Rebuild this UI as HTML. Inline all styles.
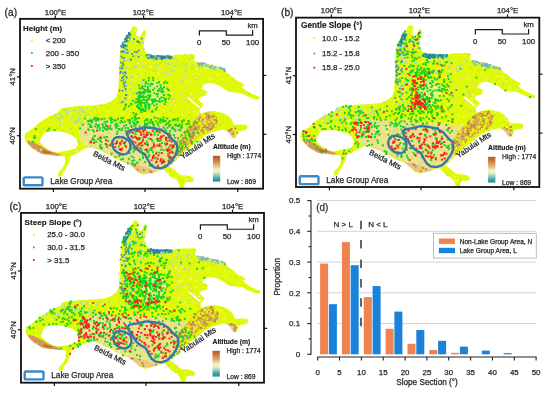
<!DOCTYPE html><html><head><meta charset="utf-8"><style>html,body{margin:0;padding:0;background:#fff;}svg{display:block}</style></head><body><svg width="550" height="394" viewBox="0 0 550 394"><defs><linearGradient id="cbar" x1="0" y1="0" x2="0" y2="1"><stop offset="0" stop-color="#b4581c"/><stop offset="0.22" stop-color="#d08a48"/><stop offset="0.42" stop-color="#ecc88e"/><stop offset="0.52" stop-color="#f8efc4"/><stop offset="0.6" stop-color="#eef4c6"/><stop offset="0.72" stop-color="#a6dac0"/><stop offset="0.86" stop-color="#4aa8a8"/><stop offset="1" stop-color="#1e8a92"/></linearGradient></defs><rect width="550" height="394" fill="#fff"/><g transform="translate(0.00 0.00)"><path d="M134.4,26.3 L137.2,27.6 L137.6,30.5 L136.2,32.5 L136.5,35.0 L138.5,37.0 L141.0,35.5 L142.5,32.0 L144.5,29.7 L145.8,31.5 L145.5,35.0 L144.0,40.3 L143.5,45.4 L144.6,50.5 L147.6,54.6 L152.7,55.6 L160.0,55.9 L171.8,55.9 L175.5,54.8 L193.6,54.3 L195.1,55.9 L193.6,61.0 L199.5,62.5 L203.8,63.3 L210.2,64.5 L216.5,66.4 L224.1,68.3 L226.7,72.8 L231.7,76.0 L236.8,80.4 L243.2,83.6 L244.4,85.5 L241.9,86.7 L245.7,90.5 L253.3,94.4 L259.7,96.9 L258.4,99.4 L253.3,98.8 L245.7,95.6 L241.9,93.1 L235.5,92.5 L227.9,91.8 L224.1,88.6 L219.0,85.5 L214.0,83.6 L208.9,82.9 L203.8,84.2 L201.0,88.8 L206.8,91.0 L206.1,95.4 L201.0,96.8 L198.1,99.0 L201.0,101.9 L203.5,104.0 L201.7,107.0 L199.5,109.5 L200.5,114.0 L207.8,111.6 L213.6,110.9 L222.8,113.0 L228.2,116.0 L231.5,119.0 L232.5,121.8 L234.0,124.8 L241.0,124.5 L246.0,124.7 L247.8,127.0 L245.7,130.0 L238.0,131.3 L236.0,137.8 L233.5,137.5 L232.0,131.5 L228.0,131.3 L222.8,129.5 L216.7,131.0 L210.0,133.0 L204.0,136.2 L196.3,142.8 L190.0,147.5 L185.0,151.5 L180.0,156.0 L176.7,160.0 L173.8,162.5 L169.5,166.5 L174.5,170.0 L178.0,173.5 L181.0,175.2 L186.0,175.5 L191.0,176.5 L193.8,178.5 L193.5,181.5 L190.0,182.2 L186.0,181.8 L184.5,184.0 L184.0,188.0 L180.0,188.0 L178.5,183.0 L176.0,179.5 L171.0,177.0 L167.0,173.0 L165.0,170.5 L162.2,169.5 L156.4,171.2 L149.1,173.4 L143.3,174.8 L137.5,171.9 L134.5,166.8 L128.7,163.9 L122.0,161.5 L114.0,157.5 L105.0,152.8 L98.0,149.5 L93.2,148.0 L88.6,147.5 L85.0,148.6 L80.0,151.5 L74.0,154.8 L70.5,156.2 L69.8,160.0 L67.8,165.0 L65.8,169.0 L63.0,172.0 L62.0,176.3 L58.2,176.6 L58.0,173.0 L62.0,169.0 L64.3,165.0 L65.2,160.0 L64.6,156.6 L62.2,156.2 L58.1,155.8 L50.5,154.5 L42.8,154.2 L39.0,151.0 L32.7,148.9 L30.2,145.7 L26.3,141.9 L24.4,137.9 L25.1,133.5 L30.2,130.3 L35.2,126.5 L39.0,122.7 L44.1,119.5 L49.2,116.3 L58.1,112.5 L61.3,108.5 L66.4,107.3 L79.1,106.0 L91.8,105.4 L104.5,104.1 L110.9,101.5 L116.0,97.7 L117.9,92.6 L118.5,85.0 L119.0,75.0 L119.6,62.0 L119.6,55.9 L121.2,45.1 L124.2,40.3 L126.8,35.2 L128.8,32.2 L131.3,30.2 L131.8,27.6 Z" fill="#dffa04"/><polygon points="41.6,137.0 43.5,133.5 47.0,132.0 53.0,131.3 61.9,131.6 71.1,134.8 76.1,138.5 77.8,142.0 77.7,145.5 75.0,148.8 67.8,150.6 62.3,151.6 58.0,152.6 51.7,151.4 45.0,147.2 39.5,141.7" fill="#fff"/><polygon points="80.0,126.0 92.0,121.0 105.0,120.0 118.0,123.0 130.0,121.0 145.0,124.0 160.0,124.0 176.0,126.0 190.0,128.0 198.0,132.0 190.0,142.0 182.0,150.0 176.0,160.0 170.0,167.0 158.0,170.0 145.0,174.0 137.0,171.0 128.0,163.0 112.0,156.0 98.0,149.0 86.0,146.0 79.0,138.0" fill="#efdca6" opacity="0.85"/><polygon points="175.0,151.0 177.0,141.0 183.0,132.0 191.0,124.0 197.0,117.0 204.0,113.0 212.0,112.5 217.0,117.0 217.0,125.0 211.0,130.0 203.0,134.0 195.0,139.0 188.0,145.0 183.0,151.0 179.0,157.0" fill="#d89a60" opacity="0.85"/><polygon points="226.0,130.0 231.0,128.8 235.0,131.0 234.5,138.5 232.0,137.5 229.0,133.0" fill="#dcaa70" opacity="0.7"/><polygon points="27.5,140.5 33.0,142.0 40.0,145.5 47.0,149.8 55.0,152.8 61.0,154.5 58.0,156.0 50.0,155.0 42.0,154.0 35.0,150.0 30.0,146.0 27.5,143.0" fill="#d49658"/><polygon points="128.0,163.0 138.0,165.0 146.0,167.0 152.0,170.0 158.0,171.0 150.0,173.5 140.0,173.0 133.0,168.0" fill="#e6b47e" opacity="0.6"/><polygon points="146.0,54.8 160.0,55.2 172.0,55.2 172.0,58.3 160.0,59.6 150.0,59.2 146.5,57.0" fill="#4a9ab4" opacity="0.6"/><polygon points="196.0,61.5 204.0,63.0 212.0,64.8 220.0,66.8 224.0,68.6 225.0,71.0 218.0,70.0 208.0,68.0 198.0,66.0" fill="#b0d8c0" opacity="0.45"/><g fill="#6fb4c0"><rect x="208.2" y="65.9" width="1.8" height="1.8"/><rect x="209.8" y="66.2" width="1.8" height="1.8"/><rect x="200.5" y="65.5" width="1.8" height="1.8"/><rect x="213.4" y="68.1" width="1.8" height="1.8"/><rect x="197.8" y="63.5" width="1.8" height="1.8"/><rect x="223.6" y="69.8" width="1.8" height="1.8"/><rect x="214.1" y="66.4" width="1.8" height="1.8"/><rect x="200.6" y="62.9" width="1.8" height="1.8"/><rect x="210.2" y="66.7" width="1.8" height="1.8"/><rect x="209.6" y="66.9" width="1.8" height="1.8"/><rect x="224.0" y="70.1" width="1.8" height="1.8"/><rect x="219.5" y="67.3" width="1.8" height="1.8"/><rect x="204.2" y="62.8" width="1.8" height="1.8"/><rect x="222.9" y="68.6" width="1.8" height="1.8"/><rect x="197.6" y="63.8" width="1.8" height="1.8"/><rect x="223.1" y="67.8" width="1.8" height="1.8"/><rect x="198.5" y="62.9" width="1.8" height="1.8"/><rect x="211.3" y="64.9" width="1.8" height="1.8"/><rect x="198.5" y="64.6" width="1.8" height="1.8"/><rect x="201.3" y="63.2" width="1.8" height="1.8"/><rect x="223.3" y="68.2" width="1.8" height="1.8"/><rect x="201.2" y="64.3" width="1.8" height="1.8"/><rect x="219.9" y="66.7" width="1.8" height="1.8"/><rect x="201.3" y="63.1" width="1.8" height="1.8"/><rect x="205.9" y="64.9" width="1.8" height="1.8"/><rect x="200.4" y="62.1" width="1.8" height="1.8"/><rect x="221.4" y="68.4" width="1.8" height="1.8"/><rect x="202.3" y="62.4" width="1.8" height="1.8"/><rect x="197.1" y="62.8" width="1.8" height="1.8"/><rect x="200.2" y="64.1" width="1.8" height="1.8"/></g><polygon points="121.5,45.5 124.3,40.0 127.0,35.3 129.0,32.5 131.0,35.0 129.0,40.0 126.0,45.0 123.0,49.0" fill="#4a9ab4" opacity="0.35"/><g fill="#1f86a8"><rect x="154.5" y="58.2" width="1.8" height="1.8"/><rect x="170.6" y="57.1" width="1.8" height="1.8"/><rect x="163.1" y="56.7" width="1.8" height="1.8"/><rect x="157.6" y="57.4" width="1.8" height="1.8"/><rect x="147.1" y="56.5" width="1.8" height="1.8"/><rect x="164.3" y="57.3" width="1.8" height="1.8"/><rect x="154.2" y="57.2" width="1.8" height="1.8"/><rect x="155.9" y="57.7" width="1.8" height="1.8"/><rect x="167.6" y="56.6" width="1.8" height="1.8"/><rect x="161.3" y="55.7" width="1.8" height="1.8"/><rect x="160.2" y="56.8" width="1.8" height="1.8"/><rect x="147.2" y="57.0" width="1.8" height="1.8"/><rect x="164.0" y="55.8" width="1.8" height="1.8"/><rect x="164.2" y="56.7" width="1.8" height="1.8"/><rect x="156.6" y="57.9" width="1.8" height="1.8"/><rect x="157.6" y="55.0" width="1.8" height="1.8"/><rect x="163.3" y="56.3" width="1.8" height="1.8"/><rect x="161.1" y="58.3" width="1.8" height="1.8"/><rect x="152.9" y="57.2" width="1.8" height="1.8"/><rect x="150.4" y="54.7" width="1.8" height="1.8"/><rect x="168.6" y="57.1" width="1.8" height="1.8"/><rect x="156.6" y="58.2" width="1.8" height="1.8"/><rect x="153.6" y="57.1" width="1.8" height="1.8"/><rect x="150.3" y="56.0" width="1.8" height="1.8"/><rect x="168.0" y="55.7" width="1.8" height="1.8"/><rect x="160.3" y="55.4" width="1.8" height="1.8"/><rect x="148.6" y="56.3" width="1.8" height="1.8"/><rect x="156.8" y="55.2" width="1.8" height="1.8"/><rect x="150.7" y="55.9" width="1.8" height="1.8"/><rect x="161.4" y="56.3" width="1.8" height="1.8"/><rect x="153.3" y="57.9" width="1.8" height="1.8"/><rect x="170.6" y="56.1" width="1.8" height="1.8"/><rect x="147.0" y="54.1" width="1.8" height="1.8"/><rect x="163.5" y="56.6" width="1.8" height="1.8"/><rect x="153.1" y="57.7" width="1.8" height="1.8"/><rect x="145.6" y="54.6" width="1.8" height="1.8"/><rect x="166.7" y="55.0" width="1.8" height="1.8"/><rect x="148.8" y="54.1" width="1.8" height="1.8"/><rect x="161.5" y="56.0" width="1.8" height="1.8"/><rect x="161.5" y="57.0" width="1.8" height="1.8"/><rect x="152.2" y="55.6" width="1.8" height="1.8"/><rect x="163.2" y="56.4" width="1.8" height="1.8"/><rect x="161.1" y="57.5" width="1.8" height="1.8"/><rect x="155.3" y="57.7" width="1.8" height="1.8"/><rect x="169.3" y="57.4" width="1.8" height="1.8"/><rect x="124.2" y="41.0" width="1.8" height="1.8"/><rect x="126.8" y="35.0" width="1.8" height="1.8"/><rect x="122.6" y="46.4" width="1.8" height="1.8"/><rect x="128.7" y="37.4" width="1.8" height="1.8"/><rect x="128.3" y="32.7" width="1.8" height="1.8"/><rect x="128.2" y="34.5" width="1.8" height="1.8"/><rect x="123.8" y="44.6" width="1.8" height="1.8"/><rect x="123.4" y="43.6" width="1.8" height="1.8"/><rect x="126.7" y="40.2" width="1.8" height="1.8"/><rect x="122.6" y="45.6" width="1.8" height="1.8"/><rect x="126.0" y="34.9" width="1.8" height="1.8"/><rect x="125.7" y="39.9" width="1.8" height="1.8"/><rect x="124.4" y="44.8" width="1.8" height="1.8"/><rect x="125.9" y="39.7" width="1.8" height="1.8"/><rect x="125.7" y="38.4" width="1.8" height="1.8"/><rect x="125.1" y="36.8" width="1.8" height="1.8"/><rect x="122.4" y="41.8" width="1.8" height="1.8"/><rect x="129.4" y="33.7" width="1.8" height="1.8"/><rect x="128.0" y="32.0" width="1.8" height="1.8"/><rect x="127.1" y="36.9" width="1.8" height="1.8"/><rect x="124.0" y="41.8" width="1.8" height="1.8"/><rect x="121.6" y="43.7" width="1.8" height="1.8"/><rect x="125.6" y="38.8" width="1.8" height="1.8"/><rect x="124.2" y="38.4" width="1.8" height="1.8"/><rect x="122.5" y="42.0" width="1.8" height="1.8"/><rect x="126.7" y="40.3" width="1.8" height="1.8"/><rect x="128.7" y="35.4" width="1.8" height="1.8"/><rect x="129.0" y="33.8" width="1.8" height="1.8"/><rect x="122.9" y="43.6" width="1.8" height="1.8"/><rect x="128.1" y="33.7" width="1.8" height="1.8"/><rect x="136.4" y="40.6" width="1.6" height="1.6"/><rect x="133.3" y="38.2" width="1.6" height="1.6"/><rect x="138.7" y="41.8" width="1.6" height="1.6"/><rect x="140.9" y="37.8" width="1.6" height="1.6"/><rect x="137.2" y="41.0" width="1.6" height="1.6"/><rect x="137.2" y="40.6" width="1.6" height="1.6"/></g><polygon points="141.0,88.0 147.0,82.0 154.0,80.0 162.0,83.0 166.0,89.0 164.0,97.0 160.0,104.0 153.0,108.0 146.0,109.0 141.0,100.0" fill="#eef0c4" opacity="0.6"/><g fill="#c4e43c" opacity="0.8"><rect x="153.6" y="108.6" width="1.7" height="1.7"/><rect x="132.0" y="149.0" width="1.7" height="1.7"/><rect x="144.8" y="94.8" width="1.7" height="1.7"/><rect x="198.6" y="90.8" width="1.7" height="1.7"/><rect x="172.2" y="90.7" width="1.7" height="1.7"/><rect x="165.1" y="106.8" width="1.7" height="1.7"/><rect x="204.8" y="90.9" width="1.7" height="1.7"/><rect x="174.4" y="126.2" width="1.7" height="1.7"/><rect x="181.0" y="79.9" width="1.7" height="1.7"/><rect x="179.5" y="117.4" width="1.7" height="1.7"/><rect x="149.1" y="88.3" width="1.7" height="1.7"/><rect x="168.8" y="144.8" width="1.7" height="1.7"/><rect x="153.2" y="107.4" width="1.7" height="1.7"/><rect x="164.6" y="148.1" width="1.7" height="1.7"/><rect x="248.0" y="93.3" width="1.7" height="1.7"/><rect x="147.6" y="122.0" width="1.7" height="1.7"/><rect x="178.4" y="116.0" width="1.7" height="1.7"/><rect x="89.2" y="141.2" width="1.7" height="1.7"/><rect x="124.2" y="102.5" width="1.7" height="1.7"/><rect x="194.6" y="101.0" width="1.7" height="1.7"/><rect x="171.0" y="99.0" width="1.7" height="1.7"/><rect x="127.4" y="133.3" width="1.7" height="1.7"/><rect x="130.5" y="67.6" width="1.7" height="1.7"/><rect x="160.9" y="93.1" width="1.7" height="1.7"/><rect x="207.9" y="111.1" width="1.7" height="1.7"/><rect x="197.4" y="63.8" width="1.7" height="1.7"/><rect x="209.4" y="126.4" width="1.7" height="1.7"/><rect x="185.6" y="116.7" width="1.7" height="1.7"/><rect x="163.2" y="127.7" width="1.7" height="1.7"/><rect x="153.3" y="127.4" width="1.7" height="1.7"/><rect x="110.7" y="102.7" width="1.7" height="1.7"/><rect x="215.4" y="126.2" width="1.7" height="1.7"/><rect x="123.0" y="67.0" width="1.7" height="1.7"/><rect x="99.2" y="114.0" width="1.7" height="1.7"/><rect x="123.8" y="85.0" width="1.7" height="1.7"/><rect x="156.6" y="103.7" width="1.7" height="1.7"/><rect x="185.6" y="73.6" width="1.7" height="1.7"/><rect x="72.3" y="132.4" width="1.7" height="1.7"/><rect x="195.1" y="137.6" width="1.7" height="1.7"/><rect x="107.0" y="142.8" width="1.7" height="1.7"/><rect x="191.4" y="117.4" width="1.7" height="1.7"/><rect x="213.9" y="74.5" width="1.7" height="1.7"/><rect x="67.9" y="116.5" width="1.7" height="1.7"/><rect x="212.4" y="112.7" width="1.7" height="1.7"/><rect x="221.9" y="116.3" width="1.7" height="1.7"/><rect x="151.7" y="117.1" width="1.7" height="1.7"/><rect x="152.4" y="152.8" width="1.7" height="1.7"/><rect x="41.5" y="127.9" width="1.7" height="1.7"/><rect x="176.9" y="64.9" width="1.7" height="1.7"/><rect x="74.1" y="149.1" width="1.7" height="1.7"/><rect x="146.3" y="149.0" width="1.7" height="1.7"/><rect x="139.6" y="112.2" width="1.7" height="1.7"/><rect x="194.2" y="139.9" width="1.7" height="1.7"/><rect x="240.7" y="91.7" width="1.7" height="1.7"/><rect x="146.9" y="140.2" width="1.7" height="1.7"/><rect x="122.1" y="48.8" width="1.7" height="1.7"/><rect x="48.7" y="130.1" width="1.7" height="1.7"/><rect x="77.6" y="141.3" width="1.7" height="1.7"/><rect x="163.9" y="61.4" width="1.7" height="1.7"/><rect x="96.0" y="114.0" width="1.7" height="1.7"/><rect x="137.0" y="61.0" width="1.7" height="1.7"/><rect x="147.8" y="108.7" width="1.7" height="1.7"/><rect x="179.0" y="63.6" width="1.7" height="1.7"/><rect x="110.3" y="154.2" width="1.7" height="1.7"/><rect x="192.3" y="123.3" width="1.7" height="1.7"/><rect x="85.1" y="111.8" width="1.7" height="1.7"/><rect x="136.4" y="101.1" width="1.7" height="1.7"/><rect x="226.9" y="74.3" width="1.7" height="1.7"/><rect x="151.6" y="110.3" width="1.7" height="1.7"/><rect x="133.3" y="141.0" width="1.7" height="1.7"/><rect x="107.5" y="136.5" width="1.7" height="1.7"/><rect x="191.6" y="63.6" width="1.7" height="1.7"/><rect x="156.5" y="99.4" width="1.7" height="1.7"/><rect x="169.0" y="72.2" width="1.7" height="1.7"/><rect x="111.4" y="112.6" width="1.7" height="1.7"/><rect x="115.3" y="133.2" width="1.7" height="1.7"/><rect x="196.7" y="78.5" width="1.7" height="1.7"/><rect x="194.9" y="78.9" width="1.7" height="1.7"/><rect x="183.8" y="139.9" width="1.7" height="1.7"/><rect x="222.0" y="121.2" width="1.7" height="1.7"/><rect x="143.9" y="130.0" width="1.7" height="1.7"/><rect x="117.3" y="138.5" width="1.7" height="1.7"/><rect x="179.6" y="123.7" width="1.7" height="1.7"/><rect x="103.3" y="130.6" width="1.7" height="1.7"/><rect x="143.4" y="152.9" width="1.7" height="1.7"/><rect x="219.2" y="124.2" width="1.7" height="1.7"/><rect x="105.8" y="106.2" width="1.7" height="1.7"/><rect x="171.7" y="57.2" width="1.7" height="1.7"/><rect x="159.5" y="138.1" width="1.7" height="1.7"/><rect x="151.6" y="116.0" width="1.7" height="1.7"/><rect x="155.6" y="68.0" width="1.7" height="1.7"/><rect x="217.4" y="122.6" width="1.7" height="1.7"/><rect x="79.0" y="118.1" width="1.7" height="1.7"/><rect x="179.2" y="75.0" width="1.7" height="1.7"/><rect x="182.2" y="144.7" width="1.7" height="1.7"/><rect x="112.7" y="121.0" width="1.7" height="1.7"/><rect x="145.9" y="67.9" width="1.7" height="1.7"/><rect x="157.5" y="78.9" width="1.7" height="1.7"/><rect x="133.9" y="91.8" width="1.7" height="1.7"/><rect x="170.9" y="136.8" width="1.7" height="1.7"/><rect x="119.3" y="95.5" width="1.7" height="1.7"/><rect x="147.4" y="110.2" width="1.7" height="1.7"/><rect x="196.8" y="121.9" width="1.7" height="1.7"/><rect x="201.6" y="74.5" width="1.7" height="1.7"/><rect x="141.8" y="89.4" width="1.7" height="1.7"/><rect x="33.6" y="137.7" width="1.7" height="1.7"/><rect x="147.4" y="63.9" width="1.7" height="1.7"/><rect x="122.3" y="155.6" width="1.7" height="1.7"/><rect x="95.0" y="105.9" width="1.7" height="1.7"/><rect x="134.6" y="58.6" width="1.7" height="1.7"/><rect x="222.3" y="82.5" width="1.7" height="1.7"/><rect x="134.5" y="53.0" width="1.7" height="1.7"/><rect x="69.6" y="127.6" width="1.7" height="1.7"/><rect x="195.3" y="75.9" width="1.7" height="1.7"/><rect x="188.2" y="177.1" width="1.7" height="1.7"/><rect x="128.0" y="37.9" width="1.7" height="1.7"/><rect x="191.7" y="57.0" width="1.7" height="1.7"/><rect x="180.7" y="153.2" width="1.7" height="1.7"/><rect x="110.6" y="132.4" width="1.7" height="1.7"/><rect x="87.6" y="128.8" width="1.7" height="1.7"/><rect x="126.8" y="110.7" width="1.7" height="1.7"/><rect x="165.1" y="71.2" width="1.7" height="1.7"/><rect x="202.5" y="65.0" width="1.7" height="1.7"/><rect x="88.1" y="113.9" width="1.7" height="1.7"/><rect x="131.9" y="146.7" width="1.7" height="1.7"/><rect x="141.1" y="54.3" width="1.7" height="1.7"/><rect x="154.6" y="129.6" width="1.7" height="1.7"/><rect x="107.5" y="131.8" width="1.7" height="1.7"/><rect x="142.5" y="162.1" width="1.7" height="1.7"/><rect x="185.4" y="109.5" width="1.7" height="1.7"/><rect x="167.1" y="63.3" width="1.7" height="1.7"/><rect x="126.9" y="150.4" width="1.7" height="1.7"/><rect x="74.2" y="119.1" width="1.7" height="1.7"/><rect x="164.4" y="140.9" width="1.7" height="1.7"/><rect x="158.6" y="166.6" width="1.7" height="1.7"/><rect x="125.5" y="96.7" width="1.7" height="1.7"/><rect x="157.7" y="113.2" width="1.7" height="1.7"/><rect x="170.2" y="110.3" width="1.7" height="1.7"/><rect x="84.7" y="120.5" width="1.7" height="1.7"/><rect x="138.6" y="148.5" width="1.7" height="1.7"/><rect x="130.4" y="145.8" width="1.7" height="1.7"/><rect x="153.6" y="64.3" width="1.7" height="1.7"/><rect x="103.5" y="137.7" width="1.7" height="1.7"/><rect x="228.6" y="120.8" width="1.7" height="1.7"/><rect x="112.6" y="151.7" width="1.7" height="1.7"/><rect x="65.2" y="114.2" width="1.7" height="1.7"/><rect x="187.1" y="83.9" width="1.7" height="1.7"/><rect x="192.8" y="68.7" width="1.7" height="1.7"/><rect x="190.7" y="67.3" width="1.7" height="1.7"/><rect x="195.3" y="133.1" width="1.7" height="1.7"/><rect x="88.4" y="140.6" width="1.7" height="1.7"/><rect x="118.4" y="87.8" width="1.7" height="1.7"/><rect x="157.0" y="156.2" width="1.7" height="1.7"/><rect x="181.1" y="179.9" width="1.7" height="1.7"/><rect x="123.8" y="88.7" width="1.7" height="1.7"/><rect x="99.9" y="105.7" width="1.7" height="1.7"/><rect x="117.7" y="102.1" width="1.7" height="1.7"/><rect x="57.3" y="119.5" width="1.7" height="1.7"/><rect x="189.5" y="114.8" width="1.7" height="1.7"/><rect x="161.8" y="101.1" width="1.7" height="1.7"/><rect x="84.0" y="133.4" width="1.7" height="1.7"/><rect x="108.2" y="118.5" width="1.7" height="1.7"/><rect x="171.7" y="125.7" width="1.7" height="1.7"/><rect x="119.8" y="92.5" width="1.7" height="1.7"/><rect x="232.3" y="87.0" width="1.7" height="1.7"/><rect x="184.4" y="63.1" width="1.7" height="1.7"/><rect x="139.6" y="130.5" width="1.7" height="1.7"/><rect x="152.7" y="126.3" width="1.7" height="1.7"/><rect x="155.7" y="159.8" width="1.7" height="1.7"/><rect x="96.4" y="141.1" width="1.7" height="1.7"/><rect x="188.0" y="136.4" width="1.7" height="1.7"/><rect x="59.4" y="125.9" width="1.7" height="1.7"/><rect x="138.9" y="116.5" width="1.7" height="1.7"/><rect x="82.1" y="107.4" width="1.7" height="1.7"/><rect x="193.0" y="65.9" width="1.7" height="1.7"/><rect x="192.9" y="78.1" width="1.7" height="1.7"/><rect x="101.3" y="148.2" width="1.7" height="1.7"/><rect x="157.3" y="93.3" width="1.7" height="1.7"/><rect x="190.8" y="126.1" width="1.7" height="1.7"/><rect x="181.8" y="62.6" width="1.7" height="1.7"/><rect x="186.2" y="93.1" width="1.7" height="1.7"/><rect x="172.7" y="89.4" width="1.7" height="1.7"/><rect x="32.8" y="140.7" width="1.7" height="1.7"/><rect x="89.8" y="143.6" width="1.7" height="1.7"/><rect x="151.4" y="103.4" width="1.7" height="1.7"/><rect x="169.4" y="149.1" width="1.7" height="1.7"/><rect x="187.7" y="113.6" width="1.7" height="1.7"/><rect x="138.3" y="44.6" width="1.7" height="1.7"/><rect x="171.2" y="69.5" width="1.7" height="1.7"/><rect x="137.4" y="92.3" width="1.7" height="1.7"/><rect x="178.8" y="126.1" width="1.7" height="1.7"/><rect x="127.5" y="160.2" width="1.7" height="1.7"/><rect x="107.3" y="147.2" width="1.7" height="1.7"/><rect x="95.6" y="108.5" width="1.7" height="1.7"/><rect x="147.7" y="156.4" width="1.7" height="1.7"/><rect x="117.0" y="155.2" width="1.7" height="1.7"/><rect x="190.4" y="65.7" width="1.7" height="1.7"/><rect x="159.6" y="62.0" width="1.7" height="1.7"/><rect x="108.7" y="128.5" width="1.7" height="1.7"/><rect x="199.5" y="113.6" width="1.7" height="1.7"/><rect x="184.4" y="53.9" width="1.7" height="1.7"/><rect x="98.2" y="147.3" width="1.7" height="1.7"/><rect x="190.6" y="54.0" width="1.7" height="1.7"/><rect x="86.8" y="134.9" width="1.7" height="1.7"/><rect x="173.5" y="86.4" width="1.7" height="1.7"/><rect x="175.7" y="59.5" width="1.7" height="1.7"/><rect x="169.1" y="168.9" width="1.7" height="1.7"/><rect x="226.7" y="127.0" width="1.7" height="1.7"/><rect x="142.3" y="117.1" width="1.7" height="1.7"/><rect x="186.7" y="98.6" width="1.7" height="1.7"/><rect x="180.9" y="93.1" width="1.7" height="1.7"/><rect x="165.3" y="117.9" width="1.7" height="1.7"/><rect x="171.7" y="97.5" width="1.7" height="1.7"/><rect x="163.6" y="121.5" width="1.7" height="1.7"/><rect x="198.3" y="75.9" width="1.7" height="1.7"/><rect x="139.0" y="63.1" width="1.7" height="1.7"/><rect x="130.1" y="112.0" width="1.7" height="1.7"/><rect x="88.3" y="129.4" width="1.7" height="1.7"/><rect x="169.2" y="171.2" width="1.7" height="1.7"/><rect x="70.8" y="127.1" width="1.7" height="1.7"/><rect x="172.3" y="70.3" width="1.7" height="1.7"/><rect x="165.9" y="137.7" width="1.7" height="1.7"/><rect x="187.7" y="100.7" width="1.7" height="1.7"/><rect x="197.9" y="83.5" width="1.7" height="1.7"/><rect x="56.3" y="127.4" width="1.7" height="1.7"/><rect x="123.1" y="158.0" width="1.7" height="1.7"/><rect x="119.3" y="99.2" width="1.7" height="1.7"/><rect x="104.3" y="139.1" width="1.7" height="1.7"/><rect x="77.6" y="119.0" width="1.7" height="1.7"/><rect x="183.6" y="98.8" width="1.7" height="1.7"/><rect x="199.5" y="122.6" width="1.7" height="1.7"/><rect x="128.8" y="35.5" width="1.7" height="1.7"/><rect x="121.7" y="70.7" width="1.7" height="1.7"/><rect x="91.5" y="137.7" width="1.7" height="1.7"/><rect x="182.4" y="64.8" width="1.7" height="1.7"/><rect x="122.1" y="80.5" width="1.7" height="1.7"/><rect x="162.9" y="113.6" width="1.7" height="1.7"/><rect x="111.0" y="142.3" width="1.7" height="1.7"/><rect x="181.8" y="80.9" width="1.7" height="1.7"/><rect x="133.8" y="83.8" width="1.7" height="1.7"/><rect x="132.7" y="76.3" width="1.7" height="1.7"/><rect x="182.2" y="123.2" width="1.7" height="1.7"/><rect x="117.5" y="131.4" width="1.7" height="1.7"/><rect x="61.2" y="130.3" width="1.7" height="1.7"/><rect x="170.7" y="145.4" width="1.7" height="1.7"/><rect x="149.8" y="111.6" width="1.7" height="1.7"/><rect x="47.8" y="153.0" width="1.7" height="1.7"/><rect x="93.5" y="107.3" width="1.7" height="1.7"/><rect x="51.1" y="117.1" width="1.7" height="1.7"/><rect x="144.1" y="72.8" width="1.7" height="1.7"/><rect x="207.7" y="65.1" width="1.7" height="1.7"/><rect x="155.1" y="99.6" width="1.7" height="1.7"/><rect x="118.7" y="124.3" width="1.7" height="1.7"/><rect x="58.7" y="111.2" width="1.7" height="1.7"/><rect x="100.1" y="104.4" width="1.7" height="1.7"/><rect x="141.4" y="171.6" width="1.7" height="1.7"/><rect x="198.6" y="67.0" width="1.7" height="1.7"/><rect x="135.6" y="83.2" width="1.7" height="1.7"/><rect x="124.5" y="98.2" width="1.7" height="1.7"/><rect x="152.6" y="89.9" width="1.7" height="1.7"/></g><g fill="#f4f8a0" opacity="0.8"><rect x="137.3" y="62.5" width="1.7" height="1.7"/><rect x="201.0" y="104.1" width="1.7" height="1.7"/><rect x="108.9" y="122.0" width="1.7" height="1.7"/><rect x="167.4" y="120.6" width="1.7" height="1.7"/><rect x="96.8" y="105.8" width="1.7" height="1.7"/><rect x="145.0" y="147.3" width="1.7" height="1.7"/><rect x="227.6" y="90.3" width="1.7" height="1.7"/><rect x="89.7" y="135.3" width="1.7" height="1.7"/><rect x="220.7" y="78.3" width="1.7" height="1.7"/><rect x="210.3" y="129.2" width="1.7" height="1.7"/><rect x="34.8" y="148.9" width="1.7" height="1.7"/><rect x="198.0" y="92.9" width="1.7" height="1.7"/><rect x="128.6" y="95.9" width="1.7" height="1.7"/><rect x="181.0" y="113.9" width="1.7" height="1.7"/><rect x="149.9" y="161.1" width="1.7" height="1.7"/><rect x="134.5" y="30.2" width="1.7" height="1.7"/><rect x="124.8" y="86.3" width="1.7" height="1.7"/><rect x="183.0" y="175.5" width="1.7" height="1.7"/><rect x="139.6" y="136.9" width="1.7" height="1.7"/><rect x="114.3" y="151.3" width="1.7" height="1.7"/><rect x="61.1" y="120.1" width="1.7" height="1.7"/><rect x="163.1" y="109.4" width="1.7" height="1.7"/><rect x="114.4" y="118.2" width="1.7" height="1.7"/><rect x="223.3" y="83.2" width="1.7" height="1.7"/><rect x="161.3" y="103.0" width="1.7" height="1.7"/><rect x="188.5" y="63.0" width="1.7" height="1.7"/><rect x="83.9" y="143.5" width="1.7" height="1.7"/><rect x="159.1" y="66.8" width="1.7" height="1.7"/><rect x="111.8" y="141.2" width="1.7" height="1.7"/><rect x="125.0" y="125.2" width="1.7" height="1.7"/><rect x="138.0" y="62.6" width="1.7" height="1.7"/><rect x="29.6" y="138.3" width="1.7" height="1.7"/><rect x="157.5" y="114.5" width="1.7" height="1.7"/><rect x="69.0" y="111.8" width="1.7" height="1.7"/><rect x="204.7" y="119.5" width="1.7" height="1.7"/><rect x="186.6" y="84.1" width="1.7" height="1.7"/><rect x="195.6" y="68.0" width="1.7" height="1.7"/><rect x="150.1" y="66.2" width="1.7" height="1.7"/><rect x="87.8" y="107.6" width="1.7" height="1.7"/><rect x="167.4" y="113.2" width="1.7" height="1.7"/><rect x="197.3" y="111.7" width="1.7" height="1.7"/><rect x="179.5" y="174.1" width="1.7" height="1.7"/><rect x="207.2" y="67.2" width="1.7" height="1.7"/><rect x="108.2" y="152.7" width="1.7" height="1.7"/><rect x="110.1" y="143.3" width="1.7" height="1.7"/><rect x="157.0" y="81.6" width="1.7" height="1.7"/><rect x="147.6" y="55.1" width="1.7" height="1.7"/><rect x="147.6" y="82.5" width="1.7" height="1.7"/><rect x="140.9" y="57.1" width="1.7" height="1.7"/><rect x="190.4" y="92.7" width="1.7" height="1.7"/><rect x="137.8" y="37.9" width="1.7" height="1.7"/><rect x="138.0" y="115.5" width="1.7" height="1.7"/><rect x="101.7" y="138.9" width="1.7" height="1.7"/><rect x="162.9" y="136.2" width="1.7" height="1.7"/><rect x="168.2" y="124.5" width="1.7" height="1.7"/><rect x="145.9" y="119.1" width="1.7" height="1.7"/><rect x="84.1" y="120.0" width="1.7" height="1.7"/><rect x="147.4" y="79.5" width="1.7" height="1.7"/><rect x="183.1" y="98.8" width="1.7" height="1.7"/><rect x="209.2" y="79.1" width="1.7" height="1.7"/><rect x="78.3" y="131.2" width="1.7" height="1.7"/><rect x="83.6" y="109.8" width="1.7" height="1.7"/><rect x="195.5" y="134.4" width="1.7" height="1.7"/><rect x="210.8" y="112.6" width="1.7" height="1.7"/><rect x="40.0" y="148.8" width="1.7" height="1.7"/><rect x="163.5" y="145.3" width="1.7" height="1.7"/><rect x="135.4" y="157.7" width="1.7" height="1.7"/><rect x="150.8" y="117.1" width="1.7" height="1.7"/><rect x="157.6" y="72.8" width="1.7" height="1.7"/><rect x="131.5" y="122.9" width="1.7" height="1.7"/><rect x="204.2" y="90.0" width="1.7" height="1.7"/><rect x="141.0" y="130.9" width="1.7" height="1.7"/><rect x="132.8" y="54.7" width="1.7" height="1.7"/><rect x="169.7" y="85.0" width="1.7" height="1.7"/><rect x="134.7" y="126.2" width="1.7" height="1.7"/><rect x="121.2" y="112.6" width="1.7" height="1.7"/><rect x="131.6" y="79.0" width="1.7" height="1.7"/><rect x="194.8" y="63.2" width="1.7" height="1.7"/><rect x="104.5" y="115.8" width="1.7" height="1.7"/><rect x="144.6" y="86.5" width="1.7" height="1.7"/><rect x="85.7" y="118.2" width="1.7" height="1.7"/><rect x="172.8" y="100.0" width="1.7" height="1.7"/><rect x="136.8" y="129.0" width="1.7" height="1.7"/><rect x="127.4" y="38.9" width="1.7" height="1.7"/><rect x="142.1" y="94.2" width="1.7" height="1.7"/><rect x="138.7" y="103.3" width="1.7" height="1.7"/><rect x="141.9" y="80.6" width="1.7" height="1.7"/><rect x="216.7" y="74.3" width="1.7" height="1.7"/><rect x="167.7" y="172.7" width="1.7" height="1.7"/><rect x="36.6" y="133.2" width="1.7" height="1.7"/><rect x="230.3" y="75.5" width="1.7" height="1.7"/><rect x="174.5" y="104.8" width="1.7" height="1.7"/><rect x="178.0" y="150.7" width="1.7" height="1.7"/><rect x="187.8" y="108.7" width="1.7" height="1.7"/><rect x="66.1" y="130.1" width="1.7" height="1.7"/><rect x="185.9" y="177.8" width="1.7" height="1.7"/><rect x="146.6" y="104.2" width="1.7" height="1.7"/><rect x="149.7" y="101.8" width="1.7" height="1.7"/><rect x="199.9" y="65.6" width="1.7" height="1.7"/><rect x="69.0" y="119.2" width="1.7" height="1.7"/><rect x="106.4" y="110.5" width="1.7" height="1.7"/><rect x="120.6" y="91.0" width="1.7" height="1.7"/><rect x="125.1" y="136.2" width="1.7" height="1.7"/><rect x="204.1" y="115.1" width="1.7" height="1.7"/><rect x="175.0" y="177.2" width="1.7" height="1.7"/><rect x="147.8" y="55.8" width="1.7" height="1.7"/><rect x="57.2" y="114.5" width="1.7" height="1.7"/><rect x="86.6" y="141.7" width="1.7" height="1.7"/><rect x="195.6" y="76.9" width="1.7" height="1.7"/><rect x="205.2" y="130.1" width="1.7" height="1.7"/><rect x="190.6" y="99.1" width="1.7" height="1.7"/><rect x="124.9" y="42.4" width="1.7" height="1.7"/><rect x="187.8" y="96.0" width="1.7" height="1.7"/><rect x="158.7" y="145.7" width="1.7" height="1.7"/><rect x="117.9" y="130.4" width="1.7" height="1.7"/><rect x="184.7" y="124.9" width="1.7" height="1.7"/><rect x="32.3" y="140.3" width="1.7" height="1.7"/><rect x="134.8" y="27.9" width="1.7" height="1.7"/><rect x="133.6" y="42.3" width="1.7" height="1.7"/><rect x="137.9" y="120.4" width="1.7" height="1.7"/><rect x="143.3" y="91.6" width="1.7" height="1.7"/><rect x="191.1" y="97.8" width="1.7" height="1.7"/><rect x="129.9" y="76.3" width="1.7" height="1.7"/><rect x="170.9" y="91.8" width="1.7" height="1.7"/><rect x="130.4" y="101.9" width="1.7" height="1.7"/><rect x="117.5" y="133.9" width="1.7" height="1.7"/><rect x="199.0" y="73.1" width="1.7" height="1.7"/><rect x="178.5" y="133.5" width="1.7" height="1.7"/><rect x="125.6" y="131.0" width="1.7" height="1.7"/><rect x="75.4" y="149.9" width="1.7" height="1.7"/><rect x="103.2" y="140.4" width="1.7" height="1.7"/><rect x="205.1" y="67.2" width="1.7" height="1.7"/><rect x="168.4" y="60.9" width="1.7" height="1.7"/><rect x="115.1" y="120.8" width="1.7" height="1.7"/><rect x="200.3" y="118.9" width="1.7" height="1.7"/><rect x="81.5" y="139.4" width="1.7" height="1.7"/><rect x="155.9" y="113.3" width="1.7" height="1.7"/><rect x="208.5" y="77.8" width="1.7" height="1.7"/><rect x="87.0" y="117.0" width="1.7" height="1.7"/><rect x="147.9" y="105.4" width="1.7" height="1.7"/><rect x="61.2" y="126.5" width="1.7" height="1.7"/><rect x="235.6" y="132.6" width="1.7" height="1.7"/><rect x="122.0" y="48.7" width="1.7" height="1.7"/><rect x="166.6" y="99.7" width="1.7" height="1.7"/><rect x="105.8" y="148.1" width="1.7" height="1.7"/><rect x="187.2" y="137.0" width="1.7" height="1.7"/><rect x="111.0" y="131.6" width="1.7" height="1.7"/><rect x="189.0" y="79.8" width="1.7" height="1.7"/><rect x="134.9" y="76.0" width="1.7" height="1.7"/><rect x="127.2" y="156.7" width="1.7" height="1.7"/><rect x="157.9" y="123.9" width="1.7" height="1.7"/><rect x="74.6" y="125.5" width="1.7" height="1.7"/><rect x="124.6" y="159.2" width="1.7" height="1.7"/><rect x="190.7" y="60.2" width="1.7" height="1.7"/><rect x="32.5" y="137.9" width="1.7" height="1.7"/><rect x="151.5" y="119.6" width="1.7" height="1.7"/><rect x="165.2" y="164.8" width="1.7" height="1.7"/><rect x="26.2" y="138.1" width="1.7" height="1.7"/><rect x="181.2" y="137.8" width="1.7" height="1.7"/><rect x="90.5" y="116.1" width="1.7" height="1.7"/></g><line x1="188" y1="98" x2="199.5" y2="107.5" stroke="#fff" stroke-width="1.6"/><g fill="#3a8fb0"><rect x="121.0" y="65.7" width="1.7" height="1.7"/><rect x="120.1" y="61.7" width="1.7" height="1.7"/><rect x="120.2" y="45.1" width="1.7" height="1.7"/><rect x="120.6" y="79.7" width="1.7" height="1.7"/><rect x="120.3" y="50.9" width="1.7" height="1.7"/><rect x="124.9" y="72.3" width="1.7" height="1.7"/><rect x="122.2" y="62.9" width="1.7" height="1.7"/><rect x="125.2" y="89.4" width="1.7" height="1.7"/><rect x="123.1" y="83.7" width="1.7" height="1.7"/><rect x="123.7" y="74.2" width="1.7" height="1.7"/><rect x="121.5" y="67.6" width="1.7" height="1.7"/><rect x="122.2" y="72.3" width="1.7" height="1.7"/><rect x="122.4" y="76.1" width="1.7" height="1.7"/><rect x="124.5" y="97.7" width="1.7" height="1.7"/><rect x="120.6" y="46.1" width="1.7" height="1.7"/><rect x="124.5" y="81.4" width="1.7" height="1.7"/><rect x="120.4" y="55.6" width="1.7" height="1.7"/><rect x="125.1" y="94.3" width="1.7" height="1.7"/><rect x="123.6" y="85.7" width="1.7" height="1.7"/><rect x="124.1" y="71.4" width="1.7" height="1.7"/><rect x="121.3" y="77.3" width="1.7" height="1.7"/><rect x="125.2" y="103.6" width="1.7" height="1.7"/><rect x="125.5" y="94.3" width="1.7" height="1.7"/><rect x="125.9" y="76.8" width="1.7" height="1.7"/><rect x="122.3" y="62.7" width="1.7" height="1.7"/><rect x="125.0" y="75.2" width="1.7" height="1.7"/><rect x="126.1" y="48.7" width="1.7" height="1.7"/><rect x="126.1" y="45.0" width="1.7" height="1.7"/><rect x="119.3" y="67.5" width="1.7" height="1.7"/><rect x="123.3" y="50.8" width="1.7" height="1.7"/><rect x="122.6" y="100.5" width="1.7" height="1.7"/><rect x="121.6" y="89.9" width="1.7" height="1.7"/><rect x="122.9" y="79.1" width="1.7" height="1.7"/><rect x="119.5" y="72.0" width="1.7" height="1.7"/><rect x="125.4" y="84.6" width="1.7" height="1.7"/><rect x="119.9" y="71.0" width="1.7" height="1.7"/><rect x="122.5" y="64.4" width="1.7" height="1.7"/><rect x="122.8" y="82.0" width="1.7" height="1.7"/><rect x="123.4" y="57.0" width="1.7" height="1.7"/><rect x="118.7" y="89.9" width="1.7" height="1.7"/><rect x="120.8" y="101.6" width="1.7" height="1.7"/><rect x="122.6" y="50.2" width="1.7" height="1.7"/><rect x="123.2" y="59.9" width="1.7" height="1.7"/><rect x="124.7" y="87.6" width="1.7" height="1.7"/><rect x="124.2" y="47.6" width="1.7" height="1.7"/><rect x="121.8" y="57.1" width="1.7" height="1.7"/><rect x="123.7" y="51.2" width="1.7" height="1.7"/><rect x="121.7" y="50.8" width="1.7" height="1.7"/><rect x="129.7" y="58.7" width="1.7" height="1.7"/><rect x="126.9" y="51.7" width="1.7" height="1.7"/><rect x="136.1" y="51.0" width="1.7" height="1.7"/><rect x="132.6" y="55.3" width="1.7" height="1.7"/><rect x="138.0" y="49.6" width="1.7" height="1.7"/><rect x="131.3" y="53.0" width="1.7" height="1.7"/><rect x="136.0" y="51.7" width="1.7" height="1.7"/><rect x="134.0" y="51.0" width="1.7" height="1.7"/><rect x="130.1" y="58.8" width="1.7" height="1.7"/><rect x="125.5" y="51.9" width="1.7" height="1.7"/><rect x="137.7" y="55.9" width="1.7" height="1.7"/><rect x="122.3" y="51.0" width="1.7" height="1.7"/></g><g fill="#a9d6d2"><rect x="126.6" y="59.4" width="1.8" height="1.8"/><rect x="140.5" y="88.1" width="1.8" height="1.8"/><rect x="143.6" y="86.0" width="1.8" height="1.8"/><rect x="135.5" y="65.9" width="1.8" height="1.8"/><rect x="137.6" y="73.6" width="1.8" height="1.8"/><rect x="122.5" y="73.5" width="1.8" height="1.8"/><rect x="129.9" y="76.3" width="1.8" height="1.8"/><rect x="143.7" y="65.1" width="1.8" height="1.8"/><rect x="128.7" y="49.5" width="1.8" height="1.8"/><rect x="134.7" y="103.1" width="1.8" height="1.8"/><rect x="125.2" y="74.1" width="1.8" height="1.8"/><rect x="132.6" y="92.7" width="1.8" height="1.8"/><rect x="134.1" y="55.8" width="1.8" height="1.8"/><rect x="125.5" y="89.8" width="1.8" height="1.8"/><rect x="122.9" y="99.6" width="1.8" height="1.8"/><rect x="121.9" y="52.4" width="1.8" height="1.8"/><rect x="131.9" y="98.2" width="1.8" height="1.8"/><rect x="135.4" y="91.3" width="1.8" height="1.8"/><rect x="138.6" y="89.7" width="1.8" height="1.8"/><rect x="122.3" y="96.9" width="1.8" height="1.8"/><rect x="124.5" y="50.5" width="1.8" height="1.8"/><rect x="141.3" y="65.8" width="1.8" height="1.8"/><rect x="123.1" y="42.4" width="1.8" height="1.8"/><rect x="140.6" y="81.2" width="1.8" height="1.8"/><rect x="142.2" y="41.7" width="1.8" height="1.8"/><rect x="123.7" y="59.2" width="1.8" height="1.8"/><rect x="125.5" y="47.0" width="1.8" height="1.8"/><rect x="125.7" y="83.9" width="1.8" height="1.8"/><rect x="125.0" y="50.9" width="1.8" height="1.8"/><rect x="133.4" y="65.4" width="1.8" height="1.8"/><rect x="124.5" y="78.9" width="1.8" height="1.8"/><rect x="132.8" y="66.3" width="1.8" height="1.8"/><rect x="132.0" y="41.9" width="1.8" height="1.8"/><rect x="135.2" y="52.6" width="1.8" height="1.8"/><rect x="128.8" y="39.8" width="1.8" height="1.8"/><rect x="141.5" y="80.2" width="1.8" height="1.8"/><rect x="130.1" y="77.0" width="1.8" height="1.8"/><rect x="142.7" y="48.3" width="1.8" height="1.8"/><rect x="129.9" y="88.7" width="1.8" height="1.8"/><rect x="129.7" y="88.6" width="1.8" height="1.8"/><rect x="142.0" y="42.0" width="1.8" height="1.8"/><rect x="127.6" y="59.6" width="1.8" height="1.8"/><rect x="138.4" y="94.0" width="1.8" height="1.8"/><rect x="137.2" y="103.8" width="1.8" height="1.8"/><rect x="125.4" y="66.6" width="1.8" height="1.8"/><rect x="140.7" y="92.7" width="1.8" height="1.8"/><rect x="123.7" y="107.7" width="1.8" height="1.8"/><rect x="138.1" y="99.7" width="1.8" height="1.8"/><rect x="129.4" y="81.5" width="1.8" height="1.8"/><rect x="143.2" y="102.0" width="1.8" height="1.8"/><rect x="75.8" y="121.3" width="1.8" height="1.8"/><rect x="99.0" y="120.5" width="1.8" height="1.8"/><rect x="80.2" y="122.5" width="1.8" height="1.8"/><rect x="75.1" y="109.2" width="1.8" height="1.8"/><rect x="87.0" y="108.1" width="1.8" height="1.8"/><rect x="78.7" y="111.6" width="1.8" height="1.8"/><rect x="61.9" y="116.8" width="1.8" height="1.8"/><rect x="54.6" y="114.3" width="1.8" height="1.8"/><rect x="91.2" y="122.9" width="1.8" height="1.8"/><rect x="58.5" y="112.9" width="1.8" height="1.8"/><rect x="82.3" y="110.1" width="1.8" height="1.8"/><rect x="90.8" y="110.3" width="1.8" height="1.8"/><rect x="74.7" y="112.5" width="1.8" height="1.8"/><rect x="59.2" y="123.0" width="1.8" height="1.8"/><rect x="79.2" y="108.1" width="1.8" height="1.8"/><rect x="83.5" y="110.8" width="1.8" height="1.8"/><rect x="70.6" y="118.7" width="1.8" height="1.8"/><rect x="91.2" y="122.1" width="1.8" height="1.8"/><rect x="67.3" y="112.2" width="1.8" height="1.8"/><rect x="66.0" y="112.1" width="1.8" height="1.8"/><rect x="84.9" y="114.5" width="1.8" height="1.8"/><rect x="81.8" y="109.5" width="1.8" height="1.8"/><rect x="87.2" y="122.6" width="1.8" height="1.8"/><rect x="55.3" y="117.0" width="1.8" height="1.8"/><rect x="66.9" y="110.0" width="1.8" height="1.8"/><rect x="84.3" y="116.3" width="1.8" height="1.8"/><rect x="81.2" y="122.6" width="1.8" height="1.8"/><rect x="89.4" y="118.0" width="1.8" height="1.8"/><rect x="74.2" y="120.8" width="1.8" height="1.8"/><rect x="64.6" y="108.9" width="1.8" height="1.8"/><rect x="79.4" y="107.5" width="1.8" height="1.8"/><rect x="73.3" y="109.1" width="1.8" height="1.8"/><rect x="77.3" y="120.3" width="1.8" height="1.8"/><rect x="63.0" y="109.0" width="1.8" height="1.8"/><rect x="81.0" y="118.8" width="1.8" height="1.8"/><rect x="92.7" y="116.0" width="1.8" height="1.8"/><rect x="76.1" y="120.9" width="1.8" height="1.8"/><rect x="81.3" y="122.7" width="1.8" height="1.8"/><rect x="59.9" y="119.5" width="1.8" height="1.8"/><rect x="78.9" y="114.6" width="1.8" height="1.8"/><rect x="58.6" y="116.7" width="1.8" height="1.8"/><rect x="72.1" y="115.3" width="1.8" height="1.8"/><rect x="77.5" y="118.0" width="1.8" height="1.8"/><rect x="98.6" y="119.8" width="1.8" height="1.8"/><rect x="60.1" y="114.4" width="1.8" height="1.8"/><rect x="169.3" y="70.8" width="1.8" height="1.8"/><rect x="164.9" y="72.8" width="1.8" height="1.8"/><rect x="168.5" y="63.9" width="1.8" height="1.8"/><rect x="168.3" y="63.2" width="1.8" height="1.8"/><rect x="189.1" y="57.9" width="1.8" height="1.8"/><rect x="165.1" y="58.5" width="1.8" height="1.8"/><rect x="176.2" y="59.7" width="1.8" height="1.8"/><rect x="155.1" y="64.3" width="1.8" height="1.8"/><rect x="173.2" y="70.1" width="1.8" height="1.8"/><rect x="166.9" y="62.1" width="1.8" height="1.8"/><rect x="163.8" y="72.2" width="1.8" height="1.8"/><rect x="157.6" y="57.3" width="1.8" height="1.8"/><rect x="184.5" y="65.3" width="1.8" height="1.8"/><rect x="154.4" y="59.4" width="1.8" height="1.8"/><rect x="184.7" y="69.8" width="1.8" height="1.8"/><rect x="151.7" y="68.6" width="1.8" height="1.8"/><rect x="157.7" y="64.7" width="1.8" height="1.8"/><rect x="173.3" y="58.0" width="1.8" height="1.8"/><rect x="186.5" y="62.8" width="1.8" height="1.8"/><rect x="154.9" y="70.4" width="1.8" height="1.8"/><rect x="153.5" y="57.7" width="1.8" height="1.8"/><rect x="175.2" y="65.1" width="1.8" height="1.8"/><rect x="185.1" y="70.5" width="1.8" height="1.8"/><rect x="157.4" y="57.9" width="1.8" height="1.8"/><rect x="173.2" y="65.1" width="1.8" height="1.8"/></g><g fill="#c07a40"><rect x="182.9" y="140.2" width="1.8" height="1.8"/><rect x="177.2" y="152.7" width="1.8" height="1.8"/><rect x="180.0" y="135.9" width="1.8" height="1.8"/><rect x="184.5" y="136.2" width="1.8" height="1.8"/><rect x="188.2" y="130.3" width="1.8" height="1.8"/><rect x="201.2" y="127.8" width="1.8" height="1.8"/><rect x="179.5" y="142.9" width="1.8" height="1.8"/><rect x="191.2" y="140.5" width="1.8" height="1.8"/><rect x="189.8" y="129.9" width="1.8" height="1.8"/><rect x="189.5" y="140.4" width="1.8" height="1.8"/><rect x="188.9" y="127.3" width="1.8" height="1.8"/><rect x="190.3" y="140.2" width="1.8" height="1.8"/><rect x="178.3" y="147.1" width="1.8" height="1.8"/><rect x="212.8" y="125.1" width="1.8" height="1.8"/><rect x="180.1" y="140.0" width="1.8" height="1.8"/><rect x="211.6" y="115.3" width="1.8" height="1.8"/><rect x="184.8" y="145.4" width="1.8" height="1.8"/><rect x="188.9" y="132.7" width="1.8" height="1.8"/><rect x="191.9" y="124.0" width="1.8" height="1.8"/><rect x="204.7" y="112.9" width="1.8" height="1.8"/><rect x="199.2" y="125.8" width="1.8" height="1.8"/><rect x="179.4" y="147.5" width="1.8" height="1.8"/><rect x="202.2" y="118.6" width="1.8" height="1.8"/><rect x="196.4" y="130.0" width="1.8" height="1.8"/><rect x="214.4" y="125.4" width="1.8" height="1.8"/><rect x="192.5" y="132.3" width="1.8" height="1.8"/><rect x="197.8" y="124.0" width="1.8" height="1.8"/><rect x="206.8" y="126.4" width="1.8" height="1.8"/><rect x="178.0" y="150.9" width="1.8" height="1.8"/><rect x="202.1" y="130.0" width="1.8" height="1.8"/><rect x="196.0" y="120.6" width="1.8" height="1.8"/><rect x="193.5" y="123.0" width="1.8" height="1.8"/><rect x="202.5" y="116.3" width="1.8" height="1.8"/><rect x="209.2" y="128.5" width="1.8" height="1.8"/><rect x="180.8" y="148.4" width="1.8" height="1.8"/><rect x="215.1" y="119.5" width="1.8" height="1.8"/><rect x="213.5" y="120.9" width="1.8" height="1.8"/><rect x="184.2" y="140.5" width="1.8" height="1.8"/><rect x="192.5" y="131.9" width="1.8" height="1.8"/><rect x="193.8" y="128.1" width="1.8" height="1.8"/><rect x="204.0" y="126.1" width="1.8" height="1.8"/><rect x="197.9" y="118.1" width="1.8" height="1.8"/><rect x="189.6" y="125.4" width="1.8" height="1.8"/><rect x="179.9" y="137.9" width="1.8" height="1.8"/><rect x="209.3" y="128.6" width="1.8" height="1.8"/><rect x="183.8" y="143.8" width="1.8" height="1.8"/><rect x="207.3" y="115.3" width="1.8" height="1.8"/><rect x="186.8" y="131.7" width="1.8" height="1.8"/><rect x="189.0" y="132.6" width="1.8" height="1.8"/><rect x="207.4" y="123.2" width="1.8" height="1.8"/><rect x="213.5" y="119.2" width="1.8" height="1.8"/><rect x="215.7" y="120.5" width="1.8" height="1.8"/><rect x="207.9" y="117.0" width="1.8" height="1.8"/><rect x="186.8" y="131.3" width="1.8" height="1.8"/><rect x="186.4" y="130.2" width="1.8" height="1.8"/><rect x="208.5" y="114.8" width="1.8" height="1.8"/><rect x="184.4" y="144.1" width="1.8" height="1.8"/><rect x="191.4" y="135.9" width="1.8" height="1.8"/><rect x="190.9" y="136.7" width="1.8" height="1.8"/><rect x="202.4" y="126.5" width="1.8" height="1.8"/><rect x="194.7" y="128.4" width="1.8" height="1.8"/><rect x="211.0" y="127.6" width="1.8" height="1.8"/><rect x="192.7" y="135.0" width="1.8" height="1.8"/><rect x="194.8" y="126.9" width="1.8" height="1.8"/><rect x="202.4" y="132.1" width="1.8" height="1.8"/><rect x="210.1" y="113.9" width="1.8" height="1.8"/><rect x="181.0" y="136.7" width="1.8" height="1.8"/><rect x="180.2" y="145.1" width="1.8" height="1.8"/><rect x="206.7" y="123.8" width="1.8" height="1.8"/><rect x="177.5" y="143.2" width="1.8" height="1.8"/><rect x="234.4" y="127.6" width="1.8" height="1.8"/><rect x="236.4" y="131.9" width="1.8" height="1.8"/><rect x="230.5" y="128.0" width="1.8" height="1.8"/><rect x="228.2" y="130.1" width="1.8" height="1.8"/><rect x="229.4" y="129.3" width="1.8" height="1.8"/><rect x="231.7" y="132.9" width="1.8" height="1.8"/><rect x="134.2" y="164.6" width="1.8" height="1.8"/><rect x="150.7" y="171.5" width="1.8" height="1.8"/><rect x="149.5" y="170.2" width="1.8" height="1.8"/><rect x="142.9" y="169.1" width="1.8" height="1.8"/><rect x="136.8" y="168.8" width="1.8" height="1.8"/><rect x="133.4" y="164.5" width="1.8" height="1.8"/></g><polygon points="42,150 46,151 52,152.6 50,153.8 44,153" fill="#b86a30"/><g fill="#dffa04"><rect x="209.2" y="113.4" width="2.0" height="2.0"/><rect x="176.6" y="144.0" width="2.0" height="2.0"/><rect x="203.1" y="127.9" width="2.0" height="2.0"/><rect x="200.9" y="114.5" width="2.0" height="2.0"/><rect x="182.6" y="131.6" width="2.0" height="2.0"/><rect x="190.7" y="122.4" width="2.0" height="2.0"/><rect x="174.9" y="150.1" width="2.0" height="2.0"/><rect x="199.8" y="127.3" width="2.0" height="2.0"/><rect x="201.9" y="113.9" width="2.0" height="2.0"/><rect x="190.6" y="123.7" width="2.0" height="2.0"/><rect x="203.0" y="115.8" width="2.0" height="2.0"/><rect x="186.8" y="129.1" width="2.0" height="2.0"/><rect x="179.2" y="138.1" width="2.0" height="2.0"/><rect x="182.2" y="135.1" width="2.0" height="2.0"/><rect x="186.2" y="133.2" width="2.0" height="2.0"/><rect x="196.0" y="123.3" width="2.0" height="2.0"/><rect x="180.6" y="136.7" width="2.0" height="2.0"/><rect x="195.4" y="123.5" width="2.0" height="2.0"/><rect x="176.9" y="141.3" width="2.0" height="2.0"/><rect x="186.7" y="138.5" width="2.0" height="2.0"/><rect x="187.4" y="141.1" width="2.0" height="2.0"/><rect x="177.8" y="137.4" width="2.0" height="2.0"/><rect x="213.8" y="117.1" width="2.0" height="2.0"/><rect x="176.6" y="151.0" width="2.0" height="2.0"/><rect x="203.4" y="113.2" width="2.0" height="2.0"/><rect x="202.5" y="116.7" width="2.0" height="2.0"/><rect x="198.3" y="129.9" width="2.0" height="2.0"/><rect x="196.1" y="123.8" width="2.0" height="2.0"/><rect x="214.1" y="124.7" width="2.0" height="2.0"/><rect x="194.7" y="130.2" width="2.0" height="2.0"/><rect x="196.4" y="116.1" width="2.0" height="2.0"/><rect x="210.7" y="113.7" width="2.0" height="2.0"/><rect x="203.5" y="121.8" width="2.0" height="2.0"/><rect x="204.5" y="122.4" width="2.0" height="2.0"/><rect x="175.8" y="150.7" width="2.0" height="2.0"/><rect x="192.2" y="138.9" width="2.0" height="2.0"/><rect x="201.6" y="115.8" width="2.0" height="2.0"/><rect x="184.3" y="129.0" width="2.0" height="2.0"/><rect x="197.3" y="135.4" width="2.0" height="2.0"/><rect x="203.2" y="121.4" width="2.0" height="2.0"/><rect x="182.4" y="132.9" width="2.0" height="2.0"/><rect x="185.8" y="136.1" width="2.0" height="2.0"/><rect x="177.8" y="142.4" width="2.0" height="2.0"/><rect x="179.1" y="153.1" width="2.0" height="2.0"/><rect x="181.1" y="143.8" width="2.0" height="2.0"/><rect x="213.6" y="120.8" width="2.0" height="2.0"/><rect x="177.5" y="147.3" width="2.0" height="2.0"/><rect x="199.5" y="132.7" width="2.0" height="2.0"/><rect x="178.8" y="140.1" width="2.0" height="2.0"/><rect x="175.2" y="150.1" width="2.0" height="2.0"/><rect x="207.8" y="121.1" width="2.0" height="2.0"/><rect x="215.4" y="124.4" width="2.0" height="2.0"/><rect x="185.4" y="138.9" width="2.0" height="2.0"/><rect x="176.7" y="141.6" width="2.0" height="2.0"/><rect x="180.1" y="136.8" width="2.0" height="2.0"/><rect x="197.5" y="129.7" width="2.0" height="2.0"/><rect x="213.1" y="120.7" width="2.0" height="2.0"/><rect x="175.2" y="147.4" width="2.0" height="2.0"/><rect x="210.6" y="118.3" width="2.0" height="2.0"/><rect x="184.4" y="138.8" width="2.0" height="2.0"/><rect x="185.8" y="138.5" width="2.0" height="2.0"/><rect x="198.5" y="122.9" width="2.0" height="2.0"/><rect x="201.2" y="125.3" width="2.0" height="2.0"/><rect x="199.6" y="122.3" width="2.0" height="2.0"/><rect x="178.2" y="146.1" width="2.0" height="2.0"/><rect x="180.0" y="145.1" width="2.0" height="2.0"/><rect x="185.5" y="127.7" width="2.0" height="2.0"/><rect x="187.6" y="128.4" width="2.0" height="2.0"/><rect x="197.9" y="122.5" width="2.0" height="2.0"/><rect x="204.3" y="121.5" width="2.0" height="2.0"/><rect x="197.0" y="134.5" width="2.0" height="2.0"/><rect x="197.2" y="122.0" width="2.0" height="2.0"/><rect x="186.3" y="137.1" width="2.0" height="2.0"/><rect x="195.8" y="131.7" width="2.0" height="2.0"/><rect x="181.5" y="146.6" width="2.0" height="2.0"/><rect x="196.0" y="119.2" width="2.0" height="2.0"/><rect x="200.2" y="132.9" width="2.0" height="2.0"/><rect x="199.7" y="124.7" width="2.0" height="2.0"/><rect x="183.0" y="144.1" width="2.0" height="2.0"/><rect x="206.3" y="124.3" width="2.0" height="2.0"/><rect x="189.6" y="130.7" width="2.0" height="2.0"/><rect x="177.8" y="141.5" width="2.0" height="2.0"/><rect x="203.6" y="130.5" width="2.0" height="2.0"/><rect x="181.0" y="134.3" width="2.0" height="2.0"/><rect x="211.3" y="119.4" width="2.0" height="2.0"/><rect x="203.9" y="119.1" width="2.0" height="2.0"/><rect x="177.7" y="149.7" width="2.0" height="2.0"/><rect x="200.8" y="132.0" width="2.0" height="2.0"/><rect x="193.8" y="136.1" width="2.0" height="2.0"/><rect x="199.2" y="123.6" width="2.0" height="2.0"/></g><g fill="#f0d0a0"><rect x="183.3" y="98.8" width="1.8" height="1.8"/><rect x="165.7" y="90.0" width="1.8" height="1.8"/><rect x="181.2" y="75.6" width="1.8" height="1.8"/><rect x="169.7" y="73.4" width="1.8" height="1.8"/><rect x="179.4" y="81.0" width="1.8" height="1.8"/><rect x="185.1" y="74.9" width="1.8" height="1.8"/><rect x="185.8" y="83.0" width="1.8" height="1.8"/><rect x="191.9" y="96.3" width="1.8" height="1.8"/><rect x="172.4" y="103.2" width="1.8" height="1.8"/><rect x="183.2" y="77.5" width="1.8" height="1.8"/><rect x="173.0" y="92.6" width="1.8" height="1.8"/><rect x="179.4" y="91.5" width="1.8" height="1.8"/><rect x="173.1" y="98.5" width="1.8" height="1.8"/><rect x="173.4" y="98.9" width="1.8" height="1.8"/><rect x="179.4" y="80.1" width="1.8" height="1.8"/><rect x="184.3" y="85.0" width="1.8" height="1.8"/><rect x="183.3" y="86.5" width="1.8" height="1.8"/><rect x="197.3" y="93.8" width="1.8" height="1.8"/><rect x="167.3" y="103.6" width="1.8" height="1.8"/><rect x="164.6" y="66.2" width="1.8" height="1.8"/><rect x="192.7" y="75.1" width="1.8" height="1.8"/><rect x="165.1" y="71.1" width="1.8" height="1.8"/><rect x="181.4" y="97.8" width="1.8" height="1.8"/><rect x="164.8" y="70.7" width="1.8" height="1.8"/><rect x="164.5" y="66.2" width="1.8" height="1.8"/></g><g fill="#10d224"><rect x="151.1" y="99.7" width="1.9" height="1.9"/><rect x="158.0" y="81.2" width="1.9" height="1.9"/><rect x="143.9" y="105.2" width="1.9" height="1.9"/><rect x="158.9" y="97.7" width="1.9" height="1.9"/><rect x="154.1" y="99.9" width="1.9" height="1.9"/><rect x="139.3" y="91.9" width="1.9" height="1.9"/><rect x="139.9" y="108.7" width="1.9" height="1.9"/><rect x="136.2" y="105.5" width="1.9" height="1.9"/><rect x="136.7" y="100.8" width="1.9" height="1.9"/><rect x="146.2" y="90.6" width="1.9" height="1.9"/><rect x="152.4" y="79.3" width="1.9" height="1.9"/><rect x="138.1" y="91.3" width="1.9" height="1.9"/><rect x="138.9" y="87.3" width="1.9" height="1.9"/><rect x="156.4" y="81.9" width="1.9" height="1.9"/><rect x="140.2" y="105.4" width="1.9" height="1.9"/><rect x="148.5" y="91.1" width="1.9" height="1.9"/><rect x="155.5" y="93.2" width="1.9" height="1.9"/><rect x="147.9" y="77.1" width="1.9" height="1.9"/><rect x="146.9" y="89.1" width="1.9" height="1.9"/><rect x="158.9" y="100.3" width="1.9" height="1.9"/><rect x="138.1" y="84.5" width="1.9" height="1.9"/><rect x="147.1" y="94.5" width="1.9" height="1.9"/><rect x="163.2" y="94.1" width="1.9" height="1.9"/><rect x="149.5" y="94.7" width="1.9" height="1.9"/><rect x="142.0" y="91.4" width="1.9" height="1.9"/><rect x="148.0" y="103.8" width="1.9" height="1.9"/><rect x="137.7" y="95.8" width="1.9" height="1.9"/><rect x="140.5" y="101.1" width="1.9" height="1.9"/><rect x="146.4" y="99.0" width="1.9" height="1.9"/><rect x="135.9" y="92.6" width="1.9" height="1.9"/><rect x="141.6" y="86.2" width="1.9" height="1.9"/><rect x="151.2" y="110.6" width="1.9" height="1.9"/><rect x="151.4" y="110.5" width="1.9" height="1.9"/><rect x="140.1" y="109.3" width="1.9" height="1.9"/><rect x="147.2" y="82.9" width="1.9" height="1.9"/><rect x="161.8" y="88.4" width="1.9" height="1.9"/><rect x="135.5" y="98.3" width="1.9" height="1.9"/><rect x="152.2" y="76.9" width="1.9" height="1.9"/><rect x="145.7" y="104.4" width="1.9" height="1.9"/><rect x="164.0" y="99.1" width="1.9" height="1.9"/><rect x="142.3" y="95.0" width="1.9" height="1.9"/><rect x="151.2" y="98.6" width="1.9" height="1.9"/><rect x="143.5" y="110.1" width="1.9" height="1.9"/><rect x="166.2" y="81.9" width="1.9" height="1.9"/><rect x="144.5" y="107.5" width="1.9" height="1.9"/><rect x="144.1" y="110.0" width="1.9" height="1.9"/><rect x="152.6" y="101.1" width="1.9" height="1.9"/><rect x="159.4" y="83.8" width="1.9" height="1.9"/><rect x="144.3" y="85.2" width="1.9" height="1.9"/><rect x="158.6" y="101.0" width="1.9" height="1.9"/><rect x="138.8" y="108.0" width="1.9" height="1.9"/><rect x="149.2" y="84.7" width="1.9" height="1.9"/><rect x="154.2" y="98.5" width="1.9" height="1.9"/><rect x="161.4" y="91.1" width="1.9" height="1.9"/><rect x="155.2" y="108.5" width="1.9" height="1.9"/><rect x="162.5" y="96.9" width="1.9" height="1.9"/><rect x="146.6" y="89.3" width="1.9" height="1.9"/><rect x="160.5" y="96.3" width="1.9" height="1.9"/><rect x="134.7" y="101.6" width="1.9" height="1.9"/><rect x="153.3" y="104.5" width="1.9" height="1.9"/><rect x="147.7" y="79.6" width="1.9" height="1.9"/><rect x="146.8" y="87.3" width="1.9" height="1.9"/><rect x="153.5" y="98.4" width="1.9" height="1.9"/><rect x="138.5" y="95.3" width="1.9" height="1.9"/><rect x="159.3" y="90.2" width="1.9" height="1.9"/><rect x="142.9" y="90.7" width="1.9" height="1.9"/><rect x="145.7" y="100.7" width="1.9" height="1.9"/><rect x="145.3" y="101.1" width="1.9" height="1.9"/><rect x="161.4" y="99.8" width="1.9" height="1.9"/><rect x="167.7" y="89.2" width="1.9" height="1.9"/><rect x="150.0" y="82.5" width="1.9" height="1.9"/><rect x="158.1" y="88.3" width="1.9" height="1.9"/><rect x="142.6" y="87.8" width="1.9" height="1.9"/><rect x="147.0" y="86.1" width="1.9" height="1.9"/><rect x="141.3" y="91.6" width="1.9" height="1.9"/><rect x="142.0" y="109.1" width="1.9" height="1.9"/><rect x="152.1" y="101.2" width="1.9" height="1.9"/><rect x="139.9" y="92.8" width="1.9" height="1.9"/><rect x="155.9" y="106.4" width="1.9" height="1.9"/><rect x="143.0" y="92.6" width="1.9" height="1.9"/><rect x="142.2" y="95.4" width="1.9" height="1.9"/><rect x="161.5" y="90.3" width="1.9" height="1.9"/><rect x="158.3" y="99.9" width="1.9" height="1.9"/><rect x="158.6" y="88.7" width="1.9" height="1.9"/><rect x="160.4" y="87.7" width="1.9" height="1.9"/><rect x="152.0" y="89.0" width="1.9" height="1.9"/><rect x="145.1" y="80.9" width="1.9" height="1.9"/><rect x="142.2" y="95.6" width="1.9" height="1.9"/><rect x="163.0" y="86.3" width="1.9" height="1.9"/><rect x="167.8" y="97.6" width="1.9" height="1.9"/><rect x="148.1" y="107.5" width="1.9" height="1.9"/><rect x="166.4" y="87.6" width="1.9" height="1.9"/><rect x="138.6" y="99.1" width="1.9" height="1.9"/><rect x="164.4" y="98.0" width="1.9" height="1.9"/><rect x="162.3" y="90.9" width="1.9" height="1.9"/><rect x="156.3" y="85.5" width="1.9" height="1.9"/><rect x="148.7" y="89.7" width="1.9" height="1.9"/><rect x="147.9" y="90.4" width="1.9" height="1.9"/><rect x="163.1" y="82.2" width="1.9" height="1.9"/><rect x="141.4" y="85.2" width="1.9" height="1.9"/><rect x="169.0" y="94.9" width="1.9" height="1.9"/><rect x="147.0" y="102.5" width="1.9" height="1.9"/><rect x="145.0" y="81.0" width="1.9" height="1.9"/><rect x="141.7" y="107.7" width="1.9" height="1.9"/><rect x="139.9" y="101.8" width="1.9" height="1.9"/><rect x="144.7" y="82.9" width="1.9" height="1.9"/><rect x="140.7" y="87.3" width="1.9" height="1.9"/><rect x="165.1" y="97.9" width="1.9" height="1.9"/><rect x="137.7" y="100.7" width="1.9" height="1.9"/><rect x="153.4" y="92.2" width="1.9" height="1.9"/><rect x="153.0" y="99.5" width="1.9" height="1.9"/><rect x="162.9" y="94.2" width="1.9" height="1.9"/><rect x="156.9" y="92.9" width="1.9" height="1.9"/><rect x="156.9" y="90.0" width="1.9" height="1.9"/><rect x="149.0" y="94.6" width="1.9" height="1.9"/><rect x="159.8" y="86.1" width="1.9" height="1.9"/><rect x="167.3" y="93.7" width="1.9" height="1.9"/><rect x="164.8" y="100.9" width="1.9" height="1.9"/><rect x="149.4" y="90.7" width="1.9" height="1.9"/><rect x="155.9" y="103.2" width="1.9" height="1.9"/><rect x="164.3" y="80.7" width="1.9" height="1.9"/><rect x="138.1" y="100.7" width="1.9" height="1.9"/><rect x="142.3" y="109.4" width="1.9" height="1.9"/><rect x="151.2" y="83.5" width="1.9" height="1.9"/><rect x="161.3" y="91.3" width="1.9" height="1.9"/><rect x="153.6" y="87.4" width="1.9" height="1.9"/><rect x="142.8" y="79.2" width="1.9" height="1.9"/><rect x="167.7" y="89.1" width="1.9" height="1.9"/><rect x="144.8" y="109.3" width="1.9" height="1.9"/><rect x="155.7" y="100.1" width="1.9" height="1.9"/><rect x="151.4" y="102.4" width="1.9" height="1.9"/><rect x="163.8" y="103.3" width="1.9" height="1.9"/><rect x="146.3" y="89.8" width="1.9" height="1.9"/><rect x="151.5" y="83.1" width="1.9" height="1.9"/><rect x="156.5" y="95.3" width="1.9" height="1.9"/><rect x="140.1" y="92.8" width="1.9" height="1.9"/><rect x="140.4" y="102.4" width="1.9" height="1.9"/><rect x="136.8" y="100.6" width="1.9" height="1.9"/><rect x="148.4" y="105.7" width="1.9" height="1.9"/><rect x="138.6" y="97.5" width="1.9" height="1.9"/><rect x="136.5" y="105.5" width="1.9" height="1.9"/><rect x="143.9" y="91.4" width="1.9" height="1.9"/><rect x="142.7" y="101.9" width="1.9" height="1.9"/><rect x="143.1" y="96.5" width="1.9" height="1.9"/><rect x="139.4" y="95.9" width="1.9" height="1.9"/><rect x="149.0" y="95.3" width="1.9" height="1.9"/><rect x="142.1" y="98.5" width="1.9" height="1.9"/><rect x="137.5" y="97.0" width="1.9" height="1.9"/><rect x="137.9" y="95.1" width="1.9" height="1.9"/><rect x="140.2" y="95.8" width="1.9" height="1.9"/><rect x="148.2" y="94.5" width="1.9" height="1.9"/><rect x="139.7" y="103.5" width="1.9" height="1.9"/><rect x="140.6" y="99.9" width="1.9" height="1.9"/><rect x="144.1" y="88.9" width="1.9" height="1.9"/><rect x="144.5" y="89.6" width="1.9" height="1.9"/><rect x="138.6" y="107.3" width="1.9" height="1.9"/><rect x="148.9" y="103.9" width="1.9" height="1.9"/><rect x="137.5" y="98.0" width="1.9" height="1.9"/><rect x="139.0" y="108.1" width="1.9" height="1.9"/><rect x="138.3" y="92.0" width="1.9" height="1.9"/><rect x="144.0" y="103.0" width="1.9" height="1.9"/><rect x="143.3" y="99.0" width="1.9" height="1.9"/><rect x="148.5" y="98.5" width="1.9" height="1.9"/><rect x="148.2" y="96.8" width="1.9" height="1.9"/><rect x="141.6" y="96.0" width="1.9" height="1.9"/><rect x="145.1" y="105.8" width="1.9" height="1.9"/><rect x="138.4" y="100.2" width="1.9" height="1.9"/><rect x="145.2" y="99.6" width="1.9" height="1.9"/><rect x="144.3" y="102.5" width="1.9" height="1.9"/><rect x="145.1" y="95.9" width="1.9" height="1.9"/><rect x="147.5" y="106.8" width="1.9" height="1.9"/><rect x="140.5" y="111.2" width="1.9" height="1.9"/><rect x="146.8" y="97.6" width="1.9" height="1.9"/><rect x="139.4" y="93.5" width="1.9" height="1.9"/><rect x="139.4" y="91.0" width="1.9" height="1.9"/><rect x="124.6" y="140.5" width="1.9" height="1.9"/><rect x="151.2" y="163.6" width="1.9" height="1.9"/><rect x="96.6" y="126.9" width="1.9" height="1.9"/><rect x="190.9" y="142.5" width="1.9" height="1.9"/><rect x="123.1" y="124.9" width="1.9" height="1.9"/><rect x="145.2" y="156.2" width="1.9" height="1.9"/><rect x="110.3" y="142.8" width="1.9" height="1.9"/><rect x="187.8" y="120.7" width="1.9" height="1.9"/><rect x="153.1" y="124.7" width="1.9" height="1.9"/><rect x="156.3" y="137.7" width="1.9" height="1.9"/><rect x="122.2" y="135.9" width="1.9" height="1.9"/><rect x="141.7" y="144.3" width="1.9" height="1.9"/><rect x="145.0" y="143.3" width="1.9" height="1.9"/><rect x="180.7" y="134.4" width="1.9" height="1.9"/><rect x="174.6" y="142.5" width="1.9" height="1.9"/><rect x="105.4" y="136.2" width="1.9" height="1.9"/><rect x="175.0" y="153.9" width="1.9" height="1.9"/><rect x="142.0" y="155.5" width="1.9" height="1.9"/><rect x="160.3" y="160.2" width="1.9" height="1.9"/><rect x="157.1" y="133.9" width="1.9" height="1.9"/><rect x="113.5" y="119.3" width="1.9" height="1.9"/><rect x="93.8" y="117.3" width="1.9" height="1.9"/><rect x="196.1" y="122.4" width="1.9" height="1.9"/><rect x="151.4" y="122.0" width="1.9" height="1.9"/><rect x="105.9" y="136.0" width="1.9" height="1.9"/><rect x="158.3" y="129.7" width="1.9" height="1.9"/><rect x="147.4" y="151.5" width="1.9" height="1.9"/><rect x="169.2" y="157.9" width="1.9" height="1.9"/><rect x="169.2" y="129.9" width="1.9" height="1.9"/><rect x="169.7" y="137.6" width="1.9" height="1.9"/><rect x="153.7" y="133.7" width="1.9" height="1.9"/><rect x="90.3" y="140.5" width="1.9" height="1.9"/><rect x="128.8" y="132.0" width="1.9" height="1.9"/><rect x="147.0" y="143.1" width="1.9" height="1.9"/><rect x="187.6" y="130.6" width="1.9" height="1.9"/><rect x="183.7" y="131.4" width="1.9" height="1.9"/><rect x="158.4" y="151.8" width="1.9" height="1.9"/><rect x="103.6" y="121.4" width="1.9" height="1.9"/><rect x="100.1" y="137.5" width="1.9" height="1.9"/><rect x="177.4" y="150.4" width="1.9" height="1.9"/><rect x="131.5" y="162.4" width="1.9" height="1.9"/><rect x="117.0" y="117.7" width="1.9" height="1.9"/><rect x="158.3" y="140.0" width="1.9" height="1.9"/><rect x="103.5" y="126.5" width="1.9" height="1.9"/><rect x="87.1" y="119.9" width="1.9" height="1.9"/><rect x="136.5" y="161.7" width="1.9" height="1.9"/><rect x="190.9" y="141.8" width="1.9" height="1.9"/><rect x="159.9" y="139.4" width="1.9" height="1.9"/><rect x="172.2" y="151.8" width="1.9" height="1.9"/><rect x="160.4" y="145.7" width="1.9" height="1.9"/><rect x="99.3" y="139.6" width="1.9" height="1.9"/><rect x="132.8" y="123.1" width="1.9" height="1.9"/><rect x="103.3" y="136.4" width="1.9" height="1.9"/><rect x="100.1" y="147.5" width="1.9" height="1.9"/><rect x="161.1" y="141.9" width="1.9" height="1.9"/><rect x="131.1" y="135.4" width="1.9" height="1.9"/><rect x="157.1" y="122.5" width="1.9" height="1.9"/><rect x="144.0" y="123.7" width="1.9" height="1.9"/><rect x="118.0" y="145.6" width="1.9" height="1.9"/><rect x="99.5" y="127.2" width="1.9" height="1.9"/><rect x="166.7" y="140.3" width="1.9" height="1.9"/><rect x="185.8" y="123.3" width="1.9" height="1.9"/><rect x="152.1" y="151.1" width="1.9" height="1.9"/><rect x="145.8" y="122.8" width="1.9" height="1.9"/><rect x="196.4" y="140.8" width="1.9" height="1.9"/><rect x="188.1" y="122.7" width="1.9" height="1.9"/><rect x="112.1" y="143.6" width="1.9" height="1.9"/><rect x="110.3" y="119.2" width="1.9" height="1.9"/><rect x="98.6" y="129.2" width="1.9" height="1.9"/><rect x="159.4" y="137.2" width="1.9" height="1.9"/><rect x="94.2" y="125.5" width="1.9" height="1.9"/><rect x="131.3" y="159.9" width="1.9" height="1.9"/><rect x="101.0" y="118.3" width="1.9" height="1.9"/><rect x="167.2" y="122.4" width="1.9" height="1.9"/><rect x="114.9" y="125.8" width="1.9" height="1.9"/><rect x="131.7" y="163.0" width="1.9" height="1.9"/><rect x="179.8" y="142.9" width="1.9" height="1.9"/><rect x="89.6" y="124.2" width="1.9" height="1.9"/><rect x="114.5" y="156.3" width="1.9" height="1.9"/><rect x="97.2" y="119.2" width="1.9" height="1.9"/><rect x="110.6" y="152.6" width="1.9" height="1.9"/><rect x="99.3" y="146.0" width="1.9" height="1.9"/><rect x="168.1" y="160.7" width="1.9" height="1.9"/><rect x="91.8" y="129.3" width="1.9" height="1.9"/><rect x="162.6" y="161.1" width="1.9" height="1.9"/><rect x="160.6" y="159.9" width="1.9" height="1.9"/><rect x="189.0" y="135.5" width="1.9" height="1.9"/><rect x="162.6" y="149.1" width="1.9" height="1.9"/><rect x="162.1" y="119.9" width="1.9" height="1.9"/><rect x="185.7" y="123.2" width="1.9" height="1.9"/><rect x="132.5" y="150.8" width="1.9" height="1.9"/><rect x="168.4" y="158.0" width="1.9" height="1.9"/><rect x="116.5" y="130.5" width="1.9" height="1.9"/><rect x="166.4" y="117.5" width="1.9" height="1.9"/><rect x="183.9" y="131.4" width="1.9" height="1.9"/><rect x="126.1" y="131.3" width="1.9" height="1.9"/><rect x="164.7" y="124.1" width="1.9" height="1.9"/><rect x="95.3" y="118.5" width="1.9" height="1.9"/><rect x="134.5" y="133.5" width="1.9" height="1.9"/><rect x="116.2" y="132.9" width="1.9" height="1.9"/><rect x="92.0" y="137.1" width="1.9" height="1.9"/><rect x="111.0" y="118.2" width="1.9" height="1.9"/><rect x="176.7" y="153.4" width="1.9" height="1.9"/><rect x="106.3" y="120.7" width="1.9" height="1.9"/><rect x="165.8" y="122.5" width="1.9" height="1.9"/><rect x="174.1" y="142.9" width="1.9" height="1.9"/><rect x="89.6" y="126.0" width="1.9" height="1.9"/><rect x="90.0" y="119.3" width="1.9" height="1.9"/><rect x="169.1" y="133.4" width="1.9" height="1.9"/><rect x="136.4" y="122.2" width="1.9" height="1.9"/><rect x="100.4" y="140.9" width="1.9" height="1.9"/><rect x="130.3" y="124.7" width="1.9" height="1.9"/><rect x="97.1" y="138.2" width="1.9" height="1.9"/><rect x="92.7" y="118.3" width="1.9" height="1.9"/><rect x="135.9" y="117.7" width="1.9" height="1.9"/><rect x="167.2" y="155.0" width="1.9" height="1.9"/><rect x="163.7" y="164.5" width="1.9" height="1.9"/><rect x="98.9" y="137.0" width="1.9" height="1.9"/><rect x="128.8" y="118.8" width="1.9" height="1.9"/><rect x="172.4" y="145.2" width="1.9" height="1.9"/><rect x="156.8" y="140.1" width="1.9" height="1.9"/><rect x="181.4" y="145.1" width="1.9" height="1.9"/><rect x="144.7" y="136.1" width="1.9" height="1.9"/><rect x="154.4" y="145.6" width="1.9" height="1.9"/><rect x="118.6" y="152.5" width="1.9" height="1.9"/><rect x="107.1" y="140.1" width="1.9" height="1.9"/><rect x="142.2" y="152.9" width="1.9" height="1.9"/><rect x="87.7" y="122.7" width="1.9" height="1.9"/><rect x="101.0" y="147.3" width="1.9" height="1.9"/><rect x="99.5" y="144.2" width="1.9" height="1.9"/><rect x="184.9" y="137.3" width="1.9" height="1.9"/><rect x="105.9" y="146.1" width="1.9" height="1.9"/><rect x="128.4" y="137.8" width="1.9" height="1.9"/><rect x="138.6" y="150.5" width="1.9" height="1.9"/><rect x="173.7" y="128.4" width="1.9" height="1.9"/><rect x="164.9" y="144.3" width="1.9" height="1.9"/><rect x="133.3" y="147.6" width="1.9" height="1.9"/><rect x="133.8" y="149.2" width="1.9" height="1.9"/><rect x="155.8" y="151.7" width="1.9" height="1.9"/><rect x="183.0" y="142.9" width="1.9" height="1.9"/><rect x="144.0" y="122.6" width="1.9" height="1.9"/><rect x="93.9" y="135.0" width="1.9" height="1.9"/><rect x="153.7" y="116.6" width="1.9" height="1.9"/><rect x="132.7" y="156.6" width="1.9" height="1.9"/><rect x="125.2" y="124.2" width="1.9" height="1.9"/><rect x="155.6" y="129.6" width="1.9" height="1.9"/><rect x="146.0" y="150.7" width="1.9" height="1.9"/><rect x="104.0" y="127.8" width="1.9" height="1.9"/><rect x="189.9" y="125.9" width="1.9" height="1.9"/><rect x="137.7" y="138.7" width="1.9" height="1.9"/><rect x="172.4" y="159.6" width="1.9" height="1.9"/><rect x="170.7" y="147.6" width="1.9" height="1.9"/><rect x="143.9" y="119.8" width="1.9" height="1.9"/><rect x="147.9" y="137.6" width="1.9" height="1.9"/><rect x="169.7" y="134.6" width="1.9" height="1.9"/><rect x="93.7" y="135.0" width="1.9" height="1.9"/><rect x="178.8" y="140.9" width="1.9" height="1.9"/><rect x="159.3" y="118.0" width="1.9" height="1.9"/><rect x="105.6" y="128.9" width="1.9" height="1.9"/><rect x="137.2" y="121.2" width="1.9" height="1.9"/><rect x="192.5" y="132.3" width="1.9" height="1.9"/><rect x="79.2" y="127.5" width="1.9" height="1.9"/><rect x="139.2" y="147.1" width="1.9" height="1.9"/><rect x="176.8" y="119.6" width="1.9" height="1.9"/><rect x="140.8" y="148.7" width="1.9" height="1.9"/><rect x="115.9" y="122.8" width="1.9" height="1.9"/><rect x="185.9" y="138.3" width="1.9" height="1.9"/><rect x="151.3" y="139.8" width="1.9" height="1.9"/><rect x="161.7" y="120.2" width="1.9" height="1.9"/><rect x="169.5" y="124.2" width="1.9" height="1.9"/><rect x="150.0" y="147.4" width="1.9" height="1.9"/><rect x="180.8" y="147.0" width="1.9" height="1.9"/><rect x="123.9" y="144.3" width="1.9" height="1.9"/><rect x="91.5" y="138.7" width="1.9" height="1.9"/><rect x="126.8" y="162.4" width="1.9" height="1.9"/><rect x="174.3" y="136.8" width="1.9" height="1.9"/><rect x="170.6" y="150.4" width="1.9" height="1.9"/><rect x="93.1" y="130.5" width="1.9" height="1.9"/><rect x="126.5" y="130.7" width="1.9" height="1.9"/><rect x="168.6" y="155.0" width="1.9" height="1.9"/><rect x="149.0" y="121.4" width="1.9" height="1.9"/><rect x="181.3" y="120.8" width="1.9" height="1.9"/><rect x="148.7" y="164.9" width="1.9" height="1.9"/><rect x="111.3" y="140.0" width="1.9" height="1.9"/><rect x="160.2" y="148.7" width="1.9" height="1.9"/><rect x="117.9" y="136.7" width="1.9" height="1.9"/><rect x="181.3" y="146.3" width="1.9" height="1.9"/><rect x="186.4" y="128.8" width="1.9" height="1.9"/><rect x="109.9" y="121.6" width="1.9" height="1.9"/><rect x="177.8" y="125.3" width="1.9" height="1.9"/><rect x="168.1" y="125.3" width="1.9" height="1.9"/><rect x="148.3" y="154.1" width="1.9" height="1.9"/><rect x="139.6" y="147.7" width="1.9" height="1.9"/><rect x="93.2" y="138.9" width="1.9" height="1.9"/><rect x="173.1" y="134.5" width="1.9" height="1.9"/><rect x="168.3" y="146.2" width="1.9" height="1.9"/><rect x="176.0" y="153.5" width="1.9" height="1.9"/><rect x="177.1" y="137.3" width="1.9" height="1.9"/><rect x="165.3" y="136.6" width="1.9" height="1.9"/><rect x="148.2" y="131.9" width="1.9" height="1.9"/><rect x="134.5" y="131.1" width="1.9" height="1.9"/><rect x="186.4" y="146.9" width="1.9" height="1.9"/><rect x="152.7" y="142.2" width="1.9" height="1.9"/><rect x="134.8" y="124.1" width="1.9" height="1.9"/><rect x="156.7" y="138.2" width="1.9" height="1.9"/><rect x="120.3" y="141.7" width="1.9" height="1.9"/><rect x="173.0" y="134.1" width="1.9" height="1.9"/><rect x="153.4" y="131.6" width="1.9" height="1.9"/><rect x="165.0" y="129.4" width="1.9" height="1.9"/><rect x="127.9" y="119.6" width="1.9" height="1.9"/><rect x="106.0" y="144.1" width="1.9" height="1.9"/><rect x="185.0" y="137.2" width="1.9" height="1.9"/><rect x="194.6" y="128.4" width="1.9" height="1.9"/><rect x="124.4" y="129.6" width="1.9" height="1.9"/><rect x="132.4" y="146.9" width="1.9" height="1.9"/><rect x="105.4" y="120.6" width="1.9" height="1.9"/><rect x="150.7" y="149.2" width="1.9" height="1.9"/><rect x="146.3" y="123.4" width="1.9" height="1.9"/><rect x="182.3" y="137.4" width="1.9" height="1.9"/><rect x="144.1" y="161.1" width="1.9" height="1.9"/><rect x="95.1" y="140.8" width="1.9" height="1.9"/><rect x="129.9" y="148.2" width="1.9" height="1.9"/><rect x="106.1" y="127.6" width="1.9" height="1.9"/><rect x="106.3" y="144.1" width="1.9" height="1.9"/><rect x="127.8" y="157.9" width="1.9" height="1.9"/><rect x="147.9" y="155.7" width="1.9" height="1.9"/><rect x="193.6" y="121.4" width="1.9" height="1.9"/><rect x="170.4" y="162.1" width="1.9" height="1.9"/><rect x="127.7" y="132.8" width="1.9" height="1.9"/><rect x="89.7" y="141.8" width="1.9" height="1.9"/><rect x="161.0" y="162.1" width="1.9" height="1.9"/><rect x="158.7" y="120.3" width="1.9" height="1.9"/><rect x="179.3" y="150.6" width="1.9" height="1.9"/><rect x="130.1" y="144.7" width="1.9" height="1.9"/><rect x="140.3" y="132.7" width="1.9" height="1.9"/><rect x="140.0" y="131.5" width="1.9" height="1.9"/><rect x="120.4" y="148.9" width="1.9" height="1.9"/><rect x="133.9" y="116.1" width="1.9" height="1.9"/><rect x="134.2" y="163.3" width="1.9" height="1.9"/><rect x="141.7" y="153.0" width="1.9" height="1.9"/><rect x="142.1" y="157.2" width="1.9" height="1.9"/><rect x="154.2" y="157.4" width="1.9" height="1.9"/><rect x="188.0" y="134.0" width="1.9" height="1.9"/><rect x="178.1" y="145.8" width="1.9" height="1.9"/><rect x="146.2" y="118.1" width="1.9" height="1.9"/><rect x="142.2" y="126.7" width="1.9" height="1.9"/><rect x="152.0" y="123.3" width="1.9" height="1.9"/><rect x="118.4" y="155.1" width="1.9" height="1.9"/><rect x="148.6" y="122.0" width="1.9" height="1.9"/><rect x="128.6" y="152.2" width="1.9" height="1.9"/><rect x="148.8" y="149.0" width="1.9" height="1.9"/><rect x="187.4" y="120.0" width="1.9" height="1.9"/><rect x="140.0" y="128.1" width="1.9" height="1.9"/><rect x="151.0" y="139.2" width="1.9" height="1.9"/><rect x="154.6" y="156.7" width="1.9" height="1.9"/><rect x="139.3" y="137.1" width="1.9" height="1.9"/><rect x="145.8" y="123.8" width="1.9" height="1.9"/><rect x="188.6" y="135.3" width="1.9" height="1.9"/><rect x="138.9" y="158.7" width="1.9" height="1.9"/><rect x="164.1" y="142.7" width="1.9" height="1.9"/><rect x="130.6" y="155.5" width="1.9" height="1.9"/><rect x="146.6" y="149.8" width="1.9" height="1.9"/><rect x="122.1" y="158.2" width="1.9" height="1.9"/><rect x="168.0" y="161.1" width="1.9" height="1.9"/><rect x="114.1" y="149.5" width="1.9" height="1.9"/><rect x="146.4" y="132.8" width="1.9" height="1.9"/><rect x="114.8" y="119.6" width="1.9" height="1.9"/><rect x="179.4" y="129.4" width="1.9" height="1.9"/><rect x="120.6" y="128.3" width="1.9" height="1.9"/><rect x="145.9" y="140.8" width="1.9" height="1.9"/><rect x="183.0" y="119.2" width="1.9" height="1.9"/><rect x="120.2" y="158.5" width="1.9" height="1.9"/><rect x="174.3" y="118.4" width="1.9" height="1.9"/><rect x="196.6" y="131.6" width="1.9" height="1.9"/><rect x="168.3" y="132.3" width="1.9" height="1.9"/><rect x="133.2" y="159.4" width="1.9" height="1.9"/><rect x="136.2" y="161.9" width="1.9" height="1.9"/><rect x="168.6" y="124.0" width="1.9" height="1.9"/><rect x="81.9" y="123.9" width="1.9" height="1.9"/><rect x="151.8" y="120.8" width="1.9" height="1.9"/><rect x="91.2" y="121.2" width="1.9" height="1.9"/><rect x="89.2" y="120.0" width="1.9" height="1.9"/><rect x="145.2" y="118.7" width="1.9" height="1.9"/><rect x="160.8" y="119.2" width="1.9" height="1.9"/><rect x="119.4" y="121.5" width="1.9" height="1.9"/><rect x="162.7" y="116.6" width="1.9" height="1.9"/><rect x="178.2" y="123.9" width="1.9" height="1.9"/><rect x="156.8" y="123.3" width="1.9" height="1.9"/><rect x="149.1" y="126.0" width="1.9" height="1.9"/><rect x="98.2" y="118.1" width="1.9" height="1.9"/><rect x="172.2" y="118.6" width="1.9" height="1.9"/><rect x="153.2" y="127.7" width="1.9" height="1.9"/><rect x="87.7" y="128.8" width="1.9" height="1.9"/><rect x="95.2" y="123.0" width="1.9" height="1.9"/><rect x="133.9" y="119.1" width="1.9" height="1.9"/><rect x="115.5" y="122.9" width="1.9" height="1.9"/><rect x="160.0" y="119.1" width="1.9" height="1.9"/><rect x="109.8" y="116.7" width="1.9" height="1.9"/><rect x="174.4" y="129.9" width="1.9" height="1.9"/><rect x="104.8" y="123.5" width="1.9" height="1.9"/><rect x="168.7" y="120.2" width="1.9" height="1.9"/><rect x="96.6" y="124.8" width="1.9" height="1.9"/><rect x="132.2" y="128.8" width="1.9" height="1.9"/><rect x="127.3" y="119.4" width="1.9" height="1.9"/><rect x="122.2" y="117.3" width="1.9" height="1.9"/><rect x="130.6" y="126.1" width="1.9" height="1.9"/><rect x="101.9" y="124.4" width="1.9" height="1.9"/><rect x="180.8" y="126.2" width="1.9" height="1.9"/><rect x="114.9" y="125.4" width="1.9" height="1.9"/><rect x="94.7" y="116.8" width="1.9" height="1.9"/><rect x="162.5" y="126.4" width="1.9" height="1.9"/><rect x="144.6" y="124.0" width="1.9" height="1.9"/><rect x="118.1" y="128.4" width="1.9" height="1.9"/><rect x="134.0" y="128.3" width="1.9" height="1.9"/><rect x="155.3" y="120.4" width="1.9" height="1.9"/><rect x="163.1" y="120.6" width="1.9" height="1.9"/><rect x="143.8" y="128.5" width="1.9" height="1.9"/><rect x="176.5" y="125.0" width="1.9" height="1.9"/><rect x="103.4" y="117.6" width="1.9" height="1.9"/><rect x="164.6" y="120.0" width="1.9" height="1.9"/><rect x="98.2" y="124.3" width="1.9" height="1.9"/><rect x="124.6" y="126.9" width="1.9" height="1.9"/><rect x="101.5" y="123.2" width="1.9" height="1.9"/><rect x="176.8" y="117.8" width="1.9" height="1.9"/><rect x="121.8" y="121.4" width="1.9" height="1.9"/><rect x="96.7" y="117.4" width="1.9" height="1.9"/><rect x="114.5" y="123.8" width="1.9" height="1.9"/><rect x="97.3" y="125.2" width="1.9" height="1.9"/><rect x="120.3" y="119.9" width="1.9" height="1.9"/><rect x="166.6" y="126.9" width="1.9" height="1.9"/><rect x="127.2" y="119.2" width="1.9" height="1.9"/><rect x="133.5" y="125.4" width="1.9" height="1.9"/><rect x="157.8" y="125.6" width="1.9" height="1.9"/><rect x="84.2" y="117.6" width="1.9" height="1.9"/><rect x="180.7" y="123.8" width="1.9" height="1.9"/><rect x="133.9" y="116.9" width="1.9" height="1.9"/><rect x="160.3" y="128.3" width="1.9" height="1.9"/><rect x="114.2" y="119.4" width="1.9" height="1.9"/><rect x="91.1" y="119.9" width="1.9" height="1.9"/><rect x="133.8" y="122.2" width="1.9" height="1.9"/><rect x="106.9" y="128.3" width="1.9" height="1.9"/><rect x="177.6" y="128.8" width="1.9" height="1.9"/><rect x="131.9" y="120.8" width="1.9" height="1.9"/><rect x="170.9" y="127.1" width="1.9" height="1.9"/><rect x="146.7" y="126.3" width="1.9" height="1.9"/><rect x="175.0" y="123.5" width="1.9" height="1.9"/><rect x="108.8" y="126.8" width="1.9" height="1.9"/><rect x="174.3" y="118.7" width="1.9" height="1.9"/><rect x="121.4" y="127.3" width="1.9" height="1.9"/><rect x="162.3" y="118.9" width="1.9" height="1.9"/><rect x="128.8" y="122.3" width="1.9" height="1.9"/><rect x="102.1" y="126.5" width="1.9" height="1.9"/><rect x="102.1" y="129.9" width="1.9" height="1.9"/><rect x="180.9" y="120.4" width="1.9" height="1.9"/><rect x="135.9" y="120.7" width="1.9" height="1.9"/><rect x="159.6" y="121.6" width="1.9" height="1.9"/><rect x="109.0" y="117.6" width="1.9" height="1.9"/><rect x="180.3" y="127.3" width="1.9" height="1.9"/><rect x="150.1" y="118.6" width="1.9" height="1.9"/><rect x="127.0" y="127.1" width="1.9" height="1.9"/><rect x="146.8" y="119.5" width="1.9" height="1.9"/><rect x="118.0" y="128.0" width="1.9" height="1.9"/><rect x="89.3" y="125.4" width="1.9" height="1.9"/><rect x="152.5" y="123.3" width="1.9" height="1.9"/><rect x="115.5" y="127.1" width="1.9" height="1.9"/><rect x="154.2" y="126.9" width="1.9" height="1.9"/><rect x="90.6" y="126.1" width="1.9" height="1.9"/><rect x="120.5" y="117.1" width="1.9" height="1.9"/><rect x="172.1" y="119.3" width="1.9" height="1.9"/><rect x="129.2" y="120.0" width="1.9" height="1.9"/><rect x="94.9" y="119.7" width="1.9" height="1.9"/><rect x="143.5" y="125.3" width="1.9" height="1.9"/><rect x="156.6" y="117.5" width="1.9" height="1.9"/><rect x="110.6" y="128.3" width="1.9" height="1.9"/><rect x="134.9" y="126.9" width="1.9" height="1.9"/><rect x="128.8" y="121.8" width="1.9" height="1.9"/><rect x="87.3" y="128.5" width="1.9" height="1.9"/><rect x="171.8" y="126.5" width="1.9" height="1.9"/><rect x="105.0" y="125.1" width="1.9" height="1.9"/><rect x="150.0" y="119.6" width="1.9" height="1.9"/><rect x="120.6" y="129.3" width="1.9" height="1.9"/><rect x="109.5" y="124.8" width="1.9" height="1.9"/><rect x="88.2" y="119.9" width="1.9" height="1.9"/><rect x="174.2" y="124.3" width="1.9" height="1.9"/><rect x="131.0" y="117.4" width="1.9" height="1.9"/><rect x="138.1" y="117.1" width="1.9" height="1.9"/><rect x="90.5" y="120.4" width="1.9" height="1.9"/><rect x="109.0" y="127.6" width="1.9" height="1.9"/><rect x="138.8" y="125.3" width="1.9" height="1.9"/><rect x="111.1" y="121.3" width="1.9" height="1.9"/><rect x="95.1" y="119.6" width="1.9" height="1.9"/><rect x="180.4" y="125.8" width="1.9" height="1.9"/><rect x="116.7" y="125.1" width="1.9" height="1.9"/><rect x="172.4" y="128.0" width="1.9" height="1.9"/><rect x="135.0" y="117.5" width="1.9" height="1.9"/><rect x="163.6" y="127.5" width="1.9" height="1.9"/><rect x="152.0" y="126.6" width="1.9" height="1.9"/><rect x="97.6" y="124.3" width="1.9" height="1.9"/><rect x="124.1" y="120.7" width="1.9" height="1.9"/><rect x="168.4" y="120.7" width="1.9" height="1.9"/><rect x="33.6" y="136.6" width="1.9" height="1.9"/><rect x="32.0" y="140.8" width="1.9" height="1.9"/><rect x="46.8" y="129.6" width="1.9" height="1.9"/><rect x="33.5" y="137.1" width="1.9" height="1.9"/><rect x="33.7" y="135.0" width="1.9" height="1.9"/><rect x="53.7" y="129.1" width="1.9" height="1.9"/><rect x="48.3" y="127.6" width="1.9" height="1.9"/><rect x="34.9" y="128.1" width="1.9" height="1.9"/><rect x="123.0" y="108.6" width="1.9" height="1.9"/><rect x="135.3" y="113.7" width="1.9" height="1.9"/><rect x="137.3" y="103.5" width="1.9" height="1.9"/><rect x="137.8" y="106.7" width="1.9" height="1.9"/><rect x="132.4" y="112.1" width="1.9" height="1.9"/><rect x="124.5" y="104.1" width="1.9" height="1.9"/><rect x="127.8" y="105.2" width="1.9" height="1.9"/><rect x="133.6" y="114.6" width="1.9" height="1.9"/><rect x="132.3" y="99.9" width="1.9" height="1.9"/><rect x="135.0" y="112.9" width="1.9" height="1.9"/><rect x="138.7" y="102.4" width="1.9" height="1.9"/><rect x="137.7" y="106.2" width="1.9" height="1.9"/><rect x="130.2" y="102.7" width="1.9" height="1.9"/><rect x="124.1" y="106.6" width="1.9" height="1.9"/><rect x="130.3" y="103.7" width="1.9" height="1.9"/></g><g fill="#ff1c1c"><rect x="153.1" y="143.8" width="1.9" height="1.9"/><rect x="142.1" y="129.4" width="1.9" height="1.9"/><rect x="138.4" y="143.6" width="1.9" height="1.9"/><rect x="156.1" y="130.6" width="1.9" height="1.9"/><rect x="141.5" y="140.5" width="1.9" height="1.9"/><rect x="158.7" y="131.4" width="1.9" height="1.9"/><rect x="131.7" y="140.6" width="1.9" height="1.9"/><rect x="171.3" y="151.5" width="1.9" height="1.9"/><rect x="142.7" y="136.2" width="1.9" height="1.9"/><rect x="130.0" y="130.6" width="1.9" height="1.9"/><rect x="167.6" y="160.1" width="1.9" height="1.9"/><rect x="144.4" y="136.2" width="1.9" height="1.9"/><rect x="167.6" y="136.6" width="1.9" height="1.9"/><rect x="136.4" y="144.6" width="1.9" height="1.9"/><rect x="162.5" y="159.4" width="1.9" height="1.9"/><rect x="161.4" y="161.5" width="1.9" height="1.9"/><rect x="162.6" y="134.7" width="1.9" height="1.9"/><rect x="144.5" y="148.8" width="1.9" height="1.9"/><rect x="164.9" y="136.9" width="1.9" height="1.9"/><rect x="152.4" y="155.6" width="1.9" height="1.9"/><rect x="159.4" y="137.5" width="1.9" height="1.9"/><rect x="131.7" y="141.4" width="1.9" height="1.9"/><rect x="151.8" y="129.8" width="1.9" height="1.9"/><rect x="136.2" y="138.1" width="1.9" height="1.9"/><rect x="134.6" y="141.6" width="1.9" height="1.9"/><rect x="151.9" y="156.1" width="1.9" height="1.9"/><rect x="156.5" y="144.4" width="1.9" height="1.9"/><rect x="157.6" y="154.4" width="1.9" height="1.9"/><rect x="149.8" y="138.0" width="1.9" height="1.9"/><rect x="156.8" y="157.9" width="1.9" height="1.9"/><rect x="146.7" y="134.0" width="1.9" height="1.9"/><rect x="142.5" y="130.6" width="1.9" height="1.9"/><rect x="165.7" y="148.8" width="1.9" height="1.9"/><rect x="166.0" y="142.7" width="1.9" height="1.9"/><rect x="138.3" y="142.6" width="1.9" height="1.9"/><rect x="163.5" y="160.8" width="1.9" height="1.9"/><rect x="138.3" y="137.7" width="1.9" height="1.9"/><rect x="166.1" y="142.9" width="1.9" height="1.9"/><rect x="146.1" y="134.0" width="1.9" height="1.9"/><rect x="162.4" y="161.0" width="1.9" height="1.9"/><rect x="134.2" y="135.9" width="1.9" height="1.9"/><rect x="150.5" y="134.1" width="1.9" height="1.9"/><rect x="172.3" y="144.2" width="1.9" height="1.9"/><rect x="130.5" y="135.4" width="1.9" height="1.9"/><rect x="137.3" y="137.3" width="1.9" height="1.9"/><rect x="155.6" y="160.6" width="1.9" height="1.9"/><rect x="145.7" y="148.4" width="1.9" height="1.9"/><rect x="172.0" y="146.3" width="1.9" height="1.9"/><rect x="158.9" y="143.4" width="1.9" height="1.9"/><rect x="165.3" y="137.2" width="1.9" height="1.9"/><rect x="131.8" y="136.7" width="1.9" height="1.9"/><rect x="139.0" y="130.8" width="1.9" height="1.9"/><rect x="142.8" y="133.4" width="1.9" height="1.9"/><rect x="150.7" y="159.3" width="1.9" height="1.9"/><rect x="171.6" y="146.1" width="1.9" height="1.9"/><rect x="168.5" y="149.3" width="1.9" height="1.9"/><rect x="152.0" y="157.0" width="1.9" height="1.9"/><rect x="143.9" y="128.8" width="1.9" height="1.9"/><rect x="172.0" y="145.4" width="1.9" height="1.9"/><rect x="169.6" y="144.3" width="1.9" height="1.9"/><rect x="151.4" y="146.8" width="1.9" height="1.9"/><rect x="160.1" y="135.6" width="1.9" height="1.9"/><rect x="160.8" y="162.3" width="1.9" height="1.9"/><rect x="166.8" y="150.1" width="1.9" height="1.9"/><rect x="145.9" y="131.6" width="1.9" height="1.9"/><rect x="169.9" y="156.9" width="1.9" height="1.9"/><rect x="142.1" y="138.7" width="1.9" height="1.9"/><rect x="135.1" y="136.6" width="1.9" height="1.9"/><rect x="160.3" y="158.0" width="1.9" height="1.9"/><rect x="155.2" y="152.7" width="1.9" height="1.9"/><rect x="131.9" y="131.9" width="1.9" height="1.9"/><rect x="155.3" y="161.4" width="1.9" height="1.9"/><rect x="159.5" y="159.7" width="1.9" height="1.9"/><rect x="167.3" y="152.8" width="1.9" height="1.9"/><rect x="140.6" y="144.7" width="1.9" height="1.9"/><rect x="152.7" y="145.3" width="1.9" height="1.9"/><rect x="168.9" y="151.8" width="1.9" height="1.9"/><rect x="144.9" y="134.5" width="1.9" height="1.9"/><rect x="158.3" y="145.0" width="1.9" height="1.9"/><rect x="168.6" y="139.5" width="1.9" height="1.9"/><rect x="157.1" y="164.8" width="1.9" height="1.9"/><rect x="146.9" y="144.2" width="1.9" height="1.9"/><rect x="168.3" y="156.0" width="1.9" height="1.9"/><rect x="137.4" y="129.9" width="1.9" height="1.9"/><rect x="172.6" y="145.7" width="1.9" height="1.9"/><rect x="161.0" y="135.8" width="1.9" height="1.9"/><rect x="167.3" y="148.2" width="1.9" height="1.9"/><rect x="144.0" y="142.5" width="1.9" height="1.9"/><rect x="149.9" y="133.3" width="1.9" height="1.9"/><rect x="140.1" y="142.1" width="1.9" height="1.9"/><rect x="140.2" y="134.0" width="1.9" height="1.9"/><rect x="152.9" y="154.5" width="1.9" height="1.9"/><rect x="136.4" y="146.5" width="1.9" height="1.9"/><rect x="165.1" y="138.9" width="1.9" height="1.9"/><rect x="170.6" y="156.6" width="1.9" height="1.9"/><rect x="156.8" y="138.2" width="1.9" height="1.9"/><rect x="170.8" y="140.6" width="1.9" height="1.9"/><rect x="136.1" y="129.9" width="1.9" height="1.9"/><rect x="160.9" y="152.0" width="1.9" height="1.9"/><rect x="144.3" y="135.7" width="1.9" height="1.9"/><rect x="123.8" y="141.8" width="1.9" height="1.9"/><rect x="119.1" y="142.2" width="1.9" height="1.9"/><rect x="119.7" y="148.2" width="1.9" height="1.9"/><rect x="120.1" y="149.2" width="1.9" height="1.9"/><rect x="119.4" y="143.5" width="1.9" height="1.9"/><rect x="120.9" y="139.9" width="1.9" height="1.9"/><rect x="116.1" y="140.5" width="1.9" height="1.9"/><rect x="115.9" y="142.2" width="1.9" height="1.9"/><rect x="114.4" y="146.1" width="1.9" height="1.9"/><rect x="125.1" y="145.7" width="1.9" height="1.9"/><rect x="118.6" y="148.4" width="1.9" height="1.9"/><rect x="121.3" y="147.6" width="1.9" height="1.9"/><rect x="123.0" y="142.2" width="1.9" height="1.9"/><rect x="114.5" y="142.7" width="1.9" height="1.9"/><rect x="89.7" y="141.1" width="1.9" height="1.9"/><rect x="106.8" y="125.5" width="1.9" height="1.9"/><rect x="99.7" y="136.4" width="1.9" height="1.9"/><rect x="96.1" y="129.6" width="1.9" height="1.9"/><rect x="110.9" y="142.4" width="1.9" height="1.9"/><rect x="104.8" y="143.0" width="1.9" height="1.9"/><rect x="109.0" y="144.5" width="1.9" height="1.9"/><rect x="105.2" y="139.4" width="1.9" height="1.9"/><rect x="84.8" y="131.5" width="1.9" height="1.9"/><rect x="93.0" y="141.9" width="1.9" height="1.9"/></g><g fill="none" stroke="#3b74aa" stroke-width="2.35" stroke-linejoin="round"><path d="M113.5,139.5 C116,135.5 124,136.5 128.5,140.5 C132,144 130.5,152 126,154 C121.5,155.5 115.5,152.5 113.5,148.5 C112,145.5 112,142 113.5,139.5 Z"/><path d="M126.4,133.1 L128.8,130.6 L137.9,129 L144.5,127.3 L152.7,128.1 L161,129.8 L167.6,133.9 L172.5,139.7 L176.6,143 L177.5,149.6 L175,155.8 L171,161.5 L166.2,166.3 L160.5,168.3 L154.5,167.5 L150.7,164.7 L147.4,159 L144.9,154.2 L139.6,151.2 L135.4,147.9 L132.1,142.1 L128.8,138 Z"/></g><rect x="20" y="18.85" width="243.10" height="169.85" fill="none" stroke="#111" stroke-width="1.8"/><g stroke="#111" stroke-width="1.2"><line x1="55.3" y1="15.6" x2="55.3" y2="18.85"/><line x1="143.6" y1="15.6" x2="143.6" y2="18.85"/><line x1="231.5" y1="15.6" x2="231.5" y2="18.85"/><line x1="53.4" y1="188.70" x2="53.4" y2="191.90"/><line x1="145.0" y1="188.70" x2="145.0" y2="191.90"/><line x1="237.8" y1="188.70" x2="237.8" y2="191.90"/><line x1="16.9" y1="76.9" x2="20" y2="76.9"/><line x1="16.9" y1="135.7" x2="20" y2="135.7"/><line x1="263.10" y1="75.4" x2="266.30" y2="75.4"/><line x1="263.10" y1="134.3" x2="266.30" y2="134.3"/></g><g font-family="'Liberation Sans', Arial, sans-serif"><text x="55.5" y="14.6" font-size="7.80" text-anchor="middle" fill="#262626" stroke="#262626" stroke-width="0.25">100°E</text><text x="143.3" y="14.6" font-size="7.80" text-anchor="middle" fill="#262626" stroke="#262626" stroke-width="0.25">102°E</text><text x="231.6" y="14.6" font-size="7.80" text-anchor="middle" fill="#262626" stroke="#262626" stroke-width="0.25">104°E</text><text x="14.9" y="76.8" font-size="7.80" text-anchor="middle" fill="#262626" stroke="#262626" stroke-width="0.25" transform="rotate(-90 14.9 76.8)">41°N</text><text x="14.9" y="135.9" font-size="7.80" text-anchor="middle" fill="#262626" stroke="#262626" stroke-width="0.25" transform="rotate(-90 14.9 135.9)">40°N</text><text x="23.1" y="30.9" font-size="7.90" text-anchor="start" fill="#1a1a1a" stroke="#1a1a1a" stroke-width="0.15" font-weight="bold">Height (m)</text><rect x="31.0" y="39.4" width="1.8" height="1.8" fill="#e2f21c"/><text x="45.8" y="43.0" font-size="7.90" text-anchor="start" fill="#262626" stroke="#262626" stroke-width="0.25">&lt; 200</text><rect x="31.0" y="52.0" width="1.8" height="1.8" fill="#10d224"/><text x="45.8" y="55.6" font-size="7.90" text-anchor="start" fill="#262626" stroke="#262626" stroke-width="0.25">200 - 350</text><rect x="31.0" y="65.0" width="1.8" height="1.8" fill="#ff1c1c"/><text x="45.8" y="68.6" font-size="7.90" text-anchor="start" fill="#262626" stroke="#262626" stroke-width="0.25">&gt; 350</text><path d="M199.4,35.6 V30.8 H226.3 V35.2 H252.6 V30.1" fill="none" stroke="#1a1a1a" stroke-width="1.2"/><text x="252.6" y="28.1" font-size="7.80" text-anchor="middle" fill="#262626" stroke="#262626" stroke-width="0.25">km</text><text x="199.2" y="44.9" font-size="7.80" text-anchor="middle" fill="#262626" stroke="#262626" stroke-width="0.25">0</text><text x="226.0" y="44.9" font-size="7.80" text-anchor="middle" fill="#262626" stroke="#262626" stroke-width="0.25">50</text><text x="252.6" y="44.9" font-size="7.80" text-anchor="middle" fill="#262626" stroke="#262626" stroke-width="0.25">100</text><text x="92.5" y="155.5" font-size="7.80" text-anchor="start" fill="#262626" stroke="#262626" stroke-width="0.25" transform="rotate(26.5 92.5 155.5)">Beida Mts</text><text x="182.5" y="159.5" font-size="7.80" text-anchor="start" fill="#262626" stroke="#262626" stroke-width="0.25" transform="rotate(-34 182.5 159.5)">Yabulai Mts</text><g transform="translate(0.00 0.00)"><text x="212.9" y="149.1" font-size="6.80" text-anchor="start" fill="#1a1a1a" stroke="#1a1a1a" stroke-width="0.15" font-weight="bold">Altitude (m)</text><rect x="212.9" y="155.8" width="7.3" height="25.8" fill="url(#cbar)"/><text x="226.9" y="158.3" font-size="6.70" text-anchor="start" fill="#262626" stroke="#262626" stroke-width="0.25">High : 1774</text><text x="226.9" y="183.8" font-size="6.70" text-anchor="start" fill="#262626" stroke="#262626" stroke-width="0.25">Low : 869</text></g><rect x="23.7" y="177.4" width="18.8" height="7.9" rx="1.4" fill="#fff" stroke="#3c88c8" stroke-width="2.4"/><text x="50.3" y="184.4" font-size="8.20" text-anchor="start" fill="#262626" stroke="#262626" stroke-width="0.25">Lake Group Area</text></g></g><text x="4.6" y="16.0" font-size="10.2" fill="#2a2a2a" stroke="#2a2a2a" stroke-width="0.3" font-family="'Liberation Sans', Arial, sans-serif">(a)</text><g transform="translate(276.00 -1.20)"><path d="M134.4,26.3 L137.2,27.6 L137.6,30.5 L136.2,32.5 L136.5,35.0 L138.5,37.0 L141.0,35.5 L142.5,32.0 L144.5,29.7 L145.8,31.5 L145.5,35.0 L144.0,40.3 L143.5,45.4 L144.6,50.5 L147.6,54.6 L152.7,55.6 L160.0,55.9 L171.8,55.9 L175.5,54.8 L193.6,54.3 L195.1,55.9 L193.6,61.0 L199.5,62.5 L203.8,63.3 L210.2,64.5 L216.5,66.4 L224.1,68.3 L226.7,72.8 L231.7,76.0 L236.8,80.4 L243.2,83.6 L244.4,85.5 L241.9,86.7 L245.7,90.5 L253.3,94.4 L259.7,96.9 L258.4,99.4 L253.3,98.8 L245.7,95.6 L241.9,93.1 L235.5,92.5 L227.9,91.8 L224.1,88.6 L219.0,85.5 L214.0,83.6 L208.9,82.9 L203.8,84.2 L201.0,88.8 L206.8,91.0 L206.1,95.4 L201.0,96.8 L198.1,99.0 L201.0,101.9 L203.5,104.0 L201.7,107.0 L199.5,109.5 L200.5,114.0 L207.8,111.6 L213.6,110.9 L222.8,113.0 L228.2,116.0 L231.5,119.0 L232.5,121.8 L234.0,124.8 L241.0,124.5 L246.0,124.7 L247.8,127.0 L245.7,130.0 L238.0,131.3 L236.0,137.8 L233.5,137.5 L232.0,131.5 L228.0,131.3 L222.8,129.5 L216.7,131.0 L210.0,133.0 L204.0,136.2 L196.3,142.8 L190.0,147.5 L185.0,151.5 L180.0,156.0 L176.7,160.0 L173.8,162.5 L169.5,166.5 L174.5,170.0 L178.0,173.5 L181.0,175.2 L186.0,175.5 L191.0,176.5 L193.8,178.5 L193.5,181.5 L190.0,182.2 L186.0,181.8 L184.5,184.0 L184.0,188.0 L180.0,188.0 L178.5,183.0 L176.0,179.5 L171.0,177.0 L167.0,173.0 L165.0,170.5 L162.2,169.5 L156.4,171.2 L149.1,173.4 L143.3,174.8 L137.5,171.9 L134.5,166.8 L128.7,163.9 L122.0,161.5 L114.0,157.5 L105.0,152.8 L98.0,149.5 L93.2,148.0 L88.6,147.5 L85.0,148.6 L80.0,151.5 L74.0,154.8 L70.5,156.2 L69.8,160.0 L67.8,165.0 L65.8,169.0 L63.0,172.0 L62.0,176.3 L58.2,176.6 L58.0,173.0 L62.0,169.0 L64.3,165.0 L65.2,160.0 L64.6,156.6 L62.2,156.2 L58.1,155.8 L50.5,154.5 L42.8,154.2 L39.0,151.0 L32.7,148.9 L30.2,145.7 L26.3,141.9 L24.4,137.9 L25.1,133.5 L30.2,130.3 L35.2,126.5 L39.0,122.7 L44.1,119.5 L49.2,116.3 L58.1,112.5 L61.3,108.5 L66.4,107.3 L79.1,106.0 L91.8,105.4 L104.5,104.1 L110.9,101.5 L116.0,97.7 L117.9,92.6 L118.5,85.0 L119.0,75.0 L119.6,62.0 L119.6,55.9 L121.2,45.1 L124.2,40.3 L126.8,35.2 L128.8,32.2 L131.3,30.2 L131.8,27.6 Z" fill="#dffa04"/><polygon points="41.6,137.0 43.5,133.5 47.0,132.0 53.0,131.3 61.9,131.6 71.1,134.8 76.1,138.5 77.8,142.0 77.7,145.5 75.0,148.8 67.8,150.6 62.3,151.6 58.0,152.6 51.7,151.4 45.0,147.2 39.5,141.7" fill="#fff"/><polygon points="80.0,126.0 92.0,121.0 105.0,120.0 118.0,123.0 130.0,121.0 145.0,124.0 160.0,124.0 176.0,126.0 190.0,128.0 198.0,132.0 190.0,142.0 182.0,150.0 176.0,160.0 170.0,167.0 158.0,170.0 145.0,174.0 137.0,171.0 128.0,163.0 112.0,156.0 98.0,149.0 86.0,146.0 79.0,138.0" fill="#efdca6" opacity="0.85"/><polygon points="175.0,151.0 177.0,141.0 183.0,132.0 191.0,124.0 197.0,117.0 204.0,113.0 212.0,112.5 217.0,117.0 217.0,125.0 211.0,130.0 203.0,134.0 195.0,139.0 188.0,145.0 183.0,151.0 179.0,157.0" fill="#d89a60" opacity="0.85"/><polygon points="226.0,130.0 231.0,128.8 235.0,131.0 234.5,138.5 232.0,137.5 229.0,133.0" fill="#dcaa70" opacity="0.7"/><polygon points="27.5,140.5 33.0,142.0 40.0,145.5 47.0,149.8 55.0,152.8 61.0,154.5 58.0,156.0 50.0,155.0 42.0,154.0 35.0,150.0 30.0,146.0 27.5,143.0" fill="#d49658"/><polygon points="128.0,163.0 138.0,165.0 146.0,167.0 152.0,170.0 158.0,171.0 150.0,173.5 140.0,173.0 133.0,168.0" fill="#e6b47e" opacity="0.6"/><polygon points="146.0,54.8 160.0,55.2 172.0,55.2 172.0,58.3 160.0,59.6 150.0,59.2 146.5,57.0" fill="#4a9ab4" opacity="0.6"/><polygon points="196.0,61.5 204.0,63.0 212.0,64.8 220.0,66.8 224.0,68.6 225.0,71.0 218.0,70.0 208.0,68.0 198.0,66.0" fill="#b0d8c0" opacity="0.45"/><g fill="#6fb4c0"><rect x="213.5" y="65.2" width="1.8" height="1.8"/><rect x="208.2" y="65.8" width="1.8" height="1.8"/><rect x="205.0" y="65.2" width="1.8" height="1.8"/><rect x="223.2" y="69.1" width="1.8" height="1.8"/><rect x="217.0" y="67.8" width="1.8" height="1.8"/><rect x="211.9" y="67.5" width="1.8" height="1.8"/><rect x="198.7" y="65.1" width="1.8" height="1.8"/><rect x="221.9" y="69.0" width="1.8" height="1.8"/><rect x="207.0" y="64.1" width="1.8" height="1.8"/><rect x="208.2" y="64.3" width="1.8" height="1.8"/><rect x="195.9" y="61.5" width="1.8" height="1.8"/><rect x="209.5" y="65.3" width="1.8" height="1.8"/><rect x="211.1" y="67.7" width="1.8" height="1.8"/><rect x="211.2" y="66.5" width="1.8" height="1.8"/><rect x="200.3" y="62.2" width="1.8" height="1.8"/><rect x="205.2" y="66.3" width="1.8" height="1.8"/><rect x="214.9" y="67.0" width="1.8" height="1.8"/><rect x="202.6" y="63.4" width="1.8" height="1.8"/><rect x="197.1" y="63.8" width="1.8" height="1.8"/><rect x="210.3" y="67.5" width="1.8" height="1.8"/><rect x="219.4" y="68.2" width="1.8" height="1.8"/><rect x="207.5" y="66.1" width="1.8" height="1.8"/><rect x="197.9" y="61.5" width="1.8" height="1.8"/><rect x="199.9" y="62.3" width="1.8" height="1.8"/><rect x="217.6" y="68.1" width="1.8" height="1.8"/><rect x="206.4" y="63.5" width="1.8" height="1.8"/><rect x="209.7" y="65.8" width="1.8" height="1.8"/><rect x="212.5" y="65.4" width="1.8" height="1.8"/><rect x="210.3" y="65.9" width="1.8" height="1.8"/><rect x="210.1" y="64.3" width="1.8" height="1.8"/></g><polygon points="121.5,45.5 124.3,40.0 127.0,35.3 129.0,32.5 131.0,35.0 129.0,40.0 126.0,45.0 123.0,49.0" fill="#4a9ab4" opacity="0.35"/><g fill="#1f86a8"><rect x="155.5" y="55.0" width="1.8" height="1.8"/><rect x="146.4" y="56.0" width="1.8" height="1.8"/><rect x="151.5" y="57.3" width="1.8" height="1.8"/><rect x="166.3" y="57.4" width="1.8" height="1.8"/><rect x="157.0" y="55.0" width="1.8" height="1.8"/><rect x="155.1" y="56.2" width="1.8" height="1.8"/><rect x="147.3" y="56.2" width="1.8" height="1.8"/><rect x="157.9" y="57.3" width="1.8" height="1.8"/><rect x="168.3" y="57.6" width="1.8" height="1.8"/><rect x="161.4" y="57.5" width="1.8" height="1.8"/><rect x="162.5" y="58.0" width="1.8" height="1.8"/><rect x="163.3" y="57.2" width="1.8" height="1.8"/><rect x="151.5" y="58.3" width="1.8" height="1.8"/><rect x="155.1" y="56.9" width="1.8" height="1.8"/><rect x="153.2" y="55.4" width="1.8" height="1.8"/><rect x="153.0" y="58.4" width="1.8" height="1.8"/><rect x="164.4" y="56.1" width="1.8" height="1.8"/><rect x="153.8" y="57.0" width="1.8" height="1.8"/><rect x="162.8" y="55.2" width="1.8" height="1.8"/><rect x="169.8" y="55.4" width="1.8" height="1.8"/><rect x="151.7" y="58.0" width="1.8" height="1.8"/><rect x="149.1" y="57.2" width="1.8" height="1.8"/><rect x="150.3" y="56.8" width="1.8" height="1.8"/><rect x="152.3" y="55.7" width="1.8" height="1.8"/><rect x="169.6" y="56.1" width="1.8" height="1.8"/><rect x="156.5" y="56.9" width="1.8" height="1.8"/><rect x="152.4" y="54.7" width="1.8" height="1.8"/><rect x="155.1" y="55.2" width="1.8" height="1.8"/><rect x="169.4" y="57.3" width="1.8" height="1.8"/><rect x="163.3" y="55.1" width="1.8" height="1.8"/><rect x="147.6" y="55.4" width="1.8" height="1.8"/><rect x="156.9" y="58.2" width="1.8" height="1.8"/><rect x="165.7" y="57.8" width="1.8" height="1.8"/><rect x="150.0" y="55.8" width="1.8" height="1.8"/><rect x="166.0" y="57.9" width="1.8" height="1.8"/><rect x="164.5" y="57.5" width="1.8" height="1.8"/><rect x="166.3" y="56.8" width="1.8" height="1.8"/><rect x="161.2" y="56.2" width="1.8" height="1.8"/><rect x="165.9" y="55.5" width="1.8" height="1.8"/><rect x="152.1" y="55.6" width="1.8" height="1.8"/><rect x="152.8" y="56.9" width="1.8" height="1.8"/><rect x="146.9" y="56.4" width="1.8" height="1.8"/><rect x="146.1" y="56.3" width="1.8" height="1.8"/><rect x="162.8" y="57.0" width="1.8" height="1.8"/><rect x="149.2" y="54.4" width="1.8" height="1.8"/><rect x="124.5" y="43.0" width="1.8" height="1.8"/><rect x="121.3" y="45.3" width="1.8" height="1.8"/><rect x="123.9" y="40.4" width="1.8" height="1.8"/><rect x="126.6" y="34.5" width="1.8" height="1.8"/><rect x="127.3" y="39.7" width="1.8" height="1.8"/><rect x="122.1" y="45.6" width="1.8" height="1.8"/><rect x="127.1" y="35.2" width="1.8" height="1.8"/><rect x="128.1" y="31.8" width="1.8" height="1.8"/><rect x="123.9" y="41.7" width="1.8" height="1.8"/><rect x="126.7" y="34.3" width="1.8" height="1.8"/><rect x="129.0" y="35.0" width="1.8" height="1.8"/><rect x="128.3" y="37.6" width="1.8" height="1.8"/><rect x="124.6" y="41.2" width="1.8" height="1.8"/><rect x="124.6" y="42.2" width="1.8" height="1.8"/><rect x="126.8" y="35.8" width="1.8" height="1.8"/><rect x="124.7" y="37.8" width="1.8" height="1.8"/><rect x="125.3" y="36.0" width="1.8" height="1.8"/><rect x="125.7" y="39.2" width="1.8" height="1.8"/><rect x="120.9" y="45.2" width="1.8" height="1.8"/><rect x="124.1" y="45.2" width="1.8" height="1.8"/><rect x="125.3" y="39.2" width="1.8" height="1.8"/><rect x="124.3" y="42.0" width="1.8" height="1.8"/><rect x="129.4" y="34.9" width="1.8" height="1.8"/><rect x="126.6" y="34.0" width="1.8" height="1.8"/><rect x="128.5" y="36.0" width="1.8" height="1.8"/><rect x="127.1" y="36.5" width="1.8" height="1.8"/><rect x="125.3" y="43.4" width="1.8" height="1.8"/><rect x="122.7" y="42.9" width="1.8" height="1.8"/><rect x="123.8" y="42.3" width="1.8" height="1.8"/><rect x="127.2" y="38.4" width="1.8" height="1.8"/><rect x="134.2" y="41.6" width="1.6" height="1.6"/><rect x="138.4" y="37.3" width="1.6" height="1.6"/><rect x="139.0" y="40.2" width="1.6" height="1.6"/><rect x="136.8" y="39.7" width="1.6" height="1.6"/><rect x="140.9" y="39.1" width="1.6" height="1.6"/><rect x="138.3" y="40.4" width="1.6" height="1.6"/></g><polygon points="141.0,88.0 147.0,82.0 154.0,80.0 162.0,83.0 166.0,89.0 164.0,97.0 160.0,104.0 153.0,108.0 146.0,109.0 141.0,100.0" fill="#eef0c4" opacity="0.6"/><g fill="#c4e43c" opacity="0.8"><rect x="202.3" y="128.1" width="1.7" height="1.7"/><rect x="130.8" y="108.4" width="1.7" height="1.7"/><rect x="74.8" y="153.0" width="1.7" height="1.7"/><rect x="130.3" y="61.0" width="1.7" height="1.7"/><rect x="162.0" y="119.6" width="1.7" height="1.7"/><rect x="60.8" y="154.6" width="1.7" height="1.7"/><rect x="171.0" y="162.4" width="1.7" height="1.7"/><rect x="118.4" y="148.4" width="1.7" height="1.7"/><rect x="79.4" y="122.3" width="1.7" height="1.7"/><rect x="159.6" y="157.7" width="1.7" height="1.7"/><rect x="146.1" y="132.6" width="1.7" height="1.7"/><rect x="107.0" y="152.3" width="1.7" height="1.7"/><rect x="193.9" y="111.1" width="1.7" height="1.7"/><rect x="180.5" y="131.4" width="1.7" height="1.7"/><rect x="114.6" y="154.9" width="1.7" height="1.7"/><rect x="127.4" y="62.7" width="1.7" height="1.7"/><rect x="123.2" y="137.1" width="1.7" height="1.7"/><rect x="171.8" y="101.9" width="1.7" height="1.7"/><rect x="154.7" y="84.1" width="1.7" height="1.7"/><rect x="123.3" y="57.6" width="1.7" height="1.7"/><rect x="229.6" y="79.7" width="1.7" height="1.7"/><rect x="181.2" y="62.5" width="1.7" height="1.7"/><rect x="177.3" y="98.1" width="1.7" height="1.7"/><rect x="197.9" y="110.8" width="1.7" height="1.7"/><rect x="163.8" y="159.9" width="1.7" height="1.7"/><rect x="187.1" y="102.9" width="1.7" height="1.7"/><rect x="184.2" y="150.2" width="1.7" height="1.7"/><rect x="183.3" y="181.4" width="1.7" height="1.7"/><rect x="171.4" y="69.4" width="1.7" height="1.7"/><rect x="168.2" y="145.7" width="1.7" height="1.7"/><rect x="189.5" y="108.4" width="1.7" height="1.7"/><rect x="124.5" y="132.7" width="1.7" height="1.7"/><rect x="130.2" y="148.8" width="1.7" height="1.7"/><rect x="32.8" y="128.3" width="1.7" height="1.7"/><rect x="192.0" y="92.1" width="1.7" height="1.7"/><rect x="115.2" y="143.2" width="1.7" height="1.7"/><rect x="171.2" y="75.8" width="1.7" height="1.7"/><rect x="172.9" y="157.7" width="1.7" height="1.7"/><rect x="158.7" y="114.9" width="1.7" height="1.7"/><rect x="116.2" y="153.4" width="1.7" height="1.7"/><rect x="196.2" y="64.7" width="1.7" height="1.7"/><rect x="131.8" y="137.4" width="1.7" height="1.7"/><rect x="61.2" y="114.1" width="1.7" height="1.7"/><rect x="173.7" y="127.2" width="1.7" height="1.7"/><rect x="252.8" y="96.5" width="1.7" height="1.7"/><rect x="158.9" y="84.0" width="1.7" height="1.7"/><rect x="166.6" y="89.7" width="1.7" height="1.7"/><rect x="126.9" y="146.6" width="1.7" height="1.7"/><rect x="105.7" y="112.2" width="1.7" height="1.7"/><rect x="134.7" y="150.1" width="1.7" height="1.7"/><rect x="185.8" y="76.2" width="1.7" height="1.7"/><rect x="169.0" y="145.9" width="1.7" height="1.7"/><rect x="149.4" y="147.1" width="1.7" height="1.7"/><rect x="173.0" y="175.5" width="1.7" height="1.7"/><rect x="84.5" y="133.9" width="1.7" height="1.7"/><rect x="194.8" y="68.1" width="1.7" height="1.7"/><rect x="201.2" y="93.8" width="1.7" height="1.7"/><rect x="149.6" y="65.4" width="1.7" height="1.7"/><rect x="175.5" y="127.0" width="1.7" height="1.7"/><rect x="150.2" y="138.0" width="1.7" height="1.7"/><rect x="143.7" y="114.9" width="1.7" height="1.7"/><rect x="121.9" y="135.9" width="1.7" height="1.7"/><rect x="183.1" y="67.4" width="1.7" height="1.7"/><rect x="187.3" y="95.0" width="1.7" height="1.7"/><rect x="182.1" y="185.9" width="1.7" height="1.7"/><rect x="244.7" y="127.1" width="1.7" height="1.7"/><rect x="184.1" y="180.1" width="1.7" height="1.7"/><rect x="75.5" y="150.0" width="1.7" height="1.7"/><rect x="62.6" y="121.5" width="1.7" height="1.7"/><rect x="194.2" y="134.3" width="1.7" height="1.7"/><rect x="227.4" y="122.5" width="1.7" height="1.7"/><rect x="65.8" y="120.1" width="1.7" height="1.7"/><rect x="175.7" y="97.7" width="1.7" height="1.7"/><rect x="103.4" y="134.0" width="1.7" height="1.7"/><rect x="70.2" y="108.4" width="1.7" height="1.7"/><rect x="112.6" y="130.9" width="1.7" height="1.7"/><rect x="152.9" y="154.0" width="1.7" height="1.7"/><rect x="135.7" y="38.8" width="1.7" height="1.7"/><rect x="195.7" y="90.3" width="1.7" height="1.7"/><rect x="147.0" y="65.7" width="1.7" height="1.7"/><rect x="107.0" y="105.9" width="1.7" height="1.7"/><rect x="116.8" y="131.4" width="1.7" height="1.7"/><rect x="119.9" y="129.5" width="1.7" height="1.7"/><rect x="191.1" y="68.1" width="1.7" height="1.7"/><rect x="134.5" y="69.2" width="1.7" height="1.7"/><rect x="108.1" y="152.8" width="1.7" height="1.7"/><rect x="202.7" y="71.0" width="1.7" height="1.7"/><rect x="54.6" y="113.7" width="1.7" height="1.7"/><rect x="172.1" y="111.0" width="1.7" height="1.7"/><rect x="139.0" y="171.5" width="1.7" height="1.7"/><rect x="139.5" y="92.6" width="1.7" height="1.7"/><rect x="164.9" y="122.0" width="1.7" height="1.7"/><rect x="197.7" y="117.1" width="1.7" height="1.7"/><rect x="43.5" y="119.5" width="1.7" height="1.7"/><rect x="137.5" y="87.2" width="1.7" height="1.7"/><rect x="135.8" y="131.1" width="1.7" height="1.7"/><rect x="153.6" y="120.6" width="1.7" height="1.7"/><rect x="96.8" y="139.5" width="1.7" height="1.7"/><rect x="160.5" y="68.9" width="1.7" height="1.7"/><rect x="199.7" y="74.8" width="1.7" height="1.7"/><rect x="224.8" y="88.1" width="1.7" height="1.7"/><rect x="146.6" y="153.2" width="1.7" height="1.7"/><rect x="211.7" y="81.3" width="1.7" height="1.7"/><rect x="135.0" y="152.1" width="1.7" height="1.7"/><rect x="79.7" y="132.9" width="1.7" height="1.7"/><rect x="135.6" y="130.1" width="1.7" height="1.7"/><rect x="60.6" y="111.1" width="1.7" height="1.7"/><rect x="136.4" y="67.1" width="1.7" height="1.7"/><rect x="175.6" y="131.7" width="1.7" height="1.7"/><rect x="173.5" y="57.8" width="1.7" height="1.7"/><rect x="65.2" y="162.5" width="1.7" height="1.7"/><rect x="103.0" y="114.2" width="1.7" height="1.7"/><rect x="148.0" y="128.2" width="1.7" height="1.7"/><rect x="159.8" y="91.1" width="1.7" height="1.7"/><rect x="176.2" y="76.1" width="1.7" height="1.7"/><rect x="166.5" y="118.2" width="1.7" height="1.7"/><rect x="182.6" y="98.6" width="1.7" height="1.7"/><rect x="147.2" y="159.8" width="1.7" height="1.7"/><rect x="145.7" y="95.7" width="1.7" height="1.7"/><rect x="123.5" y="68.2" width="1.7" height="1.7"/><rect x="134.1" y="134.3" width="1.7" height="1.7"/><rect x="195.8" y="80.9" width="1.7" height="1.7"/><rect x="125.9" y="137.7" width="1.7" height="1.7"/><rect x="137.4" y="156.8" width="1.7" height="1.7"/><rect x="138.8" y="123.9" width="1.7" height="1.7"/><rect x="158.2" y="157.7" width="1.7" height="1.7"/><rect x="146.1" y="153.2" width="1.7" height="1.7"/><rect x="110.9" y="134.8" width="1.7" height="1.7"/><rect x="212.3" y="122.4" width="1.7" height="1.7"/><rect x="26.1" y="131.6" width="1.7" height="1.7"/><rect x="38.3" y="124.7" width="1.7" height="1.7"/><rect x="116.5" y="125.9" width="1.7" height="1.7"/><rect x="138.9" y="124.4" width="1.7" height="1.7"/><rect x="175.9" y="81.0" width="1.7" height="1.7"/><rect x="208.6" y="75.4" width="1.7" height="1.7"/><rect x="170.8" y="126.7" width="1.7" height="1.7"/><rect x="193.2" y="67.2" width="1.7" height="1.7"/><rect x="155.3" y="98.4" width="1.7" height="1.7"/><rect x="94.4" y="129.2" width="1.7" height="1.7"/><rect x="174.1" y="99.5" width="1.7" height="1.7"/><rect x="39.8" y="129.9" width="1.7" height="1.7"/><rect x="213.9" y="81.8" width="1.7" height="1.7"/><rect x="192.2" y="111.3" width="1.7" height="1.7"/><rect x="226.1" y="84.7" width="1.7" height="1.7"/><rect x="153.6" y="95.2" width="1.7" height="1.7"/><rect x="165.2" y="97.4" width="1.7" height="1.7"/><rect x="125.4" y="71.3" width="1.7" height="1.7"/><rect x="108.7" y="122.0" width="1.7" height="1.7"/><rect x="136.2" y="77.7" width="1.7" height="1.7"/><rect x="120.8" y="131.1" width="1.7" height="1.7"/><rect x="87.5" y="114.3" width="1.7" height="1.7"/><rect x="67.9" y="125.1" width="1.7" height="1.7"/><rect x="150.5" y="131.1" width="1.7" height="1.7"/><rect x="214.4" y="74.0" width="1.7" height="1.7"/><rect x="182.5" y="138.9" width="1.7" height="1.7"/><rect x="148.2" y="124.3" width="1.7" height="1.7"/><rect x="72.8" y="152.6" width="1.7" height="1.7"/><rect x="166.9" y="96.2" width="1.7" height="1.7"/><rect x="106.6" y="125.5" width="1.7" height="1.7"/><rect x="146.4" y="101.0" width="1.7" height="1.7"/><rect x="254.8" y="96.9" width="1.7" height="1.7"/><rect x="110.4" y="143.0" width="1.7" height="1.7"/><rect x="156.7" y="164.2" width="1.7" height="1.7"/><rect x="155.0" y="163.1" width="1.7" height="1.7"/><rect x="119.7" y="159.0" width="1.7" height="1.7"/><rect x="128.3" y="83.3" width="1.7" height="1.7"/><rect x="162.9" y="149.5" width="1.7" height="1.7"/><rect x="160.4" y="87.3" width="1.7" height="1.7"/><rect x="181.2" y="142.1" width="1.7" height="1.7"/><rect x="187.9" y="100.8" width="1.7" height="1.7"/><rect x="133.3" y="71.2" width="1.7" height="1.7"/><rect x="193.1" y="99.0" width="1.7" height="1.7"/><rect x="162.2" y="74.5" width="1.7" height="1.7"/><rect x="118.3" y="95.0" width="1.7" height="1.7"/><rect x="230.9" y="125.5" width="1.7" height="1.7"/><rect x="157.2" y="111.5" width="1.7" height="1.7"/><rect x="192.2" y="93.4" width="1.7" height="1.7"/><rect x="199.0" y="88.6" width="1.7" height="1.7"/><rect x="144.1" y="93.7" width="1.7" height="1.7"/><rect x="152.2" y="98.6" width="1.7" height="1.7"/><rect x="171.0" y="62.9" width="1.7" height="1.7"/><rect x="253.2" y="97.7" width="1.7" height="1.7"/><rect x="48.9" y="122.8" width="1.7" height="1.7"/><rect x="146.3" y="73.4" width="1.7" height="1.7"/><rect x="179.3" y="110.5" width="1.7" height="1.7"/><rect x="166.9" y="99.5" width="1.7" height="1.7"/><rect x="235.9" y="133.1" width="1.7" height="1.7"/><rect x="102.4" y="122.9" width="1.7" height="1.7"/><rect x="153.9" y="165.6" width="1.7" height="1.7"/><rect x="206.3" y="63.7" width="1.7" height="1.7"/><rect x="169.7" y="175.1" width="1.7" height="1.7"/><rect x="166.6" y="158.8" width="1.7" height="1.7"/><rect x="131.6" y="152.9" width="1.7" height="1.7"/><rect x="219.8" y="80.9" width="1.7" height="1.7"/><rect x="85.5" y="138.8" width="1.7" height="1.7"/><rect x="176.1" y="148.5" width="1.7" height="1.7"/><rect x="129.6" y="32.4" width="1.7" height="1.7"/><rect x="135.2" y="158.2" width="1.7" height="1.7"/><rect x="211.6" y="116.6" width="1.7" height="1.7"/><rect x="67.8" y="112.1" width="1.7" height="1.7"/><rect x="91.3" y="114.2" width="1.7" height="1.7"/><rect x="127.9" y="142.8" width="1.7" height="1.7"/><rect x="133.5" y="55.2" width="1.7" height="1.7"/><rect x="227.3" y="83.1" width="1.7" height="1.7"/><rect x="183.1" y="179.3" width="1.7" height="1.7"/><rect x="171.8" y="92.2" width="1.7" height="1.7"/><rect x="42.6" y="124.5" width="1.7" height="1.7"/><rect x="159.9" y="85.3" width="1.7" height="1.7"/><rect x="111.0" y="123.1" width="1.7" height="1.7"/><rect x="144.7" y="163.2" width="1.7" height="1.7"/><rect x="107.0" y="102.3" width="1.7" height="1.7"/><rect x="129.5" y="46.2" width="1.7" height="1.7"/><rect x="150.3" y="157.8" width="1.7" height="1.7"/><rect x="158.2" y="126.5" width="1.7" height="1.7"/><rect x="174.2" y="93.4" width="1.7" height="1.7"/><rect x="218.1" y="115.0" width="1.7" height="1.7"/><rect x="162.8" y="57.7" width="1.7" height="1.7"/><rect x="196.9" y="136.6" width="1.7" height="1.7"/><rect x="145.8" y="77.7" width="1.7" height="1.7"/><rect x="127.5" y="116.1" width="1.7" height="1.7"/><rect x="188.8" y="127.6" width="1.7" height="1.7"/><rect x="131.7" y="163.0" width="1.7" height="1.7"/><rect x="228.4" y="118.4" width="1.7" height="1.7"/><rect x="130.9" y="160.8" width="1.7" height="1.7"/><rect x="128.5" y="139.3" width="1.7" height="1.7"/><rect x="164.9" y="105.8" width="1.7" height="1.7"/><rect x="150.2" y="127.8" width="1.7" height="1.7"/><rect x="221.8" y="117.7" width="1.7" height="1.7"/><rect x="67.0" y="126.3" width="1.7" height="1.7"/><rect x="96.1" y="140.3" width="1.7" height="1.7"/><rect x="152.2" y="71.7" width="1.7" height="1.7"/><rect x="135.9" y="159.4" width="1.7" height="1.7"/><rect x="36.6" y="139.5" width="1.7" height="1.7"/><rect x="73.9" y="149.1" width="1.7" height="1.7"/><rect x="110.9" y="144.8" width="1.7" height="1.7"/><rect x="173.1" y="91.6" width="1.7" height="1.7"/><rect x="165.3" y="105.2" width="1.7" height="1.7"/><rect x="151.4" y="145.5" width="1.7" height="1.7"/><rect x="158.7" y="165.8" width="1.7" height="1.7"/><rect x="107.6" y="106.8" width="1.7" height="1.7"/><rect x="194.0" y="96.7" width="1.7" height="1.7"/><rect x="164.5" y="61.7" width="1.7" height="1.7"/><rect x="174.3" y="68.8" width="1.7" height="1.7"/><rect x="184.4" y="57.6" width="1.7" height="1.7"/><rect x="143.1" y="98.6" width="1.7" height="1.7"/><rect x="147.2" y="130.2" width="1.7" height="1.7"/><rect x="192.3" y="121.0" width="1.7" height="1.7"/><rect x="150.8" y="129.9" width="1.7" height="1.7"/><rect x="149.8" y="121.8" width="1.7" height="1.7"/><rect x="200.7" y="71.4" width="1.7" height="1.7"/><rect x="180.4" y="69.8" width="1.7" height="1.7"/><rect x="201.5" y="84.3" width="1.7" height="1.7"/><rect x="88.8" y="136.5" width="1.7" height="1.7"/><rect x="129.2" y="55.4" width="1.7" height="1.7"/><rect x="125.3" y="119.5" width="1.7" height="1.7"/><rect x="114.0" y="116.4" width="1.7" height="1.7"/><rect x="154.6" y="85.5" width="1.7" height="1.7"/><rect x="84.6" y="116.2" width="1.7" height="1.7"/><rect x="129.1" y="44.2" width="1.7" height="1.7"/><rect x="135.4" y="40.1" width="1.7" height="1.7"/></g><g fill="#f4f8a0" opacity="0.8"><rect x="187.4" y="56.5" width="1.7" height="1.7"/><rect x="31.3" y="141.8" width="1.7" height="1.7"/><rect x="132.2" y="147.6" width="1.7" height="1.7"/><rect x="159.7" y="87.0" width="1.7" height="1.7"/><rect x="184.2" y="67.5" width="1.7" height="1.7"/><rect x="40.9" y="127.2" width="1.7" height="1.7"/><rect x="133.0" y="43.2" width="1.7" height="1.7"/><rect x="137.3" y="157.3" width="1.7" height="1.7"/><rect x="26.6" y="137.6" width="1.7" height="1.7"/><rect x="208.1" y="122.3" width="1.7" height="1.7"/><rect x="163.5" y="94.3" width="1.7" height="1.7"/><rect x="145.6" y="95.2" width="1.7" height="1.7"/><rect x="136.3" y="150.3" width="1.7" height="1.7"/><rect x="132.5" y="30.3" width="1.7" height="1.7"/><rect x="71.3" y="122.4" width="1.7" height="1.7"/><rect x="71.1" y="133.1" width="1.7" height="1.7"/><rect x="186.3" y="76.9" width="1.7" height="1.7"/><rect x="121.2" y="99.6" width="1.7" height="1.7"/><rect x="32.9" y="127.1" width="1.7" height="1.7"/><rect x="45.5" y="126.0" width="1.7" height="1.7"/><rect x="232.8" y="88.4" width="1.7" height="1.7"/><rect x="172.6" y="159.4" width="1.7" height="1.7"/><rect x="187.8" y="61.9" width="1.7" height="1.7"/><rect x="196.8" y="96.4" width="1.7" height="1.7"/><rect x="179.0" y="181.2" width="1.7" height="1.7"/><rect x="171.8" y="76.9" width="1.7" height="1.7"/><rect x="179.0" y="89.9" width="1.7" height="1.7"/><rect x="130.7" y="155.3" width="1.7" height="1.7"/><rect x="152.5" y="72.1" width="1.7" height="1.7"/><rect x="130.6" y="69.7" width="1.7" height="1.7"/><rect x="127.2" y="154.5" width="1.7" height="1.7"/><rect x="171.3" y="104.2" width="1.7" height="1.7"/><rect x="194.0" y="99.5" width="1.7" height="1.7"/><rect x="137.4" y="74.9" width="1.7" height="1.7"/><rect x="139.5" y="126.0" width="1.7" height="1.7"/><rect x="147.0" y="132.5" width="1.7" height="1.7"/><rect x="163.4" y="143.9" width="1.7" height="1.7"/><rect x="158.1" y="155.5" width="1.7" height="1.7"/><rect x="140.9" y="107.1" width="1.7" height="1.7"/><rect x="150.7" y="138.6" width="1.7" height="1.7"/><rect x="218.6" y="112.5" width="1.7" height="1.7"/><rect x="167.7" y="124.5" width="1.7" height="1.7"/><rect x="158.1" y="144.1" width="1.7" height="1.7"/><rect x="154.5" y="132.9" width="1.7" height="1.7"/><rect x="129.6" y="33.0" width="1.7" height="1.7"/><rect x="110.1" y="132.3" width="1.7" height="1.7"/><rect x="225.5" y="76.8" width="1.7" height="1.7"/><rect x="171.5" y="119.8" width="1.7" height="1.7"/><rect x="180.9" y="180.4" width="1.7" height="1.7"/><rect x="142.5" y="66.8" width="1.7" height="1.7"/><rect x="179.7" y="88.1" width="1.7" height="1.7"/><rect x="158.1" y="124.4" width="1.7" height="1.7"/><rect x="121.6" y="54.9" width="1.7" height="1.7"/><rect x="91.7" y="143.1" width="1.7" height="1.7"/><rect x="139.8" y="109.7" width="1.7" height="1.7"/><rect x="178.3" y="176.9" width="1.7" height="1.7"/><rect x="157.7" y="107.3" width="1.7" height="1.7"/><rect x="182.0" y="128.7" width="1.7" height="1.7"/><rect x="117.0" y="123.1" width="1.7" height="1.7"/><rect x="130.7" y="143.6" width="1.7" height="1.7"/><rect x="151.1" y="108.1" width="1.7" height="1.7"/><rect x="166.9" y="147.8" width="1.7" height="1.7"/><rect x="110.5" y="128.3" width="1.7" height="1.7"/><rect x="143.1" y="80.3" width="1.7" height="1.7"/><rect x="134.9" y="150.8" width="1.7" height="1.7"/><rect x="126.2" y="111.1" width="1.7" height="1.7"/><rect x="53.8" y="123.1" width="1.7" height="1.7"/><rect x="119.3" y="83.7" width="1.7" height="1.7"/><rect x="71.9" y="121.0" width="1.7" height="1.7"/><rect x="166.6" y="115.3" width="1.7" height="1.7"/><rect x="191.4" y="138.1" width="1.7" height="1.7"/><rect x="109.1" y="122.4" width="1.7" height="1.7"/><rect x="30.6" y="144.7" width="1.7" height="1.7"/><rect x="43.0" y="130.3" width="1.7" height="1.7"/><rect x="106.0" y="106.0" width="1.7" height="1.7"/><rect x="147.3" y="122.6" width="1.7" height="1.7"/><rect x="196.0" y="95.1" width="1.7" height="1.7"/><rect x="24.0" y="135.7" width="1.7" height="1.7"/><rect x="187.1" y="117.3" width="1.7" height="1.7"/><rect x="158.2" y="79.1" width="1.7" height="1.7"/><rect x="131.1" y="60.4" width="1.7" height="1.7"/><rect x="208.7" y="79.1" width="1.7" height="1.7"/><rect x="176.1" y="69.0" width="1.7" height="1.7"/><rect x="168.7" y="95.5" width="1.7" height="1.7"/><rect x="126.0" y="113.8" width="1.7" height="1.7"/><rect x="134.6" y="99.5" width="1.7" height="1.7"/><rect x="63.3" y="113.7" width="1.7" height="1.7"/><rect x="227.6" y="127.9" width="1.7" height="1.7"/><rect x="164.8" y="98.4" width="1.7" height="1.7"/><rect x="145.4" y="132.4" width="1.7" height="1.7"/><rect x="214.6" y="66.7" width="1.7" height="1.7"/><rect x="172.1" y="71.4" width="1.7" height="1.7"/><rect x="204.6" y="74.6" width="1.7" height="1.7"/><rect x="147.9" y="117.3" width="1.7" height="1.7"/><rect x="161.2" y="68.5" width="1.7" height="1.7"/><rect x="125.8" y="154.8" width="1.7" height="1.7"/><rect x="164.5" y="61.0" width="1.7" height="1.7"/><rect x="192.9" y="56.9" width="1.7" height="1.7"/><rect x="153.9" y="99.6" width="1.7" height="1.7"/><rect x="153.7" y="124.0" width="1.7" height="1.7"/><rect x="97.2" y="105.5" width="1.7" height="1.7"/><rect x="229.1" y="81.3" width="1.7" height="1.7"/><rect x="127.9" y="134.9" width="1.7" height="1.7"/><rect x="228.3" y="118.1" width="1.7" height="1.7"/><rect x="230.3" y="121.1" width="1.7" height="1.7"/><rect x="47.8" y="118.6" width="1.7" height="1.7"/><rect x="137.4" y="41.5" width="1.7" height="1.7"/><rect x="162.4" y="146.1" width="1.7" height="1.7"/><rect x="35.7" y="129.9" width="1.7" height="1.7"/><rect x="143.3" y="81.6" width="1.7" height="1.7"/><rect x="208.9" y="76.2" width="1.7" height="1.7"/><rect x="105.5" y="111.1" width="1.7" height="1.7"/><rect x="149.3" y="105.9" width="1.7" height="1.7"/><rect x="82.2" y="138.2" width="1.7" height="1.7"/><rect x="133.3" y="115.8" width="1.7" height="1.7"/><rect x="164.7" y="169.8" width="1.7" height="1.7"/><rect x="129.8" y="161.4" width="1.7" height="1.7"/><rect x="125.1" y="93.9" width="1.7" height="1.7"/><rect x="136.5" y="149.7" width="1.7" height="1.7"/><rect x="226.2" y="72.8" width="1.7" height="1.7"/><rect x="24.1" y="138.2" width="1.7" height="1.7"/><rect x="176.2" y="134.7" width="1.7" height="1.7"/><rect x="173.8" y="61.4" width="1.7" height="1.7"/><rect x="87.7" y="112.1" width="1.7" height="1.7"/><rect x="155.2" y="164.1" width="1.7" height="1.7"/><rect x="102.1" y="144.4" width="1.7" height="1.7"/><rect x="195.3" y="100.2" width="1.7" height="1.7"/><rect x="113.6" y="129.2" width="1.7" height="1.7"/><rect x="117.1" y="135.7" width="1.7" height="1.7"/><rect x="167.8" y="86.9" width="1.7" height="1.7"/><rect x="184.8" y="125.2" width="1.7" height="1.7"/><rect x="125.9" y="57.0" width="1.7" height="1.7"/><rect x="229.4" y="128.3" width="1.7" height="1.7"/><rect x="172.7" y="122.4" width="1.7" height="1.7"/><rect x="28.3" y="132.8" width="1.7" height="1.7"/><rect x="98.7" y="125.9" width="1.7" height="1.7"/><rect x="162.4" y="95.6" width="1.7" height="1.7"/><rect x="181.5" y="115.2" width="1.7" height="1.7"/><rect x="191.9" y="78.7" width="1.7" height="1.7"/><rect x="226.5" y="126.7" width="1.7" height="1.7"/><rect x="72.4" y="153.0" width="1.7" height="1.7"/><rect x="207.2" y="68.2" width="1.7" height="1.7"/><rect x="136.7" y="79.4" width="1.7" height="1.7"/><rect x="159.6" y="127.7" width="1.7" height="1.7"/><rect x="135.2" y="30.2" width="1.7" height="1.7"/><rect x="182.1" y="115.0" width="1.7" height="1.7"/><rect x="195.6" y="115.2" width="1.7" height="1.7"/><rect x="33.4" y="127.6" width="1.7" height="1.7"/><rect x="174.2" y="150.4" width="1.7" height="1.7"/><rect x="133.0" y="39.3" width="1.7" height="1.7"/><rect x="146.2" y="73.1" width="1.7" height="1.7"/><rect x="215.3" y="129.4" width="1.7" height="1.7"/><rect x="92.1" y="121.8" width="1.7" height="1.7"/><rect x="219.5" y="76.3" width="1.7" height="1.7"/><rect x="136.8" y="160.5" width="1.7" height="1.7"/><rect x="196.1" y="132.6" width="1.7" height="1.7"/><rect x="141.2" y="141.8" width="1.7" height="1.7"/><rect x="127.3" y="60.7" width="1.7" height="1.7"/><rect x="123.4" y="132.0" width="1.7" height="1.7"/><rect x="210.8" y="120.1" width="1.7" height="1.7"/></g><line x1="188" y1="98" x2="199.5" y2="107.5" stroke="#fff" stroke-width="1.6"/><g fill="#3a8fb0"><rect x="119.8" y="73.3" width="1.7" height="1.7"/><rect x="123.5" y="50.8" width="1.7" height="1.7"/><rect x="121.1" y="92.0" width="1.7" height="1.7"/><rect x="119.9" y="70.2" width="1.7" height="1.7"/><rect x="120.4" y="75.6" width="1.7" height="1.7"/><rect x="120.3" y="70.1" width="1.7" height="1.7"/><rect x="125.5" y="94.0" width="1.7" height="1.7"/><rect x="124.2" y="70.6" width="1.7" height="1.7"/><rect x="122.6" y="92.2" width="1.7" height="1.7"/><rect x="119.8" y="65.5" width="1.7" height="1.7"/><rect x="119.2" y="71.5" width="1.7" height="1.7"/><rect x="120.6" y="84.5" width="1.7" height="1.7"/><rect x="121.1" y="83.3" width="1.7" height="1.7"/><rect x="122.8" y="79.5" width="1.7" height="1.7"/><rect x="121.6" y="69.3" width="1.7" height="1.7"/><rect x="119.2" y="82.9" width="1.7" height="1.7"/><rect x="120.7" y="61.2" width="1.7" height="1.7"/><rect x="125.3" y="69.2" width="1.7" height="1.7"/><rect x="119.0" y="81.5" width="1.7" height="1.7"/><rect x="121.3" y="67.3" width="1.7" height="1.7"/><rect x="123.0" y="74.3" width="1.7" height="1.7"/><rect x="125.3" y="62.1" width="1.7" height="1.7"/><rect x="124.7" y="94.8" width="1.7" height="1.7"/><rect x="119.4" y="76.0" width="1.7" height="1.7"/><rect x="125.1" y="72.1" width="1.7" height="1.7"/><rect x="120.1" y="79.5" width="1.7" height="1.7"/><rect x="124.5" y="99.7" width="1.7" height="1.7"/><rect x="122.6" y="55.7" width="1.7" height="1.7"/><rect x="122.6" y="74.2" width="1.7" height="1.7"/><rect x="119.8" y="50.1" width="1.7" height="1.7"/><rect x="125.1" y="61.1" width="1.7" height="1.7"/><rect x="125.1" y="78.2" width="1.7" height="1.7"/><rect x="118.2" y="98.3" width="1.7" height="1.7"/><rect x="126.0" y="55.1" width="1.7" height="1.7"/><rect x="123.7" y="46.7" width="1.7" height="1.7"/><rect x="125.3" y="52.6" width="1.7" height="1.7"/><rect x="123.1" y="89.0" width="1.7" height="1.7"/><rect x="122.9" y="97.1" width="1.7" height="1.7"/><rect x="119.6" y="102.5" width="1.7" height="1.7"/><rect x="123.4" y="50.8" width="1.7" height="1.7"/><rect x="119.1" y="67.2" width="1.7" height="1.7"/><rect x="119.1" y="61.8" width="1.7" height="1.7"/><rect x="125.0" y="86.2" width="1.7" height="1.7"/><rect x="120.4" y="51.3" width="1.7" height="1.7"/><rect x="118.9" y="62.8" width="1.7" height="1.7"/><rect x="122.3" y="50.5" width="1.7" height="1.7"/><rect x="139.0" y="52.4" width="1.7" height="1.7"/><rect x="136.1" y="49.7" width="1.7" height="1.7"/><rect x="123.9" y="49.7" width="1.7" height="1.7"/><rect x="130.8" y="57.9" width="1.7" height="1.7"/><rect x="136.5" y="52.8" width="1.7" height="1.7"/><rect x="135.5" y="53.1" width="1.7" height="1.7"/><rect x="130.5" y="52.0" width="1.7" height="1.7"/><rect x="127.1" y="55.6" width="1.7" height="1.7"/><rect x="128.1" y="51.1" width="1.7" height="1.7"/><rect x="127.2" y="49.5" width="1.7" height="1.7"/><rect x="127.9" y="58.3" width="1.7" height="1.7"/><rect x="131.2" y="51.8" width="1.7" height="1.7"/><rect x="129.7" y="54.5" width="1.7" height="1.7"/><rect x="123.8" y="54.6" width="1.7" height="1.7"/></g><g fill="#a9d6d2"><rect x="127.3" y="46.7" width="1.8" height="1.8"/><rect x="126.3" y="62.9" width="1.8" height="1.8"/><rect x="137.6" y="42.5" width="1.8" height="1.8"/><rect x="132.2" y="79.6" width="1.8" height="1.8"/><rect x="140.6" y="49.0" width="1.8" height="1.8"/><rect x="139.0" y="62.8" width="1.8" height="1.8"/><rect x="124.0" y="86.2" width="1.8" height="1.8"/><rect x="137.5" y="108.6" width="1.8" height="1.8"/><rect x="127.0" y="88.4" width="1.8" height="1.8"/><rect x="142.7" y="76.3" width="1.8" height="1.8"/><rect x="137.0" y="47.7" width="1.8" height="1.8"/><rect x="127.8" y="66.8" width="1.8" height="1.8"/><rect x="125.4" y="47.3" width="1.8" height="1.8"/><rect x="129.6" y="84.0" width="1.8" height="1.8"/><rect x="132.7" y="75.4" width="1.8" height="1.8"/><rect x="133.0" y="91.6" width="1.8" height="1.8"/><rect x="138.1" y="62.3" width="1.8" height="1.8"/><rect x="123.5" y="48.7" width="1.8" height="1.8"/><rect x="129.3" y="68.5" width="1.8" height="1.8"/><rect x="137.2" y="46.0" width="1.8" height="1.8"/><rect x="126.0" y="91.1" width="1.8" height="1.8"/><rect x="140.7" y="57.6" width="1.8" height="1.8"/><rect x="133.9" y="77.7" width="1.8" height="1.8"/><rect x="127.0" y="73.8" width="1.8" height="1.8"/><rect x="122.4" y="104.8" width="1.8" height="1.8"/><rect x="126.7" y="102.5" width="1.8" height="1.8"/><rect x="141.6" y="67.8" width="1.8" height="1.8"/><rect x="124.9" y="59.2" width="1.8" height="1.8"/><rect x="142.4" y="43.0" width="1.8" height="1.8"/><rect x="127.2" y="57.7" width="1.8" height="1.8"/><rect x="129.3" y="107.9" width="1.8" height="1.8"/><rect x="131.2" y="103.4" width="1.8" height="1.8"/><rect x="136.1" y="39.6" width="1.8" height="1.8"/><rect x="129.3" y="62.4" width="1.8" height="1.8"/><rect x="125.4" y="55.5" width="1.8" height="1.8"/><rect x="126.1" y="101.2" width="1.8" height="1.8"/><rect x="134.0" y="70.3" width="1.8" height="1.8"/><rect x="127.9" y="83.0" width="1.8" height="1.8"/><rect x="129.1" y="40.8" width="1.8" height="1.8"/><rect x="124.9" y="95.7" width="1.8" height="1.8"/><rect x="136.9" y="87.7" width="1.8" height="1.8"/><rect x="131.0" y="82.4" width="1.8" height="1.8"/><rect x="121.6" y="83.4" width="1.8" height="1.8"/><rect x="140.3" y="82.4" width="1.8" height="1.8"/><rect x="133.1" y="87.6" width="1.8" height="1.8"/><rect x="139.1" y="67.9" width="1.8" height="1.8"/><rect x="123.7" y="83.6" width="1.8" height="1.8"/><rect x="136.0" y="104.9" width="1.8" height="1.8"/><rect x="121.7" y="79.5" width="1.8" height="1.8"/><rect x="142.0" y="42.2" width="1.8" height="1.8"/><rect x="81.4" y="117.4" width="1.8" height="1.8"/><rect x="89.5" y="115.8" width="1.8" height="1.8"/><rect x="81.5" y="119.7" width="1.8" height="1.8"/><rect x="83.2" y="109.7" width="1.8" height="1.8"/><rect x="93.2" y="121.2" width="1.8" height="1.8"/><rect x="70.2" y="118.8" width="1.8" height="1.8"/><rect x="60.0" y="109.0" width="1.8" height="1.8"/><rect x="77.8" y="111.5" width="1.8" height="1.8"/><rect x="46.9" y="118.7" width="1.8" height="1.8"/><rect x="63.9" y="119.0" width="1.8" height="1.8"/><rect x="79.4" y="108.4" width="1.8" height="1.8"/><rect x="61.5" y="115.7" width="1.8" height="1.8"/><rect x="96.8" y="114.1" width="1.8" height="1.8"/><rect x="88.7" y="120.2" width="1.8" height="1.8"/><rect x="85.7" y="111.1" width="1.8" height="1.8"/><rect x="52.0" y="119.8" width="1.8" height="1.8"/><rect x="56.3" y="115.0" width="1.8" height="1.8"/><rect x="67.2" y="116.8" width="1.8" height="1.8"/><rect x="96.1" y="110.6" width="1.8" height="1.8"/><rect x="48.1" y="119.5" width="1.8" height="1.8"/><rect x="56.6" y="116.1" width="1.8" height="1.8"/><rect x="58.9" y="120.9" width="1.8" height="1.8"/><rect x="78.9" y="120.2" width="1.8" height="1.8"/><rect x="63.6" y="110.3" width="1.8" height="1.8"/><rect x="80.9" y="110.1" width="1.8" height="1.8"/><rect x="47.7" y="122.9" width="1.8" height="1.8"/><rect x="90.7" y="108.6" width="1.8" height="1.8"/><rect x="66.9" y="108.4" width="1.8" height="1.8"/><rect x="47.5" y="116.6" width="1.8" height="1.8"/><rect x="87.8" y="122.5" width="1.8" height="1.8"/><rect x="93.8" y="113.4" width="1.8" height="1.8"/><rect x="45.9" y="117.7" width="1.8" height="1.8"/><rect x="70.9" y="109.1" width="1.8" height="1.8"/><rect x="95.4" y="112.2" width="1.8" height="1.8"/><rect x="97.8" y="116.2" width="1.8" height="1.8"/><rect x="83.7" y="119.5" width="1.8" height="1.8"/><rect x="56.5" y="120.6" width="1.8" height="1.8"/><rect x="95.2" y="108.6" width="1.8" height="1.8"/><rect x="61.4" y="111.3" width="1.8" height="1.8"/><rect x="77.2" y="119.6" width="1.8" height="1.8"/><rect x="92.0" y="114.8" width="1.8" height="1.8"/><rect x="98.6" y="117.4" width="1.8" height="1.8"/><rect x="83.9" y="114.2" width="1.8" height="1.8"/><rect x="78.2" y="116.5" width="1.8" height="1.8"/><rect x="88.1" y="115.3" width="1.8" height="1.8"/><rect x="162.2" y="61.8" width="1.8" height="1.8"/><rect x="163.3" y="61.7" width="1.8" height="1.8"/><rect x="171.3" y="73.9" width="1.8" height="1.8"/><rect x="188.8" y="61.6" width="1.8" height="1.8"/><rect x="165.5" y="66.8" width="1.8" height="1.8"/><rect x="162.7" y="58.3" width="1.8" height="1.8"/><rect x="157.5" y="71.9" width="1.8" height="1.8"/><rect x="167.2" y="57.9" width="1.8" height="1.8"/><rect x="172.9" y="61.2" width="1.8" height="1.8"/><rect x="184.9" y="69.5" width="1.8" height="1.8"/><rect x="150.1" y="62.5" width="1.8" height="1.8"/><rect x="152.8" y="62.1" width="1.8" height="1.8"/><rect x="181.1" y="71.2" width="1.8" height="1.8"/><rect x="184.6" y="65.1" width="1.8" height="1.8"/><rect x="172.1" y="66.8" width="1.8" height="1.8"/><rect x="159.9" y="73.3" width="1.8" height="1.8"/><rect x="156.0" y="73.0" width="1.8" height="1.8"/><rect x="157.5" y="70.4" width="1.8" height="1.8"/><rect x="168.4" y="57.9" width="1.8" height="1.8"/><rect x="180.6" y="66.8" width="1.8" height="1.8"/><rect x="153.4" y="74.1" width="1.8" height="1.8"/><rect x="183.5" y="67.8" width="1.8" height="1.8"/><rect x="152.6" y="72.0" width="1.8" height="1.8"/><rect x="150.8" y="73.3" width="1.8" height="1.8"/><rect x="180.0" y="70.5" width="1.8" height="1.8"/></g><g fill="#c07a40"><rect x="190.0" y="130.8" width="1.8" height="1.8"/><rect x="190.9" y="134.5" width="1.8" height="1.8"/><rect x="187.2" y="129.6" width="1.8" height="1.8"/><rect x="200.6" y="125.9" width="1.8" height="1.8"/><rect x="205.5" y="128.6" width="1.8" height="1.8"/><rect x="203.5" y="123.1" width="1.8" height="1.8"/><rect x="179.6" y="153.8" width="1.8" height="1.8"/><rect x="205.6" y="115.9" width="1.8" height="1.8"/><rect x="192.3" y="121.8" width="1.8" height="1.8"/><rect x="181.2" y="134.8" width="1.8" height="1.8"/><rect x="204.6" y="126.9" width="1.8" height="1.8"/><rect x="203.4" y="122.1" width="1.8" height="1.8"/><rect x="211.7" y="112.2" width="1.8" height="1.8"/><rect x="206.5" y="121.4" width="1.8" height="1.8"/><rect x="190.8" y="128.3" width="1.8" height="1.8"/><rect x="198.8" y="117.6" width="1.8" height="1.8"/><rect x="176.7" y="141.8" width="1.8" height="1.8"/><rect x="192.7" y="133.8" width="1.8" height="1.8"/><rect x="188.1" y="130.4" width="1.8" height="1.8"/><rect x="187.8" y="143.1" width="1.8" height="1.8"/><rect x="191.6" y="133.9" width="1.8" height="1.8"/><rect x="189.8" y="133.2" width="1.8" height="1.8"/><rect x="195.1" y="131.8" width="1.8" height="1.8"/><rect x="204.3" y="113.2" width="1.8" height="1.8"/><rect x="194.4" y="128.5" width="1.8" height="1.8"/><rect x="208.9" y="116.4" width="1.8" height="1.8"/><rect x="195.9" y="135.2" width="1.8" height="1.8"/><rect x="190.6" y="131.6" width="1.8" height="1.8"/><rect x="191.3" y="136.6" width="1.8" height="1.8"/><rect x="196.5" y="123.8" width="1.8" height="1.8"/><rect x="178.3" y="143.0" width="1.8" height="1.8"/><rect x="204.8" y="123.3" width="1.8" height="1.8"/><rect x="186.8" y="142.5" width="1.8" height="1.8"/><rect x="197.1" y="126.0" width="1.8" height="1.8"/><rect x="208.2" y="122.2" width="1.8" height="1.8"/><rect x="179.9" y="150.2" width="1.8" height="1.8"/><rect x="197.5" y="134.2" width="1.8" height="1.8"/><rect x="213.1" y="122.2" width="1.8" height="1.8"/><rect x="211.4" y="117.8" width="1.8" height="1.8"/><rect x="212.5" y="123.4" width="1.8" height="1.8"/><rect x="182.2" y="142.8" width="1.8" height="1.8"/><rect x="196.5" y="117.0" width="1.8" height="1.8"/><rect x="199.9" y="128.9" width="1.8" height="1.8"/><rect x="197.5" y="128.6" width="1.8" height="1.8"/><rect x="196.7" y="117.8" width="1.8" height="1.8"/><rect x="210.7" y="122.8" width="1.8" height="1.8"/><rect x="186.1" y="132.7" width="1.8" height="1.8"/><rect x="181.8" y="144.8" width="1.8" height="1.8"/><rect x="191.3" y="127.9" width="1.8" height="1.8"/><rect x="194.8" y="125.6" width="1.8" height="1.8"/><rect x="204.2" y="123.1" width="1.8" height="1.8"/><rect x="193.0" y="134.3" width="1.8" height="1.8"/><rect x="207.8" y="123.9" width="1.8" height="1.8"/><rect x="209.9" y="114.0" width="1.8" height="1.8"/><rect x="177.6" y="152.1" width="1.8" height="1.8"/><rect x="204.1" y="124.1" width="1.8" height="1.8"/><rect x="210.0" y="128.7" width="1.8" height="1.8"/><rect x="207.9" y="114.0" width="1.8" height="1.8"/><rect x="215.7" y="116.6" width="1.8" height="1.8"/><rect x="185.7" y="136.8" width="1.8" height="1.8"/><rect x="189.2" y="129.3" width="1.8" height="1.8"/><rect x="191.6" y="123.9" width="1.8" height="1.8"/><rect x="203.4" y="129.5" width="1.8" height="1.8"/><rect x="191.0" y="123.6" width="1.8" height="1.8"/><rect x="207.3" y="112.4" width="1.8" height="1.8"/><rect x="189.7" y="126.1" width="1.8" height="1.8"/><rect x="207.9" y="115.9" width="1.8" height="1.8"/><rect x="186.1" y="139.9" width="1.8" height="1.8"/><rect x="180.0" y="141.8" width="1.8" height="1.8"/><rect x="213.5" y="122.3" width="1.8" height="1.8"/><rect x="227.4" y="127.9" width="1.8" height="1.8"/><rect x="233.9" y="127.2" width="1.8" height="1.8"/><rect x="233.8" y="135.3" width="1.8" height="1.8"/><rect x="233.6" y="127.3" width="1.8" height="1.8"/><rect x="229.8" y="129.6" width="1.8" height="1.8"/><rect x="234.5" y="130.7" width="1.8" height="1.8"/><rect x="137.3" y="165.1" width="1.8" height="1.8"/><rect x="149.0" y="169.5" width="1.8" height="1.8"/><rect x="136.3" y="164.7" width="1.8" height="1.8"/><rect x="138.8" y="166.8" width="1.8" height="1.8"/><rect x="143.8" y="171.7" width="1.8" height="1.8"/><rect x="145.9" y="168.2" width="1.8" height="1.8"/></g><polygon points="42,150 46,151 52,152.6 50,153.8 44,153" fill="#b86a30"/><g fill="#dffa04"><rect x="196.3" y="130.6" width="2.0" height="2.0"/><rect x="177.2" y="148.1" width="2.0" height="2.0"/><rect x="199.1" y="134.8" width="2.0" height="2.0"/><rect x="186.1" y="141.0" width="2.0" height="2.0"/><rect x="183.6" y="130.6" width="2.0" height="2.0"/><rect x="195.6" y="129.2" width="2.0" height="2.0"/><rect x="208.0" y="127.4" width="2.0" height="2.0"/><rect x="206.9" y="128.4" width="2.0" height="2.0"/><rect x="194.3" y="132.5" width="2.0" height="2.0"/><rect x="201.1" y="126.3" width="2.0" height="2.0"/><rect x="183.0" y="147.3" width="2.0" height="2.0"/><rect x="180.1" y="148.5" width="2.0" height="2.0"/><rect x="205.0" y="123.0" width="2.0" height="2.0"/><rect x="193.5" y="135.0" width="2.0" height="2.0"/><rect x="201.7" y="126.5" width="2.0" height="2.0"/><rect x="176.5" y="147.9" width="2.0" height="2.0"/><rect x="208.6" y="112.8" width="2.0" height="2.0"/><rect x="175.1" y="147.0" width="2.0" height="2.0"/><rect x="177.1" y="154.5" width="2.0" height="2.0"/><rect x="206.0" y="129.8" width="2.0" height="2.0"/><rect x="182.8" y="142.6" width="2.0" height="2.0"/><rect x="210.9" y="121.3" width="2.0" height="2.0"/><rect x="203.9" y="118.5" width="2.0" height="2.0"/><rect x="177.4" y="151.7" width="2.0" height="2.0"/><rect x="189.8" y="125.4" width="2.0" height="2.0"/><rect x="182.3" y="136.1" width="2.0" height="2.0"/><rect x="188.6" y="129.4" width="2.0" height="2.0"/><rect x="199.5" y="131.4" width="2.0" height="2.0"/><rect x="191.6" y="137.6" width="2.0" height="2.0"/><rect x="185.3" y="143.4" width="2.0" height="2.0"/><rect x="201.5" y="117.5" width="2.0" height="2.0"/><rect x="191.4" y="126.7" width="2.0" height="2.0"/><rect x="202.9" y="126.3" width="2.0" height="2.0"/><rect x="187.7" y="130.8" width="2.0" height="2.0"/><rect x="186.9" y="143.2" width="2.0" height="2.0"/><rect x="179.1" y="136.0" width="2.0" height="2.0"/><rect x="180.6" y="148.5" width="2.0" height="2.0"/><rect x="208.6" y="122.4" width="2.0" height="2.0"/><rect x="185.1" y="145.6" width="2.0" height="2.0"/><rect x="175.1" y="149.2" width="2.0" height="2.0"/><rect x="202.6" y="122.8" width="2.0" height="2.0"/><rect x="215.6" y="121.0" width="2.0" height="2.0"/><rect x="181.9" y="131.9" width="2.0" height="2.0"/><rect x="208.0" y="114.1" width="2.0" height="2.0"/><rect x="178.1" y="148.9" width="2.0" height="2.0"/><rect x="201.5" y="127.8" width="2.0" height="2.0"/><rect x="177.7" y="145.8" width="2.0" height="2.0"/><rect x="182.7" y="140.5" width="2.0" height="2.0"/><rect x="194.3" y="133.1" width="2.0" height="2.0"/><rect x="208.9" y="117.5" width="2.0" height="2.0"/><rect x="200.4" y="128.1" width="2.0" height="2.0"/><rect x="203.8" y="120.7" width="2.0" height="2.0"/><rect x="198.2" y="130.1" width="2.0" height="2.0"/><rect x="211.7" y="115.9" width="2.0" height="2.0"/><rect x="177.8" y="137.7" width="2.0" height="2.0"/><rect x="179.8" y="149.7" width="2.0" height="2.0"/><rect x="208.5" y="124.7" width="2.0" height="2.0"/><rect x="194.5" y="119.8" width="2.0" height="2.0"/><rect x="208.4" y="126.0" width="2.0" height="2.0"/><rect x="188.5" y="137.9" width="2.0" height="2.0"/><rect x="207.3" y="127.6" width="2.0" height="2.0"/><rect x="188.9" y="124.5" width="2.0" height="2.0"/><rect x="193.8" y="122.0" width="2.0" height="2.0"/><rect x="209.4" y="121.0" width="2.0" height="2.0"/><rect x="204.4" y="112.1" width="2.0" height="2.0"/><rect x="177.8" y="145.4" width="2.0" height="2.0"/><rect x="202.0" y="127.0" width="2.0" height="2.0"/><rect x="204.7" y="131.3" width="2.0" height="2.0"/><rect x="196.1" y="131.8" width="2.0" height="2.0"/><rect x="203.4" y="130.8" width="2.0" height="2.0"/><rect x="205.0" y="131.1" width="2.0" height="2.0"/><rect x="187.4" y="126.2" width="2.0" height="2.0"/><rect x="188.9" y="132.0" width="2.0" height="2.0"/><rect x="205.1" y="129.1" width="2.0" height="2.0"/><rect x="211.3" y="123.8" width="2.0" height="2.0"/><rect x="196.8" y="134.9" width="2.0" height="2.0"/><rect x="208.8" y="118.2" width="2.0" height="2.0"/><rect x="195.7" y="120.1" width="2.0" height="2.0"/><rect x="205.7" y="111.9" width="2.0" height="2.0"/><rect x="209.7" y="118.0" width="2.0" height="2.0"/><rect x="189.9" y="137.4" width="2.0" height="2.0"/><rect x="202.9" y="131.3" width="2.0" height="2.0"/><rect x="179.8" y="139.7" width="2.0" height="2.0"/><rect x="195.4" y="123.3" width="2.0" height="2.0"/><rect x="191.3" y="139.2" width="2.0" height="2.0"/><rect x="176.7" y="149.2" width="2.0" height="2.0"/><rect x="186.1" y="141.6" width="2.0" height="2.0"/><rect x="179.2" y="152.7" width="2.0" height="2.0"/><rect x="207.5" y="117.2" width="2.0" height="2.0"/><rect x="184.4" y="132.9" width="2.0" height="2.0"/></g><g fill="#f0d0a0"><rect x="184.3" y="78.5" width="1.8" height="1.8"/><rect x="181.2" y="67.0" width="1.8" height="1.8"/><rect x="175.9" y="94.5" width="1.8" height="1.8"/><rect x="188.3" y="101.2" width="1.8" height="1.8"/><rect x="179.4" y="86.4" width="1.8" height="1.8"/><rect x="175.9" y="100.7" width="1.8" height="1.8"/><rect x="190.5" y="89.4" width="1.8" height="1.8"/><rect x="173.9" y="91.2" width="1.8" height="1.8"/><rect x="194.8" y="83.1" width="1.8" height="1.8"/><rect x="166.3" y="78.1" width="1.8" height="1.8"/><rect x="175.8" y="64.9" width="1.8" height="1.8"/><rect x="169.0" y="76.4" width="1.8" height="1.8"/><rect x="188.3" y="103.6" width="1.8" height="1.8"/><rect x="198.0" y="85.6" width="1.8" height="1.8"/><rect x="196.0" y="87.7" width="1.8" height="1.8"/><rect x="172.6" y="88.6" width="1.8" height="1.8"/><rect x="178.3" y="100.8" width="1.8" height="1.8"/><rect x="175.4" y="65.0" width="1.8" height="1.8"/><rect x="167.8" y="89.8" width="1.8" height="1.8"/><rect x="184.4" y="82.9" width="1.8" height="1.8"/><rect x="193.1" y="93.6" width="1.8" height="1.8"/><rect x="189.2" y="75.5" width="1.8" height="1.8"/><rect x="187.1" y="93.1" width="1.8" height="1.8"/><rect x="166.8" y="65.6" width="1.8" height="1.8"/><rect x="179.9" y="90.2" width="1.8" height="1.8"/></g><g fill="#10d224"><rect x="143.0" y="32.6" width="1.9" height="1.9"/><rect x="120.6" y="54.0" width="1.9" height="1.9"/><rect x="135.7" y="37.7" width="1.9" height="1.9"/><rect x="141.4" y="34.8" width="1.9" height="1.9"/><rect x="143.1" y="37.0" width="1.9" height="1.9"/><rect x="134.5" y="52.4" width="1.9" height="1.9"/><rect x="136.5" y="52.1" width="1.9" height="1.9"/><rect x="141.2" y="43.8" width="1.9" height="1.9"/><rect x="127.5" y="33.8" width="1.9" height="1.9"/><rect x="140.4" y="43.6" width="1.9" height="1.9"/><rect x="142.6" y="48.4" width="1.9" height="1.9"/><rect x="136.8" y="44.4" width="1.9" height="1.9"/><rect x="126.3" y="53.0" width="1.9" height="1.9"/><rect x="127.5" y="48.6" width="1.9" height="1.9"/><rect x="123.5" y="49.7" width="1.9" height="1.9"/><rect x="120.8" y="52.2" width="1.9" height="1.9"/><rect x="132.2" y="42.0" width="1.9" height="1.9"/><rect x="129.9" y="45.6" width="1.9" height="1.9"/><rect x="142.0" y="36.7" width="1.9" height="1.9"/><rect x="129.0" y="43.6" width="1.9" height="1.9"/><rect x="127.2" y="43.9" width="1.9" height="1.9"/><rect x="133.1" y="39.9" width="1.9" height="1.9"/><rect x="136.2" y="42.3" width="1.9" height="1.9"/><rect x="122.2" y="54.0" width="1.9" height="1.9"/><rect x="128.6" y="39.8" width="1.9" height="1.9"/><rect x="142.6" y="106.9" width="1.9" height="1.9"/><rect x="173.4" y="82.3" width="1.9" height="1.9"/><rect x="142.5" y="57.7" width="1.9" height="1.9"/><rect x="170.2" y="62.2" width="1.9" height="1.9"/><rect x="150.7" y="72.6" width="1.9" height="1.9"/><rect x="138.4" y="73.1" width="1.9" height="1.9"/><rect x="130.8" y="54.2" width="1.9" height="1.9"/><rect x="150.0" y="99.0" width="1.9" height="1.9"/><rect x="156.3" y="63.9" width="1.9" height="1.9"/><rect x="158.9" y="55.1" width="1.9" height="1.9"/><rect x="143.1" y="100.9" width="1.9" height="1.9"/><rect x="171.6" y="79.2" width="1.9" height="1.9"/><rect x="167.5" y="81.5" width="1.9" height="1.9"/><rect x="149.4" y="86.5" width="1.9" height="1.9"/><rect x="175.6" y="95.9" width="1.9" height="1.9"/><rect x="146.5" y="95.0" width="1.9" height="1.9"/><rect x="156.1" y="72.9" width="1.9" height="1.9"/><rect x="164.0" y="100.4" width="1.9" height="1.9"/><rect x="154.1" y="107.7" width="1.9" height="1.9"/><rect x="121.1" y="81.6" width="1.9" height="1.9"/><rect x="155.6" y="72.1" width="1.9" height="1.9"/><rect x="129.6" y="92.9" width="1.9" height="1.9"/><rect x="144.4" y="67.9" width="1.9" height="1.9"/><rect x="122.4" y="109.1" width="1.9" height="1.9"/><rect x="139.8" y="59.0" width="1.9" height="1.9"/><rect x="132.2" y="67.1" width="1.9" height="1.9"/><rect x="168.6" y="62.7" width="1.9" height="1.9"/><rect x="135.5" y="57.8" width="1.9" height="1.9"/><rect x="146.4" y="64.3" width="1.9" height="1.9"/><rect x="139.3" y="95.4" width="1.9" height="1.9"/><rect x="171.9" y="101.3" width="1.9" height="1.9"/><rect x="122.2" y="74.3" width="1.9" height="1.9"/><rect x="131.4" y="81.0" width="1.9" height="1.9"/><rect x="141.5" y="96.3" width="1.9" height="1.9"/><rect x="160.3" y="79.5" width="1.9" height="1.9"/><rect x="134.0" y="65.7" width="1.9" height="1.9"/><rect x="135.0" y="55.9" width="1.9" height="1.9"/><rect x="157.3" y="61.4" width="1.9" height="1.9"/><rect x="169.9" y="90.2" width="1.9" height="1.9"/><rect x="123.2" y="81.5" width="1.9" height="1.9"/><rect x="147.3" y="53.8" width="1.9" height="1.9"/><rect x="155.4" y="110.2" width="1.9" height="1.9"/><rect x="167.4" y="65.8" width="1.9" height="1.9"/><rect x="150.0" y="60.3" width="1.9" height="1.9"/><rect x="139.2" y="103.0" width="1.9" height="1.9"/><rect x="141.3" y="89.8" width="1.9" height="1.9"/><rect x="129.9" y="99.4" width="1.9" height="1.9"/><rect x="170.1" y="84.6" width="1.9" height="1.9"/><rect x="140.3" y="102.1" width="1.9" height="1.9"/><rect x="148.8" y="63.2" width="1.9" height="1.9"/><rect x="135.6" y="61.4" width="1.9" height="1.9"/><rect x="167.0" y="82.1" width="1.9" height="1.9"/><rect x="159.1" y="100.3" width="1.9" height="1.9"/><rect x="174.6" y="63.3" width="1.9" height="1.9"/><rect x="142.8" y="103.6" width="1.9" height="1.9"/><rect x="162.7" y="74.9" width="1.9" height="1.9"/><rect x="156.8" y="63.6" width="1.9" height="1.9"/><rect x="129.1" y="55.0" width="1.9" height="1.9"/><rect x="141.3" y="66.0" width="1.9" height="1.9"/><rect x="149.0" y="109.3" width="1.9" height="1.9"/><rect x="128.6" y="85.0" width="1.9" height="1.9"/><rect x="168.5" y="87.4" width="1.9" height="1.9"/><rect x="149.6" y="97.4" width="1.9" height="1.9"/><rect x="121.3" y="108.0" width="1.9" height="1.9"/><rect x="158.5" y="99.6" width="1.9" height="1.9"/><rect x="166.3" y="57.9" width="1.9" height="1.9"/><rect x="123.8" y="62.6" width="1.9" height="1.9"/><rect x="148.3" y="107.4" width="1.9" height="1.9"/><rect x="171.0" y="76.4" width="1.9" height="1.9"/><rect x="154.9" y="95.7" width="1.9" height="1.9"/><rect x="138.7" y="109.3" width="1.9" height="1.9"/><rect x="172.8" y="94.9" width="1.9" height="1.9"/><rect x="170.5" y="99.3" width="1.9" height="1.9"/><rect x="156.6" y="71.0" width="1.9" height="1.9"/><rect x="135.8" y="66.1" width="1.9" height="1.9"/><rect x="123.3" y="106.7" width="1.9" height="1.9"/><rect x="136.8" y="53.5" width="1.9" height="1.9"/><rect x="137.8" y="58.1" width="1.9" height="1.9"/><rect x="145.0" y="71.7" width="1.9" height="1.9"/><rect x="129.9" y="80.2" width="1.9" height="1.9"/><rect x="143.3" y="72.9" width="1.9" height="1.9"/><rect x="165.6" y="70.2" width="1.9" height="1.9"/><rect x="150.4" y="103.8" width="1.9" height="1.9"/><rect x="173.8" y="74.2" width="1.9" height="1.9"/><rect x="122.3" y="108.1" width="1.9" height="1.9"/><rect x="148.8" y="64.9" width="1.9" height="1.9"/><rect x="127.2" y="66.2" width="1.9" height="1.9"/><rect x="137.4" y="60.2" width="1.9" height="1.9"/><rect x="122.8" y="110.7" width="1.9" height="1.9"/><rect x="166.0" y="58.7" width="1.9" height="1.9"/><rect x="147.0" y="99.3" width="1.9" height="1.9"/><rect x="148.3" y="56.1" width="1.9" height="1.9"/><rect x="139.1" y="74.5" width="1.9" height="1.9"/><rect x="171.3" y="86.4" width="1.9" height="1.9"/><rect x="145.8" y="89.3" width="1.9" height="1.9"/><rect x="122.8" y="92.5" width="1.9" height="1.9"/><rect x="165.3" y="91.6" width="1.9" height="1.9"/><rect x="140.3" y="68.9" width="1.9" height="1.9"/><rect x="120.6" y="56.9" width="1.9" height="1.9"/><rect x="128.7" y="78.8" width="1.9" height="1.9"/><rect x="163.6" y="64.9" width="1.9" height="1.9"/><rect x="146.5" y="89.6" width="1.9" height="1.9"/><rect x="171.6" y="86.6" width="1.9" height="1.9"/><rect x="137.0" y="66.2" width="1.9" height="1.9"/><rect x="158.6" y="107.1" width="1.9" height="1.9"/><rect x="138.9" y="75.5" width="1.9" height="1.9"/><rect x="151.2" y="62.4" width="1.9" height="1.9"/><rect x="142.8" y="106.2" width="1.9" height="1.9"/><rect x="151.2" y="100.6" width="1.9" height="1.9"/><rect x="134.7" y="103.3" width="1.9" height="1.9"/><rect x="162.4" y="77.4" width="1.9" height="1.9"/><rect x="152.2" y="98.4" width="1.9" height="1.9"/><rect x="154.0" y="94.7" width="1.9" height="1.9"/><rect x="140.7" y="92.5" width="1.9" height="1.9"/><rect x="145.2" y="103.8" width="1.9" height="1.9"/><rect x="146.0" y="112.1" width="1.9" height="1.9"/><rect x="154.3" y="77.5" width="1.9" height="1.9"/><rect x="147.7" y="72.9" width="1.9" height="1.9"/><rect x="155.2" y="81.2" width="1.9" height="1.9"/><rect x="162.1" y="72.9" width="1.9" height="1.9"/><rect x="158.3" y="99.9" width="1.9" height="1.9"/><rect x="140.4" y="73.0" width="1.9" height="1.9"/><rect x="146.0" y="96.9" width="1.9" height="1.9"/><rect x="148.7" y="104.3" width="1.9" height="1.9"/><rect x="151.4" y="74.4" width="1.9" height="1.9"/><rect x="135.1" y="84.1" width="1.9" height="1.9"/><rect x="150.1" y="75.1" width="1.9" height="1.9"/><rect x="134.4" y="90.1" width="1.9" height="1.9"/><rect x="141.2" y="87.5" width="1.9" height="1.9"/><rect x="149.1" y="99.1" width="1.9" height="1.9"/><rect x="154.2" y="77.6" width="1.9" height="1.9"/><rect x="138.2" y="106.5" width="1.9" height="1.9"/><rect x="133.1" y="72.7" width="1.9" height="1.9"/><rect x="152.7" y="109.5" width="1.9" height="1.9"/><rect x="156.1" y="82.5" width="1.9" height="1.9"/><rect x="148.3" y="100.7" width="1.9" height="1.9"/><rect x="140.3" y="104.0" width="1.9" height="1.9"/><rect x="147.4" y="69.0" width="1.9" height="1.9"/><rect x="144.8" y="92.8" width="1.9" height="1.9"/><rect x="136.9" y="108.7" width="1.9" height="1.9"/><rect x="168.1" y="90.6" width="1.9" height="1.9"/><rect x="152.6" y="74.3" width="1.9" height="1.9"/><rect x="149.1" y="84.8" width="1.9" height="1.9"/><rect x="134.0" y="95.5" width="1.9" height="1.9"/><rect x="165.2" y="84.9" width="1.9" height="1.9"/><rect x="142.6" y="95.2" width="1.9" height="1.9"/><rect x="162.8" y="74.9" width="1.9" height="1.9"/><rect x="142.3" y="96.6" width="1.9" height="1.9"/><rect x="143.7" y="105.3" width="1.9" height="1.9"/><rect x="149.2" y="74.7" width="1.9" height="1.9"/><rect x="141.5" y="101.9" width="1.9" height="1.9"/><rect x="162.8" y="96.1" width="1.9" height="1.9"/><rect x="143.3" y="97.6" width="1.9" height="1.9"/><rect x="160.4" y="83.9" width="1.9" height="1.9"/><rect x="134.3" y="88.6" width="1.9" height="1.9"/><rect x="139.9" y="75.7" width="1.9" height="1.9"/><rect x="146.7" y="70.5" width="1.9" height="1.9"/><rect x="167.0" y="80.0" width="1.9" height="1.9"/><rect x="163.4" y="91.2" width="1.9" height="1.9"/><rect x="166.4" y="89.1" width="1.9" height="1.9"/><rect x="143.5" y="106.5" width="1.9" height="1.9"/><rect x="164.2" y="72.5" width="1.9" height="1.9"/><rect x="145.0" y="72.2" width="1.9" height="1.9"/><rect x="140.2" y="83.2" width="1.9" height="1.9"/><rect x="147.6" y="73.9" width="1.9" height="1.9"/><rect x="157.4" y="78.2" width="1.9" height="1.9"/><rect x="166.7" y="89.2" width="1.9" height="1.9"/><rect x="148.2" y="102.3" width="1.9" height="1.9"/><rect x="144.8" y="78.9" width="1.9" height="1.9"/><rect x="136.0" y="80.6" width="1.9" height="1.9"/><rect x="140.4" y="100.9" width="1.9" height="1.9"/><rect x="145.2" y="99.6" width="1.9" height="1.9"/><rect x="142.1" y="70.3" width="1.9" height="1.9"/><rect x="143.2" y="85.1" width="1.9" height="1.9"/><rect x="139.5" y="74.2" width="1.9" height="1.9"/><rect x="141.2" y="111.2" width="1.9" height="1.9"/><rect x="133.0" y="89.4" width="1.9" height="1.9"/><rect x="154.4" y="72.2" width="1.9" height="1.9"/><rect x="147.8" y="102.4" width="1.9" height="1.9"/><rect x="158.4" y="103.2" width="1.9" height="1.9"/><rect x="150.5" y="88.4" width="1.9" height="1.9"/><rect x="151.8" y="73.3" width="1.9" height="1.9"/><rect x="151.6" y="78.1" width="1.9" height="1.9"/><rect x="143.9" y="69.1" width="1.9" height="1.9"/><rect x="152.7" y="77.9" width="1.9" height="1.9"/><rect x="153.3" y="90.2" width="1.9" height="1.9"/><rect x="140.4" y="72.9" width="1.9" height="1.9"/><rect x="154.9" y="98.2" width="1.9" height="1.9"/><rect x="158.7" y="90.4" width="1.9" height="1.9"/><rect x="143.3" y="103.9" width="1.9" height="1.9"/><rect x="146.1" y="71.8" width="1.9" height="1.9"/><rect x="147.9" y="105.4" width="1.9" height="1.9"/><rect x="135.0" y="72.2" width="1.9" height="1.9"/><rect x="151.0" y="107.2" width="1.9" height="1.9"/><rect x="146.7" y="78.5" width="1.9" height="1.9"/><rect x="161.8" y="71.4" width="1.9" height="1.9"/><rect x="142.9" y="94.6" width="1.9" height="1.9"/><rect x="144.1" y="79.3" width="1.9" height="1.9"/><rect x="145.6" y="72.6" width="1.9" height="1.9"/><rect x="142.0" y="102.3" width="1.9" height="1.9"/><rect x="133.9" y="101.1" width="1.9" height="1.9"/><rect x="147.6" y="101.3" width="1.9" height="1.9"/><rect x="161.5" y="101.3" width="1.9" height="1.9"/><rect x="162.3" y="77.9" width="1.9" height="1.9"/><rect x="148.3" y="71.2" width="1.9" height="1.9"/><rect x="146.0" y="104.6" width="1.9" height="1.9"/><rect x="150.5" y="91.2" width="1.9" height="1.9"/><rect x="162.2" y="71.1" width="1.9" height="1.9"/><rect x="145.2" y="89.3" width="1.9" height="1.9"/><rect x="150.8" y="98.5" width="1.9" height="1.9"/><rect x="152.9" y="98.5" width="1.9" height="1.9"/><rect x="154.9" y="94.4" width="1.9" height="1.9"/><rect x="146.9" y="86.3" width="1.9" height="1.9"/><rect x="161.6" y="84.2" width="1.9" height="1.9"/><rect x="153.8" y="83.9" width="1.9" height="1.9"/><rect x="131.8" y="97.5" width="1.9" height="1.9"/><rect x="161.1" y="100.3" width="1.9" height="1.9"/><rect x="158.4" y="79.9" width="1.9" height="1.9"/><rect x="146.6" y="107.0" width="1.9" height="1.9"/><rect x="147.2" y="88.5" width="1.9" height="1.9"/><rect x="133.1" y="75.4" width="1.9" height="1.9"/><rect x="139.5" y="76.9" width="1.9" height="1.9"/><rect x="152.0" y="69.2" width="1.9" height="1.9"/><rect x="134.6" y="71.0" width="1.9" height="1.9"/><rect x="161.1" y="90.7" width="1.9" height="1.9"/><rect x="136.3" y="103.1" width="1.9" height="1.9"/><rect x="136.2" y="70.6" width="1.9" height="1.9"/><rect x="151.5" y="106.7" width="1.9" height="1.9"/><rect x="143.5" y="106.8" width="1.9" height="1.9"/><rect x="144.3" y="111.5" width="1.9" height="1.9"/><rect x="160.6" y="106.8" width="1.9" height="1.9"/><rect x="138.9" y="90.8" width="1.9" height="1.9"/><rect x="152.8" y="100.3" width="1.9" height="1.9"/><rect x="140.2" y="93.6" width="1.9" height="1.9"/><rect x="142.4" y="75.5" width="1.9" height="1.9"/><rect x="149.0" y="104.0" width="1.9" height="1.9"/><rect x="153.2" y="83.4" width="1.9" height="1.9"/><rect x="140.1" y="83.6" width="1.9" height="1.9"/><rect x="147.0" y="79.5" width="1.9" height="1.9"/><rect x="143.5" y="77.5" width="1.9" height="1.9"/><rect x="142.8" y="98.0" width="1.9" height="1.9"/><rect x="156.1" y="95.9" width="1.9" height="1.9"/><rect x="136.3" y="85.6" width="1.9" height="1.9"/><rect x="152.0" y="101.4" width="1.9" height="1.9"/><rect x="152.3" y="71.3" width="1.9" height="1.9"/><rect x="150.1" y="97.2" width="1.9" height="1.9"/><rect x="162.5" y="87.6" width="1.9" height="1.9"/><rect x="151.2" y="101.5" width="1.9" height="1.9"/><rect x="135.5" y="91.1" width="1.9" height="1.9"/><rect x="154.9" y="92.8" width="1.9" height="1.9"/><rect x="140.3" y="71.3" width="1.9" height="1.9"/><rect x="166.9" y="86.3" width="1.9" height="1.9"/><rect x="154.4" y="87.3" width="1.9" height="1.9"/><rect x="153.5" y="105.7" width="1.9" height="1.9"/><rect x="144.4" y="74.2" width="1.9" height="1.9"/><rect x="167.0" y="96.1" width="1.9" height="1.9"/><rect x="146.2" y="85.4" width="1.9" height="1.9"/><rect x="135.1" y="93.1" width="1.9" height="1.9"/><rect x="162.5" y="90.0" width="1.9" height="1.9"/><rect x="158.9" y="101.0" width="1.9" height="1.9"/><rect x="144.3" y="96.4" width="1.9" height="1.9"/><rect x="138.4" y="97.5" width="1.9" height="1.9"/><rect x="156.8" y="102.7" width="1.9" height="1.9"/><rect x="159.1" y="109.0" width="1.9" height="1.9"/><rect x="150.2" y="69.1" width="1.9" height="1.9"/><rect x="148.1" y="95.4" width="1.9" height="1.9"/><rect x="148.2" y="74.9" width="1.9" height="1.9"/><rect x="151.1" y="77.3" width="1.9" height="1.9"/><rect x="150.6" y="99.9" width="1.9" height="1.9"/><rect x="143.0" y="87.6" width="1.9" height="1.9"/><rect x="156.3" y="91.5" width="1.9" height="1.9"/><rect x="150.4" y="72.5" width="1.9" height="1.9"/><rect x="159.0" y="85.3" width="1.9" height="1.9"/><rect x="165.0" y="89.3" width="1.9" height="1.9"/><rect x="155.6" y="86.1" width="1.9" height="1.9"/><rect x="164.4" y="71.8" width="1.9" height="1.9"/><rect x="134.6" y="98.7" width="1.9" height="1.9"/><rect x="144.1" y="87.1" width="1.9" height="1.9"/><rect x="156.0" y="105.4" width="1.9" height="1.9"/><rect x="148.9" y="80.4" width="1.9" height="1.9"/><rect x="179.4" y="90.2" width="1.9" height="1.9"/><rect x="218.1" y="84.3" width="1.9" height="1.9"/><rect x="183.5" y="69.0" width="1.9" height="1.9"/><rect x="199.5" y="77.7" width="1.9" height="1.9"/><rect x="228.5" y="90.8" width="1.9" height="1.9"/><rect x="186.4" y="94.9" width="1.9" height="1.9"/><rect x="208.2" y="70.0" width="1.9" height="1.9"/><rect x="184.3" y="106.0" width="1.9" height="1.9"/><rect x="253.0" y="97.2" width="1.9" height="1.9"/><rect x="189.9" y="86.8" width="1.9" height="1.9"/><rect x="175.4" y="119.8" width="1.9" height="1.9"/><rect x="81.4" y="125.4" width="1.9" height="1.9"/><rect x="81.2" y="111.6" width="1.9" height="1.9"/><rect x="119.9" y="118.8" width="1.9" height="1.9"/><rect x="127.8" y="131.3" width="1.9" height="1.9"/><rect x="152.3" y="146.9" width="1.9" height="1.9"/><rect x="154.7" y="113.7" width="1.9" height="1.9"/><rect x="145.0" y="148.4" width="1.9" height="1.9"/><rect x="40.0" y="148.3" width="1.9" height="1.9"/><rect x="171.2" y="108.8" width="1.9" height="1.9"/><rect x="61.8" y="127.6" width="1.9" height="1.9"/><rect x="35.4" y="141.0" width="1.9" height="1.9"/><rect x="154.6" y="152.2" width="1.9" height="1.9"/><rect x="143.7" y="113.8" width="1.9" height="1.9"/><rect x="153.9" y="157.2" width="1.9" height="1.9"/><rect x="157.8" y="147.1" width="1.9" height="1.9"/><rect x="148.4" y="135.0" width="1.9" height="1.9"/><rect x="100.5" y="113.4" width="1.9" height="1.9"/><rect x="161.6" y="107.9" width="1.9" height="1.9"/><rect x="69.1" y="153.8" width="1.9" height="1.9"/><rect x="94.9" y="144.9" width="1.9" height="1.9"/><rect x="55.2" y="129.1" width="1.9" height="1.9"/><rect x="98.4" y="123.2" width="1.9" height="1.9"/><rect x="61.8" y="130.1" width="1.9" height="1.9"/><rect x="44.7" y="152.9" width="1.9" height="1.9"/><rect x="161.0" y="114.3" width="1.9" height="1.9"/><rect x="154.3" y="160.3" width="1.9" height="1.9"/><rect x="91.9" y="132.1" width="1.9" height="1.9"/><rect x="126.9" y="132.5" width="1.9" height="1.9"/><rect x="58.2" y="126.6" width="1.9" height="1.9"/><rect x="146.8" y="112.8" width="1.9" height="1.9"/><rect x="53.7" y="127.2" width="1.9" height="1.9"/><rect x="144.8" y="148.5" width="1.9" height="1.9"/><rect x="146.8" y="144.0" width="1.9" height="1.9"/><rect x="175.8" y="119.5" width="1.9" height="1.9"/><rect x="131.9" y="130.2" width="1.9" height="1.9"/><rect x="170.1" y="129.8" width="1.9" height="1.9"/><rect x="134.3" y="148.5" width="1.9" height="1.9"/><rect x="170.6" y="147.9" width="1.9" height="1.9"/><rect x="145.3" y="157.7" width="1.9" height="1.9"/><rect x="134.0" y="113.9" width="1.9" height="1.9"/><rect x="115.4" y="123.5" width="1.9" height="1.9"/><rect x="118.4" y="113.3" width="1.9" height="1.9"/><rect x="111.5" y="135.0" width="1.9" height="1.9"/><rect x="150.6" y="145.4" width="1.9" height="1.9"/><rect x="37.1" y="136.2" width="1.9" height="1.9"/><rect x="127.5" y="144.5" width="1.9" height="1.9"/><rect x="26.4" y="134.8" width="1.9" height="1.9"/><rect x="99.5" y="132.4" width="1.9" height="1.9"/><rect x="140.4" y="121.7" width="1.9" height="1.9"/><rect x="97.0" y="118.8" width="1.9" height="1.9"/><rect x="49.0" y="149.8" width="1.9" height="1.9"/><rect x="81.6" y="111.4" width="1.9" height="1.9"/><rect x="143.9" y="106.2" width="1.9" height="1.9"/><rect x="72.2" y="151.5" width="1.9" height="1.9"/><rect x="173.1" y="133.0" width="1.9" height="1.9"/><rect x="36.6" y="124.2" width="1.9" height="1.9"/><rect x="147.9" y="105.1" width="1.9" height="1.9"/><rect x="120.7" y="134.2" width="1.9" height="1.9"/><rect x="136.8" y="125.8" width="1.9" height="1.9"/><rect x="166.4" y="111.5" width="1.9" height="1.9"/><rect x="87.9" y="122.2" width="1.9" height="1.9"/><rect x="109.5" y="117.2" width="1.9" height="1.9"/><rect x="83.5" y="130.2" width="1.9" height="1.9"/><rect x="164.4" y="106.6" width="1.9" height="1.9"/><rect x="67.9" y="113.3" width="1.9" height="1.9"/><rect x="133.0" y="148.2" width="1.9" height="1.9"/><rect x="158.1" y="131.0" width="1.9" height="1.9"/><rect x="115.0" y="149.4" width="1.9" height="1.9"/><rect x="165.1" y="117.7" width="1.9" height="1.9"/><rect x="132.0" y="109.5" width="1.9" height="1.9"/><rect x="119.9" y="134.9" width="1.9" height="1.9"/><rect x="92.4" y="130.6" width="1.9" height="1.9"/><rect x="29.7" y="136.5" width="1.9" height="1.9"/><rect x="167.2" y="111.7" width="1.9" height="1.9"/><rect x="30.3" y="140.0" width="1.9" height="1.9"/><rect x="149.3" y="129.1" width="1.9" height="1.9"/><rect x="37.7" y="141.2" width="1.9" height="1.9"/><rect x="124.2" y="118.1" width="1.9" height="1.9"/><rect x="147.9" y="135.5" width="1.9" height="1.9"/><rect x="143.8" y="118.2" width="1.9" height="1.9"/><rect x="79.7" y="142.2" width="1.9" height="1.9"/><rect x="126.0" y="152.5" width="1.9" height="1.9"/><rect x="167.5" y="145.4" width="1.9" height="1.9"/><rect x="26.5" y="131.1" width="1.9" height="1.9"/><rect x="125.6" y="148.7" width="1.9" height="1.9"/><rect x="72.5" y="108.4" width="1.9" height="1.9"/><rect x="112.7" y="115.9" width="1.9" height="1.9"/><rect x="103.0" y="117.9" width="1.9" height="1.9"/><rect x="157.7" y="106.7" width="1.9" height="1.9"/><rect x="109.3" y="154.3" width="1.9" height="1.9"/><rect x="122.1" y="113.2" width="1.9" height="1.9"/><rect x="107.7" y="151.3" width="1.9" height="1.9"/><rect x="120.4" y="155.8" width="1.9" height="1.9"/><rect x="148.1" y="126.5" width="1.9" height="1.9"/><rect x="92.2" y="145.3" width="1.9" height="1.9"/><rect x="155.7" y="150.4" width="1.9" height="1.9"/><rect x="142.1" y="142.6" width="1.9" height="1.9"/><rect x="50.8" y="123.5" width="1.9" height="1.9"/><rect x="67.4" y="121.4" width="1.9" height="1.9"/><rect x="113.3" y="125.4" width="1.9" height="1.9"/><rect x="124.5" y="155.0" width="1.9" height="1.9"/><rect x="175.0" y="105.3" width="1.9" height="1.9"/><rect x="117.1" y="137.5" width="1.9" height="1.9"/><rect x="90.3" y="146.2" width="1.9" height="1.9"/><rect x="158.0" y="118.8" width="1.9" height="1.9"/><rect x="121.0" y="113.9" width="1.9" height="1.9"/><rect x="91.5" y="124.9" width="1.9" height="1.9"/><rect x="148.9" y="156.0" width="1.9" height="1.9"/><rect x="156.5" y="134.3" width="1.9" height="1.9"/><rect x="132.3" y="141.5" width="1.9" height="1.9"/><rect x="106.8" y="112.7" width="1.9" height="1.9"/><rect x="65.7" y="158.6" width="1.9" height="1.9"/><rect x="114.9" y="111.5" width="1.9" height="1.9"/><rect x="78.8" y="112.5" width="1.9" height="1.9"/><rect x="44.0" y="126.4" width="1.9" height="1.9"/><rect x="69.1" y="106.1" width="1.9" height="1.9"/><rect x="94.9" y="127.4" width="1.9" height="1.9"/><rect x="82.7" y="120.0" width="1.9" height="1.9"/><rect x="74.4" y="115.9" width="1.9" height="1.9"/><rect x="100.4" y="140.7" width="1.9" height="1.9"/><rect x="97.8" y="127.0" width="1.9" height="1.9"/><rect x="158.7" y="138.2" width="1.9" height="1.9"/><rect x="53.8" y="122.2" width="1.9" height="1.9"/><rect x="84.4" y="136.7" width="1.9" height="1.9"/><rect x="82.0" y="119.9" width="1.9" height="1.9"/><rect x="136.7" y="153.4" width="1.9" height="1.9"/><rect x="160.2" y="113.0" width="1.9" height="1.9"/><rect x="106.0" y="145.6" width="1.9" height="1.9"/><rect x="98.6" y="134.7" width="1.9" height="1.9"/><rect x="120.6" y="140.5" width="1.9" height="1.9"/><rect x="66.2" y="107.0" width="1.9" height="1.9"/><rect x="71.8" y="107.2" width="1.9" height="1.9"/><rect x="109.3" y="153.9" width="1.9" height="1.9"/><rect x="89.2" y="128.5" width="1.9" height="1.9"/><rect x="165.3" y="143.4" width="1.9" height="1.9"/><rect x="135.1" y="141.2" width="1.9" height="1.9"/><rect x="76.2" y="115.9" width="1.9" height="1.9"/><rect x="101.1" y="143.1" width="1.9" height="1.9"/><rect x="155.8" y="144.0" width="1.9" height="1.9"/><rect x="155.8" y="129.2" width="1.9" height="1.9"/><rect x="175.3" y="114.5" width="1.9" height="1.9"/><rect x="117.7" y="126.7" width="1.9" height="1.9"/><rect x="173.5" y="106.9" width="1.9" height="1.9"/><rect x="97.2" y="125.1" width="1.9" height="1.9"/><rect x="80.8" y="146.7" width="1.9" height="1.9"/><rect x="171.1" y="130.8" width="1.9" height="1.9"/><rect x="27.1" y="139.7" width="1.9" height="1.9"/><rect x="124.2" y="157.0" width="1.9" height="1.9"/><rect x="158.6" y="158.2" width="1.9" height="1.9"/><rect x="65.0" y="122.9" width="1.9" height="1.9"/><rect x="130.3" y="124.4" width="1.9" height="1.9"/><rect x="81.8" y="107.3" width="1.9" height="1.9"/><rect x="55.0" y="112.5" width="1.9" height="1.9"/><rect x="81.3" y="144.3" width="1.9" height="1.9"/><rect x="54.3" y="121.2" width="1.9" height="1.9"/><rect x="37.5" y="127.8" width="1.9" height="1.9"/><rect x="113.8" y="138.7" width="1.9" height="1.9"/><rect x="122.7" y="135.1" width="1.9" height="1.9"/><rect x="130.1" y="149.9" width="1.9" height="1.9"/><rect x="151.9" y="105.1" width="1.9" height="1.9"/><rect x="165.5" y="131.9" width="1.9" height="1.9"/><rect x="175.0" y="147.7" width="1.9" height="1.9"/><rect x="94.8" y="107.6" width="1.9" height="1.9"/><rect x="39.7" y="148.5" width="1.9" height="1.9"/><rect x="130.5" y="139.1" width="1.9" height="1.9"/><rect x="127.1" y="108.8" width="1.9" height="1.9"/><rect x="169.8" y="147.0" width="1.9" height="1.9"/><rect x="26.8" y="137.0" width="1.9" height="1.9"/><rect x="74.3" y="118.1" width="1.9" height="1.9"/><rect x="165.8" y="109.9" width="1.9" height="1.9"/><rect x="160.5" y="105.9" width="1.9" height="1.9"/><rect x="73.7" y="106.4" width="1.9" height="1.9"/><rect x="51.9" y="114.7" width="1.9" height="1.9"/><rect x="109.9" y="129.4" width="1.9" height="1.9"/><rect x="171.2" y="147.3" width="1.9" height="1.9"/><rect x="67.2" y="150.7" width="1.9" height="1.9"/><rect x="146.1" y="152.0" width="1.9" height="1.9"/><rect x="155.8" y="146.0" width="1.9" height="1.9"/><rect x="109.5" y="152.2" width="1.9" height="1.9"/><rect x="149.4" y="150.8" width="1.9" height="1.9"/><rect x="157.8" y="134.8" width="1.9" height="1.9"/><rect x="38.2" y="140.0" width="1.9" height="1.9"/><rect x="130.9" y="158.2" width="1.9" height="1.9"/><rect x="137.8" y="155.2" width="1.9" height="1.9"/><rect x="162.9" y="123.4" width="1.9" height="1.9"/><rect x="164.9" y="136.9" width="1.9" height="1.9"/><rect x="90.5" y="129.9" width="1.9" height="1.9"/><rect x="100.0" y="128.3" width="1.9" height="1.9"/><rect x="134.1" y="119.4" width="1.9" height="1.9"/><rect x="90.9" y="141.4" width="1.9" height="1.9"/><rect x="171.6" y="146.0" width="1.9" height="1.9"/><rect x="108.9" y="126.0" width="1.9" height="1.9"/><rect x="124.7" y="156.8" width="1.9" height="1.9"/><rect x="125.8" y="105.2" width="1.9" height="1.9"/><rect x="160.5" y="127.9" width="1.9" height="1.9"/><rect x="37.4" y="144.5" width="1.9" height="1.9"/><rect x="45.8" y="129.3" width="1.9" height="1.9"/><rect x="124.3" y="129.8" width="1.9" height="1.9"/><rect x="69.1" y="130.4" width="1.9" height="1.9"/><rect x="94.5" y="137.5" width="1.9" height="1.9"/><rect x="114.1" y="122.8" width="1.9" height="1.9"/><rect x="127.9" y="152.9" width="1.9" height="1.9"/><rect x="171.0" y="139.7" width="1.9" height="1.9"/><rect x="174.5" y="144.8" width="1.9" height="1.9"/><rect x="54.3" y="116.4" width="1.9" height="1.9"/><rect x="48.4" y="129.3" width="1.9" height="1.9"/><rect x="168.8" y="116.7" width="1.9" height="1.9"/><rect x="148.3" y="135.8" width="1.9" height="1.9"/><rect x="65.4" y="130.5" width="1.9" height="1.9"/><rect x="33.2" y="140.6" width="1.9" height="1.9"/><rect x="161.6" y="123.2" width="1.9" height="1.9"/><rect x="171.5" y="121.2" width="1.9" height="1.9"/><rect x="78.4" y="144.0" width="1.9" height="1.9"/><rect x="100.5" y="132.5" width="1.9" height="1.9"/><rect x="159.5" y="138.5" width="1.9" height="1.9"/><rect x="169.2" y="125.2" width="1.9" height="1.9"/><rect x="135.2" y="105.4" width="1.9" height="1.9"/><rect x="140.7" y="153.2" width="1.9" height="1.9"/><rect x="115.1" y="148.9" width="1.9" height="1.9"/><rect x="99.0" y="126.5" width="1.9" height="1.9"/><rect x="141.5" y="107.0" width="1.9" height="1.9"/><rect x="126.4" y="106.9" width="1.9" height="1.9"/><rect x="122.3" y="145.1" width="1.9" height="1.9"/><rect x="163.5" y="141.6" width="1.9" height="1.9"/><rect x="123.4" y="143.3" width="1.9" height="1.9"/><rect x="126.8" y="143.9" width="1.9" height="1.9"/><rect x="127.9" y="152.5" width="1.9" height="1.9"/><rect x="32.8" y="135.8" width="1.9" height="1.9"/><rect x="154.4" y="111.9" width="1.9" height="1.9"/><rect x="158.7" y="133.0" width="1.9" height="1.9"/><rect x="125.3" y="114.3" width="1.9" height="1.9"/><rect x="175.0" y="131.0" width="1.9" height="1.9"/><rect x="31.9" y="141.5" width="1.9" height="1.9"/><rect x="151.7" y="112.0" width="1.9" height="1.9"/><rect x="63.2" y="120.4" width="1.9" height="1.9"/><rect x="148.1" y="130.7" width="1.9" height="1.9"/><rect x="130.0" y="155.9" width="1.9" height="1.9"/><rect x="148.6" y="126.3" width="1.9" height="1.9"/><rect x="160.1" y="115.5" width="1.9" height="1.9"/><rect x="149.3" y="109.8" width="1.9" height="1.9"/><rect x="73.3" y="110.8" width="1.9" height="1.9"/><rect x="110.2" y="111.3" width="1.9" height="1.9"/><rect x="116.8" y="114.4" width="1.9" height="1.9"/><rect x="126.6" y="132.8" width="1.9" height="1.9"/><rect x="72.1" y="112.9" width="1.9" height="1.9"/><rect x="139.4" y="115.9" width="1.9" height="1.9"/><rect x="158.0" y="145.5" width="1.9" height="1.9"/><rect x="121.3" y="152.3" width="1.9" height="1.9"/><rect x="151.3" y="151.6" width="1.9" height="1.9"/><rect x="138.7" y="128.3" width="1.9" height="1.9"/><rect x="139.4" y="127.1" width="1.9" height="1.9"/><rect x="110.1" y="106.5" width="1.9" height="1.9"/><rect x="157.1" y="155.3" width="1.9" height="1.9"/><rect x="172.0" y="149.2" width="1.9" height="1.9"/><rect x="103.0" y="109.7" width="1.9" height="1.9"/><rect x="89.0" y="137.3" width="1.9" height="1.9"/><rect x="164.3" y="109.1" width="1.9" height="1.9"/><rect x="42.6" y="125.7" width="1.9" height="1.9"/><rect x="108.6" y="119.9" width="1.9" height="1.9"/><rect x="81.9" y="115.5" width="1.9" height="1.9"/><rect x="97.2" y="117.1" width="1.9" height="1.9"/><rect x="94.0" y="123.4" width="1.9" height="1.9"/><rect x="86.2" y="113.2" width="1.9" height="1.9"/><rect x="100.0" y="111.5" width="1.9" height="1.9"/><rect x="99.2" y="111.5" width="1.9" height="1.9"/><rect x="81.8" y="123.1" width="1.9" height="1.9"/><rect x="90.1" y="118.2" width="1.9" height="1.9"/><rect x="103.9" y="120.4" width="1.9" height="1.9"/><rect x="76.0" y="130.9" width="1.9" height="1.9"/><rect x="91.7" y="127.4" width="1.9" height="1.9"/><rect x="102.4" y="134.9" width="1.9" height="1.9"/><rect x="79.0" y="135.2" width="1.9" height="1.9"/><rect x="100.2" y="112.6" width="1.9" height="1.9"/><rect x="86.5" y="134.5" width="1.9" height="1.9"/><rect x="82.5" y="120.1" width="1.9" height="1.9"/><rect x="85.5" y="133.8" width="1.9" height="1.9"/><rect x="68.5" y="128.8" width="1.9" height="1.9"/><rect x="93.5" y="136.9" width="1.9" height="1.9"/><rect x="91.3" y="118.3" width="1.9" height="1.9"/><rect x="91.4" y="130.8" width="1.9" height="1.9"/><rect x="72.7" y="132.1" width="1.9" height="1.9"/><rect x="89.7" y="127.0" width="1.9" height="1.9"/><rect x="91.4" y="127.7" width="1.9" height="1.9"/><rect x="73.4" y="115.0" width="1.9" height="1.9"/><rect x="68.1" y="119.6" width="1.9" height="1.9"/><rect x="75.9" y="127.1" width="1.9" height="1.9"/><rect x="71.5" y="114.6" width="1.9" height="1.9"/><rect x="86.7" y="132.3" width="1.9" height="1.9"/><rect x="85.5" y="112.6" width="1.9" height="1.9"/><rect x="101.5" y="126.2" width="1.9" height="1.9"/><rect x="101.0" y="131.3" width="1.9" height="1.9"/><rect x="100.6" y="133.2" width="1.9" height="1.9"/><rect x="95.0" y="134.4" width="1.9" height="1.9"/><rect x="92.3" y="137.3" width="1.9" height="1.9"/><rect x="101.1" y="115.5" width="1.9" height="1.9"/><rect x="85.3" y="136.6" width="1.9" height="1.9"/><rect x="92.4" y="127.8" width="1.9" height="1.9"/><rect x="83.1" y="113.3" width="1.9" height="1.9"/><rect x="83.4" y="111.3" width="1.9" height="1.9"/><rect x="74.0" y="123.4" width="1.9" height="1.9"/><rect x="84.0" y="128.2" width="1.9" height="1.9"/><rect x="89.3" y="131.7" width="1.9" height="1.9"/><rect x="88.5" y="132.5" width="1.9" height="1.9"/><rect x="69.4" y="123.6" width="1.9" height="1.9"/><rect x="101.9" y="131.2" width="1.9" height="1.9"/><rect x="98.0" y="137.2" width="1.9" height="1.9"/><rect x="73.8" y="124.3" width="1.9" height="1.9"/><rect x="99.9" y="119.7" width="1.9" height="1.9"/><rect x="86.7" y="116.1" width="1.9" height="1.9"/><rect x="119.9" y="126.2" width="1.9" height="1.9"/><rect x="145.8" y="123.6" width="1.9" height="1.9"/><rect x="152.0" y="119.2" width="1.9" height="1.9"/><rect x="149.9" y="123.6" width="1.9" height="1.9"/><rect x="134.9" y="117.4" width="1.9" height="1.9"/><rect x="125.0" y="116.8" width="1.9" height="1.9"/><rect x="149.9" y="108.7" width="1.9" height="1.9"/><rect x="154.0" y="112.1" width="1.9" height="1.9"/><rect x="136.7" y="114.0" width="1.9" height="1.9"/><rect x="118.4" y="120.4" width="1.9" height="1.9"/><rect x="124.1" y="116.2" width="1.9" height="1.9"/><rect x="149.6" y="117.1" width="1.9" height="1.9"/><rect x="130.5" y="110.8" width="1.9" height="1.9"/><rect x="117.7" y="124.2" width="1.9" height="1.9"/><rect x="136.0" y="114.1" width="1.9" height="1.9"/><rect x="146.6" y="118.6" width="1.9" height="1.9"/><rect x="126.0" y="127.3" width="1.9" height="1.9"/><rect x="133.0" y="114.7" width="1.9" height="1.9"/><rect x="155.3" y="116.4" width="1.9" height="1.9"/><rect x="135.3" y="124.7" width="1.9" height="1.9"/><rect x="142.3" y="113.1" width="1.9" height="1.9"/><rect x="119.0" y="109.3" width="1.9" height="1.9"/><rect x="122.7" y="122.9" width="1.9" height="1.9"/><rect x="131.7" y="118.7" width="1.9" height="1.9"/><rect x="128.2" y="108.9" width="1.9" height="1.9"/><rect x="155.5" y="121.4" width="1.9" height="1.9"/><rect x="143.9" y="120.6" width="1.9" height="1.9"/><rect x="119.0" y="124.5" width="1.9" height="1.9"/><rect x="151.0" y="112.7" width="1.9" height="1.9"/><rect x="150.5" y="127.3" width="1.9" height="1.9"/><rect x="123.8" y="126.3" width="1.9" height="1.9"/><rect x="118.8" y="123.0" width="1.9" height="1.9"/><rect x="155.1" y="110.9" width="1.9" height="1.9"/><rect x="134.5" y="108.4" width="1.9" height="1.9"/><rect x="137.9" y="109.1" width="1.9" height="1.9"/><rect x="136.2" y="111.8" width="1.9" height="1.9"/><rect x="124.5" y="121.4" width="1.9" height="1.9"/><rect x="126.3" y="111.1" width="1.9" height="1.9"/><rect x="128.3" y="115.6" width="1.9" height="1.9"/><rect x="143.4" y="119.7" width="1.9" height="1.9"/><rect x="139.6" y="121.9" width="1.9" height="1.9"/><rect x="127.6" y="121.7" width="1.9" height="1.9"/><rect x="119.5" y="109.9" width="1.9" height="1.9"/><rect x="139.1" y="121.0" width="1.9" height="1.9"/><rect x="127.8" y="127.7" width="1.9" height="1.9"/><rect x="121.5" y="124.3" width="1.9" height="1.9"/><rect x="138.3" y="120.0" width="1.9" height="1.9"/><rect x="133.7" y="109.3" width="1.9" height="1.9"/><rect x="134.2" y="121.7" width="1.9" height="1.9"/><rect x="146.0" y="124.4" width="1.9" height="1.9"/></g><g fill="#ff1c1c"><rect x="139.3" y="93.0" width="1.9" height="1.9"/><rect x="136.7" y="90.2" width="1.9" height="1.9"/><rect x="140.9" y="102.8" width="1.9" height="1.9"/><rect x="136.4" y="76.8" width="1.9" height="1.9"/><rect x="143.8" y="102.8" width="1.9" height="1.9"/><rect x="136.1" y="99.0" width="1.9" height="1.9"/><rect x="137.2" y="104.9" width="1.9" height="1.9"/><rect x="144.0" y="82.2" width="1.9" height="1.9"/><rect x="140.3" y="104.3" width="1.9" height="1.9"/><rect x="148.3" y="76.3" width="1.9" height="1.9"/><rect x="141.1" y="79.1" width="1.9" height="1.9"/><rect x="148.5" y="108.3" width="1.9" height="1.9"/><rect x="140.9" y="104.8" width="1.9" height="1.9"/><rect x="138.6" y="104.6" width="1.9" height="1.9"/><rect x="137.6" y="85.8" width="1.9" height="1.9"/><rect x="142.5" y="101.1" width="1.9" height="1.9"/><rect x="141.7" y="78.8" width="1.9" height="1.9"/><rect x="135.5" y="80.6" width="1.9" height="1.9"/><rect x="139.0" y="97.8" width="1.9" height="1.9"/><rect x="137.7" y="106.9" width="1.9" height="1.9"/><rect x="144.1" y="85.9" width="1.9" height="1.9"/><rect x="143.1" y="104.6" width="1.9" height="1.9"/><rect x="138.6" y="98.3" width="1.9" height="1.9"/><rect x="144.0" y="104.0" width="1.9" height="1.9"/><rect x="144.3" y="77.2" width="1.9" height="1.9"/><rect x="147.1" y="82.5" width="1.9" height="1.9"/><rect x="143.6" y="79.2" width="1.9" height="1.9"/><rect x="146.1" y="104.0" width="1.9" height="1.9"/><rect x="146.3" y="99.5" width="1.9" height="1.9"/><rect x="147.8" y="93.7" width="1.9" height="1.9"/><rect x="147.0" y="84.9" width="1.9" height="1.9"/><rect x="137.0" y="83.2" width="1.9" height="1.9"/><rect x="140.7" y="102.3" width="1.9" height="1.9"/><rect x="145.9" y="85.6" width="1.9" height="1.9"/><rect x="145.9" y="106.5" width="1.9" height="1.9"/><rect x="140.6" y="99.2" width="1.9" height="1.9"/><rect x="139.1" y="88.8" width="1.9" height="1.9"/><rect x="137.9" y="86.2" width="1.9" height="1.9"/><rect x="136.2" y="88.7" width="1.9" height="1.9"/><rect x="146.2" y="81.5" width="1.9" height="1.9"/><rect x="138.0" y="106.7" width="1.9" height="1.9"/><rect x="139.9" y="83.7" width="1.9" height="1.9"/><rect x="137.4" y="76.3" width="1.9" height="1.9"/><rect x="147.3" y="100.5" width="1.9" height="1.9"/><rect x="148.6" y="105.9" width="1.9" height="1.9"/><rect x="143.8" y="108.2" width="1.9" height="1.9"/><rect x="138.6" y="100.5" width="1.9" height="1.9"/><rect x="146.4" y="80.4" width="1.9" height="1.9"/><rect x="148.0" y="109.1" width="1.9" height="1.9"/><rect x="138.1" y="80.9" width="1.9" height="1.9"/><rect x="136.5" y="81.7" width="1.9" height="1.9"/><rect x="139.8" y="103.0" width="1.9" height="1.9"/><rect x="138.1" y="83.0" width="1.9" height="1.9"/><rect x="144.6" y="103.3" width="1.9" height="1.9"/><rect x="135.1" y="102.7" width="1.9" height="1.9"/><rect x="162.0" y="71.5" width="1.9" height="1.9"/><rect x="129.8" y="46.5" width="1.9" height="1.9"/><rect x="162.7" y="77.1" width="1.9" height="1.9"/><rect x="131.5" y="106.3" width="1.9" height="1.9"/><rect x="160.4" y="63.9" width="1.9" height="1.9"/><rect x="137.3" y="46.0" width="1.9" height="1.9"/><rect x="142.0" y="33.4" width="1.9" height="1.9"/><rect x="130.1" y="84.7" width="1.9" height="1.9"/><rect x="129.5" y="69.3" width="1.9" height="1.9"/><rect x="174.6" y="93.0" width="1.9" height="1.9"/><rect x="125.6" y="89.3" width="1.9" height="1.9"/><rect x="152.6" y="73.3" width="1.9" height="1.9"/><rect x="164.8" y="107.6" width="1.9" height="1.9"/><rect x="140.3" y="96.5" width="1.9" height="1.9"/><rect x="131.4" y="74.4" width="1.9" height="1.9"/><rect x="169.6" y="93.4" width="1.9" height="1.9"/><rect x="139.5" y="101.8" width="1.9" height="1.9"/><rect x="152.7" y="102.2" width="1.9" height="1.9"/><rect x="165.0" y="65.8" width="1.9" height="1.9"/><rect x="139.8" y="39.9" width="1.9" height="1.9"/><rect x="130.9" y="139.3" width="1.9" height="1.9"/><rect x="133.5" y="136.7" width="1.9" height="1.9"/><rect x="159.8" y="140.0" width="1.9" height="1.9"/><rect x="167.3" y="142.3" width="1.9" height="1.9"/><rect x="167.8" y="158.6" width="1.9" height="1.9"/><rect x="139.4" y="149.0" width="1.9" height="1.9"/><rect x="158.9" y="134.4" width="1.9" height="1.9"/><rect x="157.6" y="146.9" width="1.9" height="1.9"/><rect x="140.8" y="137.8" width="1.9" height="1.9"/><rect x="159.5" y="143.4" width="1.9" height="1.9"/><rect x="154.3" y="153.7" width="1.9" height="1.9"/><rect x="163.7" y="144.3" width="1.9" height="1.9"/><rect x="165.1" y="159.9" width="1.9" height="1.9"/><rect x="149.6" y="137.7" width="1.9" height="1.9"/><rect x="161.4" y="143.3" width="1.9" height="1.9"/><rect x="157.2" y="134.8" width="1.9" height="1.9"/><rect x="166.1" y="155.4" width="1.9" height="1.9"/><rect x="150.3" y="132.0" width="1.9" height="1.9"/><rect x="138.7" y="129.5" width="1.9" height="1.9"/><rect x="151.4" y="153.3" width="1.9" height="1.9"/><rect x="147.3" y="139.3" width="1.9" height="1.9"/><rect x="159.5" y="147.3" width="1.9" height="1.9"/><rect x="148.8" y="149.9" width="1.9" height="1.9"/><rect x="167.4" y="154.2" width="1.9" height="1.9"/><rect x="165.3" y="139.1" width="1.9" height="1.9"/><rect x="136.4" y="146.0" width="1.9" height="1.9"/><rect x="128.9" y="133.5" width="1.9" height="1.9"/><rect x="160.1" y="142.1" width="1.9" height="1.9"/><rect x="164.6" y="139.0" width="1.9" height="1.9"/><rect x="158.3" y="148.5" width="1.9" height="1.9"/><rect x="155.8" y="157.5" width="1.9" height="1.9"/><rect x="151.1" y="146.5" width="1.9" height="1.9"/><rect x="143.9" y="146.3" width="1.9" height="1.9"/><rect x="160.1" y="146.1" width="1.9" height="1.9"/><rect x="162.2" y="142.0" width="1.9" height="1.9"/><rect x="156.3" y="143.5" width="1.9" height="1.9"/><rect x="153.5" y="156.6" width="1.9" height="1.9"/><rect x="137.3" y="136.6" width="1.9" height="1.9"/><rect x="148.4" y="144.8" width="1.9" height="1.9"/><rect x="163.2" y="132.4" width="1.9" height="1.9"/><rect x="142.8" y="134.4" width="1.9" height="1.9"/><rect x="140.5" y="138.7" width="1.9" height="1.9"/><rect x="160.9" y="146.7" width="1.9" height="1.9"/><rect x="143.1" y="148.3" width="1.9" height="1.9"/><rect x="146.9" y="142.3" width="1.9" height="1.9"/><rect x="155.9" y="147.6" width="1.9" height="1.9"/><rect x="152.6" y="148.4" width="1.9" height="1.9"/><rect x="136.1" y="134.2" width="1.9" height="1.9"/><rect x="153.3" y="136.6" width="1.9" height="1.9"/><rect x="148.8" y="129.5" width="1.9" height="1.9"/><rect x="143.9" y="134.0" width="1.9" height="1.9"/><rect x="135.1" y="135.8" width="1.9" height="1.9"/><rect x="142.8" y="138.7" width="1.9" height="1.9"/><rect x="131.4" y="131.1" width="1.9" height="1.9"/><rect x="158.9" y="159.6" width="1.9" height="1.9"/><rect x="164.5" y="155.5" width="1.9" height="1.9"/><rect x="162.5" y="131.6" width="1.9" height="1.9"/><rect x="151.4" y="156.8" width="1.9" height="1.9"/><rect x="129.4" y="136.8" width="1.9" height="1.9"/><rect x="169.6" y="153.9" width="1.9" height="1.9"/><rect x="143.9" y="134.3" width="1.9" height="1.9"/><rect x="142.7" y="146.5" width="1.9" height="1.9"/><rect x="154.6" y="158.4" width="1.9" height="1.9"/><rect x="142.3" y="141.2" width="1.9" height="1.9"/><rect x="150.3" y="130.6" width="1.9" height="1.9"/><rect x="164.6" y="147.3" width="1.9" height="1.9"/><rect x="167.5" y="153.0" width="1.9" height="1.9"/><rect x="146.6" y="129.9" width="1.9" height="1.9"/><rect x="143.5" y="146.0" width="1.9" height="1.9"/><rect x="145.0" y="144.7" width="1.9" height="1.9"/><rect x="116.6" y="141.7" width="1.9" height="1.9"/><rect x="118.4" y="148.9" width="1.9" height="1.9"/><rect x="114.6" y="146.8" width="1.9" height="1.9"/><rect x="117.2" y="142.5" width="1.9" height="1.9"/><rect x="120.1" y="145.9" width="1.9" height="1.9"/><rect x="117.4" y="142.0" width="1.9" height="1.9"/><rect x="118.6" y="148.9" width="1.9" height="1.9"/><rect x="118.3" y="139.5" width="1.9" height="1.9"/><rect x="116.3" y="149.4" width="1.9" height="1.9"/><rect x="122.2" y="140.1" width="1.9" height="1.9"/><rect x="80.4" y="136.8" width="1.9" height="1.9"/><rect x="94.0" y="137.4" width="1.9" height="1.9"/><rect x="91.9" y="136.8" width="1.9" height="1.9"/><rect x="91.7" y="129.0" width="1.9" height="1.9"/><rect x="79.2" y="130.3" width="1.9" height="1.9"/><rect x="74.9" y="130.4" width="1.9" height="1.9"/><rect x="79.6" y="124.6" width="1.9" height="1.9"/><rect x="82.6" y="132.4" width="1.9" height="1.9"/><rect x="83.7" y="123.0" width="1.9" height="1.9"/><rect x="93.6" y="124.8" width="1.9" height="1.9"/><rect x="85.6" y="135.3" width="1.9" height="1.9"/><rect x="87.7" y="128.5" width="1.9" height="1.9"/><rect x="91.8" y="122.7" width="1.9" height="1.9"/><rect x="84.8" y="123.2" width="1.9" height="1.9"/><rect x="84.1" y="126.1" width="1.9" height="1.9"/><rect x="90.7" y="128.8" width="1.9" height="1.9"/><rect x="77.7" y="124.0" width="1.9" height="1.9"/><rect x="76.6" y="129.5" width="1.9" height="1.9"/><rect x="91.3" y="136.6" width="1.9" height="1.9"/><rect x="89.1" y="122.4" width="1.9" height="1.9"/><rect x="86.8" y="125.3" width="1.9" height="1.9"/><rect x="76.6" y="122.9" width="1.9" height="1.9"/><rect x="89.5" y="122.2" width="1.9" height="1.9"/><rect x="91.4" y="126.6" width="1.9" height="1.9"/><rect x="81.5" y="136.4" width="1.9" height="1.9"/><rect x="77.6" y="128.3" width="1.9" height="1.9"/><rect x="91.1" y="131.8" width="1.9" height="1.9"/><rect x="78.8" y="122.7" width="1.9" height="1.9"/><rect x="90.4" y="131.6" width="1.9" height="1.9"/><rect x="93.0" y="124.1" width="1.9" height="1.9"/><rect x="79.7" y="133.0" width="1.9" height="1.9"/><rect x="80.4" y="137.7" width="1.9" height="1.9"/><rect x="80.1" y="123.1" width="1.9" height="1.9"/><rect x="83.9" y="122.5" width="1.9" height="1.9"/><rect x="81.7" y="137.0" width="1.9" height="1.9"/><rect x="143.2" y="102.4" width="1.9" height="1.9"/><rect x="143.3" y="109.1" width="1.9" height="1.9"/><rect x="131.2" y="111.3" width="1.9" height="1.9"/><rect x="148.1" y="102.1" width="1.9" height="1.9"/><rect x="134.1" y="107.1" width="1.9" height="1.9"/><rect x="141.0" y="97.0" width="1.9" height="1.9"/><rect x="142.1" y="103.7" width="1.9" height="1.9"/><rect x="142.0" y="95.5" width="1.9" height="1.9"/><rect x="140.9" y="102.7" width="1.9" height="1.9"/><rect x="147.3" y="107.2" width="1.9" height="1.9"/><rect x="144.4" y="104.7" width="1.9" height="1.9"/><rect x="134.7" y="109.2" width="1.9" height="1.9"/><rect x="135.2" y="111.3" width="1.9" height="1.9"/><rect x="140.6" y="102.0" width="1.9" height="1.9"/><rect x="138.0" y="103.1" width="1.9" height="1.9"/><rect x="140.1" y="97.7" width="1.9" height="1.9"/><rect x="138.3" y="95.8" width="1.9" height="1.9"/><rect x="141.3" y="97.0" width="1.9" height="1.9"/><rect x="134.5" y="95.5" width="1.9" height="1.9"/><rect x="140.2" y="95.6" width="1.9" height="1.9"/><rect x="31.8" y="136.3" width="1.9" height="1.9"/><rect x="26.8" y="131.8" width="1.9" height="1.9"/><rect x="29.2" y="133.3" width="1.9" height="1.9"/><rect x="29.4" y="132.2" width="1.9" height="1.9"/><rect x="37.1" y="127.3" width="1.9" height="1.9"/><rect x="164.2" y="155.8" width="1.9" height="1.9"/><rect x="121.3" y="147.6" width="1.9" height="1.9"/><rect x="135.5" y="128.7" width="1.9" height="1.9"/><rect x="116.2" y="143.1" width="1.9" height="1.9"/><rect x="132.6" y="160.2" width="1.9" height="1.9"/><rect x="66.6" y="153.8" width="1.9" height="1.9"/><rect x="34.8" y="138.9" width="1.9" height="1.9"/><rect x="156.4" y="118.3" width="1.9" height="1.9"/><rect x="172.2" y="128.4" width="1.9" height="1.9"/><rect x="175.4" y="122.1" width="1.9" height="1.9"/><rect x="161.8" y="125.1" width="1.9" height="1.9"/><rect x="149.3" y="156.2" width="1.9" height="1.9"/><rect x="111.9" y="146.8" width="1.9" height="1.9"/><rect x="138.7" y="155.8" width="1.9" height="1.9"/><rect x="147.9" y="140.4" width="1.9" height="1.9"/><rect x="133.8" y="137.8" width="1.9" height="1.9"/><rect x="164.8" y="111.7" width="1.9" height="1.9"/><rect x="88.8" y="115.5" width="1.9" height="1.9"/><rect x="59.8" y="114.8" width="1.9" height="1.9"/><rect x="107.0" y="112.0" width="1.9" height="1.9"/></g><g fill="none" stroke="#3b74aa" stroke-width="2.35" stroke-linejoin="round"><path d="M113.5,139.5 C116,135.5 124,136.5 128.5,140.5 C132,144 130.5,152 126,154 C121.5,155.5 115.5,152.5 113.5,148.5 C112,145.5 112,142 113.5,139.5 Z"/><path d="M126.4,133.1 L128.8,130.6 L137.9,129 L144.5,127.3 L152.7,128.1 L161,129.8 L167.6,133.9 L172.5,139.7 L176.6,143 L177.5,149.6 L175,155.8 L171,161.5 L166.2,166.3 L160.5,168.3 L154.5,167.5 L150.7,164.7 L147.4,159 L144.9,154.2 L139.6,151.2 L135.4,147.9 L132.1,142.1 L128.8,138 Z"/></g><rect x="20" y="18.85" width="243.30" height="169.35" fill="none" stroke="#111" stroke-width="1.8"/><g stroke="#111" stroke-width="1.2"><line x1="55.3" y1="15.6" x2="55.3" y2="18.85"/><line x1="143.6" y1="15.6" x2="143.6" y2="18.85"/><line x1="231.5" y1="15.6" x2="231.5" y2="18.85"/><line x1="53.4" y1="188.20" x2="53.4" y2="191.40"/><line x1="145.0" y1="188.20" x2="145.0" y2="191.40"/><line x1="237.8" y1="188.20" x2="237.8" y2="191.40"/><line x1="16.9" y1="76.9" x2="20" y2="76.9"/><line x1="16.9" y1="135.7" x2="20" y2="135.7"/><line x1="263.30" y1="75.4" x2="266.50" y2="75.4"/><line x1="263.30" y1="134.3" x2="266.50" y2="134.3"/></g><g font-family="'Liberation Sans', Arial, sans-serif"><text x="55.5" y="14.6" font-size="7.80" text-anchor="middle" fill="#262626" stroke="#262626" stroke-width="0.25">100°E</text><text x="143.3" y="14.6" font-size="7.80" text-anchor="middle" fill="#262626" stroke="#262626" stroke-width="0.25">102°E</text><text x="231.6" y="14.6" font-size="7.80" text-anchor="middle" fill="#262626" stroke="#262626" stroke-width="0.25">104°E</text><text x="14.9" y="76.8" font-size="7.80" text-anchor="middle" fill="#262626" stroke="#262626" stroke-width="0.25" transform="rotate(-90 14.9 76.8)">41°N</text><text x="14.9" y="135.9" font-size="7.80" text-anchor="middle" fill="#262626" stroke="#262626" stroke-width="0.25" transform="rotate(-90 14.9 135.9)">40°N</text><text x="25.1" y="29.4" font-size="8.20" text-anchor="start" fill="#1a1a1a" stroke="#1a1a1a" stroke-width="0.15" font-weight="bold">Gentle Slope (°)</text><rect x="37.4" y="38.3" width="1.8" height="1.8" fill="#e2f21c"/><text x="46.0" y="42.0" font-size="7.90" text-anchor="start" fill="#262626" stroke="#262626" stroke-width="0.25">10.0 - 15.2</text><rect x="37.4" y="53.8" width="1.8" height="1.8" fill="#10d224"/><text x="46.0" y="57.5" font-size="7.90" text-anchor="start" fill="#262626" stroke="#262626" stroke-width="0.25">15.2 - 15.8</text><rect x="37.4" y="68.0" width="1.8" height="1.8" fill="#ff1c1c"/><text x="46.0" y="71.7" font-size="7.90" text-anchor="start" fill="#262626" stroke="#262626" stroke-width="0.25">15.8 - 25.0</text><path d="M199.4,35.6 V30.8 H226.3 V35.2 H252.6 V30.1" fill="none" stroke="#1a1a1a" stroke-width="1.2"/><text x="252.6" y="28.1" font-size="7.80" text-anchor="middle" fill="#262626" stroke="#262626" stroke-width="0.25">km</text><text x="199.2" y="44.9" font-size="7.80" text-anchor="middle" fill="#262626" stroke="#262626" stroke-width="0.25">0</text><text x="226.0" y="44.9" font-size="7.80" text-anchor="middle" fill="#262626" stroke="#262626" stroke-width="0.25">50</text><text x="252.6" y="44.9" font-size="7.80" text-anchor="middle" fill="#262626" stroke="#262626" stroke-width="0.25">100</text><text x="92.5" y="155.5" font-size="7.80" text-anchor="start" fill="#262626" stroke="#262626" stroke-width="0.25" transform="rotate(26.5 92.5 155.5)">Beida Mts</text><text x="182.5" y="159.5" font-size="7.80" text-anchor="start" fill="#262626" stroke="#262626" stroke-width="0.25" transform="rotate(-34 182.5 159.5)">Yabulai Mts</text><g transform="translate(-0.80 2.20)"><text x="212.9" y="149.1" font-size="6.80" text-anchor="start" fill="#1a1a1a" stroke="#1a1a1a" stroke-width="0.15" font-weight="bold">Altitude (m)</text><rect x="212.9" y="155.8" width="7.3" height="25.8" fill="url(#cbar)"/><text x="226.9" y="158.3" font-size="6.70" text-anchor="start" fill="#262626" stroke="#262626" stroke-width="0.25">High : 1774</text><text x="226.9" y="183.8" font-size="6.70" text-anchor="start" fill="#262626" stroke="#262626" stroke-width="0.25">Low : 869</text></g><rect x="23.7" y="177.4" width="18.8" height="7.9" rx="1.4" fill="#fff" stroke="#3c88c8" stroke-width="2.4"/><text x="50.3" y="184.4" font-size="8.20" text-anchor="start" fill="#262626" stroke="#262626" stroke-width="0.25">Lake Group Area</text></g></g><text x="281.0" y="15.5" font-size="10.2" fill="#2a2a2a" stroke="#2a2a2a" stroke-width="0.3" font-family="'Liberation Sans', Arial, sans-serif">(b)</text><g transform="translate(1.00 194.05)"><path d="M134.4,26.3 L137.2,27.6 L137.6,30.5 L136.2,32.5 L136.5,35.0 L138.5,37.0 L141.0,35.5 L142.5,32.0 L144.5,29.7 L145.8,31.5 L145.5,35.0 L144.0,40.3 L143.5,45.4 L144.6,50.5 L147.6,54.6 L152.7,55.6 L160.0,55.9 L171.8,55.9 L175.5,54.8 L193.6,54.3 L195.1,55.9 L193.6,61.0 L199.5,62.5 L203.8,63.3 L210.2,64.5 L216.5,66.4 L224.1,68.3 L226.7,72.8 L231.7,76.0 L236.8,80.4 L243.2,83.6 L244.4,85.5 L241.9,86.7 L245.7,90.5 L253.3,94.4 L259.7,96.9 L258.4,99.4 L253.3,98.8 L245.7,95.6 L241.9,93.1 L235.5,92.5 L227.9,91.8 L224.1,88.6 L219.0,85.5 L214.0,83.6 L208.9,82.9 L203.8,84.2 L201.0,88.8 L206.8,91.0 L206.1,95.4 L201.0,96.8 L198.1,99.0 L201.0,101.9 L203.5,104.0 L201.7,107.0 L199.5,109.5 L200.5,114.0 L207.8,111.6 L213.6,110.9 L222.8,113.0 L228.2,116.0 L231.5,119.0 L232.5,121.8 L234.0,124.8 L241.0,124.5 L246.0,124.7 L247.8,127.0 L245.7,130.0 L238.0,131.3 L236.0,137.8 L233.5,137.5 L232.0,131.5 L228.0,131.3 L222.8,129.5 L216.7,131.0 L210.0,133.0 L204.0,136.2 L196.3,142.8 L190.0,147.5 L185.0,151.5 L180.0,156.0 L176.7,160.0 L173.8,162.5 L169.5,166.5 L174.5,170.0 L178.0,173.5 L181.0,175.2 L186.0,175.5 L191.0,176.5 L193.8,178.5 L193.5,181.5 L190.0,182.2 L186.0,181.8 L184.5,184.0 L184.0,188.0 L180.0,188.0 L178.5,183.0 L176.0,179.5 L171.0,177.0 L167.0,173.0 L165.0,170.5 L162.2,169.5 L156.4,171.2 L149.1,173.4 L143.3,174.8 L137.5,171.9 L134.5,166.8 L128.7,163.9 L122.0,161.5 L114.0,157.5 L105.0,152.8 L98.0,149.5 L93.2,148.0 L88.6,147.5 L85.0,148.6 L80.0,151.5 L74.0,154.8 L70.5,156.2 L69.8,160.0 L67.8,165.0 L65.8,169.0 L63.0,172.0 L62.0,176.3 L58.2,176.6 L58.0,173.0 L62.0,169.0 L64.3,165.0 L65.2,160.0 L64.6,156.6 L62.2,156.2 L58.1,155.8 L50.5,154.5 L42.8,154.2 L39.0,151.0 L32.7,148.9 L30.2,145.7 L26.3,141.9 L24.4,137.9 L25.1,133.5 L30.2,130.3 L35.2,126.5 L39.0,122.7 L44.1,119.5 L49.2,116.3 L58.1,112.5 L61.3,108.5 L66.4,107.3 L79.1,106.0 L91.8,105.4 L104.5,104.1 L110.9,101.5 L116.0,97.7 L117.9,92.6 L118.5,85.0 L119.0,75.0 L119.6,62.0 L119.6,55.9 L121.2,45.1 L124.2,40.3 L126.8,35.2 L128.8,32.2 L131.3,30.2 L131.8,27.6 Z" fill="#dffa04"/><polygon points="41.6,137.0 43.5,133.5 47.0,132.0 53.0,131.3 61.9,131.6 71.1,134.8 76.1,138.5 77.8,142.0 77.7,145.5 75.0,148.8 67.8,150.6 62.3,151.6 58.0,152.6 51.7,151.4 45.0,147.2 39.5,141.7" fill="#fff"/><polygon points="80.0,126.0 92.0,121.0 105.0,120.0 118.0,123.0 130.0,121.0 145.0,124.0 160.0,124.0 176.0,126.0 190.0,128.0 198.0,132.0 190.0,142.0 182.0,150.0 176.0,160.0 170.0,167.0 158.0,170.0 145.0,174.0 137.0,171.0 128.0,163.0 112.0,156.0 98.0,149.0 86.0,146.0 79.0,138.0" fill="#efdca6" opacity="0.85"/><polygon points="175.0,151.0 177.0,141.0 183.0,132.0 191.0,124.0 197.0,117.0 204.0,113.0 212.0,112.5 217.0,117.0 217.0,125.0 211.0,130.0 203.0,134.0 195.0,139.0 188.0,145.0 183.0,151.0 179.0,157.0" fill="#d89a60" opacity="0.85"/><polygon points="226.0,130.0 231.0,128.8 235.0,131.0 234.5,138.5 232.0,137.5 229.0,133.0" fill="#dcaa70" opacity="0.7"/><polygon points="27.5,140.5 33.0,142.0 40.0,145.5 47.0,149.8 55.0,152.8 61.0,154.5 58.0,156.0 50.0,155.0 42.0,154.0 35.0,150.0 30.0,146.0 27.5,143.0" fill="#d49658"/><polygon points="128.0,163.0 138.0,165.0 146.0,167.0 152.0,170.0 158.0,171.0 150.0,173.5 140.0,173.0 133.0,168.0" fill="#e6b47e" opacity="0.6"/><polygon points="146.0,54.8 160.0,55.2 172.0,55.2 172.0,58.3 160.0,59.6 150.0,59.2 146.5,57.0" fill="#4a9ab4" opacity="0.6"/><polygon points="196.0,61.5 204.0,63.0 212.0,64.8 220.0,66.8 224.0,68.6 225.0,71.0 218.0,70.0 208.0,68.0 198.0,66.0" fill="#b0d8c0" opacity="0.45"/><g fill="#6fb4c0"><rect x="210.6" y="64.9" width="1.8" height="1.8"/><rect x="200.9" y="63.7" width="1.8" height="1.8"/><rect x="201.2" y="62.7" width="1.8" height="1.8"/><rect x="212.1" y="65.8" width="1.8" height="1.8"/><rect x="222.8" y="68.6" width="1.8" height="1.8"/><rect x="220.3" y="66.8" width="1.8" height="1.8"/><rect x="204.8" y="64.4" width="1.8" height="1.8"/><rect x="223.0" y="69.9" width="1.8" height="1.8"/><rect x="213.2" y="65.8" width="1.8" height="1.8"/><rect x="212.5" y="67.2" width="1.8" height="1.8"/><rect x="197.9" y="64.4" width="1.8" height="1.8"/><rect x="198.6" y="62.4" width="1.8" height="1.8"/><rect x="203.2" y="64.1" width="1.8" height="1.8"/><rect x="212.9" y="66.6" width="1.8" height="1.8"/><rect x="196.2" y="61.7" width="1.8" height="1.8"/><rect x="206.0" y="63.3" width="1.8" height="1.8"/><rect x="201.1" y="62.4" width="1.8" height="1.8"/><rect x="200.4" y="64.9" width="1.8" height="1.8"/><rect x="215.3" y="65.6" width="1.8" height="1.8"/><rect x="210.3" y="67.4" width="1.8" height="1.8"/><rect x="215.1" y="66.1" width="1.8" height="1.8"/><rect x="198.5" y="64.6" width="1.8" height="1.8"/><rect x="199.2" y="64.2" width="1.8" height="1.8"/><rect x="204.0" y="64.6" width="1.8" height="1.8"/><rect x="215.7" y="65.7" width="1.8" height="1.8"/><rect x="216.4" y="68.5" width="1.8" height="1.8"/><rect x="205.7" y="64.4" width="1.8" height="1.8"/><rect x="200.9" y="62.6" width="1.8" height="1.8"/><rect x="197.0" y="63.0" width="1.8" height="1.8"/><rect x="213.2" y="65.2" width="1.8" height="1.8"/></g><polygon points="121.5,45.5 124.3,40.0 127.0,35.3 129.0,32.5 131.0,35.0 129.0,40.0 126.0,45.0 123.0,49.0" fill="#4a9ab4" opacity="0.35"/><g fill="#1f86a8"><rect x="158.1" y="58.4" width="1.8" height="1.8"/><rect x="152.3" y="54.8" width="1.8" height="1.8"/><rect x="146.0" y="56.2" width="1.8" height="1.8"/><rect x="152.8" y="56.2" width="1.8" height="1.8"/><rect x="155.0" y="57.5" width="1.8" height="1.8"/><rect x="152.9" y="58.3" width="1.8" height="1.8"/><rect x="160.2" y="55.8" width="1.8" height="1.8"/><rect x="165.3" y="55.0" width="1.8" height="1.8"/><rect x="160.8" y="58.0" width="1.8" height="1.8"/><rect x="159.2" y="55.4" width="1.8" height="1.8"/><rect x="147.6" y="56.7" width="1.8" height="1.8"/><rect x="150.0" y="55.7" width="1.8" height="1.8"/><rect x="159.2" y="58.4" width="1.8" height="1.8"/><rect x="162.6" y="56.4" width="1.8" height="1.8"/><rect x="167.4" y="55.4" width="1.8" height="1.8"/><rect x="155.2" y="57.2" width="1.8" height="1.8"/><rect x="155.8" y="57.9" width="1.8" height="1.8"/><rect x="151.4" y="57.3" width="1.8" height="1.8"/><rect x="162.9" y="55.5" width="1.8" height="1.8"/><rect x="146.7" y="55.1" width="1.8" height="1.8"/><rect x="148.8" y="54.1" width="1.8" height="1.8"/><rect x="155.7" y="56.5" width="1.8" height="1.8"/><rect x="156.5" y="56.2" width="1.8" height="1.8"/><rect x="157.5" y="57.2" width="1.8" height="1.8"/><rect x="164.0" y="55.5" width="1.8" height="1.8"/><rect x="149.5" y="54.3" width="1.8" height="1.8"/><rect x="159.9" y="58.3" width="1.8" height="1.8"/><rect x="153.5" y="55.8" width="1.8" height="1.8"/><rect x="156.0" y="58.4" width="1.8" height="1.8"/><rect x="162.9" y="57.9" width="1.8" height="1.8"/><rect x="156.8" y="55.8" width="1.8" height="1.8"/><rect x="166.3" y="57.4" width="1.8" height="1.8"/><rect x="168.8" y="57.4" width="1.8" height="1.8"/><rect x="168.8" y="56.0" width="1.8" height="1.8"/><rect x="159.6" y="57.7" width="1.8" height="1.8"/><rect x="160.3" y="58.1" width="1.8" height="1.8"/><rect x="155.0" y="55.0" width="1.8" height="1.8"/><rect x="156.0" y="55.4" width="1.8" height="1.8"/><rect x="152.2" y="56.0" width="1.8" height="1.8"/><rect x="162.5" y="55.5" width="1.8" height="1.8"/><rect x="149.9" y="55.0" width="1.8" height="1.8"/><rect x="151.9" y="58.2" width="1.8" height="1.8"/><rect x="149.5" y="57.5" width="1.8" height="1.8"/><rect x="152.0" y="57.6" width="1.8" height="1.8"/><rect x="159.2" y="56.2" width="1.8" height="1.8"/><rect x="123.9" y="43.0" width="1.8" height="1.8"/><rect x="126.3" y="36.8" width="1.8" height="1.8"/><rect x="128.0" y="33.6" width="1.8" height="1.8"/><rect x="125.8" y="41.4" width="1.8" height="1.8"/><rect x="127.9" y="36.0" width="1.8" height="1.8"/><rect x="126.2" y="40.6" width="1.8" height="1.8"/><rect x="126.4" y="34.0" width="1.8" height="1.8"/><rect x="128.9" y="33.9" width="1.8" height="1.8"/><rect x="128.4" y="37.1" width="1.8" height="1.8"/><rect x="125.3" y="42.5" width="1.8" height="1.8"/><rect x="128.7" y="34.3" width="1.8" height="1.8"/><rect x="126.2" y="37.3" width="1.8" height="1.8"/><rect x="126.6" y="36.4" width="1.8" height="1.8"/><rect x="123.4" y="45.1" width="1.8" height="1.8"/><rect x="122.0" y="47.7" width="1.8" height="1.8"/><rect x="123.0" y="46.0" width="1.8" height="1.8"/><rect x="124.0" y="38.4" width="1.8" height="1.8"/><rect x="122.0" y="43.0" width="1.8" height="1.8"/><rect x="125.3" y="37.3" width="1.8" height="1.8"/><rect x="125.0" y="43.4" width="1.8" height="1.8"/><rect x="124.2" y="38.8" width="1.8" height="1.8"/><rect x="123.8" y="44.9" width="1.8" height="1.8"/><rect x="128.0" y="39.2" width="1.8" height="1.8"/><rect x="126.3" y="38.1" width="1.8" height="1.8"/><rect x="121.8" y="42.4" width="1.8" height="1.8"/><rect x="126.3" y="36.1" width="1.8" height="1.8"/><rect x="121.6" y="46.4" width="1.8" height="1.8"/><rect x="124.4" y="39.3" width="1.8" height="1.8"/><rect x="125.9" y="39.0" width="1.8" height="1.8"/><rect x="129.5" y="34.4" width="1.8" height="1.8"/><rect x="135.9" y="41.9" width="1.6" height="1.6"/><rect x="138.0" y="39.1" width="1.6" height="1.6"/><rect x="140.3" y="37.8" width="1.6" height="1.6"/><rect x="135.2" y="37.5" width="1.6" height="1.6"/><rect x="138.6" y="39.6" width="1.6" height="1.6"/><rect x="135.6" y="39.4" width="1.6" height="1.6"/></g><polygon points="141.0,88.0 147.0,82.0 154.0,80.0 162.0,83.0 166.0,89.0 164.0,97.0 160.0,104.0 153.0,108.0 146.0,109.0 141.0,100.0" fill="#eef0c4" opacity="0.6"/><g fill="#c4e43c" opacity="0.8"><rect x="81.9" y="140.0" width="1.7" height="1.7"/><rect x="49.3" y="115.6" width="1.7" height="1.7"/><rect x="220.4" y="72.0" width="1.7" height="1.7"/><rect x="150.7" y="168.3" width="1.7" height="1.7"/><rect x="186.0" y="61.9" width="1.7" height="1.7"/><rect x="146.5" y="158.8" width="1.7" height="1.7"/><rect x="166.4" y="65.5" width="1.7" height="1.7"/><rect x="165.8" y="166.5" width="1.7" height="1.7"/><rect x="186.9" y="88.7" width="1.7" height="1.7"/><rect x="166.1" y="89.2" width="1.7" height="1.7"/><rect x="80.9" y="105.9" width="1.7" height="1.7"/><rect x="106.6" y="120.2" width="1.7" height="1.7"/><rect x="181.8" y="89.5" width="1.7" height="1.7"/><rect x="191.9" y="59.3" width="1.7" height="1.7"/><rect x="172.0" y="93.8" width="1.7" height="1.7"/><rect x="97.4" y="139.2" width="1.7" height="1.7"/><rect x="214.9" y="115.6" width="1.7" height="1.7"/><rect x="106.5" y="143.9" width="1.7" height="1.7"/><rect x="101.8" y="148.9" width="1.7" height="1.7"/><rect x="125.6" y="120.8" width="1.7" height="1.7"/><rect x="172.0" y="158.3" width="1.7" height="1.7"/><rect x="156.4" y="59.4" width="1.7" height="1.7"/><rect x="126.9" y="116.3" width="1.7" height="1.7"/><rect x="194.4" y="88.8" width="1.7" height="1.7"/><rect x="190.4" y="101.8" width="1.7" height="1.7"/><rect x="168.1" y="145.3" width="1.7" height="1.7"/><rect x="137.8" y="69.9" width="1.7" height="1.7"/><rect x="152.3" y="63.8" width="1.7" height="1.7"/><rect x="99.8" y="143.2" width="1.7" height="1.7"/><rect x="143.7" y="142.0" width="1.7" height="1.7"/><rect x="175.4" y="84.0" width="1.7" height="1.7"/><rect x="174.9" y="150.5" width="1.7" height="1.7"/><rect x="126.6" y="143.7" width="1.7" height="1.7"/><rect x="155.3" y="163.2" width="1.7" height="1.7"/><rect x="153.2" y="134.2" width="1.7" height="1.7"/><rect x="165.1" y="58.0" width="1.7" height="1.7"/><rect x="187.3" y="107.9" width="1.7" height="1.7"/><rect x="197.0" y="106.7" width="1.7" height="1.7"/><rect x="202.7" y="131.5" width="1.7" height="1.7"/><rect x="80.1" y="141.5" width="1.7" height="1.7"/><rect x="203.3" y="122.5" width="1.7" height="1.7"/><rect x="106.6" y="118.1" width="1.7" height="1.7"/><rect x="138.7" y="47.6" width="1.7" height="1.7"/><rect x="204.1" y="121.9" width="1.7" height="1.7"/><rect x="170.3" y="124.7" width="1.7" height="1.7"/><rect x="173.6" y="173.2" width="1.7" height="1.7"/><rect x="105.1" y="107.8" width="1.7" height="1.7"/><rect x="185.8" y="139.3" width="1.7" height="1.7"/><rect x="175.3" y="171.4" width="1.7" height="1.7"/><rect x="106.7" y="107.3" width="1.7" height="1.7"/><rect x="256.1" y="96.7" width="1.7" height="1.7"/><rect x="120.1" y="111.3" width="1.7" height="1.7"/><rect x="78.1" y="149.1" width="1.7" height="1.7"/><rect x="169.9" y="162.7" width="1.7" height="1.7"/><rect x="94.4" y="109.0" width="1.7" height="1.7"/><rect x="82.2" y="108.4" width="1.7" height="1.7"/><rect x="219.4" y="112.9" width="1.7" height="1.7"/><rect x="227.5" y="123.9" width="1.7" height="1.7"/><rect x="219.4" y="121.1" width="1.7" height="1.7"/><rect x="196.7" y="139.7" width="1.7" height="1.7"/><rect x="113.4" y="139.1" width="1.7" height="1.7"/><rect x="150.2" y="81.8" width="1.7" height="1.7"/><rect x="164.1" y="136.6" width="1.7" height="1.7"/><rect x="173.9" y="152.4" width="1.7" height="1.7"/><rect x="195.9" y="97.8" width="1.7" height="1.7"/><rect x="162.9" y="136.0" width="1.7" height="1.7"/><rect x="118.8" y="123.4" width="1.7" height="1.7"/><rect x="119.4" y="114.2" width="1.7" height="1.7"/><rect x="122.1" y="85.9" width="1.7" height="1.7"/><rect x="158.1" y="92.6" width="1.7" height="1.7"/><rect x="166.2" y="94.9" width="1.7" height="1.7"/><rect x="192.5" y="143.3" width="1.7" height="1.7"/><rect x="112.3" y="138.3" width="1.7" height="1.7"/><rect x="159.1" y="62.6" width="1.7" height="1.7"/><rect x="104.1" y="132.8" width="1.7" height="1.7"/><rect x="132.5" y="30.6" width="1.7" height="1.7"/><rect x="88.5" y="112.6" width="1.7" height="1.7"/><rect x="234.1" y="82.4" width="1.7" height="1.7"/><rect x="153.7" y="127.1" width="1.7" height="1.7"/><rect x="46.5" y="150.6" width="1.7" height="1.7"/><rect x="139.7" y="105.1" width="1.7" height="1.7"/><rect x="124.1" y="156.6" width="1.7" height="1.7"/><rect x="124.8" y="75.6" width="1.7" height="1.7"/><rect x="104.3" y="119.5" width="1.7" height="1.7"/><rect x="188.6" y="105.5" width="1.7" height="1.7"/><rect x="32.1" y="138.0" width="1.7" height="1.7"/><rect x="78.9" y="130.9" width="1.7" height="1.7"/><rect x="174.5" y="94.8" width="1.7" height="1.7"/><rect x="45.3" y="124.5" width="1.7" height="1.7"/><rect x="120.0" y="62.9" width="1.7" height="1.7"/><rect x="115.2" y="132.0" width="1.7" height="1.7"/><rect x="69.1" y="107.7" width="1.7" height="1.7"/><rect x="64.2" y="160.8" width="1.7" height="1.7"/><rect x="39.6" y="137.7" width="1.7" height="1.7"/><rect x="24.8" y="132.6" width="1.7" height="1.7"/><rect x="156.2" y="147.6" width="1.7" height="1.7"/><rect x="237.0" y="128.5" width="1.7" height="1.7"/><rect x="200.0" y="125.2" width="1.7" height="1.7"/><rect x="188.6" y="135.3" width="1.7" height="1.7"/><rect x="186.8" y="134.9" width="1.7" height="1.7"/><rect x="137.3" y="55.7" width="1.7" height="1.7"/><rect x="187.3" y="101.6" width="1.7" height="1.7"/><rect x="122.2" y="148.7" width="1.7" height="1.7"/><rect x="188.0" y="179.1" width="1.7" height="1.7"/><rect x="224.6" y="73.5" width="1.7" height="1.7"/><rect x="185.2" y="60.9" width="1.7" height="1.7"/><rect x="149.1" y="115.9" width="1.7" height="1.7"/><rect x="89.5" y="145.6" width="1.7" height="1.7"/><rect x="56.7" y="151.8" width="1.7" height="1.7"/><rect x="186.1" y="90.6" width="1.7" height="1.7"/><rect x="94.0" y="143.2" width="1.7" height="1.7"/><rect x="190.4" y="103.3" width="1.7" height="1.7"/><rect x="196.6" y="128.8" width="1.7" height="1.7"/><rect x="68.6" y="113.4" width="1.7" height="1.7"/><rect x="97.0" y="128.7" width="1.7" height="1.7"/><rect x="162.0" y="79.8" width="1.7" height="1.7"/><rect x="149.4" y="84.5" width="1.7" height="1.7"/><rect x="132.6" y="153.2" width="1.7" height="1.7"/><rect x="84.8" y="131.1" width="1.7" height="1.7"/><rect x="143.1" y="112.3" width="1.7" height="1.7"/><rect x="123.6" y="55.6" width="1.7" height="1.7"/><rect x="120.5" y="122.2" width="1.7" height="1.7"/><rect x="197.8" y="120.2" width="1.7" height="1.7"/><rect x="170.4" y="120.9" width="1.7" height="1.7"/><rect x="139.7" y="36.9" width="1.7" height="1.7"/><rect x="112.2" y="126.4" width="1.7" height="1.7"/><rect x="158.2" y="135.3" width="1.7" height="1.7"/><rect x="67.3" y="129.9" width="1.7" height="1.7"/><rect x="202.5" y="72.5" width="1.7" height="1.7"/><rect x="138.8" y="58.1" width="1.7" height="1.7"/><rect x="69.8" y="150.2" width="1.7" height="1.7"/><rect x="137.1" y="115.5" width="1.7" height="1.7"/><rect x="131.3" y="114.4" width="1.7" height="1.7"/><rect x="203.2" y="71.4" width="1.7" height="1.7"/><rect x="129.1" y="32.7" width="1.7" height="1.7"/><rect x="198.1" y="80.3" width="1.7" height="1.7"/><rect x="161.4" y="163.3" width="1.7" height="1.7"/><rect x="80.8" y="120.0" width="1.7" height="1.7"/><rect x="118.0" y="105.8" width="1.7" height="1.7"/><rect x="179.2" y="62.7" width="1.7" height="1.7"/><rect x="129.9" y="37.3" width="1.7" height="1.7"/><rect x="84.8" y="141.7" width="1.7" height="1.7"/><rect x="214.1" y="124.4" width="1.7" height="1.7"/><rect x="151.6" y="99.6" width="1.7" height="1.7"/><rect x="162.1" y="107.5" width="1.7" height="1.7"/><rect x="193.2" y="55.0" width="1.7" height="1.7"/><rect x="123.3" y="49.8" width="1.7" height="1.7"/><rect x="128.1" y="66.0" width="1.7" height="1.7"/><rect x="164.5" y="164.7" width="1.7" height="1.7"/><rect x="93.4" y="143.6" width="1.7" height="1.7"/><rect x="42.8" y="126.7" width="1.7" height="1.7"/><rect x="192.1" y="67.3" width="1.7" height="1.7"/><rect x="139.2" y="116.4" width="1.7" height="1.7"/><rect x="184.0" y="127.4" width="1.7" height="1.7"/><rect x="200.9" y="103.7" width="1.7" height="1.7"/><rect x="157.8" y="102.1" width="1.7" height="1.7"/><rect x="177.5" y="177.1" width="1.7" height="1.7"/><rect x="153.6" y="141.5" width="1.7" height="1.7"/><rect x="166.7" y="157.4" width="1.7" height="1.7"/><rect x="186.9" y="63.6" width="1.7" height="1.7"/><rect x="167.1" y="69.2" width="1.7" height="1.7"/><rect x="150.2" y="105.1" width="1.7" height="1.7"/><rect x="166.8" y="81.4" width="1.7" height="1.7"/><rect x="94.0" y="117.3" width="1.7" height="1.7"/><rect x="196.4" y="126.5" width="1.7" height="1.7"/><rect x="82.4" y="112.9" width="1.7" height="1.7"/><rect x="74.8" y="111.2" width="1.7" height="1.7"/><rect x="164.8" y="106.5" width="1.7" height="1.7"/><rect x="86.1" y="115.3" width="1.7" height="1.7"/><rect x="105.8" y="150.5" width="1.7" height="1.7"/><rect x="159.5" y="69.2" width="1.7" height="1.7"/><rect x="172.4" y="107.5" width="1.7" height="1.7"/><rect x="67.1" y="153.0" width="1.7" height="1.7"/><rect x="180.4" y="115.1" width="1.7" height="1.7"/><rect x="168.7" y="80.6" width="1.7" height="1.7"/><rect x="128.6" y="43.5" width="1.7" height="1.7"/><rect x="98.6" y="122.9" width="1.7" height="1.7"/><rect x="146.3" y="104.9" width="1.7" height="1.7"/><rect x="149.6" y="101.7" width="1.7" height="1.7"/><rect x="216.8" y="122.8" width="1.7" height="1.7"/><rect x="206.1" y="65.2" width="1.7" height="1.7"/><rect x="173.9" y="61.4" width="1.7" height="1.7"/><rect x="198.6" y="64.4" width="1.7" height="1.7"/><rect x="122.8" y="115.7" width="1.7" height="1.7"/><rect x="145.7" y="79.6" width="1.7" height="1.7"/><rect x="63.9" y="118.3" width="1.7" height="1.7"/><rect x="101.6" y="148.8" width="1.7" height="1.7"/><rect x="121.4" y="76.2" width="1.7" height="1.7"/><rect x="121.4" y="74.3" width="1.7" height="1.7"/><rect x="166.5" y="170.5" width="1.7" height="1.7"/><rect x="152.4" y="92.2" width="1.7" height="1.7"/><rect x="201.5" y="115.5" width="1.7" height="1.7"/><rect x="123.9" y="145.1" width="1.7" height="1.7"/><rect x="105.0" y="134.6" width="1.7" height="1.7"/><rect x="147.9" y="152.4" width="1.7" height="1.7"/><rect x="164.0" y="138.2" width="1.7" height="1.7"/><rect x="125.1" y="107.5" width="1.7" height="1.7"/><rect x="164.8" y="106.6" width="1.7" height="1.7"/><rect x="142.3" y="143.4" width="1.7" height="1.7"/><rect x="158.1" y="107.7" width="1.7" height="1.7"/><rect x="203.4" y="89.6" width="1.7" height="1.7"/><rect x="98.5" y="118.3" width="1.7" height="1.7"/><rect x="149.0" y="162.9" width="1.7" height="1.7"/><rect x="162.1" y="107.2" width="1.7" height="1.7"/><rect x="64.0" y="166.9" width="1.7" height="1.7"/><rect x="59.0" y="154.2" width="1.7" height="1.7"/><rect x="189.1" y="61.5" width="1.7" height="1.7"/><rect x="220.1" y="84.5" width="1.7" height="1.7"/><rect x="202.1" y="79.7" width="1.7" height="1.7"/><rect x="196.8" y="111.7" width="1.7" height="1.7"/><rect x="138.4" y="127.4" width="1.7" height="1.7"/><rect x="165.3" y="124.5" width="1.7" height="1.7"/><rect x="154.7" y="73.6" width="1.7" height="1.7"/><rect x="227.4" y="87.8" width="1.7" height="1.7"/><rect x="108.3" y="105.7" width="1.7" height="1.7"/><rect x="116.1" y="96.1" width="1.7" height="1.7"/><rect x="179.6" y="126.2" width="1.7" height="1.7"/><rect x="167.2" y="67.1" width="1.7" height="1.7"/><rect x="117.5" y="121.6" width="1.7" height="1.7"/><rect x="164.2" y="149.1" width="1.7" height="1.7"/><rect x="191.9" y="178.9" width="1.7" height="1.7"/><rect x="188.4" y="91.5" width="1.7" height="1.7"/><rect x="186.0" y="107.7" width="1.7" height="1.7"/><rect x="89.1" y="143.6" width="1.7" height="1.7"/><rect x="91.4" y="118.7" width="1.7" height="1.7"/><rect x="160.7" y="133.2" width="1.7" height="1.7"/><rect x="141.4" y="131.0" width="1.7" height="1.7"/><rect x="211.5" y="70.2" width="1.7" height="1.7"/><rect x="170.5" y="130.6" width="1.7" height="1.7"/><rect x="170.2" y="83.7" width="1.7" height="1.7"/><rect x="38.9" y="123.8" width="1.7" height="1.7"/><rect x="172.8" y="108.0" width="1.7" height="1.7"/><rect x="161.0" y="107.5" width="1.7" height="1.7"/><rect x="145.1" y="122.7" width="1.7" height="1.7"/><rect x="189.3" y="96.5" width="1.7" height="1.7"/><rect x="141.8" y="141.1" width="1.7" height="1.7"/><rect x="127.9" y="52.7" width="1.7" height="1.7"/><rect x="164.9" y="143.7" width="1.7" height="1.7"/><rect x="153.0" y="96.3" width="1.7" height="1.7"/><rect x="141.2" y="146.6" width="1.7" height="1.7"/><rect x="172.0" y="146.9" width="1.7" height="1.7"/><rect x="143.1" y="161.6" width="1.7" height="1.7"/><rect x="129.7" y="135.1" width="1.7" height="1.7"/><rect x="46.4" y="148.3" width="1.7" height="1.7"/><rect x="134.8" y="107.4" width="1.7" height="1.7"/><rect x="148.4" y="151.1" width="1.7" height="1.7"/><rect x="69.5" y="112.1" width="1.7" height="1.7"/><rect x="117.9" y="150.8" width="1.7" height="1.7"/><rect x="199.1" y="127.6" width="1.7" height="1.7"/><rect x="126.8" y="144.8" width="1.7" height="1.7"/><rect x="145.4" y="165.8" width="1.7" height="1.7"/><rect x="223.5" y="116.0" width="1.7" height="1.7"/><rect x="217.5" y="125.8" width="1.7" height="1.7"/><rect x="179.5" y="130.9" width="1.7" height="1.7"/><rect x="173.7" y="177.3" width="1.7" height="1.7"/><rect x="155.9" y="121.8" width="1.7" height="1.7"/><rect x="161.2" y="141.0" width="1.7" height="1.7"/><rect x="133.2" y="124.1" width="1.7" height="1.7"/><rect x="138.4" y="151.9" width="1.7" height="1.7"/><rect x="89.0" y="140.5" width="1.7" height="1.7"/></g><g fill="#f4f8a0" opacity="0.8"><rect x="91.3" y="118.9" width="1.7" height="1.7"/><rect x="142.1" y="170.3" width="1.7" height="1.7"/><rect x="158.0" y="92.6" width="1.7" height="1.7"/><rect x="165.2" y="67.0" width="1.7" height="1.7"/><rect x="100.3" y="142.8" width="1.7" height="1.7"/><rect x="131.3" y="104.3" width="1.7" height="1.7"/><rect x="167.0" y="77.8" width="1.7" height="1.7"/><rect x="171.4" y="159.7" width="1.7" height="1.7"/><rect x="170.0" y="159.7" width="1.7" height="1.7"/><rect x="132.2" y="35.8" width="1.7" height="1.7"/><rect x="61.8" y="116.1" width="1.7" height="1.7"/><rect x="211.0" y="122.5" width="1.7" height="1.7"/><rect x="123.1" y="121.5" width="1.7" height="1.7"/><rect x="189.2" y="84.1" width="1.7" height="1.7"/><rect x="130.2" y="98.7" width="1.7" height="1.7"/><rect x="134.6" y="85.5" width="1.7" height="1.7"/><rect x="223.2" y="76.0" width="1.7" height="1.7"/><rect x="142.9" y="119.9" width="1.7" height="1.7"/><rect x="140.8" y="86.6" width="1.7" height="1.7"/><rect x="127.3" y="148.6" width="1.7" height="1.7"/><rect x="216.0" y="125.0" width="1.7" height="1.7"/><rect x="141.0" y="145.9" width="1.7" height="1.7"/><rect x="140.6" y="91.9" width="1.7" height="1.7"/><rect x="165.6" y="82.2" width="1.7" height="1.7"/><rect x="141.7" y="33.5" width="1.7" height="1.7"/><rect x="112.9" y="130.2" width="1.7" height="1.7"/><rect x="130.5" y="68.3" width="1.7" height="1.7"/><rect x="110.2" y="154.7" width="1.7" height="1.7"/><rect x="245.1" y="127.3" width="1.7" height="1.7"/><rect x="163.1" y="168.0" width="1.7" height="1.7"/><rect x="132.8" y="141.7" width="1.7" height="1.7"/><rect x="185.6" y="90.7" width="1.7" height="1.7"/><rect x="196.4" y="75.8" width="1.7" height="1.7"/><rect x="203.0" y="114.7" width="1.7" height="1.7"/><rect x="178.3" y="133.1" width="1.7" height="1.7"/><rect x="197.7" y="102.2" width="1.7" height="1.7"/><rect x="134.4" y="144.5" width="1.7" height="1.7"/><rect x="91.8" y="135.7" width="1.7" height="1.7"/><rect x="100.9" y="137.3" width="1.7" height="1.7"/><rect x="148.9" y="81.4" width="1.7" height="1.7"/><rect x="180.7" y="148.2" width="1.7" height="1.7"/><rect x="159.1" y="151.8" width="1.7" height="1.7"/><rect x="88.9" y="134.9" width="1.7" height="1.7"/><rect x="92.3" y="109.8" width="1.7" height="1.7"/><rect x="172.2" y="103.2" width="1.7" height="1.7"/><rect x="213.0" y="66.4" width="1.7" height="1.7"/><rect x="172.4" y="160.6" width="1.7" height="1.7"/><rect x="82.9" y="108.0" width="1.7" height="1.7"/><rect x="176.2" y="86.3" width="1.7" height="1.7"/><rect x="218.3" y="116.4" width="1.7" height="1.7"/><rect x="103.8" y="108.2" width="1.7" height="1.7"/><rect x="118.2" y="85.8" width="1.7" height="1.7"/><rect x="159.0" y="73.7" width="1.7" height="1.7"/><rect x="130.2" y="99.1" width="1.7" height="1.7"/><rect x="177.7" y="87.6" width="1.7" height="1.7"/><rect x="72.9" y="107.6" width="1.7" height="1.7"/><rect x="143.1" y="131.8" width="1.7" height="1.7"/><rect x="43.0" y="124.2" width="1.7" height="1.7"/><rect x="104.8" y="117.7" width="1.7" height="1.7"/><rect x="126.2" y="54.7" width="1.7" height="1.7"/><rect x="124.9" y="40.3" width="1.7" height="1.7"/><rect x="194.8" y="92.2" width="1.7" height="1.7"/><rect x="194.1" y="126.2" width="1.7" height="1.7"/><rect x="186.2" y="122.7" width="1.7" height="1.7"/><rect x="180.0" y="99.1" width="1.7" height="1.7"/><rect x="146.9" y="159.7" width="1.7" height="1.7"/><rect x="196.4" y="101.9" width="1.7" height="1.7"/><rect x="82.3" y="134.0" width="1.7" height="1.7"/><rect x="70.0" y="117.9" width="1.7" height="1.7"/><rect x="136.9" y="145.3" width="1.7" height="1.7"/><rect x="175.9" y="57.5" width="1.7" height="1.7"/><rect x="127.9" y="129.4" width="1.7" height="1.7"/><rect x="146.4" y="140.3" width="1.7" height="1.7"/><rect x="177.8" y="76.2" width="1.7" height="1.7"/><rect x="60.3" y="115.6" width="1.7" height="1.7"/><rect x="139.8" y="84.0" width="1.7" height="1.7"/><rect x="194.7" y="86.0" width="1.7" height="1.7"/><rect x="143.0" y="161.7" width="1.7" height="1.7"/><rect x="181.2" y="120.2" width="1.7" height="1.7"/><rect x="64.5" y="127.0" width="1.7" height="1.7"/><rect x="167.8" y="147.7" width="1.7" height="1.7"/><rect x="117.2" y="157.2" width="1.7" height="1.7"/><rect x="93.9" y="123.9" width="1.7" height="1.7"/><rect x="223.6" y="123.2" width="1.7" height="1.7"/><rect x="194.2" y="80.9" width="1.7" height="1.7"/><rect x="190.4" y="107.0" width="1.7" height="1.7"/><rect x="223.9" y="81.5" width="1.7" height="1.7"/><rect x="184.2" y="128.0" width="1.7" height="1.7"/><rect x="238.0" y="88.4" width="1.7" height="1.7"/><rect x="171.1" y="151.7" width="1.7" height="1.7"/><rect x="49.6" y="124.7" width="1.7" height="1.7"/><rect x="180.1" y="57.2" width="1.7" height="1.7"/><rect x="117.3" y="155.8" width="1.7" height="1.7"/><rect x="34.0" y="140.9" width="1.7" height="1.7"/><rect x="179.8" y="72.2" width="1.7" height="1.7"/><rect x="163.2" y="132.3" width="1.7" height="1.7"/><rect x="113.2" y="123.2" width="1.7" height="1.7"/><rect x="34.9" y="149.0" width="1.7" height="1.7"/><rect x="99.0" y="128.0" width="1.7" height="1.7"/><rect x="188.0" y="138.9" width="1.7" height="1.7"/><rect x="183.3" y="107.1" width="1.7" height="1.7"/><rect x="206.6" y="74.1" width="1.7" height="1.7"/><rect x="100.0" y="147.8" width="1.7" height="1.7"/><rect x="189.4" y="179.8" width="1.7" height="1.7"/><rect x="190.4" y="132.3" width="1.7" height="1.7"/><rect x="134.4" y="117.8" width="1.7" height="1.7"/><rect x="211.2" y="67.6" width="1.7" height="1.7"/><rect x="122.4" y="147.8" width="1.7" height="1.7"/><rect x="180.6" y="151.1" width="1.7" height="1.7"/><rect x="158.1" y="59.9" width="1.7" height="1.7"/><rect x="154.3" y="139.9" width="1.7" height="1.7"/><rect x="119.6" y="121.4" width="1.7" height="1.7"/><rect x="177.2" y="102.7" width="1.7" height="1.7"/><rect x="121.2" y="109.6" width="1.7" height="1.7"/><rect x="77.9" y="125.6" width="1.7" height="1.7"/><rect x="179.3" y="114.8" width="1.7" height="1.7"/><rect x="112.9" y="106.4" width="1.7" height="1.7"/><rect x="179.9" y="85.7" width="1.7" height="1.7"/><rect x="132.1" y="66.5" width="1.7" height="1.7"/><rect x="158.4" y="156.6" width="1.7" height="1.7"/><rect x="199.8" y="121.8" width="1.7" height="1.7"/><rect x="82.9" y="114.9" width="1.7" height="1.7"/><rect x="156.9" y="122.0" width="1.7" height="1.7"/><rect x="35.1" y="128.8" width="1.7" height="1.7"/><rect x="164.7" y="103.2" width="1.7" height="1.7"/><rect x="101.1" y="108.7" width="1.7" height="1.7"/><rect x="177.0" y="149.9" width="1.7" height="1.7"/><rect x="86.0" y="116.2" width="1.7" height="1.7"/><rect x="139.8" y="163.5" width="1.7" height="1.7"/><rect x="192.4" y="132.6" width="1.7" height="1.7"/><rect x="40.9" y="127.7" width="1.7" height="1.7"/><rect x="103.3" y="110.4" width="1.7" height="1.7"/><rect x="125.1" y="159.2" width="1.7" height="1.7"/><rect x="187.5" y="103.0" width="1.7" height="1.7"/><rect x="218.5" y="69.3" width="1.7" height="1.7"/><rect x="138.6" y="78.4" width="1.7" height="1.7"/><rect x="199.7" y="85.3" width="1.7" height="1.7"/><rect x="193.0" y="99.3" width="1.7" height="1.7"/><rect x="199.1" y="118.0" width="1.7" height="1.7"/><rect x="59.2" y="171.8" width="1.7" height="1.7"/><rect x="127.3" y="38.6" width="1.7" height="1.7"/><rect x="195.5" y="70.0" width="1.7" height="1.7"/><rect x="138.6" y="116.1" width="1.7" height="1.7"/><rect x="127.5" y="154.6" width="1.7" height="1.7"/><rect x="176.8" y="86.3" width="1.7" height="1.7"/><rect x="151.9" y="128.3" width="1.7" height="1.7"/><rect x="124.8" y="67.9" width="1.7" height="1.7"/><rect x="255.2" y="94.9" width="1.7" height="1.7"/><rect x="129.5" y="98.6" width="1.7" height="1.7"/><rect x="107.7" y="137.2" width="1.7" height="1.7"/><rect x="174.0" y="73.6" width="1.7" height="1.7"/><rect x="136.1" y="133.4" width="1.7" height="1.7"/><rect x="124.8" y="127.4" width="1.7" height="1.7"/><rect x="58.6" y="111.1" width="1.7" height="1.7"/><rect x="135.0" y="85.8" width="1.7" height="1.7"/><rect x="119.8" y="146.7" width="1.7" height="1.7"/><rect x="236.9" y="131.1" width="1.7" height="1.7"/><rect x="196.7" y="62.7" width="1.7" height="1.7"/><rect x="98.9" y="130.9" width="1.7" height="1.7"/><rect x="182.4" y="92.7" width="1.7" height="1.7"/></g><line x1="188" y1="98" x2="199.5" y2="107.5" stroke="#fff" stroke-width="1.6"/><g fill="#3a8fb0"><rect x="123.6" y="83.4" width="1.7" height="1.7"/><rect x="124.0" y="44.4" width="1.7" height="1.7"/><rect x="125.4" y="89.8" width="1.7" height="1.7"/><rect x="120.9" y="93.5" width="1.7" height="1.7"/><rect x="123.4" y="71.8" width="1.7" height="1.7"/><rect x="121.9" y="75.4" width="1.7" height="1.7"/><rect x="122.8" y="86.3" width="1.7" height="1.7"/><rect x="124.6" y="63.7" width="1.7" height="1.7"/><rect x="123.9" y="47.2" width="1.7" height="1.7"/><rect x="123.6" y="54.6" width="1.7" height="1.7"/><rect x="122.1" y="45.1" width="1.7" height="1.7"/><rect x="124.0" y="70.6" width="1.7" height="1.7"/><rect x="124.1" y="100.3" width="1.7" height="1.7"/><rect x="125.2" y="85.4" width="1.7" height="1.7"/><rect x="120.8" y="62.1" width="1.7" height="1.7"/><rect x="118.5" y="93.0" width="1.7" height="1.7"/><rect x="122.5" y="81.4" width="1.7" height="1.7"/><rect x="118.7" y="64.7" width="1.7" height="1.7"/><rect x="123.7" y="81.8" width="1.7" height="1.7"/><rect x="123.9" y="77.6" width="1.7" height="1.7"/><rect x="120.0" y="70.2" width="1.7" height="1.7"/><rect x="120.4" y="95.1" width="1.7" height="1.7"/><rect x="118.5" y="88.1" width="1.7" height="1.7"/><rect x="120.0" y="94.5" width="1.7" height="1.7"/><rect x="120.2" y="77.9" width="1.7" height="1.7"/><rect x="125.9" y="83.8" width="1.7" height="1.7"/><rect x="118.8" y="98.5" width="1.7" height="1.7"/><rect x="124.8" y="63.1" width="1.7" height="1.7"/><rect x="125.8" y="96.1" width="1.7" height="1.7"/><rect x="122.3" y="60.4" width="1.7" height="1.7"/><rect x="121.4" y="102.2" width="1.7" height="1.7"/><rect x="126.1" y="55.9" width="1.7" height="1.7"/><rect x="122.2" y="66.1" width="1.7" height="1.7"/><rect x="123.9" y="104.0" width="1.7" height="1.7"/><rect x="121.6" y="98.7" width="1.7" height="1.7"/><rect x="120.9" y="97.5" width="1.7" height="1.7"/><rect x="124.7" y="66.0" width="1.7" height="1.7"/><rect x="125.8" y="55.7" width="1.7" height="1.7"/><rect x="119.8" y="92.1" width="1.7" height="1.7"/><rect x="119.7" y="59.9" width="1.7" height="1.7"/><rect x="125.7" y="91.9" width="1.7" height="1.7"/><rect x="122.8" y="96.6" width="1.7" height="1.7"/><rect x="120.0" y="89.4" width="1.7" height="1.7"/><rect x="119.5" y="52.4" width="1.7" height="1.7"/><rect x="121.9" y="44.7" width="1.7" height="1.7"/><rect x="126.9" y="57.7" width="1.7" height="1.7"/><rect x="136.5" y="57.7" width="1.7" height="1.7"/><rect x="124.5" y="52.6" width="1.7" height="1.7"/><rect x="122.3" y="49.6" width="1.7" height="1.7"/><rect x="126.6" y="56.0" width="1.7" height="1.7"/><rect x="138.4" y="56.1" width="1.7" height="1.7"/><rect x="124.6" y="56.9" width="1.7" height="1.7"/><rect x="126.4" y="54.0" width="1.7" height="1.7"/><rect x="132.2" y="58.5" width="1.7" height="1.7"/><rect x="123.7" y="59.1" width="1.7" height="1.7"/><rect x="128.2" y="49.8" width="1.7" height="1.7"/><rect x="123.9" y="57.6" width="1.7" height="1.7"/><rect x="122.8" y="50.4" width="1.7" height="1.7"/><rect x="136.0" y="57.6" width="1.7" height="1.7"/><rect x="138.7" y="50.4" width="1.7" height="1.7"/></g><g fill="#a9d6d2"><rect x="135.4" y="47.1" width="1.8" height="1.8"/><rect x="138.3" y="86.7" width="1.8" height="1.8"/><rect x="126.3" y="101.5" width="1.8" height="1.8"/><rect x="133.1" y="96.4" width="1.8" height="1.8"/><rect x="136.7" y="66.7" width="1.8" height="1.8"/><rect x="133.9" y="45.9" width="1.8" height="1.8"/><rect x="132.4" y="93.8" width="1.8" height="1.8"/><rect x="139.4" y="61.9" width="1.8" height="1.8"/><rect x="123.0" y="69.3" width="1.8" height="1.8"/><rect x="140.9" y="61.4" width="1.8" height="1.8"/><rect x="131.2" y="47.4" width="1.8" height="1.8"/><rect x="142.8" y="41.7" width="1.8" height="1.8"/><rect x="126.6" y="104.6" width="1.8" height="1.8"/><rect x="139.8" y="39.2" width="1.8" height="1.8"/><rect x="139.7" y="92.4" width="1.8" height="1.8"/><rect x="133.3" y="47.0" width="1.8" height="1.8"/><rect x="122.7" y="61.7" width="1.8" height="1.8"/><rect x="132.2" y="84.4" width="1.8" height="1.8"/><rect x="126.5" y="96.6" width="1.8" height="1.8"/><rect x="143.1" y="48.3" width="1.8" height="1.8"/><rect x="123.6" y="108.9" width="1.8" height="1.8"/><rect x="140.4" y="50.0" width="1.8" height="1.8"/><rect x="124.8" y="89.0" width="1.8" height="1.8"/><rect x="137.7" y="65.6" width="1.8" height="1.8"/><rect x="143.1" y="85.3" width="1.8" height="1.8"/><rect x="136.4" y="80.2" width="1.8" height="1.8"/><rect x="128.6" y="47.4" width="1.8" height="1.8"/><rect x="127.6" y="92.9" width="1.8" height="1.8"/><rect x="129.1" y="92.9" width="1.8" height="1.8"/><rect x="139.2" y="74.3" width="1.8" height="1.8"/><rect x="140.2" y="48.4" width="1.8" height="1.8"/><rect x="140.5" y="56.1" width="1.8" height="1.8"/><rect x="131.8" y="96.1" width="1.8" height="1.8"/><rect x="131.4" y="93.1" width="1.8" height="1.8"/><rect x="142.9" y="105.4" width="1.8" height="1.8"/><rect x="139.8" y="55.3" width="1.8" height="1.8"/><rect x="130.3" y="55.9" width="1.8" height="1.8"/><rect x="137.7" y="72.1" width="1.8" height="1.8"/><rect x="132.7" y="41.8" width="1.8" height="1.8"/><rect x="131.0" y="72.5" width="1.8" height="1.8"/><rect x="126.9" y="48.7" width="1.8" height="1.8"/><rect x="134.0" y="84.4" width="1.8" height="1.8"/><rect x="128.2" y="88.0" width="1.8" height="1.8"/><rect x="122.0" y="88.0" width="1.8" height="1.8"/><rect x="132.9" y="87.5" width="1.8" height="1.8"/><rect x="142.0" y="63.9" width="1.8" height="1.8"/><rect x="129.9" y="87.4" width="1.8" height="1.8"/><rect x="133.8" y="66.3" width="1.8" height="1.8"/><rect x="140.0" y="106.3" width="1.8" height="1.8"/><rect x="128.9" y="102.8" width="1.8" height="1.8"/><rect x="69.6" y="110.4" width="1.8" height="1.8"/><rect x="45.5" y="118.7" width="1.8" height="1.8"/><rect x="59.9" y="112.2" width="1.8" height="1.8"/><rect x="80.4" y="112.8" width="1.8" height="1.8"/><rect x="86.7" y="114.4" width="1.8" height="1.8"/><rect x="84.4" y="107.8" width="1.8" height="1.8"/><rect x="83.7" y="122.9" width="1.8" height="1.8"/><rect x="87.5" y="120.4" width="1.8" height="1.8"/><rect x="63.2" y="113.1" width="1.8" height="1.8"/><rect x="78.5" y="107.8" width="1.8" height="1.8"/><rect x="89.8" y="116.2" width="1.8" height="1.8"/><rect x="81.8" y="109.8" width="1.8" height="1.8"/><rect x="61.6" y="119.9" width="1.8" height="1.8"/><rect x="82.8" y="110.5" width="1.8" height="1.8"/><rect x="76.3" y="116.6" width="1.8" height="1.8"/><rect x="52.2" y="114.3" width="1.8" height="1.8"/><rect x="72.7" y="116.4" width="1.8" height="1.8"/><rect x="66.1" y="120.2" width="1.8" height="1.8"/><rect x="52.4" y="119.7" width="1.8" height="1.8"/><rect x="69.9" y="113.7" width="1.8" height="1.8"/><rect x="94.7" y="109.2" width="1.8" height="1.8"/><rect x="71.6" y="114.2" width="1.8" height="1.8"/><rect x="89.3" y="119.1" width="1.8" height="1.8"/><rect x="77.1" y="113.3" width="1.8" height="1.8"/><rect x="87.1" y="116.8" width="1.8" height="1.8"/><rect x="92.4" y="118.7" width="1.8" height="1.8"/><rect x="69.5" y="112.1" width="1.8" height="1.8"/><rect x="67.2" y="113.9" width="1.8" height="1.8"/><rect x="52.4" y="123.0" width="1.8" height="1.8"/><rect x="61.2" y="116.1" width="1.8" height="1.8"/><rect x="94.6" y="109.5" width="1.8" height="1.8"/><rect x="67.4" y="121.3" width="1.8" height="1.8"/><rect x="54.1" y="119.9" width="1.8" height="1.8"/><rect x="80.1" y="123.1" width="1.8" height="1.8"/><rect x="62.6" y="110.7" width="1.8" height="1.8"/><rect x="69.3" y="117.9" width="1.8" height="1.8"/><rect x="71.9" y="107.3" width="1.8" height="1.8"/><rect x="92.7" y="120.2" width="1.8" height="1.8"/><rect x="81.3" y="116.3" width="1.8" height="1.8"/><rect x="97.6" y="107.3" width="1.8" height="1.8"/><rect x="56.8" y="119.8" width="1.8" height="1.8"/><rect x="71.2" y="120.2" width="1.8" height="1.8"/><rect x="60.2" y="114.7" width="1.8" height="1.8"/><rect x="85.7" y="108.6" width="1.8" height="1.8"/><rect x="44.2" y="119.2" width="1.8" height="1.8"/><rect x="170.1" y="69.5" width="1.8" height="1.8"/><rect x="159.8" y="57.2" width="1.8" height="1.8"/><rect x="162.1" y="58.1" width="1.8" height="1.8"/><rect x="158.8" y="63.1" width="1.8" height="1.8"/><rect x="184.8" y="60.7" width="1.8" height="1.8"/><rect x="186.6" y="59.9" width="1.8" height="1.8"/><rect x="169.9" y="66.4" width="1.8" height="1.8"/><rect x="184.7" y="61.9" width="1.8" height="1.8"/><rect x="157.6" y="61.9" width="1.8" height="1.8"/><rect x="178.8" y="64.2" width="1.8" height="1.8"/><rect x="182.9" y="73.8" width="1.8" height="1.8"/><rect x="173.7" y="66.5" width="1.8" height="1.8"/><rect x="178.6" y="69.3" width="1.8" height="1.8"/><rect x="176.3" y="59.4" width="1.8" height="1.8"/><rect x="171.2" y="64.2" width="1.8" height="1.8"/><rect x="185.8" y="66.3" width="1.8" height="1.8"/><rect x="174.3" y="62.7" width="1.8" height="1.8"/><rect x="149.8" y="57.7" width="1.8" height="1.8"/><rect x="167.6" y="58.7" width="1.8" height="1.8"/><rect x="179.2" y="68.9" width="1.8" height="1.8"/><rect x="176.0" y="59.3" width="1.8" height="1.8"/><rect x="156.3" y="65.6" width="1.8" height="1.8"/><rect x="157.3" y="66.4" width="1.8" height="1.8"/><rect x="161.3" y="58.3" width="1.8" height="1.8"/><rect x="159.2" y="58.4" width="1.8" height="1.8"/></g><g fill="#c07a40"><rect x="189.1" y="129.4" width="1.8" height="1.8"/><rect x="211.4" y="117.6" width="1.8" height="1.8"/><rect x="215.9" y="118.7" width="1.8" height="1.8"/><rect x="191.6" y="129.3" width="1.8" height="1.8"/><rect x="179.3" y="153.2" width="1.8" height="1.8"/><rect x="178.5" y="151.5" width="1.8" height="1.8"/><rect x="199.9" y="120.9" width="1.8" height="1.8"/><rect x="209.2" y="112.2" width="1.8" height="1.8"/><rect x="176.0" y="143.7" width="1.8" height="1.8"/><rect x="193.1" y="123.1" width="1.8" height="1.8"/><rect x="184.1" y="137.0" width="1.8" height="1.8"/><rect x="197.2" y="129.4" width="1.8" height="1.8"/><rect x="188.0" y="126.7" width="1.8" height="1.8"/><rect x="213.6" y="125.2" width="1.8" height="1.8"/><rect x="207.4" y="125.1" width="1.8" height="1.8"/><rect x="180.9" y="144.5" width="1.8" height="1.8"/><rect x="212.9" y="126.7" width="1.8" height="1.8"/><rect x="210.9" y="117.9" width="1.8" height="1.8"/><rect x="195.3" y="121.5" width="1.8" height="1.8"/><rect x="179.9" y="135.1" width="1.8" height="1.8"/><rect x="202.0" y="133.1" width="1.8" height="1.8"/><rect x="187.3" y="139.2" width="1.8" height="1.8"/><rect x="176.8" y="142.3" width="1.8" height="1.8"/><rect x="196.6" y="123.6" width="1.8" height="1.8"/><rect x="199.4" y="117.8" width="1.8" height="1.8"/><rect x="191.6" y="122.4" width="1.8" height="1.8"/><rect x="190.9" y="126.7" width="1.8" height="1.8"/><rect x="183.5" y="147.9" width="1.8" height="1.8"/><rect x="176.5" y="145.6" width="1.8" height="1.8"/><rect x="205.0" y="129.2" width="1.8" height="1.8"/><rect x="206.9" y="116.7" width="1.8" height="1.8"/><rect x="175.4" y="146.1" width="1.8" height="1.8"/><rect x="194.0" y="125.6" width="1.8" height="1.8"/><rect x="205.7" y="119.8" width="1.8" height="1.8"/><rect x="199.8" y="123.2" width="1.8" height="1.8"/><rect x="182.1" y="149.5" width="1.8" height="1.8"/><rect x="177.0" y="139.6" width="1.8" height="1.8"/><rect x="202.0" y="119.6" width="1.8" height="1.8"/><rect x="179.1" y="141.6" width="1.8" height="1.8"/><rect x="198.5" y="117.5" width="1.8" height="1.8"/><rect x="210.7" y="115.8" width="1.8" height="1.8"/><rect x="198.5" y="119.4" width="1.8" height="1.8"/><rect x="179.3" y="148.1" width="1.8" height="1.8"/><rect x="188.9" y="136.7" width="1.8" height="1.8"/><rect x="203.4" y="126.9" width="1.8" height="1.8"/><rect x="193.5" y="129.1" width="1.8" height="1.8"/><rect x="199.6" y="132.6" width="1.8" height="1.8"/><rect x="188.2" y="126.0" width="1.8" height="1.8"/><rect x="206.6" y="128.9" width="1.8" height="1.8"/><rect x="209.1" y="122.7" width="1.8" height="1.8"/><rect x="202.1" y="121.1" width="1.8" height="1.8"/><rect x="190.3" y="126.7" width="1.8" height="1.8"/><rect x="181.0" y="138.6" width="1.8" height="1.8"/><rect x="199.6" y="133.1" width="1.8" height="1.8"/><rect x="203.2" y="128.1" width="1.8" height="1.8"/><rect x="199.5" y="122.0" width="1.8" height="1.8"/><rect x="205.3" y="129.2" width="1.8" height="1.8"/><rect x="199.7" y="118.3" width="1.8" height="1.8"/><rect x="188.2" y="134.2" width="1.8" height="1.8"/><rect x="200.1" y="115.4" width="1.8" height="1.8"/><rect x="214.1" y="115.3" width="1.8" height="1.8"/><rect x="182.4" y="140.9" width="1.8" height="1.8"/><rect x="190.4" y="133.1" width="1.8" height="1.8"/><rect x="180.8" y="146.3" width="1.8" height="1.8"/><rect x="201.4" y="123.9" width="1.8" height="1.8"/><rect x="215.3" y="123.5" width="1.8" height="1.8"/><rect x="179.7" y="137.2" width="1.8" height="1.8"/><rect x="185.8" y="138.0" width="1.8" height="1.8"/><rect x="197.3" y="122.1" width="1.8" height="1.8"/><rect x="192.1" y="133.8" width="1.8" height="1.8"/><rect x="234.4" y="132.9" width="1.8" height="1.8"/><rect x="232.9" y="135.7" width="1.8" height="1.8"/><rect x="230.1" y="129.5" width="1.8" height="1.8"/><rect x="228.5" y="129.4" width="1.8" height="1.8"/><rect x="232.7" y="133.5" width="1.8" height="1.8"/><rect x="232.7" y="130.8" width="1.8" height="1.8"/><rect x="141.5" y="170.5" width="1.8" height="1.8"/><rect x="129.3" y="163.6" width="1.8" height="1.8"/><rect x="137.9" y="164.5" width="1.8" height="1.8"/><rect x="131.2" y="163.3" width="1.8" height="1.8"/><rect x="153.9" y="169.7" width="1.8" height="1.8"/><rect x="140.5" y="168.2" width="1.8" height="1.8"/></g><polygon points="42,150 46,151 52,152.6 50,153.8 44,153" fill="#b86a30"/><g fill="#dffa04"><rect x="197.6" y="117.6" width="2.0" height="2.0"/><rect x="181.4" y="142.0" width="2.0" height="2.0"/><rect x="184.5" y="131.1" width="2.0" height="2.0"/><rect x="198.8" y="130.6" width="2.0" height="2.0"/><rect x="183.3" y="145.6" width="2.0" height="2.0"/><rect x="196.8" y="135.7" width="2.0" height="2.0"/><rect x="206.5" y="115.0" width="2.0" height="2.0"/><rect x="180.4" y="147.1" width="2.0" height="2.0"/><rect x="202.2" y="122.6" width="2.0" height="2.0"/><rect x="190.4" y="125.1" width="2.0" height="2.0"/><rect x="203.4" y="114.7" width="2.0" height="2.0"/><rect x="214.0" y="114.9" width="2.0" height="2.0"/><rect x="192.8" y="124.7" width="2.0" height="2.0"/><rect x="193.5" y="133.2" width="2.0" height="2.0"/><rect x="186.8" y="138.9" width="2.0" height="2.0"/><rect x="194.6" y="123.3" width="2.0" height="2.0"/><rect x="183.5" y="132.6" width="2.0" height="2.0"/><rect x="187.5" y="132.3" width="2.0" height="2.0"/><rect x="208.7" y="116.3" width="2.0" height="2.0"/><rect x="201.3" y="123.2" width="2.0" height="2.0"/><rect x="186.7" y="133.3" width="2.0" height="2.0"/><rect x="184.4" y="142.5" width="2.0" height="2.0"/><rect x="206.4" y="129.1" width="2.0" height="2.0"/><rect x="202.3" y="114.9" width="2.0" height="2.0"/><rect x="212.7" y="117.5" width="2.0" height="2.0"/><rect x="204.9" y="117.8" width="2.0" height="2.0"/><rect x="200.0" y="118.3" width="2.0" height="2.0"/><rect x="181.2" y="148.4" width="2.0" height="2.0"/><rect x="192.0" y="133.4" width="2.0" height="2.0"/><rect x="196.8" y="121.1" width="2.0" height="2.0"/><rect x="180.8" y="148.8" width="2.0" height="2.0"/><rect x="210.7" y="121.7" width="2.0" height="2.0"/><rect x="195.1" y="120.5" width="2.0" height="2.0"/><rect x="210.3" y="127.5" width="2.0" height="2.0"/><rect x="185.7" y="134.4" width="2.0" height="2.0"/><rect x="207.4" y="126.8" width="2.0" height="2.0"/><rect x="178.6" y="149.4" width="2.0" height="2.0"/><rect x="189.2" y="140.2" width="2.0" height="2.0"/><rect x="196.8" y="117.6" width="2.0" height="2.0"/><rect x="204.6" y="127.0" width="2.0" height="2.0"/><rect x="197.2" y="118.2" width="2.0" height="2.0"/><rect x="213.0" y="114.6" width="2.0" height="2.0"/><rect x="192.6" y="134.0" width="2.0" height="2.0"/><rect x="185.1" y="136.8" width="2.0" height="2.0"/><rect x="205.3" y="123.8" width="2.0" height="2.0"/><rect x="180.3" y="148.4" width="2.0" height="2.0"/><rect x="201.1" y="132.1" width="2.0" height="2.0"/><rect x="194.8" y="127.9" width="2.0" height="2.0"/><rect x="187.2" y="134.5" width="2.0" height="2.0"/><rect x="194.2" y="133.1" width="2.0" height="2.0"/><rect x="196.8" y="118.7" width="2.0" height="2.0"/><rect x="180.9" y="139.4" width="2.0" height="2.0"/><rect x="201.5" y="119.0" width="2.0" height="2.0"/><rect x="183.8" y="138.8" width="2.0" height="2.0"/><rect x="207.6" y="118.4" width="2.0" height="2.0"/><rect x="184.4" y="145.6" width="2.0" height="2.0"/><rect x="198.9" y="121.2" width="2.0" height="2.0"/><rect x="213.4" y="115.9" width="2.0" height="2.0"/><rect x="176.3" y="148.8" width="2.0" height="2.0"/><rect x="189.1" y="136.0" width="2.0" height="2.0"/><rect x="179.5" y="143.9" width="2.0" height="2.0"/><rect x="196.0" y="119.6" width="2.0" height="2.0"/><rect x="198.3" y="134.9" width="2.0" height="2.0"/><rect x="191.8" y="139.3" width="2.0" height="2.0"/><rect x="176.5" y="153.3" width="2.0" height="2.0"/><rect x="208.8" y="128.0" width="2.0" height="2.0"/><rect x="189.8" y="141.4" width="2.0" height="2.0"/><rect x="196.6" y="126.9" width="2.0" height="2.0"/><rect x="201.5" y="132.6" width="2.0" height="2.0"/><rect x="188.8" y="127.1" width="2.0" height="2.0"/><rect x="177.6" y="147.7" width="2.0" height="2.0"/><rect x="211.3" y="121.4" width="2.0" height="2.0"/><rect x="181.9" y="131.7" width="2.0" height="2.0"/><rect x="194.0" y="122.8" width="2.0" height="2.0"/><rect x="178.7" y="144.2" width="2.0" height="2.0"/><rect x="182.3" y="136.1" width="2.0" height="2.0"/><rect x="213.2" y="114.0" width="2.0" height="2.0"/><rect x="186.3" y="130.6" width="2.0" height="2.0"/><rect x="205.0" y="116.5" width="2.0" height="2.0"/><rect x="197.0" y="127.9" width="2.0" height="2.0"/><rect x="191.6" y="136.2" width="2.0" height="2.0"/><rect x="205.8" y="112.5" width="2.0" height="2.0"/><rect x="211.8" y="120.1" width="2.0" height="2.0"/><rect x="195.2" y="130.6" width="2.0" height="2.0"/><rect x="192.7" y="125.1" width="2.0" height="2.0"/><rect x="187.9" y="125.1" width="2.0" height="2.0"/><rect x="190.7" y="123.9" width="2.0" height="2.0"/><rect x="208.7" y="120.4" width="2.0" height="2.0"/><rect x="198.1" y="129.8" width="2.0" height="2.0"/><rect x="193.3" y="128.4" width="2.0" height="2.0"/></g><g fill="#f0d0a0"><rect x="181.4" y="75.3" width="1.8" height="1.8"/><rect x="194.9" y="80.1" width="1.8" height="1.8"/><rect x="191.8" y="96.3" width="1.8" height="1.8"/><rect x="175.0" y="97.2" width="1.8" height="1.8"/><rect x="196.5" y="103.0" width="1.8" height="1.8"/><rect x="172.3" y="95.7" width="1.8" height="1.8"/><rect x="174.9" y="85.4" width="1.8" height="1.8"/><rect x="188.6" y="93.7" width="1.8" height="1.8"/><rect x="190.2" y="101.0" width="1.8" height="1.8"/><rect x="194.5" y="82.0" width="1.8" height="1.8"/><rect x="174.7" y="76.7" width="1.8" height="1.8"/><rect x="186.9" y="81.9" width="1.8" height="1.8"/><rect x="179.7" y="101.5" width="1.8" height="1.8"/><rect x="178.8" y="92.0" width="1.8" height="1.8"/><rect x="176.5" y="80.4" width="1.8" height="1.8"/><rect x="181.7" y="101.0" width="1.8" height="1.8"/><rect x="170.3" y="71.2" width="1.8" height="1.8"/><rect x="165.6" y="101.4" width="1.8" height="1.8"/><rect x="177.0" y="70.7" width="1.8" height="1.8"/><rect x="186.9" y="75.0" width="1.8" height="1.8"/><rect x="180.0" y="91.4" width="1.8" height="1.8"/><rect x="185.4" y="89.6" width="1.8" height="1.8"/><rect x="174.4" y="90.8" width="1.8" height="1.8"/><rect x="193.9" y="78.8" width="1.8" height="1.8"/><rect x="164.5" y="75.8" width="1.8" height="1.8"/></g><g fill="#10d224"><rect x="127.3" y="51.6" width="1.9" height="1.9"/><rect x="132.0" y="47.1" width="1.9" height="1.9"/><rect x="122.5" y="41.8" width="1.9" height="1.9"/><rect x="140.3" y="42.1" width="1.9" height="1.9"/><rect x="142.7" y="51.1" width="1.9" height="1.9"/><rect x="120.3" y="47.3" width="1.9" height="1.9"/><rect x="140.3" y="50.0" width="1.9" height="1.9"/><rect x="142.9" y="34.1" width="1.9" height="1.9"/><rect x="143.5" y="31.8" width="1.9" height="1.9"/><rect x="128.5" y="33.1" width="1.9" height="1.9"/><rect x="127.5" y="52.3" width="1.9" height="1.9"/><rect x="124.1" y="49.4" width="1.9" height="1.9"/><rect x="137.8" y="43.3" width="1.9" height="1.9"/><rect x="133.9" y="48.3" width="1.9" height="1.9"/><rect x="134.1" y="34.8" width="1.9" height="1.9"/><rect x="128.0" y="35.2" width="1.9" height="1.9"/><rect x="129.7" y="53.7" width="1.9" height="1.9"/><rect x="130.3" y="30.8" width="1.9" height="1.9"/><rect x="131.5" y="49.4" width="1.9" height="1.9"/><rect x="130.7" y="46.6" width="1.9" height="1.9"/><rect x="135.9" y="30.3" width="1.9" height="1.9"/><rect x="127.3" y="38.7" width="1.9" height="1.9"/><rect x="130.3" y="57.9" width="1.9" height="1.9"/><rect x="121.4" y="78.0" width="1.9" height="1.9"/><rect x="154.1" y="78.0" width="1.9" height="1.9"/><rect x="144.7" y="78.0" width="1.9" height="1.9"/><rect x="162.5" y="70.6" width="1.9" height="1.9"/><rect x="146.3" y="68.2" width="1.9" height="1.9"/><rect x="131.9" y="65.3" width="1.9" height="1.9"/><rect x="155.7" y="61.3" width="1.9" height="1.9"/><rect x="161.8" y="68.3" width="1.9" height="1.9"/><rect x="150.1" y="75.1" width="1.9" height="1.9"/><rect x="152.1" y="60.1" width="1.9" height="1.9"/><rect x="132.9" y="57.1" width="1.9" height="1.9"/><rect x="122.4" y="78.0" width="1.9" height="1.9"/><rect x="149.5" y="78.4" width="1.9" height="1.9"/><rect x="158.5" y="64.0" width="1.9" height="1.9"/><rect x="167.5" y="77.3" width="1.9" height="1.9"/><rect x="143.0" y="58.9" width="1.9" height="1.9"/><rect x="136.3" y="60.7" width="1.9" height="1.9"/><rect x="138.6" y="58.9" width="1.9" height="1.9"/><rect x="155.3" y="78.6" width="1.9" height="1.9"/><rect x="131.2" y="74.2" width="1.9" height="1.9"/><rect x="149.1" y="67.7" width="1.9" height="1.9"/><rect x="164.6" y="65.4" width="1.9" height="1.9"/><rect x="121.2" y="76.4" width="1.9" height="1.9"/><rect x="155.7" y="71.9" width="1.9" height="1.9"/><rect x="157.8" y="65.4" width="1.9" height="1.9"/><rect x="126.5" y="64.1" width="1.9" height="1.9"/><rect x="166.8" y="78.6" width="1.9" height="1.9"/><rect x="132.1" y="66.8" width="1.9" height="1.9"/><rect x="142.7" y="76.9" width="1.9" height="1.9"/><rect x="121.3" y="75.3" width="1.9" height="1.9"/><rect x="133.2" y="69.1" width="1.9" height="1.9"/><rect x="127.2" y="58.9" width="1.9" height="1.9"/><rect x="163.4" y="68.1" width="1.9" height="1.9"/><rect x="167.7" y="76.1" width="1.9" height="1.9"/><rect x="149.3" y="78.9" width="1.9" height="1.9"/><rect x="145.2" y="58.5" width="1.9" height="1.9"/><rect x="129.9" y="78.8" width="1.9" height="1.9"/><rect x="136.3" y="72.8" width="1.9" height="1.9"/><rect x="145.4" y="61.1" width="1.9" height="1.9"/><rect x="138.6" y="57.5" width="1.9" height="1.9"/><rect x="145.5" y="73.6" width="1.9" height="1.9"/><rect x="129.6" y="59.0" width="1.9" height="1.9"/><rect x="155.8" y="77.3" width="1.9" height="1.9"/><rect x="139.1" y="67.5" width="1.9" height="1.9"/><rect x="151.6" y="68.5" width="1.9" height="1.9"/><rect x="127.2" y="63.1" width="1.9" height="1.9"/><rect x="130.9" y="61.4" width="1.9" height="1.9"/><rect x="125.3" y="65.7" width="1.9" height="1.9"/><rect x="131.6" y="75.7" width="1.9" height="1.9"/><rect x="136.5" y="78.2" width="1.9" height="1.9"/><rect x="160.0" y="63.0" width="1.9" height="1.9"/><rect x="128.4" y="69.6" width="1.9" height="1.9"/><rect x="143.8" y="68.8" width="1.9" height="1.9"/><rect x="127.0" y="68.7" width="1.9" height="1.9"/><rect x="157.5" y="66.8" width="1.9" height="1.9"/><rect x="133.3" y="77.3" width="1.9" height="1.9"/><rect x="135.3" y="78.9" width="1.9" height="1.9"/><rect x="142.5" y="60.3" width="1.9" height="1.9"/><rect x="158.8" y="66.3" width="1.9" height="1.9"/><rect x="125.2" y="78.0" width="1.9" height="1.9"/><rect x="159.4" y="70.4" width="1.9" height="1.9"/><rect x="148.3" y="58.7" width="1.9" height="1.9"/><rect x="146.2" y="67.8" width="1.9" height="1.9"/><rect x="143.7" y="57.5" width="1.9" height="1.9"/><rect x="163.9" y="67.9" width="1.9" height="1.9"/><rect x="139.9" y="76.0" width="1.9" height="1.9"/><rect x="162.3" y="72.9" width="1.9" height="1.9"/><rect x="164.6" y="64.7" width="1.9" height="1.9"/><rect x="126.1" y="64.7" width="1.9" height="1.9"/><rect x="152.3" y="107.4" width="1.9" height="1.9"/><rect x="159.2" y="101.7" width="1.9" height="1.9"/><rect x="152.3" y="103.0" width="1.9" height="1.9"/><rect x="150.9" y="79.6" width="1.9" height="1.9"/><rect x="149.5" y="89.0" width="1.9" height="1.9"/><rect x="124.8" y="101.1" width="1.9" height="1.9"/><rect x="164.8" y="89.2" width="1.9" height="1.9"/><rect x="155.9" y="101.6" width="1.9" height="1.9"/><rect x="156.5" y="110.4" width="1.9" height="1.9"/><rect x="157.2" y="81.9" width="1.9" height="1.9"/><rect x="153.1" y="91.6" width="1.9" height="1.9"/><rect x="142.7" y="103.3" width="1.9" height="1.9"/><rect x="130.1" y="101.6" width="1.9" height="1.9"/><rect x="169.8" y="81.8" width="1.9" height="1.9"/><rect x="165.3" y="104.5" width="1.9" height="1.9"/><rect x="142.1" y="106.6" width="1.9" height="1.9"/><rect x="125.2" y="84.8" width="1.9" height="1.9"/><rect x="129.8" y="83.7" width="1.9" height="1.9"/><rect x="144.3" y="98.7" width="1.9" height="1.9"/><rect x="154.1" y="94.9" width="1.9" height="1.9"/><rect x="150.0" y="113.0" width="1.9" height="1.9"/><rect x="127.2" y="109.1" width="1.9" height="1.9"/><rect x="159.1" y="88.7" width="1.9" height="1.9"/><rect x="127.3" y="105.9" width="1.9" height="1.9"/><rect x="165.4" y="91.5" width="1.9" height="1.9"/><rect x="128.2" y="99.0" width="1.9" height="1.9"/><rect x="155.9" y="92.0" width="1.9" height="1.9"/><rect x="142.4" y="82.7" width="1.9" height="1.9"/><rect x="128.4" y="87.1" width="1.9" height="1.9"/><rect x="160.5" y="83.4" width="1.9" height="1.9"/><rect x="131.3" y="95.8" width="1.9" height="1.9"/><rect x="132.0" y="87.7" width="1.9" height="1.9"/><rect x="159.4" y="87.5" width="1.9" height="1.9"/><rect x="150.3" y="82.1" width="1.9" height="1.9"/><rect x="148.0" y="104.2" width="1.9" height="1.9"/><rect x="144.3" y="85.9" width="1.9" height="1.9"/><rect x="122.6" y="89.0" width="1.9" height="1.9"/><rect x="142.3" y="82.7" width="1.9" height="1.9"/><rect x="143.2" y="97.4" width="1.9" height="1.9"/><rect x="124.4" y="103.0" width="1.9" height="1.9"/><rect x="144.4" y="109.0" width="1.9" height="1.9"/><rect x="137.9" y="83.9" width="1.9" height="1.9"/><rect x="146.4" y="104.4" width="1.9" height="1.9"/><rect x="135.0" y="92.0" width="1.9" height="1.9"/><rect x="125.3" y="80.5" width="1.9" height="1.9"/><rect x="134.5" y="109.6" width="1.9" height="1.9"/><rect x="124.2" y="84.4" width="1.9" height="1.9"/><rect x="141.8" y="113.9" width="1.9" height="1.9"/><rect x="132.4" y="80.6" width="1.9" height="1.9"/><rect x="123.6" y="91.4" width="1.9" height="1.9"/><rect x="121.3" y="103.2" width="1.9" height="1.9"/><rect x="124.3" y="85.9" width="1.9" height="1.9"/><rect x="125.0" y="88.8" width="1.9" height="1.9"/><rect x="125.6" y="85.0" width="1.9" height="1.9"/><rect x="131.1" y="87.4" width="1.9" height="1.9"/><rect x="154.0" y="92.4" width="1.9" height="1.9"/><rect x="131.8" y="79.5" width="1.9" height="1.9"/><rect x="143.5" y="90.9" width="1.9" height="1.9"/><rect x="131.2" y="94.9" width="1.9" height="1.9"/><rect x="142.8" y="112.8" width="1.9" height="1.9"/><rect x="131.5" y="104.2" width="1.9" height="1.9"/><rect x="159.0" y="102.8" width="1.9" height="1.9"/><rect x="152.9" y="80.6" width="1.9" height="1.9"/><rect x="128.7" y="97.7" width="1.9" height="1.9"/><rect x="152.4" y="113.7" width="1.9" height="1.9"/><rect x="161.9" y="86.9" width="1.9" height="1.9"/><rect x="128.8" y="106.9" width="1.9" height="1.9"/><rect x="125.6" y="100.6" width="1.9" height="1.9"/><rect x="165.0" y="82.1" width="1.9" height="1.9"/><rect x="126.3" y="101.8" width="1.9" height="1.9"/><rect x="158.5" y="79.4" width="1.9" height="1.9"/><rect x="145.4" y="107.6" width="1.9" height="1.9"/><rect x="161.4" y="93.2" width="1.9" height="1.9"/><rect x="121.5" y="101.3" width="1.9" height="1.9"/><rect x="148.9" y="94.2" width="1.9" height="1.9"/><rect x="152.0" y="100.1" width="1.9" height="1.9"/><rect x="146.1" y="98.8" width="1.9" height="1.9"/><rect x="150.3" y="106.8" width="1.9" height="1.9"/><rect x="162.2" y="79.8" width="1.9" height="1.9"/><rect x="161.8" y="87.8" width="1.9" height="1.9"/><rect x="143.0" y="86.9" width="1.9" height="1.9"/><rect x="137.1" y="93.4" width="1.9" height="1.9"/><rect x="144.7" y="82.9" width="1.9" height="1.9"/><rect x="136.3" y="95.5" width="1.9" height="1.9"/><rect x="141.1" y="98.1" width="1.9" height="1.9"/><rect x="124.6" y="99.2" width="1.9" height="1.9"/><rect x="150.0" y="108.1" width="1.9" height="1.9"/><rect x="140.8" y="85.4" width="1.9" height="1.9"/><rect x="152.9" y="87.8" width="1.9" height="1.9"/><rect x="135.3" y="106.7" width="1.9" height="1.9"/><rect x="147.5" y="85.3" width="1.9" height="1.9"/><rect x="132.3" y="105.5" width="1.9" height="1.9"/><rect x="154.9" y="111.4" width="1.9" height="1.9"/><rect x="159.5" y="89.3" width="1.9" height="1.9"/><rect x="157.6" y="110.8" width="1.9" height="1.9"/><rect x="128.6" y="88.0" width="1.9" height="1.9"/><rect x="130.0" y="108.4" width="1.9" height="1.9"/><rect x="157.1" y="99.1" width="1.9" height="1.9"/><rect x="131.3" y="93.9" width="1.9" height="1.9"/><rect x="157.0" y="80.2" width="1.9" height="1.9"/><rect x="167.4" y="104.4" width="1.9" height="1.9"/><rect x="147.9" y="89.9" width="1.9" height="1.9"/><rect x="140.8" y="96.6" width="1.9" height="1.9"/><rect x="152.5" y="88.9" width="1.9" height="1.9"/><rect x="136.1" y="97.5" width="1.9" height="1.9"/><rect x="159.5" y="79.6" width="1.9" height="1.9"/><rect x="167.9" y="102.4" width="1.9" height="1.9"/><rect x="147.1" y="99.0" width="1.9" height="1.9"/><rect x="163.8" y="94.5" width="1.9" height="1.9"/><rect x="138.0" y="82.3" width="1.9" height="1.9"/><rect x="138.4" y="81.2" width="1.9" height="1.9"/><rect x="134.3" y="102.1" width="1.9" height="1.9"/><rect x="139.7" y="111.8" width="1.9" height="1.9"/><rect x="145.4" y="109.1" width="1.9" height="1.9"/><rect x="162.9" y="97.7" width="1.9" height="1.9"/><rect x="129.1" y="109.4" width="1.9" height="1.9"/><rect x="170.8" y="95.5" width="1.9" height="1.9"/><rect x="160.9" y="101.6" width="1.9" height="1.9"/><rect x="161.1" y="111.8" width="1.9" height="1.9"/><rect x="154.9" y="84.3" width="1.9" height="1.9"/><rect x="143.8" y="98.6" width="1.9" height="1.9"/><rect x="132.8" y="104.5" width="1.9" height="1.9"/><rect x="138.1" y="82.2" width="1.9" height="1.9"/><rect x="139.7" y="105.5" width="1.9" height="1.9"/><rect x="154.1" y="90.7" width="1.9" height="1.9"/><rect x="142.8" y="103.9" width="1.9" height="1.9"/><rect x="165.3" y="82.9" width="1.9" height="1.9"/><rect x="131.3" y="93.9" width="1.9" height="1.9"/><rect x="132.4" y="85.5" width="1.9" height="1.9"/><rect x="136.8" y="84.2" width="1.9" height="1.9"/><rect x="123.0" y="94.4" width="1.9" height="1.9"/><rect x="143.8" y="101.3" width="1.9" height="1.9"/><rect x="145.8" y="89.2" width="1.9" height="1.9"/><rect x="153.2" y="95.0" width="1.9" height="1.9"/><rect x="151.8" y="112.5" width="1.9" height="1.9"/><rect x="163.2" y="106.6" width="1.9" height="1.9"/><rect x="159.9" y="103.3" width="1.9" height="1.9"/><rect x="141.4" y="101.1" width="1.9" height="1.9"/><rect x="131.0" y="107.4" width="1.9" height="1.9"/><rect x="148.2" y="91.9" width="1.9" height="1.9"/><rect x="156.2" y="104.6" width="1.9" height="1.9"/><rect x="152.9" y="90.4" width="1.9" height="1.9"/><rect x="148.0" y="79.5" width="1.9" height="1.9"/><rect x="142.3" y="79.9" width="1.9" height="1.9"/><rect x="152.0" y="81.8" width="1.9" height="1.9"/><rect x="133.1" y="107.1" width="1.9" height="1.9"/><rect x="157.8" y="87.0" width="1.9" height="1.9"/><rect x="143.4" y="81.1" width="1.9" height="1.9"/><rect x="148.3" y="108.5" width="1.9" height="1.9"/><rect x="151.9" y="89.5" width="1.9" height="1.9"/><rect x="147.8" y="92.3" width="1.9" height="1.9"/><rect x="131.9" y="101.1" width="1.9" height="1.9"/><rect x="163.0" y="86.4" width="1.9" height="1.9"/><rect x="128.4" y="99.5" width="1.9" height="1.9"/><rect x="154.3" y="94.3" width="1.9" height="1.9"/><rect x="149.2" y="100.6" width="1.9" height="1.9"/><rect x="157.3" y="82.6" width="1.9" height="1.9"/><rect x="138.7" y="84.4" width="1.9" height="1.9"/><rect x="132.6" y="111.9" width="1.9" height="1.9"/><rect x="153.4" y="109.1" width="1.9" height="1.9"/><rect x="142.1" y="86.8" width="1.9" height="1.9"/><rect x="125.5" y="106.9" width="1.9" height="1.9"/><rect x="165.8" y="105.4" width="1.9" height="1.9"/><rect x="132.6" y="106.5" width="1.9" height="1.9"/><rect x="167.4" y="90.1" width="1.9" height="1.9"/><rect x="146.8" y="114.5" width="1.9" height="1.9"/><rect x="131.5" y="102.5" width="1.9" height="1.9"/><rect x="161.4" y="99.4" width="1.9" height="1.9"/><rect x="168.7" y="97.1" width="1.9" height="1.9"/><rect x="129.5" y="92.1" width="1.9" height="1.9"/><rect x="137.4" y="97.3" width="1.9" height="1.9"/><rect x="140.6" y="108.9" width="1.9" height="1.9"/><rect x="153.6" y="107.8" width="1.9" height="1.9"/><rect x="152.2" y="81.6" width="1.9" height="1.9"/><rect x="130.4" y="83.5" width="1.9" height="1.9"/><rect x="158.3" y="92.1" width="1.9" height="1.9"/><rect x="165.4" y="102.8" width="1.9" height="1.9"/><rect x="133.4" y="82.0" width="1.9" height="1.9"/><rect x="146.7" y="107.8" width="1.9" height="1.9"/><rect x="166.9" y="81.8" width="1.9" height="1.9"/><rect x="123.7" y="94.0" width="1.9" height="1.9"/><rect x="152.6" y="90.7" width="1.9" height="1.9"/><rect x="157.0" y="106.3" width="1.9" height="1.9"/><rect x="124.6" y="101.0" width="1.9" height="1.9"/><rect x="161.4" y="83.2" width="1.9" height="1.9"/><rect x="134.9" y="103.7" width="1.9" height="1.9"/><rect x="143.2" y="83.0" width="1.9" height="1.9"/><rect x="123.7" y="100.9" width="1.9" height="1.9"/><rect x="128.2" y="84.5" width="1.9" height="1.9"/><rect x="134.7" y="98.3" width="1.9" height="1.9"/><rect x="125.3" y="91.0" width="1.9" height="1.9"/><rect x="135.8" y="88.1" width="1.9" height="1.9"/><rect x="160.0" y="95.8" width="1.9" height="1.9"/><rect x="170.3" y="87.6" width="1.9" height="1.9"/><rect x="156.4" y="84.0" width="1.9" height="1.9"/><rect x="122.9" y="101.8" width="1.9" height="1.9"/><rect x="148.6" y="84.9" width="1.9" height="1.9"/><rect x="136.4" y="104.8" width="1.9" height="1.9"/><rect x="152.8" y="83.0" width="1.9" height="1.9"/><rect x="165.7" y="79.7" width="1.9" height="1.9"/><rect x="142.1" y="101.0" width="1.9" height="1.9"/><rect x="133.5" y="84.7" width="1.9" height="1.9"/><rect x="148.2" y="111.7" width="1.9" height="1.9"/><rect x="129.3" y="83.0" width="1.9" height="1.9"/><rect x="137.0" y="113.8" width="1.9" height="1.9"/><rect x="123.3" y="100.5" width="1.9" height="1.9"/><rect x="154.7" y="113.2" width="1.9" height="1.9"/><rect x="128.0" y="106.1" width="1.9" height="1.9"/><rect x="143.3" y="111.3" width="1.9" height="1.9"/><rect x="153.7" y="83.2" width="1.9" height="1.9"/><rect x="137.2" y="111.8" width="1.9" height="1.9"/><rect x="154.4" y="88.3" width="1.9" height="1.9"/><rect x="131.1" y="108.4" width="1.9" height="1.9"/><rect x="162.2" y="102.2" width="1.9" height="1.9"/><rect x="163.4" y="86.5" width="1.9" height="1.9"/><rect x="146.4" y="110.3" width="1.9" height="1.9"/><rect x="158.7" y="93.0" width="1.9" height="1.9"/><rect x="141.2" y="110.2" width="1.9" height="1.9"/><rect x="156.7" y="85.7" width="1.9" height="1.9"/><rect x="138.7" y="87.9" width="1.9" height="1.9"/><rect x="139.3" y="95.4" width="1.9" height="1.9"/><rect x="122.4" y="79.4" width="1.9" height="1.9"/><rect x="159.2" y="94.8" width="1.9" height="1.9"/><rect x="121.7" y="95.5" width="1.9" height="1.9"/><rect x="154.5" y="91.3" width="1.9" height="1.9"/><rect x="131.7" y="110.5" width="1.9" height="1.9"/><rect x="163.0" y="97.2" width="1.9" height="1.9"/><rect x="155.9" y="103.2" width="1.9" height="1.9"/><rect x="150.8" y="91.1" width="1.9" height="1.9"/><rect x="140.8" y="87.5" width="1.9" height="1.9"/><rect x="139.0" y="85.4" width="2.0" height="2.0"/><rect x="154.1" y="92.0" width="2.0" height="2.0"/><rect x="127.8" y="89.1" width="2.0" height="2.0"/><rect x="154.7" y="100.7" width="2.0" height="2.0"/><rect x="133.8" y="84.6" width="2.0" height="2.0"/><rect x="140.5" y="99.7" width="2.0" height="2.0"/><rect x="147.5" y="86.8" width="2.0" height="2.0"/><rect x="153.1" y="108.1" width="2.0" height="2.0"/><rect x="145.4" y="112.1" width="2.0" height="2.0"/><rect x="134.9" y="90.2" width="2.0" height="2.0"/><rect x="133.9" y="109.6" width="2.0" height="2.0"/><rect x="156.2" y="89.4" width="2.0" height="2.0"/><rect x="151.7" y="93.3" width="2.0" height="2.0"/><rect x="154.4" y="91.9" width="2.0" height="2.0"/><rect x="148.0" y="101.4" width="2.0" height="2.0"/><rect x="147.4" y="108.8" width="2.0" height="2.0"/><rect x="147.8" y="90.1" width="2.0" height="2.0"/><rect x="139.4" y="91.2" width="2.0" height="2.0"/><rect x="144.6" y="95.8" width="2.0" height="2.0"/><rect x="143.9" y="92.6" width="2.0" height="2.0"/><rect x="154.4" y="96.6" width="2.0" height="2.0"/><rect x="142.9" y="96.4" width="2.0" height="2.0"/><rect x="144.0" y="93.6" width="2.0" height="2.0"/><rect x="143.0" y="83.6" width="2.0" height="2.0"/><rect x="144.2" y="89.6" width="2.0" height="2.0"/><rect x="140.3" y="86.3" width="2.0" height="2.0"/><rect x="129.8" y="93.9" width="2.0" height="2.0"/><rect x="148.1" y="83.1" width="2.0" height="2.0"/><rect x="158.2" y="89.0" width="2.0" height="2.0"/><rect x="137.6" y="90.6" width="2.0" height="2.0"/><rect x="153.4" y="86.1" width="2.0" height="2.0"/><rect x="136.5" y="110.0" width="2.0" height="2.0"/><rect x="142.1" y="87.7" width="2.0" height="2.0"/><rect x="140.4" y="97.0" width="2.0" height="2.0"/><rect x="149.9" y="103.4" width="2.0" height="2.0"/><rect x="143.9" y="90.0" width="2.0" height="2.0"/><rect x="146.9" y="103.0" width="2.0" height="2.0"/><rect x="142.5" y="85.7" width="2.0" height="2.0"/><rect x="140.0" y="98.7" width="2.0" height="2.0"/><rect x="138.6" y="106.3" width="2.0" height="2.0"/><rect x="151.2" y="96.1" width="2.0" height="2.0"/><rect x="151.6" y="106.8" width="2.0" height="2.0"/><rect x="152.7" y="107.4" width="2.0" height="2.0"/><rect x="134.5" y="90.8" width="2.0" height="2.0"/><rect x="157.1" y="97.6" width="2.0" height="2.0"/><rect x="157.0" y="101.5" width="2.0" height="2.0"/><rect x="139.9" y="91.7" width="2.0" height="2.0"/><rect x="145.8" y="90.3" width="2.0" height="2.0"/><rect x="156.2" y="101.7" width="2.0" height="2.0"/><rect x="134.2" y="97.2" width="2.0" height="2.0"/><rect x="131.2" y="84.4" width="2.0" height="2.0"/><rect x="149.5" y="106.0" width="2.0" height="2.0"/><rect x="158.0" y="91.7" width="2.0" height="2.0"/><rect x="135.5" y="97.2" width="2.0" height="2.0"/><rect x="138.2" y="100.8" width="2.0" height="2.0"/><rect x="157.3" y="96.8" width="2.0" height="2.0"/><rect x="147.3" y="88.6" width="2.0" height="2.0"/><rect x="140.8" y="83.4" width="2.0" height="2.0"/><rect x="152.2" y="94.5" width="2.0" height="2.0"/><rect x="153.3" y="89.5" width="2.0" height="2.0"/><rect x="156.8" y="101.2" width="2.0" height="2.0"/><rect x="144.5" y="95.4" width="2.0" height="2.0"/><rect x="136.9" y="93.5" width="2.0" height="2.0"/><rect x="138.3" y="99.6" width="2.0" height="2.0"/><rect x="130.0" y="87.0" width="2.0" height="2.0"/><rect x="154.4" y="87.3" width="2.0" height="2.0"/><rect x="135.3" y="105.8" width="2.0" height="2.0"/><rect x="137.7" y="111.8" width="2.0" height="2.0"/><rect x="131.2" y="90.6" width="2.0" height="2.0"/><rect x="149.4" y="88.1" width="2.0" height="2.0"/><rect x="139.0" y="95.4" width="2.0" height="2.0"/><rect x="154.7" y="102.5" width="2.0" height="2.0"/><rect x="143.2" y="90.8" width="2.0" height="2.0"/><rect x="129.5" y="112.4" width="2.0" height="2.0"/><rect x="139.0" y="86.5" width="2.0" height="2.0"/><rect x="141.4" y="86.7" width="2.0" height="2.0"/><rect x="140.5" y="89.4" width="2.0" height="2.0"/><rect x="148.2" y="98.3" width="2.0" height="2.0"/><rect x="137.5" y="100.7" width="2.0" height="2.0"/><rect x="131.6" y="112.7" width="2.0" height="2.0"/><rect x="176.8" y="55.4" width="1.9" height="1.9"/><rect x="202.4" y="82.9" width="1.9" height="1.9"/><rect x="196.9" y="67.3" width="1.9" height="1.9"/><rect x="200.8" y="73.3" width="1.9" height="1.9"/><rect x="178.4" y="107.5" width="1.9" height="1.9"/><rect x="179.1" y="67.4" width="1.9" height="1.9"/><rect x="187.6" y="68.5" width="1.9" height="1.9"/><rect x="195.0" y="74.0" width="1.9" height="1.9"/><rect x="40.8" y="124.5" width="1.9" height="1.9"/><rect x="60.9" y="114.8" width="1.9" height="1.9"/><rect x="67.4" y="108.9" width="1.9" height="1.9"/><rect x="48.7" y="115.3" width="1.9" height="1.9"/><rect x="59.3" y="116.1" width="1.9" height="1.9"/><rect x="64.8" y="128.7" width="1.9" height="1.9"/><rect x="63.0" y="124.2" width="1.9" height="1.9"/><rect x="50.1" y="118.2" width="1.9" height="1.9"/><rect x="63.1" y="116.6" width="1.9" height="1.9"/><rect x="61.4" y="123.2" width="1.9" height="1.9"/><rect x="41.6" y="129.5" width="1.9" height="1.9"/><rect x="61.2" y="126.6" width="1.9" height="1.9"/><rect x="48.7" y="116.9" width="1.9" height="1.9"/><rect x="28.1" y="133.5" width="1.9" height="1.9"/><rect x="38.3" y="125.8" width="1.9" height="1.9"/><rect x="63.9" y="114.5" width="1.9" height="1.9"/><rect x="66.7" y="126.1" width="1.9" height="1.9"/><rect x="34.5" y="126.5" width="1.9" height="1.9"/><rect x="51.2" y="129.0" width="1.9" height="1.9"/><rect x="47.2" y="129.5" width="1.9" height="1.9"/><rect x="52.4" y="118.3" width="1.9" height="1.9"/><rect x="52.2" y="114.0" width="1.9" height="1.9"/><rect x="37.7" y="122.8" width="1.9" height="1.9"/><rect x="65.9" y="112.9" width="1.9" height="1.9"/><rect x="63.7" y="131.0" width="1.9" height="1.9"/><rect x="34.3" y="126.9" width="1.9" height="1.9"/><rect x="31.5" y="133.0" width="1.9" height="1.9"/><rect x="54.3" y="129.2" width="1.9" height="1.9"/><rect x="68.5" y="108.0" width="1.9" height="1.9"/><rect x="50.4" y="116.4" width="1.9" height="1.9"/><rect x="67.2" y="122.7" width="1.9" height="1.9"/><rect x="27.4" y="132.0" width="1.9" height="1.9"/><rect x="68.7" y="106.4" width="1.9" height="1.9"/><rect x="56.7" y="122.3" width="1.9" height="1.9"/><rect x="54.5" y="124.7" width="1.9" height="1.9"/><rect x="80.0" y="141.6" width="1.9" height="1.9"/><rect x="112.4" y="125.7" width="1.9" height="1.9"/><rect x="65.7" y="112.0" width="1.9" height="1.9"/><rect x="101.7" y="131.4" width="1.9" height="1.9"/><rect x="76.5" y="134.6" width="1.9" height="1.9"/><rect x="118.4" y="124.2" width="1.9" height="1.9"/><rect x="108.5" y="125.5" width="1.9" height="1.9"/><rect x="108.0" y="132.3" width="1.9" height="1.9"/><rect x="122.7" y="117.4" width="1.9" height="1.9"/><rect x="86.7" y="145.4" width="1.9" height="1.9"/><rect x="69.6" y="115.3" width="1.9" height="1.9"/><rect x="123.1" y="115.1" width="1.9" height="1.9"/><rect x="92.5" y="139.4" width="1.9" height="1.9"/><rect x="100.9" y="131.1" width="1.9" height="1.9"/><rect x="100.1" y="120.9" width="1.9" height="1.9"/><rect x="104.9" y="126.6" width="1.9" height="1.9"/><rect x="73.8" y="113.4" width="1.9" height="1.9"/><rect x="72.4" y="148.3" width="1.9" height="1.9"/><rect x="84.0" y="132.2" width="1.9" height="1.9"/><rect x="119.9" y="132.5" width="1.9" height="1.9"/><rect x="77.0" y="118.1" width="1.9" height="1.9"/><rect x="123.3" y="113.3" width="1.9" height="1.9"/><rect x="111.6" y="124.1" width="1.9" height="1.9"/><rect x="112.8" y="133.8" width="1.9" height="1.9"/><rect x="76.2" y="151.8" width="1.9" height="1.9"/><rect x="105.6" y="147.1" width="1.9" height="1.9"/><rect x="71.5" y="125.4" width="1.9" height="1.9"/><rect x="103.4" y="143.4" width="1.9" height="1.9"/><rect x="59.2" y="116.5" width="1.9" height="1.9"/><rect x="85.5" y="146.0" width="1.9" height="1.9"/><rect x="75.3" y="149.8" width="1.9" height="1.9"/><rect x="75.8" y="129.0" width="1.9" height="1.9"/><rect x="103.1" y="120.2" width="1.9" height="1.9"/><rect x="59.7" y="115.5" width="1.9" height="1.9"/><rect x="116.5" y="148.7" width="1.9" height="1.9"/><rect x="73.2" y="111.3" width="1.9" height="1.9"/><rect x="120.0" y="111.8" width="1.9" height="1.9"/><rect x="99.9" y="141.5" width="1.9" height="1.9"/><rect x="107.3" y="118.9" width="1.9" height="1.9"/><rect x="100.7" y="141.5" width="1.9" height="1.9"/><rect x="114.3" y="150.4" width="1.9" height="1.9"/><rect x="84.8" y="117.4" width="1.9" height="1.9"/><rect x="112.8" y="124.2" width="1.9" height="1.9"/><rect x="77.3" y="139.5" width="1.9" height="1.9"/><rect x="80.4" y="125.3" width="1.9" height="1.9"/><rect x="101.9" y="117.9" width="1.9" height="1.9"/><rect x="122.2" y="143.4" width="1.9" height="1.9"/><rect x="62.2" y="118.4" width="1.9" height="1.9"/><rect x="111.6" y="145.5" width="1.9" height="1.9"/><rect x="88.4" y="139.6" width="1.9" height="1.9"/><rect x="91.1" y="117.9" width="1.9" height="1.9"/><rect x="116.3" y="138.4" width="1.9" height="1.9"/><rect x="60.6" y="123.7" width="1.9" height="1.9"/><rect x="115.8" y="149.8" width="1.9" height="1.9"/><rect x="114.0" y="141.6" width="1.9" height="1.9"/><rect x="85.7" y="145.6" width="1.9" height="1.9"/><rect x="78.0" y="149.7" width="1.9" height="1.9"/><rect x="98.8" y="119.0" width="1.9" height="1.9"/><rect x="78.9" y="138.0" width="1.9" height="1.9"/><rect x="83.0" y="117.7" width="1.9" height="1.9"/><rect x="109.3" y="152.0" width="1.9" height="1.9"/><rect x="111.2" y="137.9" width="1.9" height="1.9"/><rect x="86.9" y="132.7" width="1.9" height="1.9"/><rect x="107.6" y="150.1" width="1.9" height="1.9"/><rect x="108.2" y="130.0" width="1.9" height="1.9"/><rect x="103.3" y="130.9" width="1.9" height="1.9"/><rect x="76.5" y="135.8" width="1.9" height="1.9"/><rect x="117.4" y="131.7" width="1.9" height="1.9"/><rect x="115.1" y="143.1" width="1.9" height="1.9"/><rect x="104.2" y="139.4" width="1.9" height="1.9"/><rect x="68.3" y="150.9" width="1.9" height="1.9"/><rect x="76.2" y="139.7" width="1.9" height="1.9"/><rect x="111.2" y="116.9" width="1.9" height="1.9"/><rect x="99.5" y="138.0" width="1.9" height="1.9"/><rect x="79.2" y="119.1" width="1.9" height="1.9"/><rect x="91.9" y="125.9" width="1.9" height="1.9"/><rect x="118.7" y="142.9" width="1.9" height="1.9"/><rect x="110.8" y="142.2" width="1.9" height="1.9"/><rect x="91.1" y="133.7" width="1.9" height="1.9"/><rect x="81.7" y="122.7" width="1.9" height="1.9"/><rect x="107.8" y="140.3" width="1.9" height="1.9"/><rect x="117.1" y="137.4" width="1.9" height="1.9"/><rect x="79.1" y="127.6" width="1.9" height="1.9"/><rect x="67.6" y="114.6" width="1.9" height="1.9"/><rect x="80.7" y="121.6" width="1.9" height="1.9"/><rect x="83.3" y="117.2" width="1.9" height="1.9"/><rect x="118.0" y="115.8" width="1.9" height="1.9"/><rect x="116.0" y="141.0" width="1.9" height="1.9"/><rect x="119.9" y="139.4" width="1.9" height="1.9"/><rect x="66.0" y="113.8" width="1.9" height="1.9"/><rect x="120.4" y="136.1" width="1.9" height="1.9"/><rect x="117.6" y="136.0" width="1.9" height="1.9"/><rect x="109.5" y="134.8" width="1.9" height="1.9"/><rect x="86.8" y="146.5" width="1.9" height="1.9"/><rect x="101.0" y="128.5" width="1.9" height="1.9"/><rect x="86.6" y="129.1" width="1.9" height="1.9"/><rect x="72.8" y="119.7" width="1.9" height="1.9"/><rect x="118.2" y="147.3" width="1.9" height="1.9"/><rect x="69.9" y="117.5" width="1.9" height="1.9"/><rect x="94.9" y="135.3" width="1.9" height="1.9"/><rect x="87.6" y="124.9" width="1.9" height="1.9"/><rect x="65.9" y="129.3" width="1.9" height="1.9"/><rect x="83.2" y="126.7" width="1.9" height="1.9"/><rect x="67.9" y="111.5" width="1.9" height="1.9"/><rect x="119.6" y="139.9" width="1.9" height="1.9"/><rect x="112.2" y="148.8" width="1.9" height="1.9"/><rect x="116.9" y="118.9" width="1.9" height="1.9"/><rect x="104.5" y="122.9" width="1.9" height="1.9"/><rect x="82.1" y="111.2" width="1.9" height="1.9"/><rect x="59.3" y="153.3" width="1.9" height="1.9"/><rect x="97.4" y="118.0" width="1.9" height="1.9"/><rect x="119.7" y="144.3" width="1.9" height="1.9"/><rect x="96.0" y="127.9" width="1.9" height="1.9"/><rect x="101.1" y="124.0" width="1.9" height="1.9"/><rect x="113.7" y="120.9" width="1.9" height="1.9"/><rect x="95.3" y="144.5" width="1.9" height="1.9"/><rect x="67.8" y="115.9" width="1.9" height="1.9"/><rect x="99.5" y="121.0" width="1.9" height="1.9"/><rect x="100.9" y="141.8" width="1.9" height="1.9"/><rect x="108.1" y="148.2" width="1.9" height="1.9"/><rect x="101.0" y="111.1" width="1.9" height="1.9"/><rect x="123.9" y="118.4" width="1.9" height="1.9"/><rect x="92.1" y="127.9" width="1.9" height="1.9"/><rect x="116.3" y="145.6" width="1.9" height="1.9"/><rect x="87.0" y="142.6" width="1.9" height="1.9"/><rect x="116.6" y="131.9" width="1.9" height="1.9"/><rect x="71.6" y="118.3" width="1.9" height="1.9"/><rect x="108.5" y="112.7" width="1.9" height="1.9"/><rect x="81.7" y="123.8" width="1.9" height="1.9"/><rect x="93.8" y="119.6" width="1.9" height="1.9"/><rect x="77.3" y="138.5" width="1.9" height="1.9"/><rect x="92.5" y="144.6" width="1.9" height="1.9"/><rect x="93.4" y="129.4" width="1.9" height="1.9"/><rect x="78.8" y="125.8" width="1.9" height="1.9"/><rect x="114.9" y="113.6" width="1.9" height="1.9"/><rect x="105.8" y="133.6" width="1.9" height="1.9"/><rect x="92.5" y="115.4" width="1.9" height="1.9"/><rect x="107.6" y="128.3" width="1.9" height="1.9"/><rect x="104.2" y="121.0" width="1.9" height="1.9"/><rect x="111.8" y="113.1" width="1.9" height="1.9"/><rect x="78.9" y="116.5" width="1.9" height="1.9"/><rect x="115.1" y="133.2" width="1.9" height="1.9"/><rect x="123.0" y="139.0" width="1.9" height="1.9"/><rect x="122.0" y="128.1" width="1.9" height="1.9"/><rect x="113.2" y="123.3" width="1.9" height="1.9"/><rect x="104.8" y="138.6" width="1.9" height="1.9"/><rect x="103.4" y="146.5" width="1.9" height="1.9"/><rect x="65.5" y="124.6" width="1.9" height="1.9"/><rect x="77.9" y="120.6" width="1.9" height="1.9"/><rect x="59.3" y="127.1" width="1.9" height="1.9"/><rect x="122.5" y="153.1" width="1.9" height="1.9"/><rect x="96.8" y="139.9" width="1.9" height="1.9"/><rect x="112.9" y="142.0" width="1.9" height="1.9"/><rect x="102.0" y="119.3" width="1.9" height="1.9"/><rect x="80.8" y="121.8" width="1.9" height="1.9"/><rect x="108.4" y="149.1" width="1.9" height="1.9"/><rect x="91.1" y="121.7" width="1.9" height="1.9"/><rect x="77.2" y="136.2" width="1.9" height="1.9"/><rect x="78.5" y="115.9" width="1.9" height="1.9"/><rect x="98.1" y="139.1" width="1.9" height="1.9"/><rect x="115.1" y="153.8" width="1.9" height="1.9"/><rect x="108.9" y="113.8" width="1.9" height="1.9"/><rect x="94.4" y="133.1" width="1.9" height="1.9"/><rect x="101.9" y="133.8" width="1.9" height="1.9"/><rect x="91.8" y="144.5" width="1.9" height="1.9"/><rect x="77.7" y="148.5" width="1.9" height="1.9"/><rect x="113.0" y="137.7" width="1.9" height="1.9"/><rect x="120.4" y="141.1" width="1.9" height="1.9"/><rect x="116.8" y="147.7" width="1.9" height="1.9"/><rect x="81.2" y="130.2" width="1.9" height="1.9"/><rect x="78.2" y="127.6" width="1.9" height="1.9"/><rect x="123.3" y="133.0" width="1.9" height="1.9"/><rect x="98.6" y="128.0" width="1.9" height="1.9"/><rect x="122.8" y="112.4" width="1.9" height="1.9"/><rect x="109.2" y="142.8" width="1.9" height="1.9"/><rect x="77.6" y="138.8" width="1.9" height="1.9"/><rect x="88.9" y="145.3" width="1.9" height="1.9"/><rect x="101.6" y="140.3" width="1.9" height="1.9"/><rect x="79.4" y="135.3" width="1.9" height="1.9"/><rect x="112.6" y="126.1" width="1.9" height="1.9"/><rect x="79.9" y="113.4" width="1.9" height="1.9"/><rect x="82.2" y="133.2" width="1.9" height="1.9"/><rect x="86.3" y="128.6" width="1.9" height="1.9"/><rect x="119.2" y="152.8" width="1.9" height="1.9"/><rect x="72.1" y="124.2" width="1.9" height="1.9"/><rect x="111.0" y="136.1" width="1.9" height="1.9"/><rect x="120.6" y="119.9" width="1.9" height="1.9"/><rect x="68.5" y="127.9" width="1.9" height="1.9"/><rect x="69.9" y="122.1" width="1.9" height="1.9"/><rect x="65.2" y="119.4" width="1.9" height="1.9"/><rect x="156.6" y="111.8" width="1.9" height="1.9"/><rect x="156.4" y="119.6" width="1.9" height="1.9"/><rect x="165.9" y="137.2" width="1.9" height="1.9"/><rect x="149.4" y="163.6" width="1.9" height="1.9"/><rect x="178.3" y="116.6" width="1.9" height="1.9"/><rect x="180.9" y="142.9" width="1.9" height="1.9"/><rect x="179.5" y="113.9" width="1.9" height="1.9"/><rect x="178.4" y="124.9" width="1.9" height="1.9"/><rect x="129.1" y="148.8" width="1.9" height="1.9"/><rect x="124.7" y="133.4" width="1.9" height="1.9"/><rect x="124.5" y="114.9" width="1.9" height="1.9"/><rect x="155.9" y="153.0" width="1.9" height="1.9"/><rect x="184.2" y="140.8" width="1.9" height="1.9"/><rect x="177.1" y="126.2" width="1.9" height="1.9"/><rect x="154.6" y="161.3" width="1.9" height="1.9"/><rect x="159.5" y="158.0" width="1.9" height="1.9"/><rect x="177.1" y="125.1" width="1.9" height="1.9"/><rect x="122.9" y="112.8" width="1.9" height="1.9"/><rect x="185.4" y="142.7" width="1.9" height="1.9"/><rect x="150.6" y="126.9" width="1.9" height="1.9"/><rect x="155.5" y="151.7" width="1.9" height="1.9"/><rect x="180.2" y="153.5" width="1.9" height="1.9"/><rect x="138.2" y="161.1" width="1.9" height="1.9"/><rect x="173.7" y="146.9" width="1.9" height="1.9"/><rect x="177.8" y="138.2" width="1.9" height="1.9"/><rect x="183.2" y="134.5" width="1.9" height="1.9"/><rect x="188.3" y="113.8" width="1.9" height="1.9"/><rect x="131.0" y="141.2" width="1.9" height="1.9"/><rect x="161.5" y="158.1" width="1.9" height="1.9"/><rect x="129.4" y="150.8" width="1.9" height="1.9"/><rect x="171.7" y="145.7" width="1.9" height="1.9"/><rect x="123.4" y="156.3" width="1.9" height="1.9"/><rect x="173.1" y="133.3" width="1.9" height="1.9"/><rect x="123.2" y="122.3" width="1.9" height="1.9"/><rect x="156.9" y="141.7" width="1.9" height="1.9"/><rect x="172.1" y="116.2" width="1.9" height="1.9"/><rect x="135.0" y="160.2" width="1.9" height="1.9"/><rect x="123.9" y="131.0" width="1.9" height="1.9"/><rect x="167.8" y="116.0" width="1.9" height="1.9"/><rect x="121.6" y="146.5" width="1.9" height="1.9"/><rect x="137.8" y="130.2" width="1.9" height="1.9"/><rect x="153.2" y="128.1" width="1.9" height="1.9"/><rect x="150.6" y="150.1" width="1.9" height="1.9"/><rect x="169.4" y="116.9" width="1.9" height="1.9"/><rect x="149.8" y="137.3" width="1.9" height="1.9"/><rect x="135.2" y="140.1" width="1.9" height="1.9"/><rect x="151.5" y="141.1" width="1.9" height="1.9"/><rect x="132.4" y="117.5" width="1.9" height="1.9"/><rect x="177.3" y="115.5" width="1.9" height="1.9"/><rect x="180.9" y="142.0" width="1.9" height="1.9"/><rect x="124.3" y="122.8" width="1.9" height="1.9"/><rect x="177.4" y="156.9" width="1.9" height="1.9"/><rect x="160.2" y="118.9" width="1.9" height="1.9"/><rect x="174.3" y="123.1" width="1.9" height="1.9"/><rect x="158.3" y="129.8" width="1.9" height="1.9"/><rect x="140.4" y="129.1" width="1.9" height="1.9"/><rect x="170.1" y="162.2" width="1.9" height="1.9"/><rect x="158.5" y="113.5" width="1.9" height="1.9"/><rect x="160.8" y="126.2" width="1.9" height="1.9"/><rect x="174.8" y="137.0" width="1.9" height="1.9"/><rect x="150.5" y="118.0" width="1.9" height="1.9"/><rect x="172.0" y="149.5" width="1.9" height="1.9"/><rect x="138.0" y="115.8" width="1.9" height="1.9"/><rect x="186.9" y="138.3" width="1.9" height="1.9"/><rect x="166.2" y="134.4" width="1.9" height="1.9"/><rect x="156.6" y="161.4" width="1.9" height="1.9"/><rect x="174.6" y="151.2" width="1.9" height="1.9"/><rect x="179.0" y="117.4" width="1.9" height="1.9"/><rect x="142.4" y="118.7" width="1.9" height="1.9"/><rect x="138.9" y="115.5" width="1.9" height="1.9"/><rect x="126.6" y="123.7" width="1.9" height="1.9"/><rect x="136.0" y="127.1" width="1.9" height="1.9"/><rect x="170.0" y="123.8" width="1.9" height="1.9"/><rect x="156.6" y="159.7" width="1.9" height="1.9"/><rect x="147.3" y="160.7" width="1.9" height="1.9"/><rect x="129.4" y="113.2" width="1.9" height="1.9"/><rect x="155.5" y="111.5" width="1.9" height="1.9"/><rect x="178.9" y="140.9" width="1.9" height="1.9"/><rect x="175.6" y="111.6" width="1.9" height="1.9"/><rect x="130.7" y="112.0" width="1.9" height="1.9"/><rect x="128.1" y="123.2" width="1.9" height="1.9"/><rect x="180.9" y="136.8" width="1.9" height="1.9"/><rect x="189.0" y="139.9" width="1.9" height="1.9"/><rect x="182.8" y="123.9" width="1.9" height="1.9"/><rect x="192.6" y="118.9" width="1.9" height="1.9"/><rect x="145.6" y="157.4" width="1.9" height="1.9"/><rect x="153.9" y="123.2" width="1.9" height="1.9"/><rect x="127.6" y="133.6" width="1.9" height="1.9"/><rect x="148.4" y="138.5" width="1.9" height="1.9"/><rect x="188.3" y="142.2" width="1.9" height="1.9"/><rect x="173.1" y="115.8" width="1.9" height="1.9"/><rect x="150.6" y="121.4" width="1.9" height="1.9"/><rect x="164.3" y="161.9" width="1.9" height="1.9"/><rect x="183.9" y="136.8" width="1.9" height="1.9"/><rect x="124.3" y="149.2" width="1.9" height="1.9"/><rect x="142.7" y="134.0" width="1.9" height="1.9"/><rect x="168.5" y="160.6" width="1.9" height="1.9"/><rect x="192.5" y="141.4" width="1.9" height="1.9"/><rect x="157.1" y="149.7" width="1.9" height="1.9"/><rect x="173.7" y="137.8" width="1.9" height="1.9"/><rect x="189.5" y="136.7" width="1.9" height="1.9"/><rect x="180.6" y="114.7" width="1.9" height="1.9"/><rect x="174.4" y="140.0" width="1.9" height="1.9"/><rect x="166.6" y="118.6" width="1.9" height="1.9"/><rect x="183.5" y="132.8" width="1.9" height="1.9"/><rect x="153.6" y="159.6" width="1.9" height="1.9"/><rect x="167.3" y="135.5" width="1.9" height="1.9"/><rect x="174.2" y="153.0" width="1.9" height="1.9"/><rect x="182.7" y="116.3" width="1.9" height="1.9"/><rect x="157.3" y="138.8" width="1.9" height="1.9"/><rect x="139.6" y="130.4" width="1.9" height="1.9"/><rect x="163.5" y="151.3" width="1.9" height="1.9"/><rect x="157.1" y="154.7" width="1.9" height="1.9"/><rect x="157.1" y="126.6" width="1.9" height="1.9"/><rect x="164.0" y="123.8" width="1.9" height="1.9"/><rect x="125.3" y="151.4" width="1.9" height="1.9"/><rect x="170.6" y="125.0" width="1.9" height="1.9"/><rect x="172.3" y="126.1" width="1.9" height="1.9"/><rect x="133.4" y="119.8" width="1.9" height="1.9"/><rect x="169.6" y="125.7" width="1.9" height="1.9"/><rect x="121.0" y="160.5" width="1.9" height="1.9"/><rect x="154.4" y="162.3" width="1.9" height="1.9"/><rect x="165.4" y="149.8" width="1.9" height="1.9"/><rect x="155.7" y="131.0" width="1.9" height="1.9"/><rect x="175.6" y="158.7" width="1.9" height="1.9"/><rect x="153.1" y="162.4" width="1.9" height="1.9"/><rect x="128.0" y="156.5" width="1.9" height="1.9"/><rect x="132.4" y="119.8" width="1.9" height="1.9"/><rect x="161.6" y="115.8" width="1.9" height="1.9"/><rect x="161.6" y="142.6" width="1.9" height="1.9"/><rect x="135.7" y="142.5" width="1.9" height="1.9"/><rect x="151.5" y="135.3" width="1.9" height="1.9"/><rect x="138.1" y="141.8" width="1.9" height="1.9"/><rect x="163.3" y="119.2" width="1.9" height="1.9"/><rect x="173.9" y="132.8" width="1.9" height="1.9"/><rect x="160.2" y="137.4" width="1.9" height="1.9"/><rect x="165.1" y="148.5" width="1.9" height="1.9"/><rect x="128.0" y="127.3" width="1.9" height="1.9"/><rect x="144.9" y="114.5" width="1.9" height="1.9"/><rect x="151.0" y="136.1" width="1.9" height="1.9"/><rect x="128.9" y="156.9" width="1.9" height="1.9"/><rect x="176.4" y="122.7" width="1.9" height="1.9"/><rect x="180.1" y="146.4" width="1.9" height="1.9"/><rect x="154.2" y="115.8" width="1.9" height="1.9"/><rect x="175.3" y="121.8" width="1.9" height="1.9"/><rect x="133.3" y="155.1" width="1.9" height="1.9"/><rect x="131.3" y="148.2" width="1.9" height="1.9"/><rect x="138.6" y="119.9" width="1.9" height="1.9"/><rect x="177.2" y="129.3" width="1.9" height="1.9"/><rect x="133.0" y="143.3" width="1.9" height="1.9"/><rect x="170.2" y="124.3" width="1.9" height="1.9"/><rect x="180.3" y="149.8" width="1.9" height="1.9"/><rect x="122.3" y="139.4" width="1.9" height="1.9"/><rect x="129.3" y="123.5" width="1.9" height="1.9"/><rect x="135.0" y="150.7" width="1.9" height="1.9"/><rect x="146.6" y="125.6" width="1.9" height="1.9"/><rect x="141.1" y="114.5" width="1.9" height="1.9"/><rect x="174.9" y="124.9" width="1.9" height="1.9"/><rect x="172.3" y="160.3" width="1.9" height="1.9"/><rect x="129.5" y="153.5" width="1.9" height="1.9"/></g><g fill="#ff1c1c"><rect x="146.8" y="104.3" width="1.9" height="1.9"/><rect x="152.2" y="78.2" width="1.9" height="1.9"/><rect x="157.9" y="92.1" width="1.9" height="1.9"/><rect x="127.9" y="85.9" width="1.9" height="1.9"/><rect x="152.9" y="77.2" width="1.9" height="1.9"/><rect x="144.2" y="87.9" width="1.9" height="1.9"/><rect x="145.7" y="73.8" width="1.9" height="1.9"/><rect x="125.2" y="98.7" width="1.9" height="1.9"/><rect x="133.5" y="73.5" width="1.9" height="1.9"/><rect x="157.2" y="85.0" width="1.9" height="1.9"/><rect x="147.2" y="100.1" width="1.9" height="1.9"/><rect x="132.9" y="111.1" width="1.9" height="1.9"/><rect x="130.4" y="100.2" width="1.9" height="1.9"/><rect x="155.7" y="106.6" width="1.9" height="1.9"/><rect x="137.6" y="86.6" width="1.9" height="1.9"/><rect x="144.5" y="90.9" width="1.9" height="1.9"/><rect x="142.8" y="90.7" width="1.9" height="1.9"/><rect x="153.1" y="90.8" width="1.9" height="1.9"/><rect x="133.5" y="84.5" width="1.9" height="1.9"/><rect x="131.6" y="90.4" width="1.9" height="1.9"/><rect x="128.3" y="78.8" width="1.9" height="1.9"/><rect x="155.3" y="76.1" width="1.9" height="1.9"/><rect x="130.0" y="83.7" width="1.9" height="1.9"/><rect x="126.9" y="107.0" width="1.9" height="1.9"/><rect x="152.5" y="104.2" width="1.9" height="1.9"/><rect x="142.9" y="97.0" width="1.9" height="1.9"/><rect x="145.8" y="110.0" width="1.9" height="1.9"/><rect x="132.1" y="87.7" width="1.9" height="1.9"/><rect x="127.7" y="82.1" width="1.9" height="1.9"/><rect x="127.8" y="105.7" width="1.9" height="1.9"/><rect x="155.3" y="85.8" width="1.9" height="1.9"/><rect x="123.0" y="93.9" width="1.9" height="1.9"/><rect x="135.1" y="111.2" width="1.9" height="1.9"/><rect x="126.8" y="83.4" width="1.9" height="1.9"/><rect x="138.5" y="75.1" width="1.9" height="1.9"/><rect x="145.7" y="108.9" width="1.9" height="1.9"/><rect x="147.5" y="70.9" width="1.9" height="1.9"/><rect x="131.6" y="111.5" width="1.9" height="1.9"/><rect x="136.0" y="108.2" width="1.9" height="1.9"/><rect x="137.0" y="81.7" width="1.9" height="1.9"/><rect x="133.0" y="107.4" width="1.9" height="1.9"/><rect x="144.5" y="108.2" width="1.9" height="1.9"/><rect x="154.0" y="105.5" width="1.9" height="1.9"/><rect x="137.5" y="89.5" width="1.9" height="1.9"/><rect x="131.5" y="77.9" width="1.9" height="1.9"/><rect x="124.3" y="77.4" width="1.9" height="1.9"/><rect x="134.9" y="85.4" width="1.9" height="1.9"/><rect x="134.4" y="105.4" width="1.9" height="1.9"/><rect x="157.9" y="93.1" width="1.9" height="1.9"/><rect x="145.6" y="109.2" width="1.9" height="1.9"/><rect x="143.7" y="73.5" width="1.9" height="1.9"/><rect x="155.1" y="107.1" width="1.9" height="1.9"/><rect x="155.5" y="73.7" width="1.9" height="1.9"/><rect x="126.8" y="79.5" width="1.9" height="1.9"/><rect x="149.4" y="107.7" width="1.9" height="1.9"/><rect x="151.7" y="90.1" width="1.9" height="1.9"/><rect x="158.5" y="84.8" width="1.9" height="1.9"/><rect x="147.5" y="106.5" width="1.9" height="1.9"/><rect x="151.7" y="107.0" width="1.9" height="1.9"/><rect x="138.4" y="111.2" width="1.9" height="1.9"/><rect x="82.5" y="123.9" width="1.9" height="1.9"/><rect x="79.5" y="137.4" width="1.9" height="1.9"/><rect x="82.4" y="127.5" width="1.9" height="1.9"/><rect x="79.4" y="128.4" width="1.9" height="1.9"/><rect x="85.2" y="142.1" width="1.9" height="1.9"/><rect x="88.5" y="123.9" width="1.9" height="1.9"/><rect x="84.8" y="126.1" width="1.9" height="1.9"/><rect x="85.2" y="125.3" width="1.9" height="1.9"/><rect x="84.4" y="127.9" width="1.9" height="1.9"/><rect x="82.5" y="141.1" width="1.9" height="1.9"/><rect x="89.0" y="141.6" width="1.9" height="1.9"/><rect x="85.1" y="132.9" width="1.9" height="1.9"/><rect x="81.5" y="123.4" width="1.9" height="1.9"/><rect x="87.5" y="135.6" width="1.9" height="1.9"/><rect x="80.5" y="128.6" width="1.9" height="1.9"/><rect x="80.8" y="122.3" width="1.9" height="1.9"/><rect x="94.6" y="127.1" width="1.9" height="1.9"/><rect x="78.6" y="129.3" width="1.9" height="1.9"/><rect x="78.9" y="135.6" width="1.9" height="1.9"/><rect x="82.4" y="143.1" width="1.9" height="1.9"/><rect x="85.7" y="129.8" width="1.9" height="1.9"/><rect x="86.8" y="130.5" width="1.9" height="1.9"/><rect x="82.8" y="124.8" width="1.9" height="1.9"/><rect x="78.5" y="141.7" width="1.9" height="1.9"/><rect x="94.5" y="138.1" width="1.9" height="1.9"/><rect x="95.1" y="130.8" width="1.9" height="1.9"/><rect x="84.1" y="138.1" width="1.9" height="1.9"/><rect x="77.6" y="138.6" width="1.9" height="1.9"/><rect x="93.3" y="128.5" width="1.9" height="1.9"/><rect x="86.5" y="131.9" width="1.9" height="1.9"/><rect x="83.7" y="131.3" width="1.9" height="1.9"/><rect x="91.9" y="142.2" width="1.9" height="1.9"/><rect x="94.6" y="136.8" width="1.9" height="1.9"/><rect x="86.5" y="141.8" width="1.9" height="1.9"/><rect x="84.7" y="131.5" width="1.9" height="1.9"/><rect x="91.6" y="131.9" width="1.9" height="1.9"/><rect x="82.0" y="123.5" width="1.9" height="1.9"/><rect x="82.0" y="132.1" width="1.9" height="1.9"/><rect x="86.2" y="142.4" width="1.9" height="1.9"/><rect x="79.4" y="133.8" width="1.9" height="1.9"/><rect x="147.6" y="134.6" width="1.9" height="1.9"/><rect x="156.3" y="131.8" width="1.9" height="1.9"/><rect x="138.6" y="122.4" width="1.9" height="1.9"/><rect x="144.2" y="122.1" width="1.9" height="1.9"/><rect x="138.7" y="106.7" width="1.9" height="1.9"/><rect x="110.3" y="124.9" width="1.9" height="1.9"/><rect x="173.9" y="156.3" width="1.9" height="1.9"/><rect x="135.8" y="117.5" width="1.9" height="1.9"/><rect x="75.4" y="110.1" width="1.9" height="1.9"/><rect x="119.7" y="148.3" width="1.9" height="1.9"/><rect x="102.8" y="109.5" width="1.9" height="1.9"/><rect x="97.7" y="141.1" width="1.9" height="1.9"/><rect x="68.1" y="158.7" width="1.9" height="1.9"/><rect x="127.8" y="156.0" width="1.9" height="1.9"/><rect x="144.7" y="131.0" width="1.9" height="1.9"/><rect x="124.0" y="122.5" width="1.9" height="1.9"/><rect x="72.8" y="112.0" width="1.9" height="1.9"/><rect x="131.6" y="128.6" width="1.9" height="1.9"/><rect x="91.0" y="138.8" width="1.9" height="1.9"/><rect x="134.0" y="106.7" width="1.9" height="1.9"/><rect x="143.6" y="150.1" width="1.9" height="1.9"/><rect x="84.6" y="139.7" width="1.9" height="1.9"/><rect x="114.2" y="143.3" width="1.9" height="1.9"/><rect x="91.3" y="108.0" width="1.9" height="1.9"/><rect x="164.0" y="158.3" width="1.9" height="1.9"/><rect x="150.7" y="143.1" width="1.9" height="1.9"/><rect x="123.8" y="106.1" width="1.9" height="1.9"/><rect x="117.3" y="153.5" width="1.9" height="1.9"/><rect x="164.6" y="114.1" width="1.9" height="1.9"/><rect x="105.1" y="123.2" width="1.9" height="1.9"/><rect x="113.0" y="142.3" width="1.9" height="1.9"/><rect x="73.9" y="125.1" width="1.9" height="1.9"/><rect x="163.6" y="107.3" width="1.9" height="1.9"/><rect x="172.1" y="115.4" width="1.9" height="1.9"/><rect x="157.4" y="106.4" width="1.9" height="1.9"/><rect x="134.9" y="125.0" width="1.9" height="1.9"/><rect x="137.2" y="105.4" width="1.9" height="1.9"/><rect x="135.8" y="126.1" width="1.9" height="1.9"/><rect x="71.9" y="125.3" width="1.9" height="1.9"/><rect x="71.1" y="153.5" width="1.9" height="1.9"/><rect x="126.4" y="120.2" width="1.9" height="1.9"/><rect x="82.7" y="139.8" width="1.9" height="1.9"/><rect x="149.1" y="130.8" width="1.9" height="1.9"/><rect x="87.0" y="130.6" width="1.9" height="1.9"/><rect x="77.0" y="142.4" width="1.9" height="1.9"/><rect x="109.0" y="144.5" width="1.9" height="1.9"/><rect x="117.2" y="126.7" width="1.9" height="1.9"/><rect x="156.2" y="151.0" width="1.9" height="1.9"/><rect x="77.0" y="145.6" width="1.9" height="1.9"/><rect x="142.1" y="121.1" width="1.9" height="1.9"/><rect x="171.8" y="146.9" width="1.9" height="1.9"/><rect x="120.8" y="133.1" width="1.9" height="1.9"/><rect x="116.2" y="124.8" width="1.9" height="1.9"/><rect x="84.0" y="129.5" width="1.9" height="1.9"/><rect x="145.7" y="140.0" width="1.9" height="1.9"/><rect x="148.6" y="127.2" width="1.9" height="1.9"/><rect x="135.2" y="106.6" width="1.9" height="1.9"/><rect x="138.2" y="111.9" width="1.9" height="1.9"/><rect x="109.9" y="120.4" width="1.9" height="1.9"/><rect x="94.1" y="133.5" width="1.9" height="1.9"/><rect x="162.0" y="142.4" width="1.9" height="1.9"/><rect x="139.8" y="146.5" width="1.9" height="1.9"/><rect x="155.2" y="137.4" width="1.9" height="1.9"/><rect x="160.8" y="139.5" width="1.9" height="1.9"/><rect x="161.7" y="135.4" width="1.9" height="1.9"/><rect x="162.1" y="153.2" width="1.9" height="1.9"/><rect x="153.0" y="130.9" width="1.9" height="1.9"/><rect x="150.8" y="141.8" width="1.9" height="1.9"/><rect x="169.7" y="141.8" width="1.9" height="1.9"/><rect x="149.8" y="158.8" width="1.9" height="1.9"/><rect x="158.3" y="148.8" width="1.9" height="1.9"/><rect x="157.5" y="154.1" width="1.9" height="1.9"/><rect x="151.5" y="147.4" width="1.9" height="1.9"/><rect x="160.7" y="162.7" width="1.9" height="1.9"/><rect x="163.6" y="160.8" width="1.9" height="1.9"/><rect x="151.3" y="143.5" width="1.9" height="1.9"/><rect x="152.7" y="147.8" width="1.9" height="1.9"/><rect x="156.9" y="133.1" width="1.9" height="1.9"/><rect x="157.1" y="140.0" width="1.9" height="1.9"/><rect x="142.8" y="139.8" width="1.9" height="1.9"/><rect x="152.4" y="144.5" width="1.9" height="1.9"/><rect x="166.0" y="155.3" width="1.9" height="1.9"/><rect x="163.7" y="154.8" width="1.9" height="1.9"/><rect x="134.8" y="139.9" width="1.9" height="1.9"/><rect x="149.7" y="145.8" width="1.9" height="1.9"/><rect x="148.2" y="139.4" width="1.9" height="1.9"/><rect x="165.6" y="137.8" width="1.9" height="1.9"/><rect x="147.8" y="135.2" width="1.9" height="1.9"/><rect x="167.6" y="156.4" width="1.9" height="1.9"/><rect x="151.9" y="131.8" width="1.9" height="1.9"/><rect x="150.9" y="129.2" width="1.9" height="1.9"/><rect x="151.6" y="146.3" width="1.9" height="1.9"/><rect x="134.2" y="144.9" width="1.9" height="1.9"/><rect x="171.6" y="152.0" width="1.9" height="1.9"/><rect x="154.1" y="142.0" width="1.9" height="1.9"/><rect x="146.6" y="151.4" width="1.9" height="1.9"/><rect x="151.8" y="154.4" width="1.9" height="1.9"/><rect x="161.0" y="144.0" width="1.9" height="1.9"/><rect x="172.6" y="148.2" width="1.9" height="1.9"/><rect x="149.0" y="135.4" width="1.9" height="1.9"/><rect x="137.7" y="144.9" width="1.9" height="1.9"/><rect x="130.3" y="139.0" width="1.9" height="1.9"/><rect x="167.5" y="143.5" width="1.9" height="1.9"/><rect x="152.2" y="155.7" width="1.9" height="1.9"/><rect x="136.9" y="133.3" width="1.9" height="1.9"/><rect x="148.7" y="140.6" width="1.9" height="1.9"/><rect x="157.3" y="150.1" width="1.9" height="1.9"/><rect x="145.4" y="142.7" width="1.9" height="1.9"/><rect x="155.6" y="151.9" width="1.9" height="1.9"/><rect x="153.6" y="130.4" width="1.9" height="1.9"/><rect x="139.4" y="137.9" width="1.9" height="1.9"/><rect x="129.2" y="137.3" width="1.9" height="1.9"/><rect x="143.0" y="134.3" width="1.9" height="1.9"/><rect x="162.8" y="142.4" width="1.9" height="1.9"/><rect x="149.5" y="128.7" width="1.9" height="1.9"/><rect x="159.4" y="156.8" width="1.9" height="1.9"/><rect x="161.0" y="162.9" width="1.9" height="1.9"/><rect x="153.2" y="153.0" width="1.9" height="1.9"/><rect x="161.8" y="131.9" width="1.9" height="1.9"/><rect x="157.5" y="143.8" width="1.9" height="1.9"/><rect x="151.7" y="141.3" width="1.9" height="1.9"/><rect x="148.0" y="136.6" width="1.9" height="1.9"/><rect x="130.5" y="137.6" width="1.9" height="1.9"/><rect x="156.8" y="153.0" width="1.9" height="1.9"/><rect x="162.7" y="161.3" width="1.9" height="1.9"/><rect x="130.0" y="136.9" width="1.9" height="1.9"/><rect x="165.4" y="138.7" width="1.9" height="1.9"/><rect x="134.7" y="143.7" width="1.9" height="1.9"/><rect x="147.6" y="156.4" width="1.9" height="1.9"/><rect x="143.4" y="140.0" width="1.9" height="1.9"/><rect x="160.3" y="143.4" width="1.9" height="1.9"/><rect x="169.2" y="137.8" width="1.9" height="1.9"/><rect x="158.6" y="152.3" width="1.9" height="1.9"/><rect x="142.4" y="147.8" width="1.9" height="1.9"/><rect x="136.0" y="136.9" width="1.9" height="1.9"/><rect x="155.9" y="140.3" width="1.9" height="1.9"/><rect x="153.0" y="130.4" width="1.9" height="1.9"/><rect x="142.7" y="148.5" width="1.9" height="1.9"/><rect x="139.0" y="130.5" width="1.9" height="1.9"/><rect x="169.1" y="147.8" width="1.9" height="1.9"/><rect x="122.3" y="145.1" width="1.9" height="1.9"/><rect x="118.4" y="148.0" width="1.9" height="1.9"/><rect x="115.5" y="147.9" width="1.9" height="1.9"/><rect x="121.8" y="148.9" width="1.9" height="1.9"/><rect x="116.6" y="149.2" width="1.9" height="1.9"/><rect x="118.0" y="143.2" width="1.9" height="1.9"/><rect x="124.3" y="142.4" width="1.9" height="1.9"/><rect x="121.4" y="145.7" width="1.9" height="1.9"/><rect x="124.4" y="146.9" width="1.9" height="1.9"/><rect x="116.8" y="149.4" width="1.9" height="1.9"/><rect x="108.1" y="136.8" width="1.9" height="1.9"/><rect x="123.1" y="129.5" width="1.9" height="1.9"/><rect x="121.8" y="121.9" width="1.9" height="1.9"/><rect x="96.9" y="129.2" width="1.9" height="1.9"/><rect x="109.1" y="134.8" width="1.9" height="1.9"/><rect x="117.6" y="133.8" width="1.9" height="1.9"/><rect x="114.7" y="130.1" width="1.9" height="1.9"/><rect x="105.9" y="124.4" width="1.9" height="1.9"/><rect x="120.4" y="119.3" width="1.9" height="1.9"/><rect x="100.9" y="132.3" width="1.9" height="1.9"/><rect x="116.8" y="122.8" width="1.9" height="1.9"/><rect x="107.0" y="117.1" width="1.9" height="1.9"/><rect x="123.0" y="133.6" width="1.9" height="1.9"/><rect x="102.1" y="137.8" width="1.9" height="1.9"/><rect x="97.8" y="122.9" width="1.9" height="1.9"/><rect x="103.2" y="129.8" width="1.9" height="1.9"/><rect x="118.0" y="139.4" width="1.9" height="1.9"/><rect x="96.4" y="130.1" width="1.9" height="1.9"/><rect x="111.5" y="123.9" width="1.9" height="1.9"/><rect x="96.4" y="134.5" width="1.9" height="1.9"/><rect x="117.0" y="127.7" width="1.9" height="1.9"/><rect x="113.0" y="134.4" width="1.9" height="1.9"/><rect x="106.8" y="140.7" width="1.9" height="1.9"/><rect x="97.8" y="117.5" width="1.9" height="1.9"/><rect x="98.8" y="137.7" width="1.9" height="1.9"/></g><g fill="none" stroke="#3b74aa" stroke-width="2.35" stroke-linejoin="round"><path d="M113.5,139.5 C116,135.5 124,136.5 128.5,140.5 C132,144 130.5,152 126,154 C121.5,155.5 115.5,152.5 113.5,148.5 C112,145.5 112,142 113.5,139.5 Z"/><path d="M126.4,133.1 L128.8,130.6 L137.9,129 L144.5,127.3 L152.7,128.1 L161,129.8 L167.6,133.9 L172.5,139.7 L176.6,143 L177.5,149.6 L175,155.8 L171,161.5 L166.2,166.3 L160.5,168.3 L154.5,167.5 L150.7,164.7 L147.4,159 L144.9,154.2 L139.6,151.2 L135.4,147.9 L132.1,142.1 L128.8,138 Z"/></g><rect x="20" y="18.85" width="243.00" height="169.80" fill="none" stroke="#111" stroke-width="1.8"/><g stroke="#111" stroke-width="1.2"><line x1="55.3" y1="15.6" x2="55.3" y2="18.85"/><line x1="143.6" y1="15.6" x2="143.6" y2="18.85"/><line x1="231.5" y1="15.6" x2="231.5" y2="18.85"/><line x1="53.4" y1="188.65" x2="53.4" y2="191.85"/><line x1="145.0" y1="188.65" x2="145.0" y2="191.85"/><line x1="237.8" y1="188.65" x2="237.8" y2="191.85"/><line x1="16.9" y1="76.9" x2="20" y2="76.9"/><line x1="16.9" y1="135.7" x2="20" y2="135.7"/><line x1="263.00" y1="75.4" x2="266.20" y2="75.4"/><line x1="263.00" y1="134.3" x2="266.20" y2="134.3"/></g><g font-family="'Liberation Sans', Arial, sans-serif"><text x="55.5" y="14.6" font-size="7.80" text-anchor="middle" fill="#262626" stroke="#262626" stroke-width="0.25">100°E</text><text x="143.3" y="14.6" font-size="7.80" text-anchor="middle" fill="#262626" stroke="#262626" stroke-width="0.25">102°E</text><text x="231.6" y="14.6" font-size="7.80" text-anchor="middle" fill="#262626" stroke="#262626" stroke-width="0.25">104°E</text><text x="14.9" y="76.8" font-size="7.80" text-anchor="middle" fill="#262626" stroke="#262626" stroke-width="0.25" transform="rotate(-90 14.9 76.8)">41°N</text><text x="14.9" y="135.9" font-size="7.80" text-anchor="middle" fill="#262626" stroke="#262626" stroke-width="0.25" transform="rotate(-90 14.9 135.9)">40°N</text><text x="23.6" y="30.6" font-size="8.10" text-anchor="start" fill="#1a1a1a" stroke="#1a1a1a" stroke-width="0.15" font-weight="bold">Steep Slope (°)</text><rect x="31.9" y="39.6" width="1.8" height="1.8" fill="#e2f21c"/><text x="46.2" y="43.0" font-size="7.90" text-anchor="start" fill="#262626" stroke="#262626" stroke-width="0.25">25.0 - 30.0</text><rect x="31.9" y="52.4" width="1.8" height="1.8" fill="#10d224"/><text x="46.2" y="55.8" font-size="7.90" text-anchor="start" fill="#262626" stroke="#262626" stroke-width="0.25">30.0 - 31.5</text><rect x="31.9" y="65.0" width="1.8" height="1.8" fill="#ff1c1c"/><text x="46.2" y="68.5" font-size="7.90" text-anchor="start" fill="#262626" stroke="#262626" stroke-width="0.25">&gt; 31.5</text><path d="M199.4,35.6 V30.8 H226.3 V35.2 H252.6 V30.1" fill="none" stroke="#1a1a1a" stroke-width="1.2"/><text x="252.6" y="28.1" font-size="7.80" text-anchor="middle" fill="#262626" stroke="#262626" stroke-width="0.25">km</text><text x="199.2" y="44.9" font-size="7.80" text-anchor="middle" fill="#262626" stroke="#262626" stroke-width="0.25">0</text><text x="226.0" y="44.9" font-size="7.80" text-anchor="middle" fill="#262626" stroke="#262626" stroke-width="0.25">50</text><text x="252.6" y="44.9" font-size="7.80" text-anchor="middle" fill="#262626" stroke="#262626" stroke-width="0.25">100</text><text x="92.5" y="155.5" font-size="7.80" text-anchor="start" fill="#262626" stroke="#262626" stroke-width="0.25" transform="rotate(26.5 92.5 155.5)">Beida Mts</text><text x="182.5" y="159.5" font-size="7.80" text-anchor="start" fill="#262626" stroke="#262626" stroke-width="0.25" transform="rotate(-34 182.5 159.5)">Yabulai Mts</text><g transform="translate(-1.40 0.95)"><text x="212.9" y="149.1" font-size="6.80" text-anchor="start" fill="#1a1a1a" stroke="#1a1a1a" stroke-width="0.15" font-weight="bold">Altitude (m)</text><rect x="212.9" y="155.8" width="7.3" height="25.8" fill="url(#cbar)"/><text x="226.9" y="158.3" font-size="6.70" text-anchor="start" fill="#262626" stroke="#262626" stroke-width="0.25">High : 1774</text><text x="226.9" y="183.8" font-size="6.70" text-anchor="start" fill="#262626" stroke="#262626" stroke-width="0.25">Low : 869</text></g><rect x="23.7" y="177.4" width="18.8" height="7.9" rx="1.4" fill="#fff" stroke="#3c88c8" stroke-width="2.4"/><text x="50.3" y="184.4" font-size="8.20" text-anchor="start" fill="#262626" stroke="#262626" stroke-width="0.25">Lake Group Area</text></g></g><text x="9.4" y="209.6" font-size="10.2" fill="#2a2a2a" stroke="#2a2a2a" stroke-width="0.3" font-family="'Liberation Sans', Arial, sans-serif">(c)</text><g font-family="'Liberation Sans', Arial, sans-serif"><line x1="317" y1="323.6" x2="536.1" y2="323.6" stroke="#d2d2d2" stroke-width="1"/><line x1="317" y1="292.8" x2="536.1" y2="292.8" stroke="#d2d2d2" stroke-width="1"/><line x1="317" y1="262.1" x2="536.1" y2="262.1" stroke="#d2d2d2" stroke-width="1"/><line x1="317" y1="231.3" x2="536.1" y2="231.3" stroke="#d2d2d2" stroke-width="1"/><line x1="317" y1="200.6" x2="536.1" y2="200.6" stroke="#d2d2d2" stroke-width="1"/><rect x="320.1" y="263.6" width="8" height="90.7" fill="#ee8350"/><rect x="328.9" y="304.2" width="8" height="50.1" fill="#1a82da"/><rect x="341.9" y="242.1" width="8" height="112.2" fill="#ee8350"/><rect x="350.7" y="265.2" width="8" height="89.1" fill="#1a82da"/><rect x="363.8" y="297.1" width="8" height="57.2" fill="#ee8350"/><rect x="372.6" y="286.1" width="8" height="68.2" fill="#1a82da"/><rect x="385.6" y="328.8" width="8" height="25.5" fill="#ee8350"/><rect x="394.4" y="311.6" width="8" height="42.7" fill="#1a82da"/><rect x="407.5" y="343.8" width="8" height="10.5" fill="#ee8350"/><rect x="416.3" y="330.0" width="8" height="24.3" fill="#1a82da"/><rect x="429.3" y="350.0" width="8" height="4.3" fill="#ee8350"/><rect x="438.1" y="340.8" width="8" height="13.5" fill="#1a82da"/><rect x="451.1" y="352.8" width="8" height="1.5" fill="#ee8350"/><rect x="459.9" y="346.6" width="8" height="7.7" fill="#1a82da"/><rect x="481.8" y="350.6" width="8" height="3.7" fill="#1a82da"/><rect x="503.6" y="353.1" width="8" height="1.2" fill="#1a82da"/><g stroke="#222" stroke-width="1.1"><line x1="311" y1="200.3" x2="311" y2="354.8"/><line x1="307.2" y1="354.3" x2="311" y2="354.3"/><line x1="308.5" y1="338.9" x2="311" y2="338.9"/><line x1="307.2" y1="323.6" x2="311" y2="323.6"/><line x1="308.5" y1="308.2" x2="311" y2="308.2"/><line x1="307.2" y1="292.8" x2="311" y2="292.8"/><line x1="308.5" y1="277.5" x2="311" y2="277.5"/><line x1="307.2" y1="262.1" x2="311" y2="262.1"/><line x1="308.5" y1="246.7" x2="311" y2="246.7"/><line x1="307.2" y1="231.3" x2="311" y2="231.3"/><line x1="308.5" y1="216.0" x2="311" y2="216.0"/><line x1="307.2" y1="200.6" x2="311" y2="200.6"/><line x1="317.2" y1="357" x2="536.6" y2="357"/><line x1="317.7" y1="357" x2="317.7" y2="360.6"/><line x1="339.5" y1="357" x2="339.5" y2="360.6"/><line x1="361.4" y1="357" x2="361.4" y2="360.6"/><line x1="383.2" y1="357" x2="383.2" y2="360.6"/><line x1="405.1" y1="357" x2="405.1" y2="360.6"/><line x1="426.9" y1="357" x2="426.9" y2="360.6"/><line x1="448.7" y1="357" x2="448.7" y2="360.6"/><line x1="470.6" y1="357" x2="470.6" y2="360.6"/><line x1="492.4" y1="357" x2="492.4" y2="360.6"/><line x1="514.3" y1="357" x2="514.3" y2="360.6"/><line x1="536.1" y1="357" x2="536.1" y2="360.6"/></g><text x="300.3" y="357.1" font-size="8.10" text-anchor="end" fill="#262626" stroke="#262626" stroke-width="0.25">0</text><text x="300.3" y="326.4" font-size="8.10" text-anchor="end" fill="#262626" stroke="#262626" stroke-width="0.25">0.1</text><text x="300.3" y="295.6" font-size="8.10" text-anchor="end" fill="#262626" stroke="#262626" stroke-width="0.25">0.2</text><text x="300.3" y="264.9" font-size="8.10" text-anchor="end" fill="#262626" stroke="#262626" stroke-width="0.25">0.3</text><text x="300.3" y="234.1" font-size="8.10" text-anchor="end" fill="#262626" stroke="#262626" stroke-width="0.25">0.4</text><text x="300.3" y="203.4" font-size="8.10" text-anchor="end" fill="#262626" stroke="#262626" stroke-width="0.25">0.5</text><text x="317.7" y="375.2" font-size="7.90" text-anchor="middle" fill="#262626" stroke="#262626" stroke-width="0.25">0</text><text x="339.5" y="375.2" font-size="7.90" text-anchor="middle" fill="#262626" stroke="#262626" stroke-width="0.25">5</text><text x="361.4" y="375.2" font-size="7.90" text-anchor="middle" fill="#262626" stroke="#262626" stroke-width="0.25">10</text><text x="383.2" y="375.2" font-size="7.90" text-anchor="middle" fill="#262626" stroke="#262626" stroke-width="0.25">15</text><text x="405.1" y="375.2" font-size="7.90" text-anchor="middle" fill="#262626" stroke="#262626" stroke-width="0.25">20</text><text x="426.9" y="375.2" font-size="7.90" text-anchor="middle" fill="#262626" stroke="#262626" stroke-width="0.25">25</text><text x="448.7" y="375.2" font-size="7.90" text-anchor="middle" fill="#262626" stroke="#262626" stroke-width="0.25">30</text><text x="470.6" y="375.2" font-size="7.90" text-anchor="middle" fill="#262626" stroke="#262626" stroke-width="0.25">35</text><text x="492.4" y="375.2" font-size="7.90" text-anchor="middle" fill="#262626" stroke="#262626" stroke-width="0.25">40</text><text x="514.3" y="375.2" font-size="7.90" text-anchor="middle" fill="#262626" stroke="#262626" stroke-width="0.25">45</text><text x="536.1" y="375.2" font-size="7.90" text-anchor="middle" fill="#262626" stroke="#262626" stroke-width="0.25">50</text><text x="427.0" y="384.8" font-size="8.20" text-anchor="middle" fill="#262626" stroke="#262626" stroke-width="0.25">Slope Section (°)</text><text x="280.2" y="276.7" font-size="8.20" text-anchor="middle" fill="#262626" stroke="#262626" stroke-width="0.25" transform="rotate(-90 280.2 276.7)">Proportion</text><text x="316.2" y="211.2" font-size="10.00" text-anchor="start" fill="#333" stroke="#333" stroke-width="0.25">(d)</text><text x="333.5" y="227.4" font-size="8.00" text-anchor="start" fill="#262626" stroke="#262626" stroke-width="0.25">N &gt; L</text><text x="368.2" y="227.4" font-size="8.00" text-anchor="start" fill="#262626" stroke="#262626" stroke-width="0.25">N &lt; L</text><line x1="361" y1="220.7" x2="361" y2="330" stroke="#333" stroke-width="1.5" stroke-dasharray="8.5 10.9"/><rect x="433.5" y="233.3" width="102.8" height="24.8" fill="#fff" stroke="#b4b4b4" stroke-width="0.9"/><rect x="438.9" y="238.5" width="16.1" height="5.4" fill="#ee8350"/><rect x="438.9" y="247.8" width="16.1" height="5.4" fill="#1a82da"/><text x="459.7" y="243.6" font-size="6.60" text-anchor="start" fill="#262626" stroke="#262626" stroke-width="0.25">Non-Lake Group Area, N</text><text x="459.7" y="252.8" font-size="6.60" text-anchor="start" fill="#262626" stroke="#262626" stroke-width="0.25">Lake Group Area, L</text></g></svg></body></html>
